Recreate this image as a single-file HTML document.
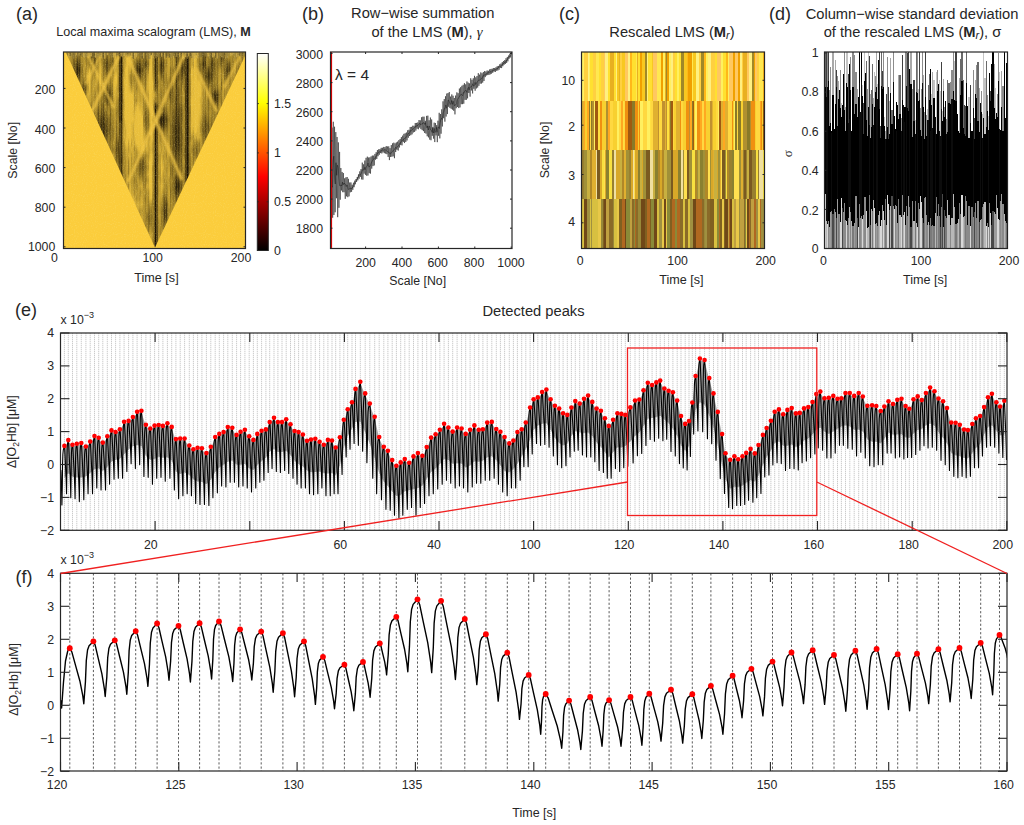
<!DOCTYPE html>
<html><head><meta charset="utf-8"><style>html,body{margin:0;padding:0;background:#fff;width:1024px;height:825px;overflow:hidden}svg{display:block}</style></head>
<body><svg width="1024" height="825" viewBox="0 0 1024 825" font-family="Liberation Sans, sans-serif">
<rect width="1024" height="825" fill="#fff"/>
<defs>
<linearGradient id="hot" x1="0" y1="1" x2="0" y2="0">
<stop offset="0" stop-color="#000"/><stop offset="0.375" stop-color="#f00"/><stop offset="0.75" stop-color="#ff0"/><stop offset="1" stop-color="#fff"/>
</linearGradient>
<filter id="bl1" filterUnits="userSpaceOnUse" x="0" y="0" width="1024" height="825"><feGaussianBlur stdDeviation="1.3"/></filter>
<filter id="bl2" filterUnits="userSpaceOnUse" x="0" y="0" width="1024" height="825"><feGaussianBlur stdDeviation="2.5"/></filter>
<filter id="bl07" filterUnits="userSpaceOnUse" x="0" y="0" width="1024" height="825"><feGaussianBlur stdDeviation="0.9"/></filter>
<filter id="bl05" filterUnits="userSpaceOnUse" x="0" y="0" width="1024" height="825"><feGaussianBlur stdDeviation="0.7"/></filter>
<filter id="noise" filterUnits="userSpaceOnUse" x="63" y="52" width="183" height="197"><feTurbulence type="fractalNoise" baseFrequency="0.9" numOctaves="1" seed="3" result="t"/><feColorMatrix type="matrix" values="0 0 0 0 1  0 0 0 0 0.85  0 0 0 0 0.3  1.6 0 0 0 -0.8"/></filter>
<clipPath id="tri"><polygon points="66,52.5 245,52.5 245,56 155,247.5"/></clipPath>
<clipPath id="boxa"><rect x="63.5" y="52" width="182" height="196.5"/></clipPath>
<clipPath id="boxe"><rect x="60.5" y="333" width="946.5" height="197.3"/></clipPath>
<clipPath id="boxf"><rect x="60.5" y="573.3" width="946.5" height="197.7"/></clipPath>
<clipPath id="boxb"><rect x="330.5" y="52" width="181.5" height="196.5"/></clipPath>
<clipPath id="boxd"><rect x="824.5" y="52" width="183" height="196.5"/></clipPath>
</defs>
<text x="27.0" y="20.3" font-size="18" text-anchor="middle" fill="#262626" >(a)</text>
<text x="153.5" y="36.2" font-size="12.6" text-anchor="middle" fill="#262626" >Local maxima scalogram (LMS), <tspan font-weight="bold">M</tspan></text>
<text x="313.0" y="20.3" font-size="18" text-anchor="middle" fill="#262626" >(b)</text>
<text x="422.7" y="18.4" font-size="14.7" text-anchor="middle" fill="#262626" >Row−wise summation</text>
<text x="427.0" y="36.8" font-size="14.7" text-anchor="middle" fill="#262626" >of the LMS (<tspan font-weight="bold">M</tspan>), <tspan font-family="Liberation Serif" font-style="italic">γ</tspan></text>
<text x="569.5" y="20.3" font-size="18" text-anchor="middle" fill="#262626" >(c)</text>
<text x="672.0" y="36.8" font-size="14.7" text-anchor="middle" fill="#262626" >Rescaled LMS (<tspan font-weight="bold">M</tspan><tspan font-style="italic" font-size="11" dy="2">r</tspan><tspan dy="-2">)</tspan></text>
<text x="780.0" y="20.3" font-size="18" text-anchor="middle" fill="#262626" >(d)</text>
<text x="912.0" y="18.8" font-size="14.7" text-anchor="middle" fill="#262626" >Column−wise standard deviation</text>
<text x="912.5" y="36.8" font-size="14.7" text-anchor="middle" fill="#262626" >of the rescaled LMS (<tspan font-weight="bold">M</tspan><tspan font-style="italic" font-size="11" dy="2">r</tspan><tspan dy="-2">), σ</tspan></text>
<text x="26.0" y="315.8" font-size="18" text-anchor="middle" fill="#262626" >(e)</text>
<text x="533.5" y="315.8" font-size="14.7" text-anchor="middle" fill="#262626" >Detected peaks</text>
<text x="24.0" y="583.4" font-size="18" text-anchor="middle" fill="#262626" >(f)</text>
<g clip-path="url(#boxa)">
<rect x="63.5" y="52" width="182" height="196.5" fill="#fbcd3c"/>
</g>
<g clip-path="url(#tri)">
<defs><linearGradient id="g0" gradientUnits="userSpaceOnUse" x1="0" y1="52" x2="0" y2="247.2"><stop offset="0.000" stop-color="#bc9930"/><stop offset="0.031" stop-color="#a7882b"/><stop offset="0.062" stop-color="#bf9c31"/><stop offset="0.094" stop-color="#ac8c2c"/><stop offset="0.125" stop-color="#b3922e"/><stop offset="0.156" stop-color="#c09c31"/><stop offset="0.188" stop-color="#ad8d2c"/><stop offset="0.219" stop-color="#c19d31"/><stop offset="0.250" stop-color="#b08f2d"/><stop offset="0.281" stop-color="#bf9c31"/><stop offset="0.312" stop-color="#be9b31"/><stop offset="0.344" stop-color="#b1902d"/><stop offset="0.375" stop-color="#a08229"/><stop offset="0.406" stop-color="#bd9a30"/><stop offset="0.438" stop-color="#b9972f"/><stop offset="0.469" stop-color="#a8892b"/><stop offset="0.500" stop-color="#9b7e27"/><stop offset="0.531" stop-color="#aa8b2b"/><stop offset="0.562" stop-color="#b2912d"/><stop offset="0.594" stop-color="#9a7d27"/><stop offset="0.625" stop-color="#c09d31"/><stop offset="0.656" stop-color="#9f8128"/><stop offset="0.688" stop-color="#b6942f"/><stop offset="0.719" stop-color="#bc9930"/><stop offset="0.750" stop-color="#bd9a30"/><stop offset="0.781" stop-color="#b6942e"/><stop offset="0.812" stop-color="#a18229"/><stop offset="0.844" stop-color="#bb9830"/><stop offset="0.875" stop-color="#aa8a2b"/><stop offset="0.906" stop-color="#a8882b"/><stop offset="0.938" stop-color="#b3922e"/><stop offset="0.969" stop-color="#ac8c2c"/><stop offset="1.000" stop-color="#c09c31"/></linearGradient><linearGradient id="g1" gradientUnits="userSpaceOnUse" x1="0" y1="52" x2="0" y2="247.2"><stop offset="0.000" stop-color="#c7a333"/><stop offset="0.031" stop-color="#b4922e"/><stop offset="0.062" stop-color="#be9b31"/><stop offset="0.094" stop-color="#c39f32"/><stop offset="0.125" stop-color="#b8962f"/><stop offset="0.156" stop-color="#bd9a30"/><stop offset="0.188" stop-color="#c39f32"/><stop offset="0.219" stop-color="#af8e2d"/><stop offset="0.250" stop-color="#b3922e"/><stop offset="0.281" stop-color="#c6a133"/><stop offset="0.312" stop-color="#b8962f"/><stop offset="0.344" stop-color="#ba9830"/><stop offset="0.375" stop-color="#ac8c2c"/><stop offset="0.406" stop-color="#b2912d"/><stop offset="0.438" stop-color="#c4a032"/><stop offset="0.469" stop-color="#a7882b"/><stop offset="0.500" stop-color="#cba634"/><stop offset="0.531" stop-color="#bf9b31"/><stop offset="0.562" stop-color="#b1902d"/><stop offset="0.594" stop-color="#caa534"/><stop offset="0.625" stop-color="#bc9930"/><stop offset="0.656" stop-color="#cea835"/><stop offset="0.688" stop-color="#b4932e"/><stop offset="0.719" stop-color="#b08f2d"/><stop offset="0.750" stop-color="#b8962f"/><stop offset="0.781" stop-color="#ac8c2c"/><stop offset="0.812" stop-color="#c39f32"/><stop offset="0.844" stop-color="#b3922e"/><stop offset="0.875" stop-color="#b7952f"/><stop offset="0.906" stop-color="#b8962f"/><stop offset="0.938" stop-color="#bd9a30"/><stop offset="0.969" stop-color="#ad8d2c"/><stop offset="1.000" stop-color="#a9892b"/></linearGradient><linearGradient id="g2" gradientUnits="userSpaceOnUse" x1="0" y1="52" x2="0" y2="247.2"><stop offset="0.000" stop-color="#9f8129"/><stop offset="0.031" stop-color="#b8962f"/><stop offset="0.062" stop-color="#9d8028"/><stop offset="0.094" stop-color="#a08229"/><stop offset="0.125" stop-color="#917625"/><stop offset="0.156" stop-color="#997c27"/><stop offset="0.188" stop-color="#af8e2d"/><stop offset="0.219" stop-color="#ab8b2c"/><stop offset="0.250" stop-color="#9f8128"/><stop offset="0.281" stop-color="#ba972f"/><stop offset="0.312" stop-color="#a7882b"/><stop offset="0.344" stop-color="#b4922e"/><stop offset="0.375" stop-color="#b6942e"/><stop offset="0.406" stop-color="#b8962f"/><stop offset="0.438" stop-color="#9b7d27"/><stop offset="0.469" stop-color="#b5932e"/><stop offset="0.500" stop-color="#b08f2d"/><stop offset="0.531" stop-color="#aa8a2b"/><stop offset="0.562" stop-color="#977a26"/><stop offset="0.594" stop-color="#b7952f"/><stop offset="0.625" stop-color="#a8882b"/><stop offset="0.656" stop-color="#a4852a"/><stop offset="0.688" stop-color="#967a26"/><stop offset="0.719" stop-color="#997c27"/><stop offset="0.750" stop-color="#977a26"/><stop offset="0.781" stop-color="#af8e2d"/><stop offset="0.812" stop-color="#a98a2b"/><stop offset="0.844" stop-color="#ac8c2c"/><stop offset="0.875" stop-color="#967926"/><stop offset="0.906" stop-color="#937725"/><stop offset="0.938" stop-color="#b4932e"/><stop offset="0.969" stop-color="#b3922e"/><stop offset="1.000" stop-color="#b1902d"/></linearGradient><linearGradient id="g3" gradientUnits="userSpaceOnUse" x1="0" y1="52" x2="0" y2="247.2"><stop offset="0.000" stop-color="#b3912e"/><stop offset="0.031" stop-color="#ae8e2c"/><stop offset="0.062" stop-color="#bb9830"/><stop offset="0.094" stop-color="#c6a133"/><stop offset="0.125" stop-color="#b5932e"/><stop offset="0.156" stop-color="#b7952f"/><stop offset="0.188" stop-color="#af8f2d"/><stop offset="0.219" stop-color="#a08129"/><stop offset="0.250" stop-color="#aa8b2b"/><stop offset="0.281" stop-color="#b2912d"/><stop offset="0.312" stop-color="#ad8d2c"/><stop offset="0.344" stop-color="#ab8b2c"/><stop offset="0.375" stop-color="#c5a032"/><stop offset="0.406" stop-color="#a28329"/><stop offset="0.438" stop-color="#a7872b"/><stop offset="0.469" stop-color="#a3842a"/><stop offset="0.500" stop-color="#a6872a"/><stop offset="0.531" stop-color="#b7952f"/><stop offset="0.562" stop-color="#b6952f"/><stop offset="0.594" stop-color="#c39f32"/><stop offset="0.625" stop-color="#ad8c2c"/><stop offset="0.656" stop-color="#c4a032"/><stop offset="0.688" stop-color="#c4a032"/><stop offset="0.719" stop-color="#be9b31"/><stop offset="0.750" stop-color="#c09d31"/><stop offset="0.781" stop-color="#b9972f"/><stop offset="0.812" stop-color="#c5a032"/><stop offset="0.844" stop-color="#c7a233"/><stop offset="0.875" stop-color="#c19d31"/><stop offset="0.906" stop-color="#c39f32"/><stop offset="0.938" stop-color="#b8962f"/><stop offset="0.969" stop-color="#c6a133"/><stop offset="1.000" stop-color="#a3842a"/></linearGradient><linearGradient id="g4" gradientUnits="userSpaceOnUse" x1="0" y1="52" x2="0" y2="247.2"><stop offset="0.000" stop-color="#ac8c2c"/><stop offset="0.031" stop-color="#a7872a"/><stop offset="0.062" stop-color="#a18229"/><stop offset="0.094" stop-color="#9f8129"/><stop offset="0.125" stop-color="#aa8a2b"/><stop offset="0.156" stop-color="#8f7324"/><stop offset="0.188" stop-color="#8a6f23"/><stop offset="0.219" stop-color="#a08229"/><stop offset="0.250" stop-color="#9f8129"/><stop offset="0.281" stop-color="#b08f2d"/><stop offset="0.312" stop-color="#af8e2d"/><stop offset="0.344" stop-color="#a5862a"/><stop offset="0.375" stop-color="#a8892b"/><stop offset="0.406" stop-color="#917525"/><stop offset="0.438" stop-color="#ad8c2c"/><stop offset="0.469" stop-color="#b2912e"/><stop offset="0.500" stop-color="#8c7124"/><stop offset="0.531" stop-color="#9e8028"/><stop offset="0.562" stop-color="#ad8d2c"/><stop offset="0.594" stop-color="#9d7f28"/><stop offset="0.625" stop-color="#b2912e"/><stop offset="0.656" stop-color="#9e8028"/><stop offset="0.688" stop-color="#8b7023"/><stop offset="0.719" stop-color="#907424"/><stop offset="0.750" stop-color="#977a26"/><stop offset="0.781" stop-color="#a9892b"/><stop offset="0.812" stop-color="#a4852a"/><stop offset="0.844" stop-color="#ac8c2c"/><stop offset="0.875" stop-color="#937725"/><stop offset="0.906" stop-color="#9d8028"/><stop offset="0.938" stop-color="#937725"/><stop offset="0.969" stop-color="#a6872a"/><stop offset="1.000" stop-color="#aa8a2b"/></linearGradient><linearGradient id="g5" gradientUnits="userSpaceOnUse" x1="0" y1="52" x2="0" y2="247.2"><stop offset="0.000" stop-color="#7e6620"/><stop offset="0.031" stop-color="#7f6620"/><stop offset="0.062" stop-color="#7b631f"/><stop offset="0.094" stop-color="#78601e"/><stop offset="0.125" stop-color="#7e6520"/><stop offset="0.156" stop-color="#987b27"/><stop offset="0.188" stop-color="#927625"/><stop offset="0.219" stop-color="#9a7d27"/><stop offset="0.250" stop-color="#a8882b"/><stop offset="0.281" stop-color="#a8882b"/><stop offset="0.312" stop-color="#9e8028"/><stop offset="0.344" stop-color="#9e8028"/><stop offset="0.375" stop-color="#8d7224"/><stop offset="0.406" stop-color="#826921"/><stop offset="0.438" stop-color="#977a26"/><stop offset="0.469" stop-color="#836921"/><stop offset="0.500" stop-color="#806720"/><stop offset="0.531" stop-color="#826921"/><stop offset="0.562" stop-color="#9a7d27"/><stop offset="0.594" stop-color="#a08229"/><stop offset="0.625" stop-color="#a08229"/><stop offset="0.656" stop-color="#a18329"/><stop offset="0.688" stop-color="#a18229"/><stop offset="0.719" stop-color="#8f7424"/><stop offset="0.750" stop-color="#846a21"/><stop offset="0.781" stop-color="#866c22"/><stop offset="0.812" stop-color="#957926"/><stop offset="0.844" stop-color="#8e7324"/><stop offset="0.875" stop-color="#886e23"/><stop offset="0.906" stop-color="#a6862a"/><stop offset="0.938" stop-color="#8e7324"/><stop offset="0.969" stop-color="#846a21"/><stop offset="1.000" stop-color="#896e23"/></linearGradient><linearGradient id="g6" gradientUnits="userSpaceOnUse" x1="0" y1="52" x2="0" y2="247.2"><stop offset="0.000" stop-color="#917625"/><stop offset="0.031" stop-color="#8e7324"/><stop offset="0.062" stop-color="#68531a"/><stop offset="0.094" stop-color="#6c561b"/><stop offset="0.125" stop-color="#69541a"/><stop offset="0.156" stop-color="#745d1d"/><stop offset="0.188" stop-color="#967926"/><stop offset="0.219" stop-color="#9a7d27"/><stop offset="0.250" stop-color="#856b22"/><stop offset="0.281" stop-color="#8e7324"/><stop offset="0.312" stop-color="#a5862a"/><stop offset="0.344" stop-color="#a7882b"/><stop offset="0.375" stop-color="#a6872a"/><stop offset="0.406" stop-color="#876d22"/><stop offset="0.438" stop-color="#8b7023"/><stop offset="0.469" stop-color="#a6872a"/><stop offset="0.500" stop-color="#8a7023"/><stop offset="0.531" stop-color="#846a21"/><stop offset="0.562" stop-color="#917525"/><stop offset="0.594" stop-color="#9e8028"/><stop offset="0.625" stop-color="#967926"/><stop offset="0.656" stop-color="#a7882b"/><stop offset="0.688" stop-color="#ac8c2c"/><stop offset="0.719" stop-color="#846b21"/><stop offset="0.750" stop-color="#927625"/><stop offset="0.781" stop-color="#977a26"/><stop offset="0.812" stop-color="#866c22"/><stop offset="0.844" stop-color="#9a7d27"/><stop offset="0.875" stop-color="#886e23"/><stop offset="0.906" stop-color="#8a7023"/><stop offset="0.938" stop-color="#a4852a"/><stop offset="0.969" stop-color="#a28329"/><stop offset="1.000" stop-color="#a08229"/></linearGradient><linearGradient id="g7" gradientUnits="userSpaceOnUse" x1="0" y1="52" x2="0" y2="247.2"><stop offset="0.000" stop-color="#9f8128"/><stop offset="0.031" stop-color="#8b7023"/><stop offset="0.062" stop-color="#5c4917"/><stop offset="0.094" stop-color="#4c3b13"/><stop offset="0.125" stop-color="#564415"/><stop offset="0.156" stop-color="#8c7123"/><stop offset="0.188" stop-color="#a6872a"/><stop offset="0.219" stop-color="#ac8c2c"/><stop offset="0.250" stop-color="#a18329"/><stop offset="0.281" stop-color="#b5932e"/><stop offset="0.312" stop-color="#a18229"/><stop offset="0.344" stop-color="#b2912d"/><stop offset="0.375" stop-color="#b1902d"/><stop offset="0.406" stop-color="#b1902d"/><stop offset="0.438" stop-color="#c6a133"/><stop offset="0.469" stop-color="#b4932e"/><stop offset="0.500" stop-color="#bf9c31"/><stop offset="0.531" stop-color="#c6a233"/><stop offset="0.562" stop-color="#a6862a"/><stop offset="0.594" stop-color="#bf9c31"/><stop offset="0.625" stop-color="#b3922e"/><stop offset="0.656" stop-color="#a9892b"/><stop offset="0.688" stop-color="#b08f2d"/><stop offset="0.719" stop-color="#b9972f"/><stop offset="0.750" stop-color="#b1902d"/><stop offset="0.781" stop-color="#b08f2d"/><stop offset="0.812" stop-color="#a6872a"/><stop offset="0.844" stop-color="#c29e32"/><stop offset="0.875" stop-color="#af8f2d"/><stop offset="0.906" stop-color="#bc9930"/><stop offset="0.938" stop-color="#bb9830"/><stop offset="0.969" stop-color="#a7872b"/><stop offset="1.000" stop-color="#b2902d"/></linearGradient><linearGradient id="g8" gradientUnits="userSpaceOnUse" x1="0" y1="52" x2="0" y2="247.2"><stop offset="0.000" stop-color="#866c22"/><stop offset="0.031" stop-color="#624e19"/><stop offset="0.062" stop-color="#3e300f"/><stop offset="0.094" stop-color="#271d09"/><stop offset="0.125" stop-color="#423310"/><stop offset="0.156" stop-color="#715a1c"/><stop offset="0.188" stop-color="#8b7023"/><stop offset="0.219" stop-color="#a08229"/><stop offset="0.250" stop-color="#a08129"/><stop offset="0.281" stop-color="#a28429"/><stop offset="0.312" stop-color="#8f7424"/><stop offset="0.344" stop-color="#997c27"/><stop offset="0.375" stop-color="#927625"/><stop offset="0.406" stop-color="#8f7424"/><stop offset="0.438" stop-color="#ab8b2c"/><stop offset="0.469" stop-color="#9f8128"/><stop offset="0.500" stop-color="#8f7424"/><stop offset="0.531" stop-color="#937725"/><stop offset="0.562" stop-color="#b08f2d"/><stop offset="0.594" stop-color="#b1902d"/><stop offset="0.625" stop-color="#a4852a"/><stop offset="0.656" stop-color="#b3922e"/><stop offset="0.688" stop-color="#ac8c2c"/><stop offset="0.719" stop-color="#b3922e"/><stop offset="0.750" stop-color="#9a7d27"/><stop offset="0.781" stop-color="#967926"/><stop offset="0.812" stop-color="#917525"/><stop offset="0.844" stop-color="#b08f2d"/><stop offset="0.875" stop-color="#987c27"/><stop offset="0.906" stop-color="#9b7d27"/><stop offset="0.938" stop-color="#b08f2d"/><stop offset="0.969" stop-color="#927625"/><stop offset="1.000" stop-color="#8e7324"/></linearGradient><linearGradient id="g9" gradientUnits="userSpaceOnUse" x1="0" y1="52" x2="0" y2="247.2"><stop offset="0.000" stop-color="#917525"/><stop offset="0.031" stop-color="#816821"/><stop offset="0.062" stop-color="#503f14"/><stop offset="0.094" stop-color="#35290d"/><stop offset="0.125" stop-color="#4e3e13"/><stop offset="0.156" stop-color="#8c7124"/><stop offset="0.188" stop-color="#a6872a"/><stop offset="0.219" stop-color="#af8e2d"/><stop offset="0.250" stop-color="#b9972f"/><stop offset="0.281" stop-color="#bf9c31"/><stop offset="0.312" stop-color="#ba9830"/><stop offset="0.344" stop-color="#aa8a2b"/><stop offset="0.375" stop-color="#c7a233"/><stop offset="0.406" stop-color="#b1902d"/><stop offset="0.438" stop-color="#b5942e"/><stop offset="0.469" stop-color="#c7a233"/><stop offset="0.500" stop-color="#ba9730"/><stop offset="0.531" stop-color="#ae8d2c"/><stop offset="0.562" stop-color="#b2912e"/><stop offset="0.594" stop-color="#c5a132"/><stop offset="0.625" stop-color="#9f8128"/><stop offset="0.656" stop-color="#a7882b"/><stop offset="0.688" stop-color="#a08129"/><stop offset="0.719" stop-color="#c39f32"/><stop offset="0.750" stop-color="#bd9a30"/><stop offset="0.781" stop-color="#c6a133"/><stop offset="0.812" stop-color="#a7882b"/><stop offset="0.844" stop-color="#bc9a30"/><stop offset="0.875" stop-color="#c29e32"/><stop offset="0.906" stop-color="#b6942f"/><stop offset="0.938" stop-color="#a28429"/><stop offset="0.969" stop-color="#a6872a"/><stop offset="1.000" stop-color="#bd9a30"/></linearGradient><linearGradient id="g10" gradientUnits="userSpaceOnUse" x1="0" y1="52" x2="0" y2="247.2"><stop offset="0.000" stop-color="#9b7e28"/><stop offset="0.031" stop-color="#937725"/><stop offset="0.062" stop-color="#735c1d"/><stop offset="0.094" stop-color="#735c1d"/><stop offset="0.125" stop-color="#866c22"/><stop offset="0.156" stop-color="#927625"/><stop offset="0.188" stop-color="#9c7f28"/><stop offset="0.219" stop-color="#b8962f"/><stop offset="0.250" stop-color="#a38429"/><stop offset="0.281" stop-color="#b1902d"/><stop offset="0.312" stop-color="#aa8a2b"/><stop offset="0.344" stop-color="#c8a333"/><stop offset="0.375" stop-color="#a8882b"/><stop offset="0.406" stop-color="#c8a433"/><stop offset="0.438" stop-color="#a8882b"/><stop offset="0.469" stop-color="#b8962f"/><stop offset="0.500" stop-color="#bd9a30"/><stop offset="0.531" stop-color="#b4932e"/><stop offset="0.562" stop-color="#a5862a"/><stop offset="0.594" stop-color="#c09d31"/><stop offset="0.625" stop-color="#c6a133"/><stop offset="0.656" stop-color="#b5942e"/><stop offset="0.688" stop-color="#c19e32"/><stop offset="0.719" stop-color="#c7a233"/><stop offset="0.750" stop-color="#c5a032"/><stop offset="0.781" stop-color="#c9a434"/><stop offset="0.812" stop-color="#c39f32"/><stop offset="0.844" stop-color="#be9b31"/><stop offset="0.875" stop-color="#bf9b31"/><stop offset="0.906" stop-color="#ac8c2c"/><stop offset="0.938" stop-color="#bf9c31"/><stop offset="0.969" stop-color="#b7952f"/><stop offset="1.000" stop-color="#c4a032"/></linearGradient><linearGradient id="g11" gradientUnits="userSpaceOnUse" x1="0" y1="52" x2="0" y2="247.2"><stop offset="0.000" stop-color="#bb9930"/><stop offset="0.031" stop-color="#a9892b"/><stop offset="0.062" stop-color="#a4852a"/><stop offset="0.094" stop-color="#876d22"/><stop offset="0.125" stop-color="#937725"/><stop offset="0.156" stop-color="#8f7424"/><stop offset="0.188" stop-color="#6f591c"/><stop offset="0.219" stop-color="#7f6720"/><stop offset="0.250" stop-color="#b7952f"/><stop offset="0.281" stop-color="#9f8129"/><stop offset="0.312" stop-color="#af8e2d"/><stop offset="0.344" stop-color="#ad8c2c"/><stop offset="0.375" stop-color="#9f8128"/><stop offset="0.406" stop-color="#b1902d"/><stop offset="0.438" stop-color="#ac8c2c"/><stop offset="0.469" stop-color="#a5862a"/><stop offset="0.500" stop-color="#997c27"/><stop offset="0.531" stop-color="#b3922e"/><stop offset="0.562" stop-color="#9f8128"/><stop offset="0.594" stop-color="#a4852a"/><stop offset="0.625" stop-color="#a7882b"/><stop offset="0.656" stop-color="#b08f2d"/><stop offset="0.688" stop-color="#b3912e"/><stop offset="0.719" stop-color="#bf9c31"/><stop offset="0.750" stop-color="#bc9930"/><stop offset="0.781" stop-color="#be9b31"/><stop offset="0.812" stop-color="#a38429"/><stop offset="0.844" stop-color="#b6952f"/><stop offset="0.875" stop-color="#ba9830"/><stop offset="0.906" stop-color="#be9a31"/><stop offset="0.938" stop-color="#9e8028"/><stop offset="0.969" stop-color="#9d7f28"/><stop offset="1.000" stop-color="#a5862a"/></linearGradient><linearGradient id="g12" gradientUnits="userSpaceOnUse" x1="0" y1="52" x2="0" y2="247.2"><stop offset="0.000" stop-color="#b9972f"/><stop offset="0.031" stop-color="#b5932e"/><stop offset="0.062" stop-color="#ac8c2c"/><stop offset="0.094" stop-color="#b6952f"/><stop offset="0.125" stop-color="#aa8a2b"/><stop offset="0.156" stop-color="#806720"/><stop offset="0.188" stop-color="#503f14"/><stop offset="0.219" stop-color="#77601e"/><stop offset="0.250" stop-color="#a8892b"/><stop offset="0.281" stop-color="#ba9830"/><stop offset="0.312" stop-color="#9d7f28"/><stop offset="0.344" stop-color="#b7952f"/><stop offset="0.375" stop-color="#b5942e"/><stop offset="0.406" stop-color="#c4a032"/><stop offset="0.438" stop-color="#b4932e"/><stop offset="0.469" stop-color="#b1902d"/><stop offset="0.500" stop-color="#b08f2d"/><stop offset="0.531" stop-color="#bc9930"/><stop offset="0.562" stop-color="#b08f2d"/><stop offset="0.594" stop-color="#c4a032"/><stop offset="0.625" stop-color="#b9972f"/><stop offset="0.656" stop-color="#c19d31"/><stop offset="0.688" stop-color="#b4922e"/><stop offset="0.719" stop-color="#c39f32"/><stop offset="0.750" stop-color="#c39f32"/><stop offset="0.781" stop-color="#b8962f"/><stop offset="0.812" stop-color="#bb9830"/><stop offset="0.844" stop-color="#ac8c2c"/><stop offset="0.875" stop-color="#af8e2d"/><stop offset="0.906" stop-color="#a5862a"/><stop offset="0.938" stop-color="#a98a2b"/><stop offset="0.969" stop-color="#a7882b"/><stop offset="1.000" stop-color="#a08229"/></linearGradient><linearGradient id="g13" gradientUnits="userSpaceOnUse" x1="0" y1="52" x2="0" y2="247.2"><stop offset="0.000" stop-color="#b2912e"/><stop offset="0.031" stop-color="#957926"/><stop offset="0.062" stop-color="#bc9930"/><stop offset="0.094" stop-color="#ab8b2c"/><stop offset="0.125" stop-color="#aa8a2b"/><stop offset="0.156" stop-color="#947826"/><stop offset="0.188" stop-color="#614d18"/><stop offset="0.219" stop-color="#816821"/><stop offset="0.250" stop-color="#a4862a"/><stop offset="0.281" stop-color="#a38429"/><stop offset="0.312" stop-color="#9e8028"/><stop offset="0.344" stop-color="#b9962f"/><stop offset="0.375" stop-color="#a9892b"/><stop offset="0.406" stop-color="#a98a2b"/><stop offset="0.438" stop-color="#9c7e28"/><stop offset="0.469" stop-color="#9d8028"/><stop offset="0.500" stop-color="#9d7f28"/><stop offset="0.531" stop-color="#a7872b"/><stop offset="0.562" stop-color="#9a7d27"/><stop offset="0.594" stop-color="#a38429"/><stop offset="0.625" stop-color="#a28429"/><stop offset="0.656" stop-color="#b5942e"/><stop offset="0.688" stop-color="#be9a31"/><stop offset="0.719" stop-color="#b9972f"/><stop offset="0.750" stop-color="#b08f2d"/><stop offset="0.781" stop-color="#bb9830"/><stop offset="0.812" stop-color="#9c7f28"/><stop offset="0.844" stop-color="#a8882b"/><stop offset="0.875" stop-color="#a5862a"/><stop offset="0.906" stop-color="#a5862a"/><stop offset="0.938" stop-color="#a38429"/><stop offset="0.969" stop-color="#ab8b2c"/><stop offset="1.000" stop-color="#bf9b31"/></linearGradient><linearGradient id="g14" gradientUnits="userSpaceOnUse" x1="0" y1="52" x2="0" y2="247.2"><stop offset="0.000" stop-color="#8d7224"/><stop offset="0.031" stop-color="#8b7023"/><stop offset="0.062" stop-color="#997c27"/><stop offset="0.094" stop-color="#ae8d2c"/><stop offset="0.125" stop-color="#c9a434"/><stop offset="0.156" stop-color="#9b7e27"/><stop offset="0.188" stop-color="#967a26"/><stop offset="0.219" stop-color="#a98a2b"/><stop offset="0.250" stop-color="#aa8a2b"/><stop offset="0.281" stop-color="#927625"/><stop offset="0.312" stop-color="#a3842a"/><stop offset="0.344" stop-color="#8b7023"/><stop offset="0.375" stop-color="#816821"/><stop offset="0.406" stop-color="#947826"/><stop offset="0.438" stop-color="#997c27"/><stop offset="0.469" stop-color="#957926"/><stop offset="0.500" stop-color="#8d7224"/><stop offset="0.531" stop-color="#8a7023"/><stop offset="0.562" stop-color="#907525"/><stop offset="0.594" stop-color="#8f7424"/><stop offset="0.625" stop-color="#a7872a"/><stop offset="0.656" stop-color="#a4852a"/><stop offset="0.688" stop-color="#9f8129"/><stop offset="0.719" stop-color="#8b7023"/><stop offset="0.750" stop-color="#9d8028"/><stop offset="0.781" stop-color="#927625"/><stop offset="0.812" stop-color="#a98a2b"/><stop offset="0.844" stop-color="#a7882b"/><stop offset="0.875" stop-color="#9f8128"/><stop offset="0.906" stop-color="#8e7324"/><stop offset="0.938" stop-color="#8d7224"/><stop offset="0.969" stop-color="#8e7324"/><stop offset="1.000" stop-color="#9e8028"/></linearGradient><linearGradient id="g15" gradientUnits="userSpaceOnUse" x1="0" y1="52" x2="0" y2="247.2"><stop offset="0.000" stop-color="#a4852a"/><stop offset="0.031" stop-color="#7c641f"/><stop offset="0.062" stop-color="#a6872a"/><stop offset="0.094" stop-color="#c5a132"/><stop offset="0.125" stop-color="#e8be3c"/><stop offset="0.156" stop-color="#c9a434"/><stop offset="0.188" stop-color="#bc9930"/><stop offset="0.219" stop-color="#d7b037"/><stop offset="0.250" stop-color="#bb9930"/><stop offset="0.281" stop-color="#a18229"/><stop offset="0.312" stop-color="#937725"/><stop offset="0.344" stop-color="#a4862a"/><stop offset="0.375" stop-color="#aa8a2b"/><stop offset="0.406" stop-color="#ac8c2c"/><stop offset="0.438" stop-color="#8f7424"/><stop offset="0.469" stop-color="#ae8d2c"/><stop offset="0.500" stop-color="#a08129"/><stop offset="0.531" stop-color="#b2912e"/><stop offset="0.562" stop-color="#a38429"/><stop offset="0.594" stop-color="#917525"/><stop offset="0.625" stop-color="#b3922e"/><stop offset="0.656" stop-color="#977a26"/><stop offset="0.688" stop-color="#a3852a"/><stop offset="0.719" stop-color="#947826"/><stop offset="0.750" stop-color="#9b7e28"/><stop offset="0.781" stop-color="#af8e2d"/><stop offset="0.812" stop-color="#937725"/><stop offset="0.844" stop-color="#a4852a"/><stop offset="0.875" stop-color="#b7952f"/><stop offset="0.906" stop-color="#b8962f"/><stop offset="0.938" stop-color="#a4852a"/><stop offset="0.969" stop-color="#a6872a"/><stop offset="1.000" stop-color="#ac8c2c"/></linearGradient><linearGradient id="g16" gradientUnits="userSpaceOnUse" x1="0" y1="52" x2="0" y2="247.2"><stop offset="0.000" stop-color="#b6942e"/><stop offset="0.031" stop-color="#6f591c"/><stop offset="0.062" stop-color="#8c7123"/><stop offset="0.094" stop-color="#e8be3c"/><stop offset="0.125" stop-color="#e8be3c"/><stop offset="0.156" stop-color="#e8be3c"/><stop offset="0.188" stop-color="#e8be3c"/><stop offset="0.219" stop-color="#cca634"/><stop offset="0.250" stop-color="#c4a032"/><stop offset="0.281" stop-color="#b08f2d"/><stop offset="0.312" stop-color="#c09d31"/><stop offset="0.344" stop-color="#b8952f"/><stop offset="0.375" stop-color="#b4932e"/><stop offset="0.406" stop-color="#9c7f28"/><stop offset="0.438" stop-color="#ae8d2c"/><stop offset="0.469" stop-color="#b9972f"/><stop offset="0.500" stop-color="#b8962f"/><stop offset="0.531" stop-color="#c09c31"/><stop offset="0.562" stop-color="#c9a434"/><stop offset="0.594" stop-color="#c7a333"/><stop offset="0.625" stop-color="#a98a2b"/><stop offset="0.656" stop-color="#c09c31"/><stop offset="0.688" stop-color="#a5862a"/><stop offset="0.719" stop-color="#c19e32"/><stop offset="0.750" stop-color="#c19d31"/><stop offset="0.781" stop-color="#b7952f"/><stop offset="0.812" stop-color="#c4a032"/><stop offset="0.844" stop-color="#bc9930"/><stop offset="0.875" stop-color="#a4852a"/><stop offset="0.906" stop-color="#a7882b"/><stop offset="0.938" stop-color="#aa8a2b"/><stop offset="0.969" stop-color="#b2912d"/><stop offset="1.000" stop-color="#a6872a"/></linearGradient><linearGradient id="g17" gradientUnits="userSpaceOnUse" x1="0" y1="52" x2="0" y2="247.2"><stop offset="0.000" stop-color="#876d22"/><stop offset="0.031" stop-color="#5b4817"/><stop offset="0.062" stop-color="#866c22"/><stop offset="0.094" stop-color="#9e8128"/><stop offset="0.125" stop-color="#b6942e"/><stop offset="0.156" stop-color="#ac8c2c"/><stop offset="0.188" stop-color="#aa8a2b"/><stop offset="0.219" stop-color="#ae8e2c"/><stop offset="0.250" stop-color="#ad8d2c"/><stop offset="0.281" stop-color="#816821"/><stop offset="0.312" stop-color="#9a7d27"/><stop offset="0.344" stop-color="#886e22"/><stop offset="0.375" stop-color="#8a7023"/><stop offset="0.406" stop-color="#8c7123"/><stop offset="0.438" stop-color="#7d6520"/><stop offset="0.469" stop-color="#765f1e"/><stop offset="0.500" stop-color="#957926"/><stop offset="0.531" stop-color="#876d22"/><stop offset="0.562" stop-color="#967926"/><stop offset="0.594" stop-color="#8b7123"/><stop offset="0.625" stop-color="#927625"/><stop offset="0.656" stop-color="#9c7e28"/><stop offset="0.688" stop-color="#9c7e28"/><stop offset="0.719" stop-color="#9a7d27"/><stop offset="0.750" stop-color="#7d6520"/><stop offset="0.781" stop-color="#8e7324"/><stop offset="0.812" stop-color="#997c27"/><stop offset="0.844" stop-color="#7d6520"/><stop offset="0.875" stop-color="#79621f"/><stop offset="0.906" stop-color="#907425"/><stop offset="0.938" stop-color="#9d7f28"/><stop offset="0.969" stop-color="#9b7d27"/><stop offset="1.000" stop-color="#9f8128"/></linearGradient><linearGradient id="g18" gradientUnits="userSpaceOnUse" x1="0" y1="52" x2="0" y2="247.2"><stop offset="0.000" stop-color="#b7952f"/><stop offset="0.031" stop-color="#967926"/><stop offset="0.062" stop-color="#8b7123"/><stop offset="0.094" stop-color="#987b27"/><stop offset="0.125" stop-color="#a5862a"/><stop offset="0.156" stop-color="#b1902d"/><stop offset="0.188" stop-color="#bd9a30"/><stop offset="0.219" stop-color="#b8962f"/><stop offset="0.250" stop-color="#af8e2d"/><stop offset="0.281" stop-color="#af8e2d"/><stop offset="0.312" stop-color="#a9892b"/><stop offset="0.344" stop-color="#ac8c2c"/><stop offset="0.375" stop-color="#a08229"/><stop offset="0.406" stop-color="#876d22"/><stop offset="0.438" stop-color="#aa8a2b"/><stop offset="0.469" stop-color="#a28429"/><stop offset="0.500" stop-color="#a28429"/><stop offset="0.531" stop-color="#9c7e28"/><stop offset="0.562" stop-color="#b8962f"/><stop offset="0.594" stop-color="#b6942f"/><stop offset="0.625" stop-color="#b7952f"/><stop offset="0.656" stop-color="#b1902d"/><stop offset="0.688" stop-color="#af8e2d"/><stop offset="0.719" stop-color="#9a7d27"/><stop offset="0.750" stop-color="#9e8028"/><stop offset="0.781" stop-color="#9d8028"/><stop offset="0.812" stop-color="#c09d31"/><stop offset="0.844" stop-color="#c09c31"/><stop offset="0.875" stop-color="#a4852a"/><stop offset="0.906" stop-color="#9c7f28"/><stop offset="0.938" stop-color="#ae8d2c"/><stop offset="0.969" stop-color="#a9892b"/><stop offset="1.000" stop-color="#c19e31"/></linearGradient><linearGradient id="g19" gradientUnits="userSpaceOnUse" x1="0" y1="52" x2="0" y2="247.2"><stop offset="0.000" stop-color="#8b7023"/><stop offset="0.031" stop-color="#67521a"/><stop offset="0.062" stop-color="#4a3a12"/><stop offset="0.094" stop-color="#6a541b"/><stop offset="0.125" stop-color="#ad8c2c"/><stop offset="0.156" stop-color="#be9b31"/><stop offset="0.188" stop-color="#bb9830"/><stop offset="0.219" stop-color="#aa8a2b"/><stop offset="0.250" stop-color="#a18229"/><stop offset="0.281" stop-color="#917525"/><stop offset="0.312" stop-color="#927625"/><stop offset="0.344" stop-color="#8c7123"/><stop offset="0.375" stop-color="#826821"/><stop offset="0.406" stop-color="#8c7123"/><stop offset="0.438" stop-color="#8f7424"/><stop offset="0.469" stop-color="#ab8b2c"/><stop offset="0.500" stop-color="#977b26"/><stop offset="0.531" stop-color="#b2912d"/><stop offset="0.562" stop-color="#987b27"/><stop offset="0.594" stop-color="#a4852a"/><stop offset="0.625" stop-color="#b2912e"/><stop offset="0.656" stop-color="#b9972f"/><stop offset="0.688" stop-color="#b4932e"/><stop offset="0.719" stop-color="#a5862a"/><stop offset="0.750" stop-color="#a28329"/><stop offset="0.781" stop-color="#ba9830"/><stop offset="0.812" stop-color="#bc9930"/><stop offset="0.844" stop-color="#a9892b"/><stop offset="0.875" stop-color="#a7872b"/><stop offset="0.906" stop-color="#af8e2d"/><stop offset="0.938" stop-color="#b6942e"/><stop offset="0.969" stop-color="#a6872a"/><stop offset="1.000" stop-color="#be9b31"/></linearGradient><linearGradient id="g20" gradientUnits="userSpaceOnUse" x1="0" y1="52" x2="0" y2="247.2"><stop offset="0.000" stop-color="#a18229"/><stop offset="0.031" stop-color="#67521a"/><stop offset="0.062" stop-color="#503f14"/><stop offset="0.094" stop-color="#755e1e"/><stop offset="0.125" stop-color="#b3922e"/><stop offset="0.156" stop-color="#c6a133"/><stop offset="0.188" stop-color="#be9b31"/><stop offset="0.219" stop-color="#9c7e28"/><stop offset="0.250" stop-color="#a28329"/><stop offset="0.281" stop-color="#aa8a2b"/><stop offset="0.312" stop-color="#a7872b"/><stop offset="0.344" stop-color="#886e23"/><stop offset="0.375" stop-color="#7a621f"/><stop offset="0.406" stop-color="#816821"/><stop offset="0.438" stop-color="#917525"/><stop offset="0.469" stop-color="#927625"/><stop offset="0.500" stop-color="#937725"/><stop offset="0.531" stop-color="#b5932e"/><stop offset="0.562" stop-color="#c09d31"/><stop offset="0.594" stop-color="#b5932e"/><stop offset="0.625" stop-color="#b2912d"/><stop offset="0.656" stop-color="#a7882b"/><stop offset="0.688" stop-color="#bb9930"/><stop offset="0.719" stop-color="#a38429"/><stop offset="0.750" stop-color="#a5862a"/><stop offset="0.781" stop-color="#af8e2d"/><stop offset="0.812" stop-color="#bb9830"/><stop offset="0.844" stop-color="#9b7e28"/><stop offset="0.875" stop-color="#b7952f"/><stop offset="0.906" stop-color="#a28329"/><stop offset="0.938" stop-color="#ba9730"/><stop offset="0.969" stop-color="#ba9830"/><stop offset="1.000" stop-color="#a4852a"/></linearGradient><linearGradient id="g21" gradientUnits="userSpaceOnUse" x1="0" y1="52" x2="0" y2="247.2"><stop offset="0.000" stop-color="#977a26"/><stop offset="0.031" stop-color="#957926"/><stop offset="0.062" stop-color="#957926"/><stop offset="0.094" stop-color="#b7952f"/><stop offset="0.125" stop-color="#d0aa35"/><stop offset="0.156" stop-color="#c29e32"/><stop offset="0.188" stop-color="#a7872b"/><stop offset="0.219" stop-color="#be9b31"/><stop offset="0.250" stop-color="#ad8d2c"/><stop offset="0.281" stop-color="#a9892b"/><stop offset="0.312" stop-color="#7f6620"/><stop offset="0.344" stop-color="#846b21"/><stop offset="0.375" stop-color="#78611e"/><stop offset="0.406" stop-color="#79611e"/><stop offset="0.438" stop-color="#7f6620"/><stop offset="0.469" stop-color="#826921"/><stop offset="0.500" stop-color="#917525"/><stop offset="0.531" stop-color="#a08229"/><stop offset="0.562" stop-color="#997c27"/><stop offset="0.594" stop-color="#9d7f28"/><stop offset="0.625" stop-color="#b6942f"/><stop offset="0.656" stop-color="#bc9930"/><stop offset="0.688" stop-color="#9d7f28"/><stop offset="0.719" stop-color="#a5862a"/><stop offset="0.750" stop-color="#c29f32"/><stop offset="0.781" stop-color="#a8892b"/><stop offset="0.812" stop-color="#b4932e"/><stop offset="0.844" stop-color="#b4932e"/><stop offset="0.875" stop-color="#b6942f"/><stop offset="0.906" stop-color="#bd9a30"/><stop offset="0.938" stop-color="#c4a032"/><stop offset="0.969" stop-color="#b8962f"/><stop offset="1.000" stop-color="#b5942e"/></linearGradient><linearGradient id="g22" gradientUnits="userSpaceOnUse" x1="0" y1="52" x2="0" y2="247.2"><stop offset="0.000" stop-color="#9c7f28"/><stop offset="0.031" stop-color="#7d641f"/><stop offset="0.062" stop-color="#a7882b"/><stop offset="0.094" stop-color="#bb9930"/><stop offset="0.125" stop-color="#b5942e"/><stop offset="0.156" stop-color="#a6862a"/><stop offset="0.188" stop-color="#9f8128"/><stop offset="0.219" stop-color="#a18329"/><stop offset="0.250" stop-color="#886e22"/><stop offset="0.281" stop-color="#816821"/><stop offset="0.312" stop-color="#604c18"/><stop offset="0.344" stop-color="#614d18"/><stop offset="0.375" stop-color="#503f14"/><stop offset="0.406" stop-color="#463711"/><stop offset="0.438" stop-color="#66521a"/><stop offset="0.469" stop-color="#715a1c"/><stop offset="0.500" stop-color="#725c1d"/><stop offset="0.531" stop-color="#7d641f"/><stop offset="0.562" stop-color="#9e8028"/><stop offset="0.594" stop-color="#a08229"/><stop offset="0.625" stop-color="#9f8128"/><stop offset="0.656" stop-color="#7c641f"/><stop offset="0.688" stop-color="#977a26"/><stop offset="0.719" stop-color="#836a21"/><stop offset="0.750" stop-color="#7d641f"/><stop offset="0.781" stop-color="#947826"/><stop offset="0.812" stop-color="#967a26"/><stop offset="0.844" stop-color="#7a621f"/><stop offset="0.875" stop-color="#886e23"/><stop offset="0.906" stop-color="#977a26"/><stop offset="0.938" stop-color="#846b21"/><stop offset="0.969" stop-color="#957826"/><stop offset="1.000" stop-color="#967a26"/></linearGradient><linearGradient id="g23" gradientUnits="userSpaceOnUse" x1="0" y1="52" x2="0" y2="247.2"><stop offset="0.000" stop-color="#b5932e"/><stop offset="0.031" stop-color="#b5932e"/><stop offset="0.062" stop-color="#d2ac36"/><stop offset="0.094" stop-color="#e0b739"/><stop offset="0.125" stop-color="#e8be3c"/><stop offset="0.156" stop-color="#e8be3c"/><stop offset="0.188" stop-color="#cea835"/><stop offset="0.219" stop-color="#ac8c2c"/><stop offset="0.250" stop-color="#a28429"/><stop offset="0.281" stop-color="#a6872a"/><stop offset="0.312" stop-color="#8e7324"/><stop offset="0.344" stop-color="#6a541a"/><stop offset="0.375" stop-color="#534215"/><stop offset="0.406" stop-color="#4e3d13"/><stop offset="0.438" stop-color="#715b1c"/><stop offset="0.469" stop-color="#816821"/><stop offset="0.500" stop-color="#9c7e28"/><stop offset="0.531" stop-color="#a7882b"/><stop offset="0.562" stop-color="#b08f2d"/><stop offset="0.594" stop-color="#b9972f"/><stop offset="0.625" stop-color="#c5a132"/><stop offset="0.656" stop-color="#c6a133"/><stop offset="0.688" stop-color="#c4a032"/><stop offset="0.719" stop-color="#b2912e"/><stop offset="0.750" stop-color="#cfa935"/><stop offset="0.781" stop-color="#cba534"/><stop offset="0.812" stop-color="#b4922e"/><stop offset="0.844" stop-color="#c9a433"/><stop offset="0.875" stop-color="#d0aa35"/><stop offset="0.906" stop-color="#d1ab36"/><stop offset="0.938" stop-color="#bc9930"/><stop offset="0.969" stop-color="#c5a133"/><stop offset="1.000" stop-color="#aa8a2b"/></linearGradient><linearGradient id="g24" gradientUnits="userSpaceOnUse" x1="0" y1="52" x2="0" y2="247.2"><stop offset="0.000" stop-color="#7d6520"/><stop offset="0.031" stop-color="#9f8128"/><stop offset="0.062" stop-color="#b4922e"/><stop offset="0.094" stop-color="#c8a333"/><stop offset="0.125" stop-color="#c19d31"/><stop offset="0.156" stop-color="#a98a2b"/><stop offset="0.188" stop-color="#9c7e28"/><stop offset="0.219" stop-color="#957926"/><stop offset="0.250" stop-color="#8c7123"/><stop offset="0.281" stop-color="#775f1e"/><stop offset="0.312" stop-color="#614d18"/><stop offset="0.344" stop-color="#483812"/><stop offset="0.375" stop-color="#372b0d"/><stop offset="0.406" stop-color="#3a2d0e"/><stop offset="0.438" stop-color="#554315"/><stop offset="0.469" stop-color="#5e4b17"/><stop offset="0.500" stop-color="#836a21"/><stop offset="0.531" stop-color="#866c22"/><stop offset="0.562" stop-color="#937725"/><stop offset="0.594" stop-color="#866c22"/><stop offset="0.625" stop-color="#9d7f28"/><stop offset="0.656" stop-color="#9b7e27"/><stop offset="0.688" stop-color="#9b7e28"/><stop offset="0.719" stop-color="#9f8129"/><stop offset="0.750" stop-color="#816821"/><stop offset="0.781" stop-color="#8e7224"/><stop offset="0.812" stop-color="#987b27"/><stop offset="0.844" stop-color="#957926"/><stop offset="0.875" stop-color="#7d641f"/><stop offset="0.906" stop-color="#907525"/><stop offset="0.938" stop-color="#9c7e28"/><stop offset="0.969" stop-color="#846b21"/><stop offset="1.000" stop-color="#8a7023"/></linearGradient><linearGradient id="g25" gradientUnits="userSpaceOnUse" x1="0" y1="52" x2="0" y2="247.2"><stop offset="0.000" stop-color="#987b27"/><stop offset="0.031" stop-color="#856c22"/><stop offset="0.062" stop-color="#7c641f"/><stop offset="0.094" stop-color="#886e23"/><stop offset="0.125" stop-color="#917525"/><stop offset="0.156" stop-color="#b08f2d"/><stop offset="0.188" stop-color="#8e7324"/><stop offset="0.219" stop-color="#816821"/><stop offset="0.250" stop-color="#836a21"/><stop offset="0.281" stop-color="#66511a"/><stop offset="0.312" stop-color="#5f4b18"/><stop offset="0.344" stop-color="#413310"/><stop offset="0.375" stop-color="#392c0e"/><stop offset="0.406" stop-color="#35280d"/><stop offset="0.438" stop-color="#4b3b13"/><stop offset="0.469" stop-color="#69541a"/><stop offset="0.500" stop-color="#6e581c"/><stop offset="0.531" stop-color="#725c1d"/><stop offset="0.562" stop-color="#997c27"/><stop offset="0.594" stop-color="#876d22"/><stop offset="0.625" stop-color="#866c22"/><stop offset="0.656" stop-color="#977a26"/><stop offset="0.688" stop-color="#917525"/><stop offset="0.719" stop-color="#9a7d27"/><stop offset="0.750" stop-color="#977b27"/><stop offset="0.781" stop-color="#957926"/><stop offset="0.812" stop-color="#876d22"/><stop offset="0.844" stop-color="#856b22"/><stop offset="0.875" stop-color="#977b27"/><stop offset="0.906" stop-color="#9f8129"/><stop offset="0.938" stop-color="#927625"/><stop offset="0.969" stop-color="#846a21"/><stop offset="1.000" stop-color="#987b27"/></linearGradient><linearGradient id="g26" gradientUnits="userSpaceOnUse" x1="0" y1="52" x2="0" y2="247.2"><stop offset="0.000" stop-color="#aa8a2b"/><stop offset="0.031" stop-color="#806720"/><stop offset="0.062" stop-color="#77601e"/><stop offset="0.094" stop-color="#8e7324"/><stop offset="0.125" stop-color="#ac8c2c"/><stop offset="0.156" stop-color="#b3922e"/><stop offset="0.188" stop-color="#8d7224"/><stop offset="0.219" stop-color="#68531a"/><stop offset="0.250" stop-color="#856b22"/><stop offset="0.281" stop-color="#9f8128"/><stop offset="0.312" stop-color="#745d1d"/><stop offset="0.344" stop-color="#5d4a17"/><stop offset="0.375" stop-color="#493912"/><stop offset="0.406" stop-color="#4a3a12"/><stop offset="0.438" stop-color="#554315"/><stop offset="0.469" stop-color="#816821"/><stop offset="0.500" stop-color="#937725"/><stop offset="0.531" stop-color="#aa8a2b"/><stop offset="0.562" stop-color="#ae8e2d"/><stop offset="0.594" stop-color="#9f8128"/><stop offset="0.625" stop-color="#9a7c27"/><stop offset="0.656" stop-color="#b4922e"/><stop offset="0.688" stop-color="#bb9830"/><stop offset="0.719" stop-color="#a5862a"/><stop offset="0.750" stop-color="#ba9830"/><stop offset="0.781" stop-color="#c39f32"/><stop offset="0.812" stop-color="#9e8028"/><stop offset="0.844" stop-color="#b1902d"/><stop offset="0.875" stop-color="#a18329"/><stop offset="0.906" stop-color="#b2912d"/><stop offset="0.938" stop-color="#9e8128"/><stop offset="0.969" stop-color="#b08f2d"/><stop offset="1.000" stop-color="#bc9930"/></linearGradient><linearGradient id="g27" gradientUnits="userSpaceOnUse" x1="0" y1="52" x2="0" y2="247.2"><stop offset="0.000" stop-color="#a08229"/><stop offset="0.031" stop-color="#755e1d"/><stop offset="0.062" stop-color="#4f3e13"/><stop offset="0.094" stop-color="#68531a"/><stop offset="0.125" stop-color="#8b7023"/><stop offset="0.156" stop-color="#b5942e"/><stop offset="0.188" stop-color="#806720"/><stop offset="0.219" stop-color="#4a3a12"/><stop offset="0.250" stop-color="#665119"/><stop offset="0.281" stop-color="#a18229"/><stop offset="0.312" stop-color="#7d6520"/><stop offset="0.344" stop-color="#745d1d"/><stop offset="0.375" stop-color="#584616"/><stop offset="0.406" stop-color="#544215"/><stop offset="0.438" stop-color="#645019"/><stop offset="0.469" stop-color="#957826"/><stop offset="0.500" stop-color="#b2912d"/><stop offset="0.531" stop-color="#a38429"/><stop offset="0.562" stop-color="#a7882b"/><stop offset="0.594" stop-color="#bd9a30"/><stop offset="0.625" stop-color="#d0aa35"/><stop offset="0.656" stop-color="#ac8c2c"/><stop offset="0.688" stop-color="#c29e32"/><stop offset="0.719" stop-color="#ad8d2c"/><stop offset="0.750" stop-color="#b9962f"/><stop offset="0.781" stop-color="#b08f2d"/><stop offset="0.812" stop-color="#cca634"/><stop offset="0.844" stop-color="#b2912d"/><stop offset="0.875" stop-color="#c9a434"/><stop offset="0.906" stop-color="#c19e32"/><stop offset="0.938" stop-color="#af8f2d"/><stop offset="0.969" stop-color="#b08f2d"/><stop offset="1.000" stop-color="#cba534"/></linearGradient><linearGradient id="g28" gradientUnits="userSpaceOnUse" x1="0" y1="52" x2="0" y2="247.2"><stop offset="0.000" stop-color="#9d7f28"/><stop offset="0.031" stop-color="#715b1d"/><stop offset="0.062" stop-color="#524114"/><stop offset="0.094" stop-color="#614d18"/><stop offset="0.125" stop-color="#8c7123"/><stop offset="0.156" stop-color="#9c7f28"/><stop offset="0.188" stop-color="#645019"/><stop offset="0.219" stop-color="#2f230b"/><stop offset="0.250" stop-color="#4b3b12"/><stop offset="0.281" stop-color="#8b7023"/><stop offset="0.312" stop-color="#997c27"/><stop offset="0.344" stop-color="#6b561b"/><stop offset="0.375" stop-color="#6c561b"/><stop offset="0.406" stop-color="#634f19"/><stop offset="0.438" stop-color="#745d1d"/><stop offset="0.469" stop-color="#896e23"/><stop offset="0.500" stop-color="#a7882b"/><stop offset="0.531" stop-color="#af8e2d"/><stop offset="0.562" stop-color="#ad8d2c"/><stop offset="0.594" stop-color="#b6942e"/><stop offset="0.625" stop-color="#ac8c2c"/><stop offset="0.656" stop-color="#b5942e"/><stop offset="0.688" stop-color="#b6942e"/><stop offset="0.719" stop-color="#c7a233"/><stop offset="0.750" stop-color="#ae8e2c"/><stop offset="0.781" stop-color="#b4922e"/><stop offset="0.812" stop-color="#be9b31"/><stop offset="0.844" stop-color="#a8892b"/><stop offset="0.875" stop-color="#a8882b"/><stop offset="0.906" stop-color="#b5932e"/><stop offset="0.938" stop-color="#c09d31"/><stop offset="0.969" stop-color="#b4932e"/><stop offset="1.000" stop-color="#c39f32"/></linearGradient><linearGradient id="g29" gradientUnits="userSpaceOnUse" x1="0" y1="52" x2="0" y2="247.2"><stop offset="0.000" stop-color="#aa8a2b"/><stop offset="0.031" stop-color="#9b7e28"/><stop offset="0.062" stop-color="#7c631f"/><stop offset="0.094" stop-color="#806720"/><stop offset="0.125" stop-color="#aa8a2b"/><stop offset="0.156" stop-color="#a5862a"/><stop offset="0.188" stop-color="#806720"/><stop offset="0.219" stop-color="#372a0d"/><stop offset="0.250" stop-color="#524114"/><stop offset="0.281" stop-color="#9a7c27"/><stop offset="0.312" stop-color="#a6872a"/><stop offset="0.344" stop-color="#856b22"/><stop offset="0.375" stop-color="#7c641f"/><stop offset="0.406" stop-color="#6e581c"/><stop offset="0.438" stop-color="#917525"/><stop offset="0.469" stop-color="#8d7224"/><stop offset="0.500" stop-color="#967926"/><stop offset="0.531" stop-color="#a8892b"/><stop offset="0.562" stop-color="#a9892b"/><stop offset="0.594" stop-color="#c4a032"/><stop offset="0.625" stop-color="#a4852a"/><stop offset="0.656" stop-color="#b8962f"/><stop offset="0.688" stop-color="#a5862a"/><stop offset="0.719" stop-color="#a7872a"/><stop offset="0.750" stop-color="#c6a133"/><stop offset="0.781" stop-color="#ac8c2c"/><stop offset="0.812" stop-color="#a6872a"/><stop offset="0.844" stop-color="#caa534"/><stop offset="0.875" stop-color="#be9b31"/><stop offset="0.906" stop-color="#ad8d2c"/><stop offset="0.938" stop-color="#c6a133"/><stop offset="0.969" stop-color="#a7882b"/><stop offset="1.000" stop-color="#c19d31"/></linearGradient><linearGradient id="g30" gradientUnits="userSpaceOnUse" x1="0" y1="52" x2="0" y2="247.2"><stop offset="0.000" stop-color="#9e8028"/><stop offset="0.031" stop-color="#876d22"/><stop offset="0.062" stop-color="#725b1d"/><stop offset="0.094" stop-color="#907424"/><stop offset="0.125" stop-color="#967926"/><stop offset="0.156" stop-color="#8e7324"/><stop offset="0.188" stop-color="#77601e"/><stop offset="0.219" stop-color="#5a4716"/><stop offset="0.250" stop-color="#68531a"/><stop offset="0.281" stop-color="#917525"/><stop offset="0.312" stop-color="#735c1d"/><stop offset="0.344" stop-color="#725c1d"/><stop offset="0.375" stop-color="#665119"/><stop offset="0.406" stop-color="#7b631f"/><stop offset="0.438" stop-color="#705a1c"/><stop offset="0.469" stop-color="#917525"/><stop offset="0.500" stop-color="#8b7023"/><stop offset="0.531" stop-color="#8b7123"/><stop offset="0.562" stop-color="#997c27"/><stop offset="0.594" stop-color="#856b22"/><stop offset="0.625" stop-color="#927625"/><stop offset="0.656" stop-color="#917525"/><stop offset="0.688" stop-color="#856b22"/><stop offset="0.719" stop-color="#a5862a"/><stop offset="0.750" stop-color="#806720"/><stop offset="0.781" stop-color="#8f7424"/><stop offset="0.812" stop-color="#997c27"/><stop offset="0.844" stop-color="#886e23"/><stop offset="0.875" stop-color="#9e8028"/><stop offset="0.906" stop-color="#806720"/><stop offset="0.938" stop-color="#917525"/><stop offset="0.969" stop-color="#9a7d27"/><stop offset="1.000" stop-color="#896f23"/></linearGradient><linearGradient id="g31" gradientUnits="userSpaceOnUse" x1="0" y1="52" x2="0" y2="247.2"><stop offset="0.000" stop-color="#a98a2b"/><stop offset="0.031" stop-color="#735d1d"/><stop offset="0.062" stop-color="#69541a"/><stop offset="0.094" stop-color="#765f1e"/><stop offset="0.125" stop-color="#ae8d2c"/><stop offset="0.156" stop-color="#a6872a"/><stop offset="0.188" stop-color="#886e22"/><stop offset="0.219" stop-color="#816821"/><stop offset="0.250" stop-color="#876d22"/><stop offset="0.281" stop-color="#a8882b"/><stop offset="0.312" stop-color="#ad8d2c"/><stop offset="0.344" stop-color="#a28429"/><stop offset="0.375" stop-color="#987b27"/><stop offset="0.406" stop-color="#896e23"/><stop offset="0.438" stop-color="#957826"/><stop offset="0.469" stop-color="#9a7d27"/><stop offset="0.500" stop-color="#917625"/><stop offset="0.531" stop-color="#b4922e"/><stop offset="0.562" stop-color="#b2912d"/><stop offset="0.594" stop-color="#a18329"/><stop offset="0.625" stop-color="#bb9830"/><stop offset="0.656" stop-color="#bc9930"/><stop offset="0.688" stop-color="#ae8d2c"/><stop offset="0.719" stop-color="#b8962f"/><stop offset="0.750" stop-color="#ae8d2c"/><stop offset="0.781" stop-color="#b3922e"/><stop offset="0.812" stop-color="#a5862a"/><stop offset="0.844" stop-color="#a4852a"/><stop offset="0.875" stop-color="#b4922e"/><stop offset="0.906" stop-color="#a38429"/><stop offset="0.938" stop-color="#a9892b"/><stop offset="0.969" stop-color="#b7952f"/><stop offset="1.000" stop-color="#967926"/></linearGradient><linearGradient id="g32" gradientUnits="userSpaceOnUse" x1="0" y1="52" x2="0" y2="247.2"><stop offset="0.000" stop-color="#bb9830"/><stop offset="0.031" stop-color="#947826"/><stop offset="0.062" stop-color="#6b561b"/><stop offset="0.094" stop-color="#8c7124"/><stop offset="0.125" stop-color="#bc9930"/><stop offset="0.156" stop-color="#d8b037"/><stop offset="0.188" stop-color="#d1ab36"/><stop offset="0.219" stop-color="#caa534"/><stop offset="0.250" stop-color="#b08f2d"/><stop offset="0.281" stop-color="#b6942e"/><stop offset="0.312" stop-color="#b4932e"/><stop offset="0.344" stop-color="#a18229"/><stop offset="0.375" stop-color="#a38429"/><stop offset="0.406" stop-color="#907525"/><stop offset="0.438" stop-color="#9b7e27"/><stop offset="0.469" stop-color="#b3912e"/><stop offset="0.500" stop-color="#987b27"/><stop offset="0.531" stop-color="#bb9830"/><stop offset="0.562" stop-color="#ab8b2c"/><stop offset="0.594" stop-color="#b4922e"/><stop offset="0.625" stop-color="#bc9930"/><stop offset="0.656" stop-color="#c4a032"/><stop offset="0.688" stop-color="#a7872b"/><stop offset="0.719" stop-color="#c7a233"/><stop offset="0.750" stop-color="#b1902d"/><stop offset="0.781" stop-color="#a18229"/><stop offset="0.812" stop-color="#c29e32"/><stop offset="0.844" stop-color="#bf9c31"/><stop offset="0.875" stop-color="#ae8d2c"/><stop offset="0.906" stop-color="#b2912d"/><stop offset="0.938" stop-color="#ac8c2c"/><stop offset="0.969" stop-color="#a5862a"/><stop offset="1.000" stop-color="#bf9c31"/></linearGradient><linearGradient id="g33" gradientUnits="userSpaceOnUse" x1="0" y1="52" x2="0" y2="247.2"><stop offset="0.000" stop-color="#c7a233"/><stop offset="0.031" stop-color="#cea835"/><stop offset="0.062" stop-color="#b2912d"/><stop offset="0.094" stop-color="#cfa935"/><stop offset="0.125" stop-color="#e8be3c"/><stop offset="0.156" stop-color="#e8be3c"/><stop offset="0.188" stop-color="#e0b739"/><stop offset="0.219" stop-color="#d3ad36"/><stop offset="0.250" stop-color="#d1aa36"/><stop offset="0.281" stop-color="#b9972f"/><stop offset="0.312" stop-color="#b8962f"/><stop offset="0.344" stop-color="#b7952f"/><stop offset="0.375" stop-color="#b6942e"/><stop offset="0.406" stop-color="#af8f2d"/><stop offset="0.438" stop-color="#b2902d"/><stop offset="0.469" stop-color="#9a7d27"/><stop offset="0.500" stop-color="#866c22"/><stop offset="0.531" stop-color="#8d7224"/><stop offset="0.562" stop-color="#927625"/><stop offset="0.594" stop-color="#a08229"/><stop offset="0.625" stop-color="#b6952f"/><stop offset="0.656" stop-color="#ac8c2c"/><stop offset="0.688" stop-color="#b2912d"/><stop offset="0.719" stop-color="#a4852a"/><stop offset="0.750" stop-color="#b08f2d"/><stop offset="0.781" stop-color="#ba9830"/><stop offset="0.812" stop-color="#ab8b2c"/><stop offset="0.844" stop-color="#9d7f28"/><stop offset="0.875" stop-color="#bb9830"/><stop offset="0.906" stop-color="#9f8129"/><stop offset="0.938" stop-color="#c39f32"/><stop offset="0.969" stop-color="#b8962f"/><stop offset="1.000" stop-color="#b9972f"/></linearGradient><linearGradient id="g34" gradientUnits="userSpaceOnUse" x1="0" y1="52" x2="0" y2="247.2"><stop offset="0.000" stop-color="#9b7d27"/><stop offset="0.031" stop-color="#af8e2d"/><stop offset="0.062" stop-color="#cea935"/><stop offset="0.094" stop-color="#c7a333"/><stop offset="0.125" stop-color="#e8be3c"/><stop offset="0.156" stop-color="#e8be3c"/><stop offset="0.188" stop-color="#c9a434"/><stop offset="0.219" stop-color="#c7a233"/><stop offset="0.250" stop-color="#b5932e"/><stop offset="0.281" stop-color="#a7882b"/><stop offset="0.312" stop-color="#8f7424"/><stop offset="0.344" stop-color="#9c7e28"/><stop offset="0.375" stop-color="#886e23"/><stop offset="0.406" stop-color="#896e23"/><stop offset="0.438" stop-color="#755e1d"/><stop offset="0.469" stop-color="#6f591c"/><stop offset="0.500" stop-color="#5e4a17"/><stop offset="0.531" stop-color="#69541a"/><stop offset="0.562" stop-color="#846b21"/><stop offset="0.594" stop-color="#997c27"/><stop offset="0.625" stop-color="#917525"/><stop offset="0.656" stop-color="#aa8a2b"/><stop offset="0.688" stop-color="#896f23"/><stop offset="0.719" stop-color="#aa8a2b"/><stop offset="0.750" stop-color="#b08f2d"/><stop offset="0.781" stop-color="#ad8d2c"/><stop offset="0.812" stop-color="#8b7023"/><stop offset="0.844" stop-color="#a28329"/><stop offset="0.875" stop-color="#a9892b"/><stop offset="0.906" stop-color="#ad8c2c"/><stop offset="0.938" stop-color="#ab8b2c"/><stop offset="0.969" stop-color="#907525"/><stop offset="1.000" stop-color="#937725"/></linearGradient><linearGradient id="g35" gradientUnits="userSpaceOnUse" x1="0" y1="52" x2="0" y2="247.2"><stop offset="0.000" stop-color="#947826"/><stop offset="0.031" stop-color="#ad8d2c"/><stop offset="0.062" stop-color="#a18229"/><stop offset="0.094" stop-color="#af8f2d"/><stop offset="0.125" stop-color="#a38429"/><stop offset="0.156" stop-color="#a38429"/><stop offset="0.188" stop-color="#9d7f28"/><stop offset="0.219" stop-color="#b5942e"/><stop offset="0.250" stop-color="#917525"/><stop offset="0.281" stop-color="#896f23"/><stop offset="0.312" stop-color="#836a21"/><stop offset="0.344" stop-color="#9f8129"/><stop offset="0.375" stop-color="#9e8028"/><stop offset="0.406" stop-color="#9f8129"/><stop offset="0.438" stop-color="#8e7224"/><stop offset="0.469" stop-color="#5f4b18"/><stop offset="0.500" stop-color="#544315"/><stop offset="0.531" stop-color="#614d18"/><stop offset="0.562" stop-color="#715b1c"/><stop offset="0.594" stop-color="#896f23"/><stop offset="0.625" stop-color="#9e8028"/><stop offset="0.656" stop-color="#a7872a"/><stop offset="0.688" stop-color="#ad8d2c"/><stop offset="0.719" stop-color="#957926"/><stop offset="0.750" stop-color="#ae8e2c"/><stop offset="0.781" stop-color="#aa8a2b"/><stop offset="0.812" stop-color="#a5862a"/><stop offset="0.844" stop-color="#b4932e"/><stop offset="0.875" stop-color="#a8892b"/><stop offset="0.906" stop-color="#a5862a"/><stop offset="0.938" stop-color="#927625"/><stop offset="0.969" stop-color="#a08229"/><stop offset="1.000" stop-color="#a28329"/></linearGradient><linearGradient id="g36" gradientUnits="userSpaceOnUse" x1="0" y1="52" x2="0" y2="247.2"><stop offset="0.000" stop-color="#665119"/><stop offset="0.031" stop-color="#423310"/><stop offset="0.062" stop-color="#463711"/><stop offset="0.094" stop-color="#503f14"/><stop offset="0.125" stop-color="#4a3a12"/><stop offset="0.156" stop-color="#4a3a12"/><stop offset="0.188" stop-color="#443511"/><stop offset="0.219" stop-color="#4a3a12"/><stop offset="0.250" stop-color="#443511"/><stop offset="0.281" stop-color="#473711"/><stop offset="0.312" stop-color="#4c3b13"/><stop offset="0.344" stop-color="#413310"/><stop offset="0.375" stop-color="#634f19"/><stop offset="0.406" stop-color="#554315"/><stop offset="0.438" stop-color="#645019"/><stop offset="0.469" stop-color="#67531a"/><stop offset="0.500" stop-color="#634e19"/><stop offset="0.531" stop-color="#554315"/><stop offset="0.562" stop-color="#503f14"/><stop offset="0.594" stop-color="#67521a"/><stop offset="0.625" stop-color="#5c4917"/><stop offset="0.656" stop-color="#5c4917"/><stop offset="0.688" stop-color="#7d6520"/><stop offset="0.719" stop-color="#a3842a"/><stop offset="0.750" stop-color="#997c27"/><stop offset="0.781" stop-color="#a18329"/><stop offset="0.812" stop-color="#8c7123"/><stop offset="0.844" stop-color="#a08229"/><stop offset="0.875" stop-color="#816821"/><stop offset="0.906" stop-color="#997c27"/><stop offset="0.938" stop-color="#9a7d27"/><stop offset="0.969" stop-color="#856b22"/><stop offset="1.000" stop-color="#8d7224"/></linearGradient><linearGradient id="g37" gradientUnits="userSpaceOnUse" x1="0" y1="52" x2="0" y2="247.2"><stop offset="0.000" stop-color="#604c18"/><stop offset="0.031" stop-color="#1d1406"/><stop offset="0.062" stop-color="#1c1406"/><stop offset="0.094" stop-color="#1d1406"/><stop offset="0.125" stop-color="#1d1406"/><stop offset="0.156" stop-color="#1d1406"/><stop offset="0.188" stop-color="#1d1406"/><stop offset="0.219" stop-color="#1d1406"/><stop offset="0.250" stop-color="#1d1406"/><stop offset="0.281" stop-color="#1c1406"/><stop offset="0.312" stop-color="#1d1506"/><stop offset="0.344" stop-color="#1c1406"/><stop offset="0.375" stop-color="#433410"/><stop offset="0.406" stop-color="#413210"/><stop offset="0.438" stop-color="#403210"/><stop offset="0.469" stop-color="#3a2d0e"/><stop offset="0.500" stop-color="#3d300f"/><stop offset="0.531" stop-color="#3e300f"/><stop offset="0.562" stop-color="#3a2c0e"/><stop offset="0.594" stop-color="#3f310f"/><stop offset="0.625" stop-color="#3d2f0f"/><stop offset="0.656" stop-color="#3d2f0f"/><stop offset="0.688" stop-color="#a08229"/><stop offset="0.719" stop-color="#bd9a30"/><stop offset="0.750" stop-color="#c6a233"/><stop offset="0.781" stop-color="#d5ae37"/><stop offset="0.812" stop-color="#d4ad36"/><stop offset="0.844" stop-color="#d6af37"/><stop offset="0.875" stop-color="#b4932e"/><stop offset="0.906" stop-color="#b7952f"/><stop offset="0.938" stop-color="#b1902d"/><stop offset="0.969" stop-color="#c7a233"/><stop offset="1.000" stop-color="#bb9930"/></linearGradient><linearGradient id="g38" gradientUnits="userSpaceOnUse" x1="0" y1="52" x2="0" y2="247.2"><stop offset="0.000" stop-color="#826821"/><stop offset="0.031" stop-color="#78611e"/><stop offset="0.062" stop-color="#725b1d"/><stop offset="0.094" stop-color="#69541a"/><stop offset="0.125" stop-color="#7b631f"/><stop offset="0.156" stop-color="#7e6520"/><stop offset="0.188" stop-color="#7c641f"/><stop offset="0.219" stop-color="#735c1d"/><stop offset="0.250" stop-color="#70591c"/><stop offset="0.281" stop-color="#816821"/><stop offset="0.312" stop-color="#806720"/><stop offset="0.344" stop-color="#7c641f"/><stop offset="0.375" stop-color="#886e23"/><stop offset="0.406" stop-color="#876d22"/><stop offset="0.438" stop-color="#907425"/><stop offset="0.469" stop-color="#886e23"/><stop offset="0.500" stop-color="#8b7023"/><stop offset="0.531" stop-color="#705a1c"/><stop offset="0.562" stop-color="#765f1e"/><stop offset="0.594" stop-color="#886e23"/><stop offset="0.625" stop-color="#6c571b"/><stop offset="0.656" stop-color="#8a6f23"/><stop offset="0.688" stop-color="#a28329"/><stop offset="0.719" stop-color="#987b27"/><stop offset="0.750" stop-color="#a7872b"/><stop offset="0.781" stop-color="#ad8c2c"/><stop offset="0.812" stop-color="#b6952f"/><stop offset="0.844" stop-color="#ba972f"/><stop offset="0.875" stop-color="#9f8129"/><stop offset="0.906" stop-color="#ae8e2c"/><stop offset="0.938" stop-color="#a6872a"/><stop offset="0.969" stop-color="#9c7f28"/><stop offset="1.000" stop-color="#aa8a2b"/></linearGradient><linearGradient id="g39" gradientUnits="userSpaceOnUse" x1="0" y1="52" x2="0" y2="247.2"><stop offset="0.000" stop-color="#b2912d"/><stop offset="0.031" stop-color="#b8962f"/><stop offset="0.062" stop-color="#c6a133"/><stop offset="0.094" stop-color="#c6a233"/><stop offset="0.125" stop-color="#d3ac36"/><stop offset="0.156" stop-color="#e4bb3b"/><stop offset="0.188" stop-color="#d5ae37"/><stop offset="0.219" stop-color="#e0b739"/><stop offset="0.250" stop-color="#d3ac36"/><stop offset="0.281" stop-color="#cba634"/><stop offset="0.312" stop-color="#dcb438"/><stop offset="0.344" stop-color="#d2ab36"/><stop offset="0.375" stop-color="#c8a333"/><stop offset="0.406" stop-color="#d2ac36"/><stop offset="0.438" stop-color="#d4ad36"/><stop offset="0.469" stop-color="#ba9730"/><stop offset="0.500" stop-color="#ae8d2c"/><stop offset="0.531" stop-color="#ad8d2c"/><stop offset="0.562" stop-color="#ac8c2c"/><stop offset="0.594" stop-color="#a38429"/><stop offset="0.625" stop-color="#a7882b"/><stop offset="0.656" stop-color="#ab8b2c"/><stop offset="0.688" stop-color="#bd9a30"/><stop offset="0.719" stop-color="#cea835"/><stop offset="0.750" stop-color="#cba634"/><stop offset="0.781" stop-color="#e5bc3b"/><stop offset="0.812" stop-color="#d5ae37"/><stop offset="0.844" stop-color="#bd9a30"/><stop offset="0.875" stop-color="#b4932e"/><stop offset="0.906" stop-color="#af8e2d"/><stop offset="0.938" stop-color="#b9962f"/><stop offset="0.969" stop-color="#af8e2d"/><stop offset="1.000" stop-color="#ac8c2c"/></linearGradient><linearGradient id="g40" gradientUnits="userSpaceOnUse" x1="0" y1="52" x2="0" y2="247.2"><stop offset="0.000" stop-color="#c8a333"/><stop offset="0.031" stop-color="#c6a133"/><stop offset="0.062" stop-color="#c4a032"/><stop offset="0.094" stop-color="#e8be3c"/><stop offset="0.125" stop-color="#dfb739"/><stop offset="0.156" stop-color="#e2b93a"/><stop offset="0.188" stop-color="#e8be3c"/><stop offset="0.219" stop-color="#e8be3c"/><stop offset="0.250" stop-color="#e8be3c"/><stop offset="0.281" stop-color="#e8be3c"/><stop offset="0.312" stop-color="#e8be3c"/><stop offset="0.344" stop-color="#e8be3c"/><stop offset="0.375" stop-color="#dcb438"/><stop offset="0.406" stop-color="#cca734"/><stop offset="0.438" stop-color="#d3ad36"/><stop offset="0.469" stop-color="#dbb338"/><stop offset="0.500" stop-color="#be9b31"/><stop offset="0.531" stop-color="#b8962f"/><stop offset="0.562" stop-color="#aa8a2b"/><stop offset="0.594" stop-color="#ad8c2c"/><stop offset="0.625" stop-color="#a3842a"/><stop offset="0.656" stop-color="#9c7f28"/><stop offset="0.688" stop-color="#b4922e"/><stop offset="0.719" stop-color="#c6a233"/><stop offset="0.750" stop-color="#bd9a30"/><stop offset="0.781" stop-color="#e1b83a"/><stop offset="0.812" stop-color="#c9a433"/><stop offset="0.844" stop-color="#c9a434"/><stop offset="0.875" stop-color="#ac8c2c"/><stop offset="0.906" stop-color="#bb9830"/><stop offset="0.938" stop-color="#907425"/><stop offset="0.969" stop-color="#a6872a"/><stop offset="1.000" stop-color="#b1902d"/></linearGradient><linearGradient id="g41" gradientUnits="userSpaceOnUse" x1="0" y1="52" x2="0" y2="247.2"><stop offset="0.000" stop-color="#e7bd3b"/><stop offset="0.031" stop-color="#e8be3c"/><stop offset="0.062" stop-color="#e8be3c"/><stop offset="0.094" stop-color="#e8be3c"/><stop offset="0.125" stop-color="#e8be3c"/><stop offset="0.156" stop-color="#e8be3c"/><stop offset="0.188" stop-color="#e8be3c"/><stop offset="0.219" stop-color="#e8be3c"/><stop offset="0.250" stop-color="#e8be3c"/><stop offset="0.281" stop-color="#e8be3c"/><stop offset="0.312" stop-color="#e8be3c"/><stop offset="0.344" stop-color="#e8be3c"/><stop offset="0.375" stop-color="#e8be3c"/><stop offset="0.406" stop-color="#e8be3c"/><stop offset="0.438" stop-color="#e8be3c"/><stop offset="0.469" stop-color="#e8be3c"/><stop offset="0.500" stop-color="#d4ae37"/><stop offset="0.531" stop-color="#c8a333"/><stop offset="0.562" stop-color="#c6a233"/><stop offset="0.594" stop-color="#c6a133"/><stop offset="0.625" stop-color="#bc9930"/><stop offset="0.656" stop-color="#c9a434"/><stop offset="0.688" stop-color="#b8952f"/><stop offset="0.719" stop-color="#e1b83a"/><stop offset="0.750" stop-color="#e4ba3b"/><stop offset="0.781" stop-color="#e3ba3a"/><stop offset="0.812" stop-color="#deb639"/><stop offset="0.844" stop-color="#dfb639"/><stop offset="0.875" stop-color="#d6af37"/><stop offset="0.906" stop-color="#be9a31"/><stop offset="0.938" stop-color="#c6a233"/><stop offset="0.969" stop-color="#a5862a"/><stop offset="1.000" stop-color="#b7952f"/></linearGradient><linearGradient id="g42" gradientUnits="userSpaceOnUse" x1="0" y1="52" x2="0" y2="247.2"><stop offset="0.000" stop-color="#d4ad36"/><stop offset="0.031" stop-color="#dab238"/><stop offset="0.062" stop-color="#e1b83a"/><stop offset="0.094" stop-color="#d3ac36"/><stop offset="0.125" stop-color="#d0aa35"/><stop offset="0.156" stop-color="#dcb439"/><stop offset="0.188" stop-color="#e1b83a"/><stop offset="0.219" stop-color="#e8be3c"/><stop offset="0.250" stop-color="#e8be3c"/><stop offset="0.281" stop-color="#e8be3c"/><stop offset="0.312" stop-color="#e8be3c"/><stop offset="0.344" stop-color="#e8be3c"/><stop offset="0.375" stop-color="#e8be3c"/><stop offset="0.406" stop-color="#e8be3c"/><stop offset="0.438" stop-color="#e8be3c"/><stop offset="0.469" stop-color="#c4a032"/><stop offset="0.500" stop-color="#ba972f"/><stop offset="0.531" stop-color="#cea835"/><stop offset="0.562" stop-color="#a4852a"/><stop offset="0.594" stop-color="#997c27"/><stop offset="0.625" stop-color="#977a26"/><stop offset="0.656" stop-color="#b08f2d"/><stop offset="0.688" stop-color="#a28329"/><stop offset="0.719" stop-color="#bc9930"/><stop offset="0.750" stop-color="#e6bc3b"/><stop offset="0.781" stop-color="#e8be3c"/><stop offset="0.812" stop-color="#c19d31"/><stop offset="0.844" stop-color="#be9b31"/><stop offset="0.875" stop-color="#bd9a30"/><stop offset="0.906" stop-color="#b4922e"/><stop offset="0.938" stop-color="#a9892b"/><stop offset="0.969" stop-color="#a08229"/><stop offset="1.000" stop-color="#886e22"/></linearGradient><linearGradient id="g43" gradientUnits="userSpaceOnUse" x1="0" y1="52" x2="0" y2="247.2"><stop offset="0.000" stop-color="#e8be3c"/><stop offset="0.031" stop-color="#d7b037"/><stop offset="0.062" stop-color="#d5ae37"/><stop offset="0.094" stop-color="#cfa935"/><stop offset="0.125" stop-color="#a08129"/><stop offset="0.156" stop-color="#a8892b"/><stop offset="0.188" stop-color="#cca734"/><stop offset="0.219" stop-color="#e8be3c"/><stop offset="0.250" stop-color="#e8be3c"/><stop offset="0.281" stop-color="#e8be3c"/><stop offset="0.312" stop-color="#e8be3c"/><stop offset="0.344" stop-color="#e8be3c"/><stop offset="0.375" stop-color="#e8be3c"/><stop offset="0.406" stop-color="#e8be3c"/><stop offset="0.438" stop-color="#e8be3c"/><stop offset="0.469" stop-color="#e8be3c"/><stop offset="0.500" stop-color="#cfa935"/><stop offset="0.531" stop-color="#d1ab36"/><stop offset="0.562" stop-color="#d4ad36"/><stop offset="0.594" stop-color="#cda735"/><stop offset="0.625" stop-color="#caa534"/><stop offset="0.656" stop-color="#bc9930"/><stop offset="0.688" stop-color="#dcb439"/><stop offset="0.719" stop-color="#deb639"/><stop offset="0.750" stop-color="#e8be3c"/><stop offset="0.781" stop-color="#e8be3c"/><stop offset="0.812" stop-color="#e8be3c"/><stop offset="0.844" stop-color="#deb639"/><stop offset="0.875" stop-color="#be9b31"/><stop offset="0.906" stop-color="#d2ac36"/><stop offset="0.938" stop-color="#a6872a"/><stop offset="0.969" stop-color="#b1902d"/><stop offset="1.000" stop-color="#ab8b2c"/></linearGradient><linearGradient id="g44" gradientUnits="userSpaceOnUse" x1="0" y1="52" x2="0" y2="247.2"><stop offset="0.000" stop-color="#b7952f"/><stop offset="0.031" stop-color="#cea835"/><stop offset="0.062" stop-color="#c5a133"/><stop offset="0.094" stop-color="#9e8028"/><stop offset="0.125" stop-color="#9c7f28"/><stop offset="0.156" stop-color="#917525"/><stop offset="0.188" stop-color="#b3912e"/><stop offset="0.219" stop-color="#e8be3c"/><stop offset="0.250" stop-color="#e8be3c"/><stop offset="0.281" stop-color="#e8be3c"/><stop offset="0.312" stop-color="#e8be3c"/><stop offset="0.344" stop-color="#e8be3c"/><stop offset="0.375" stop-color="#dbb338"/><stop offset="0.406" stop-color="#e4ba3a"/><stop offset="0.438" stop-color="#dab238"/><stop offset="0.469" stop-color="#be9b31"/><stop offset="0.500" stop-color="#d7b037"/><stop offset="0.531" stop-color="#b2912d"/><stop offset="0.562" stop-color="#ae8d2c"/><stop offset="0.594" stop-color="#b3922e"/><stop offset="0.625" stop-color="#997c27"/><stop offset="0.656" stop-color="#b08f2d"/><stop offset="0.688" stop-color="#b9972f"/><stop offset="0.719" stop-color="#c9a433"/><stop offset="0.750" stop-color="#cfa935"/><stop offset="0.781" stop-color="#e8be3c"/><stop offset="0.812" stop-color="#deb639"/><stop offset="0.844" stop-color="#d0aa35"/><stop offset="0.875" stop-color="#b9972f"/><stop offset="0.906" stop-color="#9f8129"/><stop offset="0.938" stop-color="#ac8c2c"/><stop offset="0.969" stop-color="#917525"/><stop offset="1.000" stop-color="#a18229"/></linearGradient><linearGradient id="g45" gradientUnits="userSpaceOnUse" x1="0" y1="52" x2="0" y2="247.2"><stop offset="0.000" stop-color="#c8a333"/><stop offset="0.031" stop-color="#bd9a30"/><stop offset="0.062" stop-color="#a18229"/><stop offset="0.094" stop-color="#a6872a"/><stop offset="0.125" stop-color="#a08129"/><stop offset="0.156" stop-color="#b08f2d"/><stop offset="0.188" stop-color="#c5a132"/><stop offset="0.219" stop-color="#ddb539"/><stop offset="0.250" stop-color="#e0b83a"/><stop offset="0.281" stop-color="#e2b93a"/><stop offset="0.312" stop-color="#dab238"/><stop offset="0.344" stop-color="#e8be3c"/><stop offset="0.375" stop-color="#d1ab36"/><stop offset="0.406" stop-color="#c8a333"/><stop offset="0.438" stop-color="#cfa935"/><stop offset="0.469" stop-color="#d9b238"/><stop offset="0.500" stop-color="#c7a233"/><stop offset="0.531" stop-color="#cda734"/><stop offset="0.562" stop-color="#c09c31"/><stop offset="0.594" stop-color="#9d8028"/><stop offset="0.625" stop-color="#a7882b"/><stop offset="0.656" stop-color="#ab8b2c"/><stop offset="0.688" stop-color="#b2912d"/><stop offset="0.719" stop-color="#bc9930"/><stop offset="0.750" stop-color="#d7af37"/><stop offset="0.781" stop-color="#ddb439"/><stop offset="0.812" stop-color="#d8b037"/><stop offset="0.844" stop-color="#c8a333"/><stop offset="0.875" stop-color="#bc9930"/><stop offset="0.906" stop-color="#ac8b2c"/><stop offset="0.938" stop-color="#b7952f"/><stop offset="0.969" stop-color="#a08229"/><stop offset="1.000" stop-color="#a7872b"/></linearGradient><linearGradient id="g46" gradientUnits="userSpaceOnUse" x1="0" y1="52" x2="0" y2="247.2"><stop offset="0.000" stop-color="#b4932e"/><stop offset="0.031" stop-color="#a7882b"/><stop offset="0.062" stop-color="#907424"/><stop offset="0.094" stop-color="#6c571b"/><stop offset="0.125" stop-color="#7f6620"/><stop offset="0.156" stop-color="#a3842a"/><stop offset="0.188" stop-color="#b5932e"/><stop offset="0.219" stop-color="#aa8b2c"/><stop offset="0.250" stop-color="#b08f2d"/><stop offset="0.281" stop-color="#ba9730"/><stop offset="0.312" stop-color="#d2ac36"/><stop offset="0.344" stop-color="#dfb639"/><stop offset="0.375" stop-color="#e2b93a"/><stop offset="0.406" stop-color="#e6bc3b"/><stop offset="0.438" stop-color="#d8b138"/><stop offset="0.469" stop-color="#c19d31"/><stop offset="0.500" stop-color="#a5862a"/><stop offset="0.531" stop-color="#bb9830"/><stop offset="0.562" stop-color="#9c7e28"/><stop offset="0.594" stop-color="#ad8c2c"/><stop offset="0.625" stop-color="#a98a2b"/><stop offset="0.656" stop-color="#947826"/><stop offset="0.688" stop-color="#a9892b"/><stop offset="0.719" stop-color="#a8882b"/><stop offset="0.750" stop-color="#c7a233"/><stop offset="0.781" stop-color="#deb539"/><stop offset="0.812" stop-color="#cba534"/><stop offset="0.844" stop-color="#b7952f"/><stop offset="0.875" stop-color="#9c7e28"/><stop offset="0.906" stop-color="#8f7424"/><stop offset="0.938" stop-color="#9d8028"/><stop offset="0.969" stop-color="#9d7f28"/><stop offset="1.000" stop-color="#a8882b"/></linearGradient><linearGradient id="g47" gradientUnits="userSpaceOnUse" x1="0" y1="52" x2="0" y2="247.2"><stop offset="0.000" stop-color="#ac8c2c"/><stop offset="0.031" stop-color="#9d7f28"/><stop offset="0.062" stop-color="#735c1d"/><stop offset="0.094" stop-color="#574516"/><stop offset="0.125" stop-color="#6a551b"/><stop offset="0.156" stop-color="#a7882b"/><stop offset="0.188" stop-color="#987b27"/><stop offset="0.219" stop-color="#be9b31"/><stop offset="0.250" stop-color="#a8882b"/><stop offset="0.281" stop-color="#d8b037"/><stop offset="0.312" stop-color="#e8be3c"/><stop offset="0.344" stop-color="#e6bc3b"/><stop offset="0.375" stop-color="#e8be3c"/><stop offset="0.406" stop-color="#e8be3c"/><stop offset="0.438" stop-color="#e8be3c"/><stop offset="0.469" stop-color="#e8be3c"/><stop offset="0.500" stop-color="#ba9830"/><stop offset="0.531" stop-color="#a8892b"/><stop offset="0.562" stop-color="#937725"/><stop offset="0.594" stop-color="#907525"/><stop offset="0.625" stop-color="#ab8b2c"/><stop offset="0.656" stop-color="#9e8028"/><stop offset="0.688" stop-color="#a4852a"/><stop offset="0.719" stop-color="#b9972f"/><stop offset="0.750" stop-color="#ae8e2d"/><stop offset="0.781" stop-color="#cea935"/><stop offset="0.812" stop-color="#ae8e2c"/><stop offset="0.844" stop-color="#b08f2d"/><stop offset="0.875" stop-color="#c39f32"/><stop offset="0.906" stop-color="#ba9830"/><stop offset="0.938" stop-color="#9b7e27"/><stop offset="0.969" stop-color="#927625"/><stop offset="1.000" stop-color="#af8e2d"/></linearGradient><linearGradient id="g48" gradientUnits="userSpaceOnUse" x1="0" y1="52" x2="0" y2="247.2"><stop offset="0.000" stop-color="#a3842a"/><stop offset="0.031" stop-color="#9f8129"/><stop offset="0.062" stop-color="#554315"/><stop offset="0.094" stop-color="#392c0e"/><stop offset="0.125" stop-color="#6a551b"/><stop offset="0.156" stop-color="#9f8128"/><stop offset="0.188" stop-color="#af8e2d"/><stop offset="0.219" stop-color="#c19d31"/><stop offset="0.250" stop-color="#c6a133"/><stop offset="0.281" stop-color="#e8be3c"/><stop offset="0.312" stop-color="#e8be3c"/><stop offset="0.344" stop-color="#e8be3c"/><stop offset="0.375" stop-color="#e8be3c"/><stop offset="0.406" stop-color="#e8be3c"/><stop offset="0.438" stop-color="#e8be3c"/><stop offset="0.469" stop-color="#e8be3c"/><stop offset="0.500" stop-color="#d1ab36"/><stop offset="0.531" stop-color="#ad8d2c"/><stop offset="0.562" stop-color="#997c27"/><stop offset="0.594" stop-color="#967926"/><stop offset="0.625" stop-color="#a7882b"/><stop offset="0.656" stop-color="#c09c31"/><stop offset="0.688" stop-color="#a5862a"/><stop offset="0.719" stop-color="#b9962f"/><stop offset="0.750" stop-color="#ba9830"/><stop offset="0.781" stop-color="#d1ab36"/><stop offset="0.812" stop-color="#c4a032"/><stop offset="0.844" stop-color="#af8e2d"/><stop offset="0.875" stop-color="#ad8d2c"/><stop offset="0.906" stop-color="#b1902d"/><stop offset="0.938" stop-color="#b9972f"/><stop offset="0.969" stop-color="#b2912e"/><stop offset="1.000" stop-color="#9f8128"/></linearGradient><linearGradient id="g49" gradientUnits="userSpaceOnUse" x1="0" y1="52" x2="0" y2="247.2"><stop offset="0.000" stop-color="#a08129"/><stop offset="0.031" stop-color="#8b7023"/><stop offset="0.062" stop-color="#4d3c13"/><stop offset="0.094" stop-color="#2e230b"/><stop offset="0.125" stop-color="#5e4a17"/><stop offset="0.156" stop-color="#a5862a"/><stop offset="0.188" stop-color="#b9972f"/><stop offset="0.219" stop-color="#c09c31"/><stop offset="0.250" stop-color="#c9a433"/><stop offset="0.281" stop-color="#d5ae37"/><stop offset="0.312" stop-color="#e8be3c"/><stop offset="0.344" stop-color="#e8be3c"/><stop offset="0.375" stop-color="#e8be3c"/><stop offset="0.406" stop-color="#e8be3c"/><stop offset="0.438" stop-color="#e8be3c"/><stop offset="0.469" stop-color="#e8be3c"/><stop offset="0.500" stop-color="#e4bb3b"/><stop offset="0.531" stop-color="#a5862a"/><stop offset="0.562" stop-color="#7f6620"/><stop offset="0.594" stop-color="#765f1e"/><stop offset="0.625" stop-color="#806720"/><stop offset="0.656" stop-color="#aa8a2b"/><stop offset="0.688" stop-color="#c29e32"/><stop offset="0.719" stop-color="#b5932e"/><stop offset="0.750" stop-color="#b08f2d"/><stop offset="0.781" stop-color="#caa534"/><stop offset="0.812" stop-color="#b2912e"/><stop offset="0.844" stop-color="#a7872a"/><stop offset="0.875" stop-color="#be9b31"/><stop offset="0.906" stop-color="#ab8b2c"/><stop offset="0.938" stop-color="#a6862a"/><stop offset="0.969" stop-color="#ad8d2c"/><stop offset="1.000" stop-color="#b7952f"/></linearGradient><linearGradient id="g50" gradientUnits="userSpaceOnUse" x1="0" y1="52" x2="0" y2="247.2"><stop offset="0.000" stop-color="#a3842a"/><stop offset="0.031" stop-color="#8c7123"/><stop offset="0.062" stop-color="#614d18"/><stop offset="0.094" stop-color="#443511"/><stop offset="0.125" stop-color="#604c18"/><stop offset="0.156" stop-color="#937725"/><stop offset="0.188" stop-color="#c19d31"/><stop offset="0.219" stop-color="#bf9c31"/><stop offset="0.250" stop-color="#c09c31"/><stop offset="0.281" stop-color="#d3ac36"/><stop offset="0.312" stop-color="#e8be3c"/><stop offset="0.344" stop-color="#e8be3c"/><stop offset="0.375" stop-color="#e8be3c"/><stop offset="0.406" stop-color="#e8be3c"/><stop offset="0.438" stop-color="#e8be3c"/><stop offset="0.469" stop-color="#e8be3c"/><stop offset="0.500" stop-color="#d8b138"/><stop offset="0.531" stop-color="#af8e2d"/><stop offset="0.562" stop-color="#725c1d"/><stop offset="0.594" stop-color="#67521a"/><stop offset="0.625" stop-color="#826921"/><stop offset="0.656" stop-color="#b0902d"/><stop offset="0.688" stop-color="#c6a133"/><stop offset="0.719" stop-color="#a4852a"/><stop offset="0.750" stop-color="#c19d31"/><stop offset="0.781" stop-color="#cda835"/><stop offset="0.812" stop-color="#b7952f"/><stop offset="0.844" stop-color="#ae8d2c"/><stop offset="0.875" stop-color="#c5a032"/><stop offset="0.906" stop-color="#b08f2d"/><stop offset="0.938" stop-color="#b9972f"/><stop offset="0.969" stop-color="#b1902d"/><stop offset="1.000" stop-color="#c5a132"/></linearGradient><linearGradient id="g51" gradientUnits="userSpaceOnUse" x1="0" y1="52" x2="0" y2="247.2"><stop offset="0.000" stop-color="#a5862a"/><stop offset="0.031" stop-color="#9a7c27"/><stop offset="0.062" stop-color="#7c641f"/><stop offset="0.094" stop-color="#614d18"/><stop offset="0.125" stop-color="#876d22"/><stop offset="0.156" stop-color="#a38429"/><stop offset="0.188" stop-color="#c5a133"/><stop offset="0.219" stop-color="#b8952f"/><stop offset="0.250" stop-color="#c7a233"/><stop offset="0.281" stop-color="#cda735"/><stop offset="0.312" stop-color="#d0aa35"/><stop offset="0.344" stop-color="#e8be3c"/><stop offset="0.375" stop-color="#e8be3c"/><stop offset="0.406" stop-color="#e8be3c"/><stop offset="0.438" stop-color="#e8be3c"/><stop offset="0.469" stop-color="#e8be3c"/><stop offset="0.500" stop-color="#e8be3c"/><stop offset="0.531" stop-color="#ac8c2c"/><stop offset="0.562" stop-color="#6a541b"/><stop offset="0.594" stop-color="#624e19"/><stop offset="0.625" stop-color="#79621f"/><stop offset="0.656" stop-color="#9c7f28"/><stop offset="0.688" stop-color="#cea835"/><stop offset="0.719" stop-color="#bd9a30"/><stop offset="0.750" stop-color="#c7a233"/><stop offset="0.781" stop-color="#d3ac36"/><stop offset="0.812" stop-color="#b08f2d"/><stop offset="0.844" stop-color="#cba634"/><stop offset="0.875" stop-color="#bd9a30"/><stop offset="0.906" stop-color="#b8962f"/><stop offset="0.938" stop-color="#aa8b2c"/><stop offset="0.969" stop-color="#b6942e"/><stop offset="1.000" stop-color="#c19d31"/></linearGradient><linearGradient id="g52" gradientUnits="userSpaceOnUse" x1="0" y1="52" x2="0" y2="247.2"><stop offset="0.000" stop-color="#b1902d"/><stop offset="0.031" stop-color="#816821"/><stop offset="0.062" stop-color="#735c1d"/><stop offset="0.094" stop-color="#7e6620"/><stop offset="0.125" stop-color="#967a26"/><stop offset="0.156" stop-color="#a98a2b"/><stop offset="0.188" stop-color="#b2912e"/><stop offset="0.219" stop-color="#9f8129"/><stop offset="0.250" stop-color="#a18329"/><stop offset="0.281" stop-color="#a18329"/><stop offset="0.312" stop-color="#b08f2d"/><stop offset="0.344" stop-color="#9d7f28"/><stop offset="0.375" stop-color="#af8e2d"/><stop offset="0.406" stop-color="#cba634"/><stop offset="0.438" stop-color="#d3ac36"/><stop offset="0.469" stop-color="#e8be3c"/><stop offset="0.500" stop-color="#e0b739"/><stop offset="0.531" stop-color="#9b7d27"/><stop offset="0.562" stop-color="#6a541a"/><stop offset="0.594" stop-color="#634f19"/><stop offset="0.625" stop-color="#866c22"/><stop offset="0.656" stop-color="#977a26"/><stop offset="0.688" stop-color="#9c7e28"/><stop offset="0.719" stop-color="#ba972f"/><stop offset="0.750" stop-color="#b2902d"/><stop offset="0.781" stop-color="#b4932e"/><stop offset="0.812" stop-color="#b9972f"/><stop offset="0.844" stop-color="#aa8a2b"/><stop offset="0.875" stop-color="#b6942e"/><stop offset="0.906" stop-color="#b2912e"/><stop offset="0.938" stop-color="#b6942f"/><stop offset="0.969" stop-color="#a08229"/><stop offset="1.000" stop-color="#bb9930"/></linearGradient><linearGradient id="g53" gradientUnits="userSpaceOnUse" x1="0" y1="52" x2="0" y2="247.2"><stop offset="0.000" stop-color="#9f8128"/><stop offset="0.031" stop-color="#7e6620"/><stop offset="0.062" stop-color="#4c3c13"/><stop offset="0.094" stop-color="#7d6520"/><stop offset="0.125" stop-color="#7c641f"/><stop offset="0.156" stop-color="#896e23"/><stop offset="0.188" stop-color="#8d7224"/><stop offset="0.219" stop-color="#aa8a2b"/><stop offset="0.250" stop-color="#9a7d27"/><stop offset="0.281" stop-color="#977b27"/><stop offset="0.312" stop-color="#735c1d"/><stop offset="0.344" stop-color="#6f591c"/><stop offset="0.375" stop-color="#816821"/><stop offset="0.406" stop-color="#a5862a"/><stop offset="0.438" stop-color="#c4a032"/><stop offset="0.469" stop-color="#bc9930"/><stop offset="0.500" stop-color="#c09d31"/><stop offset="0.531" stop-color="#9b7e28"/><stop offset="0.562" stop-color="#8c7124"/><stop offset="0.594" stop-color="#7f6720"/><stop offset="0.625" stop-color="#937725"/><stop offset="0.656" stop-color="#8a7023"/><stop offset="0.688" stop-color="#977a26"/><stop offset="0.719" stop-color="#a9892b"/><stop offset="0.750" stop-color="#8a7023"/><stop offset="0.781" stop-color="#a18329"/><stop offset="0.812" stop-color="#9a7d27"/><stop offset="0.844" stop-color="#a3842a"/><stop offset="0.875" stop-color="#9f8129"/><stop offset="0.906" stop-color="#8a6f23"/><stop offset="0.938" stop-color="#9f8129"/><stop offset="0.969" stop-color="#a7882b"/><stop offset="1.000" stop-color="#9a7d27"/></linearGradient><linearGradient id="g54" gradientUnits="userSpaceOnUse" x1="0" y1="52" x2="0" y2="247.2"><stop offset="0.000" stop-color="#9a7d27"/><stop offset="0.031" stop-color="#8d7224"/><stop offset="0.062" stop-color="#574516"/><stop offset="0.094" stop-color="#957926"/><stop offset="0.125" stop-color="#a18329"/><stop offset="0.156" stop-color="#b0902d"/><stop offset="0.188" stop-color="#c29e32"/><stop offset="0.219" stop-color="#af8f2d"/><stop offset="0.250" stop-color="#ac8b2c"/><stop offset="0.281" stop-color="#9a7d27"/><stop offset="0.312" stop-color="#856c22"/><stop offset="0.344" stop-color="#78601e"/><stop offset="0.375" stop-color="#7a621f"/><stop offset="0.406" stop-color="#977a26"/><stop offset="0.438" stop-color="#b4922e"/><stop offset="0.469" stop-color="#dcb439"/><stop offset="0.500" stop-color="#d3ac36"/><stop offset="0.531" stop-color="#a98a2b"/><stop offset="0.562" stop-color="#b5932e"/><stop offset="0.594" stop-color="#987b27"/><stop offset="0.625" stop-color="#b1902d"/><stop offset="0.656" stop-color="#9f8128"/><stop offset="0.688" stop-color="#c9a434"/><stop offset="0.719" stop-color="#a7882b"/><stop offset="0.750" stop-color="#b4932e"/><stop offset="0.781" stop-color="#b3912e"/><stop offset="0.812" stop-color="#af8e2d"/><stop offset="0.844" stop-color="#8f7324"/><stop offset="0.875" stop-color="#9e8028"/><stop offset="0.906" stop-color="#b2912e"/><stop offset="0.938" stop-color="#ae8d2c"/><stop offset="0.969" stop-color="#9d7f28"/><stop offset="1.000" stop-color="#ba9730"/></linearGradient><linearGradient id="g55" gradientUnits="userSpaceOnUse" x1="0" y1="52" x2="0" y2="247.2"><stop offset="0.000" stop-color="#b9972f"/><stop offset="0.031" stop-color="#a7872b"/><stop offset="0.062" stop-color="#866c22"/><stop offset="0.094" stop-color="#9f8128"/><stop offset="0.125" stop-color="#cba534"/><stop offset="0.156" stop-color="#d7b037"/><stop offset="0.188" stop-color="#d8b037"/><stop offset="0.219" stop-color="#be9b31"/><stop offset="0.250" stop-color="#b4932e"/><stop offset="0.281" stop-color="#a5862a"/><stop offset="0.312" stop-color="#8f7424"/><stop offset="0.344" stop-color="#806720"/><stop offset="0.375" stop-color="#886e22"/><stop offset="0.406" stop-color="#997c27"/><stop offset="0.438" stop-color="#b1902d"/><stop offset="0.469" stop-color="#c5a132"/><stop offset="0.500" stop-color="#c8a333"/><stop offset="0.531" stop-color="#ad8d2c"/><stop offset="0.562" stop-color="#bb9830"/><stop offset="0.594" stop-color="#b1902d"/><stop offset="0.625" stop-color="#d1ab36"/><stop offset="0.656" stop-color="#b7952f"/><stop offset="0.688" stop-color="#caa534"/><stop offset="0.719" stop-color="#af8e2d"/><stop offset="0.750" stop-color="#a08229"/><stop offset="0.781" stop-color="#977b26"/><stop offset="0.812" stop-color="#907425"/><stop offset="0.844" stop-color="#715a1c"/><stop offset="0.875" stop-color="#856c22"/><stop offset="0.906" stop-color="#866c22"/><stop offset="0.938" stop-color="#a7882b"/><stop offset="0.969" stop-color="#af8e2d"/><stop offset="1.000" stop-color="#957926"/></linearGradient><linearGradient id="g56" gradientUnits="userSpaceOnUse" x1="0" y1="52" x2="0" y2="247.2"><stop offset="0.000" stop-color="#d4ad36"/><stop offset="0.031" stop-color="#cea835"/><stop offset="0.062" stop-color="#caa534"/><stop offset="0.094" stop-color="#e8be3c"/><stop offset="0.125" stop-color="#e8be3c"/><stop offset="0.156" stop-color="#e8be3c"/><stop offset="0.188" stop-color="#e8be3c"/><stop offset="0.219" stop-color="#e8be3c"/><stop offset="0.250" stop-color="#e7bd3b"/><stop offset="0.281" stop-color="#d3ac36"/><stop offset="0.312" stop-color="#bf9c31"/><stop offset="0.344" stop-color="#c39f32"/><stop offset="0.375" stop-color="#b4932e"/><stop offset="0.406" stop-color="#c39f32"/><stop offset="0.438" stop-color="#bb9830"/><stop offset="0.469" stop-color="#d7af37"/><stop offset="0.500" stop-color="#c39f32"/><stop offset="0.531" stop-color="#cca634"/><stop offset="0.562" stop-color="#e6bd3b"/><stop offset="0.594" stop-color="#e8be3c"/><stop offset="0.625" stop-color="#e8be3c"/><stop offset="0.656" stop-color="#e8be3c"/><stop offset="0.688" stop-color="#e8be3c"/><stop offset="0.719" stop-color="#d3ac36"/><stop offset="0.750" stop-color="#d4ad36"/><stop offset="0.781" stop-color="#ac8c2c"/><stop offset="0.812" stop-color="#896e23"/><stop offset="0.844" stop-color="#7a621f"/><stop offset="0.875" stop-color="#7b631f"/><stop offset="0.906" stop-color="#a98a2b"/><stop offset="0.938" stop-color="#b9972f"/><stop offset="0.969" stop-color="#a7882b"/><stop offset="1.000" stop-color="#bc9930"/></linearGradient><linearGradient id="g57" gradientUnits="userSpaceOnUse" x1="0" y1="52" x2="0" y2="247.2"><stop offset="0.000" stop-color="#dab238"/><stop offset="0.031" stop-color="#e4bb3b"/><stop offset="0.062" stop-color="#e8be3c"/><stop offset="0.094" stop-color="#e8be3c"/><stop offset="0.125" stop-color="#e8be3c"/><stop offset="0.156" stop-color="#e8be3c"/><stop offset="0.188" stop-color="#e8be3c"/><stop offset="0.219" stop-color="#e8be3c"/><stop offset="0.250" stop-color="#e8be3c"/><stop offset="0.281" stop-color="#e8be3c"/><stop offset="0.312" stop-color="#e8be3c"/><stop offset="0.344" stop-color="#e8be3c"/><stop offset="0.375" stop-color="#e8be3c"/><stop offset="0.406" stop-color="#e8be3c"/><stop offset="0.438" stop-color="#e8be3c"/><stop offset="0.469" stop-color="#deb539"/><stop offset="0.500" stop-color="#d7b037"/><stop offset="0.531" stop-color="#e8be3c"/><stop offset="0.562" stop-color="#e8be3c"/><stop offset="0.594" stop-color="#e8be3c"/><stop offset="0.625" stop-color="#e8be3c"/><stop offset="0.656" stop-color="#e8be3c"/><stop offset="0.688" stop-color="#e8be3c"/><stop offset="0.719" stop-color="#e8be3c"/><stop offset="0.750" stop-color="#e1b83a"/><stop offset="0.781" stop-color="#af8f2d"/><stop offset="0.812" stop-color="#977b26"/><stop offset="0.844" stop-color="#8f7424"/><stop offset="0.875" stop-color="#8d7224"/><stop offset="0.906" stop-color="#a5862a"/><stop offset="0.938" stop-color="#c29f32"/><stop offset="0.969" stop-color="#cca634"/><stop offset="1.000" stop-color="#c8a333"/></linearGradient><linearGradient id="g58" gradientUnits="userSpaceOnUse" x1="0" y1="52" x2="0" y2="247.2"><stop offset="0.000" stop-color="#aa8a2b"/><stop offset="0.031" stop-color="#b7952f"/><stop offset="0.062" stop-color="#ba9830"/><stop offset="0.094" stop-color="#c6a233"/><stop offset="0.125" stop-color="#cda735"/><stop offset="0.156" stop-color="#e8be3c"/><stop offset="0.188" stop-color="#e8be3c"/><stop offset="0.219" stop-color="#dcb439"/><stop offset="0.250" stop-color="#ddb539"/><stop offset="0.281" stop-color="#e8be3c"/><stop offset="0.312" stop-color="#e2b93a"/><stop offset="0.344" stop-color="#cea835"/><stop offset="0.375" stop-color="#d5ae37"/><stop offset="0.406" stop-color="#cea835"/><stop offset="0.438" stop-color="#dbb338"/><stop offset="0.469" stop-color="#c5a032"/><stop offset="0.500" stop-color="#bb9830"/><stop offset="0.531" stop-color="#d2ac36"/><stop offset="0.562" stop-color="#d2ab36"/><stop offset="0.594" stop-color="#b3922e"/><stop offset="0.625" stop-color="#be9b31"/><stop offset="0.656" stop-color="#b8962f"/><stop offset="0.688" stop-color="#c39f32"/><stop offset="0.719" stop-color="#b9972f"/><stop offset="0.750" stop-color="#ac8c2c"/><stop offset="0.781" stop-color="#9d7f28"/><stop offset="0.812" stop-color="#ab8b2c"/><stop offset="0.844" stop-color="#917625"/><stop offset="0.875" stop-color="#a28429"/><stop offset="0.906" stop-color="#9c7e28"/><stop offset="0.938" stop-color="#b1902d"/><stop offset="0.969" stop-color="#a7882b"/><stop offset="1.000" stop-color="#977a26"/></linearGradient><linearGradient id="g59" gradientUnits="userSpaceOnUse" x1="0" y1="52" x2="0" y2="247.2"><stop offset="0.000" stop-color="#967926"/><stop offset="0.031" stop-color="#7b631f"/><stop offset="0.062" stop-color="#7f6620"/><stop offset="0.094" stop-color="#735d1d"/><stop offset="0.125" stop-color="#886e23"/><stop offset="0.156" stop-color="#8a6f23"/><stop offset="0.188" stop-color="#947826"/><stop offset="0.219" stop-color="#cda735"/><stop offset="0.250" stop-color="#a8882b"/><stop offset="0.281" stop-color="#79611e"/><stop offset="0.312" stop-color="#846a21"/><stop offset="0.344" stop-color="#886e23"/><stop offset="0.375" stop-color="#816821"/><stop offset="0.406" stop-color="#7d641f"/><stop offset="0.438" stop-color="#856b22"/><stop offset="0.469" stop-color="#836a21"/><stop offset="0.500" stop-color="#816821"/><stop offset="0.531" stop-color="#7b631f"/><stop offset="0.562" stop-color="#78601e"/><stop offset="0.594" stop-color="#7c631f"/><stop offset="0.625" stop-color="#7d6520"/><stop offset="0.656" stop-color="#816821"/><stop offset="0.688" stop-color="#755e1d"/><stop offset="0.719" stop-color="#6d571b"/><stop offset="0.750" stop-color="#725c1d"/><stop offset="0.781" stop-color="#735c1d"/><stop offset="0.812" stop-color="#705a1c"/><stop offset="0.844" stop-color="#7b631f"/><stop offset="0.875" stop-color="#6d571b"/><stop offset="0.906" stop-color="#735c1d"/><stop offset="0.938" stop-color="#705a1c"/><stop offset="0.969" stop-color="#6e581c"/><stop offset="1.000" stop-color="#725b1d"/></linearGradient><linearGradient id="g60" gradientUnits="userSpaceOnUse" x1="0" y1="52" x2="0" y2="247.2"><stop offset="0.000" stop-color="#6d571b"/><stop offset="0.031" stop-color="#32260c"/><stop offset="0.062" stop-color="#31250c"/><stop offset="0.094" stop-color="#31260c"/><stop offset="0.125" stop-color="#30250b"/><stop offset="0.156" stop-color="#34280c"/><stop offset="0.188" stop-color="#624e18"/><stop offset="0.219" stop-color="#a7882b"/><stop offset="0.250" stop-color="#8a6f23"/><stop offset="0.281" stop-color="#1a1206"/><stop offset="0.312" stop-color="#1a1206"/><stop offset="0.344" stop-color="#1a1206"/><stop offset="0.375" stop-color="#1a1206"/><stop offset="0.406" stop-color="#1a1206"/><stop offset="0.438" stop-color="#1a1206"/><stop offset="0.469" stop-color="#1a1206"/><stop offset="0.500" stop-color="#1a1206"/><stop offset="0.531" stop-color="#1a1206"/><stop offset="0.562" stop-color="#1a1206"/><stop offset="0.594" stop-color="#1a1206"/><stop offset="0.625" stop-color="#1a1206"/><stop offset="0.656" stop-color="#1a1206"/><stop offset="0.688" stop-color="#1a1206"/><stop offset="0.719" stop-color="#1a1206"/><stop offset="0.750" stop-color="#1a1206"/><stop offset="0.781" stop-color="#1a1206"/><stop offset="0.812" stop-color="#1a1206"/><stop offset="0.844" stop-color="#1a1206"/><stop offset="0.875" stop-color="#1a1206"/><stop offset="0.906" stop-color="#1a1206"/><stop offset="0.938" stop-color="#1a1206"/><stop offset="0.969" stop-color="#1a1206"/><stop offset="1.000" stop-color="#1a1206"/></linearGradient><linearGradient id="g61" gradientUnits="userSpaceOnUse" x1="0" y1="52" x2="0" y2="247.2"><stop offset="0.000" stop-color="#7a621f"/><stop offset="0.031" stop-color="#604d18"/><stop offset="0.062" stop-color="#604d18"/><stop offset="0.094" stop-color="#604c18"/><stop offset="0.125" stop-color="#67531a"/><stop offset="0.156" stop-color="#604c18"/><stop offset="0.188" stop-color="#705a1c"/><stop offset="0.219" stop-color="#846a21"/><stop offset="0.250" stop-color="#937725"/><stop offset="0.281" stop-color="#5b4917"/><stop offset="0.312" stop-color="#715b1c"/><stop offset="0.344" stop-color="#513f14"/><stop offset="0.375" stop-color="#604d18"/><stop offset="0.406" stop-color="#655119"/><stop offset="0.438" stop-color="#594716"/><stop offset="0.469" stop-color="#634f19"/><stop offset="0.500" stop-color="#67521a"/><stop offset="0.531" stop-color="#5d4a17"/><stop offset="0.562" stop-color="#5b4817"/><stop offset="0.594" stop-color="#614d18"/><stop offset="0.625" stop-color="#67521a"/><stop offset="0.656" stop-color="#655119"/><stop offset="0.688" stop-color="#655119"/><stop offset="0.719" stop-color="#5e4b18"/><stop offset="0.750" stop-color="#69541a"/><stop offset="0.781" stop-color="#67521a"/><stop offset="0.812" stop-color="#634e19"/><stop offset="0.844" stop-color="#67521a"/><stop offset="0.875" stop-color="#68531a"/><stop offset="0.906" stop-color="#5d4a17"/><stop offset="0.938" stop-color="#5b4817"/><stop offset="0.969" stop-color="#645019"/><stop offset="1.000" stop-color="#655119"/></linearGradient><linearGradient id="g62" gradientUnits="userSpaceOnUse" x1="0" y1="52" x2="0" y2="247.2"><stop offset="0.000" stop-color="#ba972f"/><stop offset="0.031" stop-color="#b6942f"/><stop offset="0.062" stop-color="#9c7e28"/><stop offset="0.094" stop-color="#9f8128"/><stop offset="0.125" stop-color="#bd9a30"/><stop offset="0.156" stop-color="#a08229"/><stop offset="0.188" stop-color="#b9972f"/><stop offset="0.219" stop-color="#a6872a"/><stop offset="0.250" stop-color="#a28429"/><stop offset="0.281" stop-color="#8a7023"/><stop offset="0.312" stop-color="#715a1c"/><stop offset="0.344" stop-color="#463711"/><stop offset="0.375" stop-color="#544315"/><stop offset="0.406" stop-color="#9e8028"/><stop offset="0.438" stop-color="#bf9b31"/><stop offset="0.469" stop-color="#b1902d"/><stop offset="0.500" stop-color="#b5932e"/><stop offset="0.531" stop-color="#a5862a"/><stop offset="0.562" stop-color="#ab8b2c"/><stop offset="0.594" stop-color="#b5932e"/><stop offset="0.625" stop-color="#a28429"/><stop offset="0.656" stop-color="#b5942e"/><stop offset="0.688" stop-color="#b5932e"/><stop offset="0.719" stop-color="#ad8d2c"/><stop offset="0.750" stop-color="#b8962f"/><stop offset="0.781" stop-color="#b9962f"/><stop offset="0.812" stop-color="#af8e2d"/><stop offset="0.844" stop-color="#b8962f"/><stop offset="0.875" stop-color="#a08229"/><stop offset="0.906" stop-color="#ab8b2c"/><stop offset="0.938" stop-color="#b1902d"/><stop offset="0.969" stop-color="#c29e32"/><stop offset="1.000" stop-color="#b7952f"/></linearGradient><linearGradient id="g63" gradientUnits="userSpaceOnUse" x1="0" y1="52" x2="0" y2="247.2"><stop offset="0.000" stop-color="#9d8028"/><stop offset="0.031" stop-color="#826821"/><stop offset="0.062" stop-color="#5d4a17"/><stop offset="0.094" stop-color="#644f19"/><stop offset="0.125" stop-color="#927625"/><stop offset="0.156" stop-color="#a7882b"/><stop offset="0.188" stop-color="#a4852a"/><stop offset="0.219" stop-color="#957826"/><stop offset="0.250" stop-color="#aa8a2b"/><stop offset="0.281" stop-color="#8a6f23"/><stop offset="0.312" stop-color="#4f3e14"/><stop offset="0.344" stop-color="#2c210a"/><stop offset="0.375" stop-color="#463711"/><stop offset="0.406" stop-color="#745d1d"/><stop offset="0.438" stop-color="#9c7f28"/><stop offset="0.469" stop-color="#b7952f"/><stop offset="0.500" stop-color="#cfa935"/><stop offset="0.531" stop-color="#b4932e"/><stop offset="0.562" stop-color="#c19d31"/><stop offset="0.594" stop-color="#be9b31"/><stop offset="0.625" stop-color="#b6942f"/><stop offset="0.656" stop-color="#b8952f"/><stop offset="0.688" stop-color="#c6a133"/><stop offset="0.719" stop-color="#cba534"/><stop offset="0.750" stop-color="#bf9c31"/><stop offset="0.781" stop-color="#b1902d"/><stop offset="0.812" stop-color="#ad8d2c"/><stop offset="0.844" stop-color="#b8962f"/><stop offset="0.875" stop-color="#b7952f"/><stop offset="0.906" stop-color="#a5862a"/><stop offset="0.938" stop-color="#a6862a"/><stop offset="0.969" stop-color="#b08f2d"/><stop offset="1.000" stop-color="#957926"/></linearGradient><linearGradient id="g64" gradientUnits="userSpaceOnUse" x1="0" y1="52" x2="0" y2="247.2"><stop offset="0.000" stop-color="#a08129"/><stop offset="0.031" stop-color="#68531a"/><stop offset="0.062" stop-color="#36290d"/><stop offset="0.094" stop-color="#493912"/><stop offset="0.125" stop-color="#745d1d"/><stop offset="0.156" stop-color="#aa8a2b"/><stop offset="0.188" stop-color="#a5862a"/><stop offset="0.219" stop-color="#8f7424"/><stop offset="0.250" stop-color="#947826"/><stop offset="0.281" stop-color="#7a621f"/><stop offset="0.312" stop-color="#4d3d13"/><stop offset="0.344" stop-color="#1f1607"/><stop offset="0.375" stop-color="#392b0e"/><stop offset="0.406" stop-color="#806720"/><stop offset="0.438" stop-color="#a28329"/><stop offset="0.469" stop-color="#bb9830"/><stop offset="0.500" stop-color="#b6942e"/><stop offset="0.531" stop-color="#d3ac36"/><stop offset="0.562" stop-color="#e3ba3a"/><stop offset="0.594" stop-color="#e8be3c"/><stop offset="0.625" stop-color="#e8be3c"/><stop offset="0.656" stop-color="#d2ab36"/><stop offset="0.688" stop-color="#e1b83a"/><stop offset="0.719" stop-color="#d3ad36"/><stop offset="0.750" stop-color="#c19d31"/><stop offset="0.781" stop-color="#a5862a"/><stop offset="0.812" stop-color="#917525"/><stop offset="0.844" stop-color="#957826"/><stop offset="0.875" stop-color="#8e7224"/><stop offset="0.906" stop-color="#ad8d2c"/><stop offset="0.938" stop-color="#b1902d"/><stop offset="0.969" stop-color="#927625"/><stop offset="1.000" stop-color="#a5862a"/></linearGradient><linearGradient id="g65" gradientUnits="userSpaceOnUse" x1="0" y1="52" x2="0" y2="247.2"><stop offset="0.000" stop-color="#947826"/><stop offset="0.031" stop-color="#78601e"/><stop offset="0.062" stop-color="#503f14"/><stop offset="0.094" stop-color="#5f4c18"/><stop offset="0.125" stop-color="#715b1d"/><stop offset="0.156" stop-color="#917525"/><stop offset="0.188" stop-color="#9f8129"/><stop offset="0.219" stop-color="#9b7e27"/><stop offset="0.250" stop-color="#997c27"/><stop offset="0.281" stop-color="#8b7123"/><stop offset="0.312" stop-color="#453511"/><stop offset="0.344" stop-color="#231a08"/><stop offset="0.375" stop-color="#372a0d"/><stop offset="0.406" stop-color="#78601e"/><stop offset="0.438" stop-color="#997c27"/><stop offset="0.469" stop-color="#b9962f"/><stop offset="0.500" stop-color="#cba634"/><stop offset="0.531" stop-color="#af8e2d"/><stop offset="0.562" stop-color="#b8962f"/><stop offset="0.594" stop-color="#d2ab36"/><stop offset="0.625" stop-color="#b9962f"/><stop offset="0.656" stop-color="#b7952f"/><stop offset="0.688" stop-color="#c19e32"/><stop offset="0.719" stop-color="#a5862a"/><stop offset="0.750" stop-color="#846b21"/><stop offset="0.781" stop-color="#7e6620"/><stop offset="0.812" stop-color="#655119"/><stop offset="0.844" stop-color="#7a621f"/><stop offset="0.875" stop-color="#826921"/><stop offset="0.906" stop-color="#836a21"/><stop offset="0.938" stop-color="#9f8129"/><stop offset="0.969" stop-color="#a08229"/><stop offset="1.000" stop-color="#8a6f23"/></linearGradient><linearGradient id="g66" gradientUnits="userSpaceOnUse" x1="0" y1="52" x2="0" y2="247.2"><stop offset="0.000" stop-color="#957926"/><stop offset="0.031" stop-color="#9d7f28"/><stop offset="0.062" stop-color="#8f7424"/><stop offset="0.094" stop-color="#8e7324"/><stop offset="0.125" stop-color="#a6872a"/><stop offset="0.156" stop-color="#907425"/><stop offset="0.188" stop-color="#aa8a2b"/><stop offset="0.219" stop-color="#a08229"/><stop offset="0.250" stop-color="#af8f2d"/><stop offset="0.281" stop-color="#8a6f23"/><stop offset="0.312" stop-color="#5e4b18"/><stop offset="0.344" stop-color="#392c0e"/><stop offset="0.375" stop-color="#544315"/><stop offset="0.406" stop-color="#8c7123"/><stop offset="0.438" stop-color="#937725"/><stop offset="0.469" stop-color="#af8f2d"/><stop offset="0.500" stop-color="#b6952f"/><stop offset="0.531" stop-color="#bb9830"/><stop offset="0.562" stop-color="#b8962f"/><stop offset="0.594" stop-color="#bb9830"/><stop offset="0.625" stop-color="#c39f32"/><stop offset="0.656" stop-color="#a6872a"/><stop offset="0.688" stop-color="#ac8c2c"/><stop offset="0.719" stop-color="#a08229"/><stop offset="0.750" stop-color="#715b1c"/><stop offset="0.781" stop-color="#5b4917"/><stop offset="0.812" stop-color="#433410"/><stop offset="0.844" stop-color="#433410"/><stop offset="0.875" stop-color="#6d571b"/><stop offset="0.906" stop-color="#866c22"/><stop offset="0.938" stop-color="#8c7123"/><stop offset="0.969" stop-color="#957926"/><stop offset="1.000" stop-color="#b3912e"/></linearGradient><linearGradient id="g67" gradientUnits="userSpaceOnUse" x1="0" y1="52" x2="0" y2="247.2"><stop offset="0.000" stop-color="#a28429"/><stop offset="0.031" stop-color="#ae8d2c"/><stop offset="0.062" stop-color="#947826"/><stop offset="0.094" stop-color="#b2912e"/><stop offset="0.125" stop-color="#977a26"/><stop offset="0.156" stop-color="#a18329"/><stop offset="0.188" stop-color="#a4852a"/><stop offset="0.219" stop-color="#9f8129"/><stop offset="0.250" stop-color="#b5932e"/><stop offset="0.281" stop-color="#907425"/><stop offset="0.312" stop-color="#79611e"/><stop offset="0.344" stop-color="#503f14"/><stop offset="0.375" stop-color="#655119"/><stop offset="0.406" stop-color="#937725"/><stop offset="0.438" stop-color="#af8f2d"/><stop offset="0.469" stop-color="#a7882b"/><stop offset="0.500" stop-color="#b7952f"/><stop offset="0.531" stop-color="#9d7f28"/><stop offset="0.562" stop-color="#bc9930"/><stop offset="0.594" stop-color="#ac8c2c"/><stop offset="0.625" stop-color="#ab8b2c"/><stop offset="0.656" stop-color="#b4932e"/><stop offset="0.688" stop-color="#9a7d27"/><stop offset="0.719" stop-color="#997c27"/><stop offset="0.750" stop-color="#745d1d"/><stop offset="0.781" stop-color="#554315"/><stop offset="0.812" stop-color="#443511"/><stop offset="0.844" stop-color="#4b3b13"/><stop offset="0.875" stop-color="#715b1d"/><stop offset="0.906" stop-color="#937725"/><stop offset="0.938" stop-color="#917625"/><stop offset="0.969" stop-color="#af8f2d"/><stop offset="1.000" stop-color="#a5862a"/></linearGradient><linearGradient id="g68" gradientUnits="userSpaceOnUse" x1="0" y1="52" x2="0" y2="247.2"><stop offset="0.000" stop-color="#b6942f"/><stop offset="0.031" stop-color="#be9b31"/><stop offset="0.062" stop-color="#b8962f"/><stop offset="0.094" stop-color="#c09c31"/><stop offset="0.125" stop-color="#c19d31"/><stop offset="0.156" stop-color="#a08229"/><stop offset="0.188" stop-color="#8b7023"/><stop offset="0.219" stop-color="#987b27"/><stop offset="0.250" stop-color="#a08229"/><stop offset="0.281" stop-color="#b2912d"/><stop offset="0.312" stop-color="#937725"/><stop offset="0.344" stop-color="#715b1c"/><stop offset="0.375" stop-color="#806720"/><stop offset="0.406" stop-color="#967926"/><stop offset="0.438" stop-color="#a5862a"/><stop offset="0.469" stop-color="#c49f32"/><stop offset="0.500" stop-color="#be9b31"/><stop offset="0.531" stop-color="#c9a433"/><stop offset="0.562" stop-color="#af8e2d"/><stop offset="0.594" stop-color="#b08f2d"/><stop offset="0.625" stop-color="#be9a31"/><stop offset="0.656" stop-color="#bb9930"/><stop offset="0.688" stop-color="#ae8e2c"/><stop offset="0.719" stop-color="#a5862a"/><stop offset="0.750" stop-color="#a6872a"/><stop offset="0.781" stop-color="#816821"/><stop offset="0.812" stop-color="#846b22"/><stop offset="0.844" stop-color="#816821"/><stop offset="0.875" stop-color="#9f8128"/><stop offset="0.906" stop-color="#b4932e"/><stop offset="0.938" stop-color="#a18329"/><stop offset="0.969" stop-color="#ad8d2c"/><stop offset="1.000" stop-color="#b08f2d"/></linearGradient><linearGradient id="g69" gradientUnits="userSpaceOnUse" x1="0" y1="52" x2="0" y2="247.2"><stop offset="0.000" stop-color="#cfa935"/><stop offset="0.031" stop-color="#caa534"/><stop offset="0.062" stop-color="#c8a433"/><stop offset="0.094" stop-color="#c29e32"/><stop offset="0.125" stop-color="#b2912e"/><stop offset="0.156" stop-color="#957826"/><stop offset="0.188" stop-color="#665119"/><stop offset="0.219" stop-color="#70591c"/><stop offset="0.250" stop-color="#ab8b2c"/><stop offset="0.281" stop-color="#a6872a"/><stop offset="0.312" stop-color="#a18329"/><stop offset="0.344" stop-color="#917525"/><stop offset="0.375" stop-color="#a7882b"/><stop offset="0.406" stop-color="#b2912d"/><stop offset="0.438" stop-color="#a98a2b"/><stop offset="0.469" stop-color="#b7952f"/><stop offset="0.500" stop-color="#c6a133"/><stop offset="0.531" stop-color="#a7882b"/><stop offset="0.562" stop-color="#ab8b2c"/><stop offset="0.594" stop-color="#c09c31"/><stop offset="0.625" stop-color="#cba634"/><stop offset="0.656" stop-color="#ac8b2c"/><stop offset="0.688" stop-color="#b6942e"/><stop offset="0.719" stop-color="#cca634"/><stop offset="0.750" stop-color="#c09c31"/><stop offset="0.781" stop-color="#c09d31"/><stop offset="0.812" stop-color="#a4852a"/><stop offset="0.844" stop-color="#bb9830"/><stop offset="0.875" stop-color="#a3852a"/><stop offset="0.906" stop-color="#ae8d2c"/><stop offset="0.938" stop-color="#cba634"/><stop offset="0.969" stop-color="#b4922e"/><stop offset="1.000" stop-color="#c09d31"/></linearGradient><linearGradient id="g70" gradientUnits="userSpaceOnUse" x1="0" y1="52" x2="0" y2="247.2"><stop offset="0.000" stop-color="#8a7023"/><stop offset="0.031" stop-color="#a18229"/><stop offset="0.062" stop-color="#a8892b"/><stop offset="0.094" stop-color="#846b21"/><stop offset="0.125" stop-color="#8f7424"/><stop offset="0.156" stop-color="#634f19"/><stop offset="0.188" stop-color="#4e3e13"/><stop offset="0.219" stop-color="#594716"/><stop offset="0.250" stop-color="#765f1e"/><stop offset="0.281" stop-color="#886e22"/><stop offset="0.312" stop-color="#8b7023"/><stop offset="0.344" stop-color="#967a26"/><stop offset="0.375" stop-color="#7d6520"/><stop offset="0.406" stop-color="#856c22"/><stop offset="0.438" stop-color="#826921"/><stop offset="0.469" stop-color="#755e1d"/><stop offset="0.500" stop-color="#937725"/><stop offset="0.531" stop-color="#7f6720"/><stop offset="0.562" stop-color="#9d7f28"/><stop offset="0.594" stop-color="#876d22"/><stop offset="0.625" stop-color="#866c22"/><stop offset="0.656" stop-color="#9c7f28"/><stop offset="0.688" stop-color="#8f7424"/><stop offset="0.719" stop-color="#806720"/><stop offset="0.750" stop-color="#907525"/><stop offset="0.781" stop-color="#957926"/><stop offset="0.812" stop-color="#a18229"/><stop offset="0.844" stop-color="#a9892b"/><stop offset="0.875" stop-color="#9d7f28"/><stop offset="0.906" stop-color="#9b7e27"/><stop offset="0.938" stop-color="#a4852a"/><stop offset="0.969" stop-color="#a08129"/><stop offset="1.000" stop-color="#a7872b"/></linearGradient><linearGradient id="g71" gradientUnits="userSpaceOnUse" x1="0" y1="52" x2="0" y2="247.2"><stop offset="0.000" stop-color="#937725"/><stop offset="0.031" stop-color="#a4852a"/><stop offset="0.062" stop-color="#a4852a"/><stop offset="0.094" stop-color="#987b27"/><stop offset="0.125" stop-color="#957926"/><stop offset="0.156" stop-color="#725c1d"/><stop offset="0.188" stop-color="#735c1d"/><stop offset="0.219" stop-color="#7d6420"/><stop offset="0.250" stop-color="#7c641f"/><stop offset="0.281" stop-color="#907525"/><stop offset="0.312" stop-color="#7c641f"/><stop offset="0.344" stop-color="#7d6520"/><stop offset="0.375" stop-color="#6a551b"/><stop offset="0.406" stop-color="#6f591c"/><stop offset="0.438" stop-color="#69541a"/><stop offset="0.469" stop-color="#7c641f"/><stop offset="0.500" stop-color="#725b1d"/><stop offset="0.531" stop-color="#79621f"/><stop offset="0.562" stop-color="#846a21"/><stop offset="0.594" stop-color="#7f6620"/><stop offset="0.625" stop-color="#816821"/><stop offset="0.656" stop-color="#987b27"/><stop offset="0.688" stop-color="#8d7224"/><stop offset="0.719" stop-color="#907525"/><stop offset="0.750" stop-color="#a08229"/><stop offset="0.781" stop-color="#ab8b2c"/><stop offset="0.812" stop-color="#a28429"/><stop offset="0.844" stop-color="#a6872a"/><stop offset="0.875" stop-color="#927625"/><stop offset="0.906" stop-color="#9c7e28"/><stop offset="0.938" stop-color="#aa8a2b"/><stop offset="0.969" stop-color="#a18329"/><stop offset="1.000" stop-color="#9b7e27"/></linearGradient><linearGradient id="g72" gradientUnits="userSpaceOnUse" x1="0" y1="52" x2="0" y2="247.2"><stop offset="0.000" stop-color="#b9972f"/><stop offset="0.031" stop-color="#bd9a30"/><stop offset="0.062" stop-color="#be9b31"/><stop offset="0.094" stop-color="#957926"/><stop offset="0.125" stop-color="#9d7f28"/><stop offset="0.156" stop-color="#b1902d"/><stop offset="0.188" stop-color="#927625"/><stop offset="0.219" stop-color="#866c22"/><stop offset="0.250" stop-color="#8c7124"/><stop offset="0.281" stop-color="#8f7424"/><stop offset="0.312" stop-color="#78611e"/><stop offset="0.344" stop-color="#6f591c"/><stop offset="0.375" stop-color="#6b561b"/><stop offset="0.406" stop-color="#5f4c18"/><stop offset="0.438" stop-color="#69541a"/><stop offset="0.469" stop-color="#5b4817"/><stop offset="0.500" stop-color="#68531a"/><stop offset="0.531" stop-color="#725c1d"/><stop offset="0.562" stop-color="#745d1d"/><stop offset="0.594" stop-color="#876d22"/><stop offset="0.625" stop-color="#9e8028"/><stop offset="0.656" stop-color="#8a7023"/><stop offset="0.688" stop-color="#7e6620"/><stop offset="0.719" stop-color="#927725"/><stop offset="0.750" stop-color="#927625"/><stop offset="0.781" stop-color="#9b7d27"/><stop offset="0.812" stop-color="#b3922e"/><stop offset="0.844" stop-color="#b8962f"/><stop offset="0.875" stop-color="#a6872a"/><stop offset="0.906" stop-color="#9d8028"/><stop offset="0.938" stop-color="#9a7d27"/><stop offset="0.969" stop-color="#b9972f"/><stop offset="1.000" stop-color="#a08229"/></linearGradient><linearGradient id="g73" gradientUnits="userSpaceOnUse" x1="0" y1="52" x2="0" y2="247.2"><stop offset="0.000" stop-color="#896f23"/><stop offset="0.031" stop-color="#8d7224"/><stop offset="0.062" stop-color="#8e7324"/><stop offset="0.094" stop-color="#77601e"/><stop offset="0.125" stop-color="#896f23"/><stop offset="0.156" stop-color="#886d22"/><stop offset="0.188" stop-color="#816821"/><stop offset="0.219" stop-color="#816821"/><stop offset="0.250" stop-color="#68531a"/><stop offset="0.281" stop-color="#6d571b"/><stop offset="0.312" stop-color="#634f19"/><stop offset="0.344" stop-color="#4c3c13"/><stop offset="0.375" stop-color="#423310"/><stop offset="0.406" stop-color="#3a2d0e"/><stop offset="0.438" stop-color="#3b2e0e"/><stop offset="0.469" stop-color="#3d2f0f"/><stop offset="0.500" stop-color="#443511"/><stop offset="0.531" stop-color="#574516"/><stop offset="0.562" stop-color="#634f19"/><stop offset="0.594" stop-color="#7a621f"/><stop offset="0.625" stop-color="#816821"/><stop offset="0.656" stop-color="#564415"/><stop offset="0.688" stop-color="#493a12"/><stop offset="0.719" stop-color="#564415"/><stop offset="0.750" stop-color="#886e23"/><stop offset="0.781" stop-color="#917525"/><stop offset="0.812" stop-color="#7f6720"/><stop offset="0.844" stop-color="#a4852a"/><stop offset="0.875" stop-color="#a6872a"/><stop offset="0.906" stop-color="#967926"/><stop offset="0.938" stop-color="#a08229"/><stop offset="0.969" stop-color="#8a7023"/><stop offset="1.000" stop-color="#a8882b"/></linearGradient><linearGradient id="g74" gradientUnits="userSpaceOnUse" x1="0" y1="52" x2="0" y2="247.2"><stop offset="0.000" stop-color="#836a21"/><stop offset="0.031" stop-color="#503f14"/><stop offset="0.062" stop-color="#483812"/><stop offset="0.094" stop-color="#4a3a12"/><stop offset="0.125" stop-color="#443511"/><stop offset="0.156" stop-color="#463711"/><stop offset="0.188" stop-color="#483812"/><stop offset="0.219" stop-color="#493912"/><stop offset="0.250" stop-color="#473812"/><stop offset="0.281" stop-color="#443511"/><stop offset="0.312" stop-color="#423310"/><stop offset="0.344" stop-color="#3e300f"/><stop offset="0.375" stop-color="#3d2f0f"/><stop offset="0.406" stop-color="#35280d"/><stop offset="0.438" stop-color="#33270c"/><stop offset="0.469" stop-color="#372a0d"/><stop offset="0.500" stop-color="#443511"/><stop offset="0.531" stop-color="#544215"/><stop offset="0.562" stop-color="#67521a"/><stop offset="0.594" stop-color="#705a1c"/><stop offset="0.625" stop-color="#745d1d"/><stop offset="0.656" stop-color="#3d2f0f"/><stop offset="0.688" stop-color="#271d09"/><stop offset="0.719" stop-color="#413310"/><stop offset="0.750" stop-color="#67521a"/><stop offset="0.781" stop-color="#7b631f"/><stop offset="0.812" stop-color="#8d7224"/><stop offset="0.844" stop-color="#866c22"/><stop offset="0.875" stop-color="#a5862a"/><stop offset="0.906" stop-color="#8c7123"/><stop offset="0.938" stop-color="#8e7324"/><stop offset="0.969" stop-color="#9b7e28"/><stop offset="1.000" stop-color="#907425"/></linearGradient><linearGradient id="g75" gradientUnits="userSpaceOnUse" x1="0" y1="52" x2="0" y2="247.2"><stop offset="0.000" stop-color="#8d7224"/><stop offset="0.031" stop-color="#6e581c"/><stop offset="0.062" stop-color="#715b1c"/><stop offset="0.094" stop-color="#705a1c"/><stop offset="0.125" stop-color="#604c18"/><stop offset="0.156" stop-color="#79611f"/><stop offset="0.188" stop-color="#745d1d"/><stop offset="0.219" stop-color="#66511a"/><stop offset="0.250" stop-color="#6d571b"/><stop offset="0.281" stop-color="#6a551b"/><stop offset="0.312" stop-color="#4f3e14"/><stop offset="0.344" stop-color="#493912"/><stop offset="0.375" stop-color="#3c2e0e"/><stop offset="0.406" stop-color="#382b0e"/><stop offset="0.438" stop-color="#362a0d"/><stop offset="0.469" stop-color="#3a2d0e"/><stop offset="0.500" stop-color="#463611"/><stop offset="0.531" stop-color="#574516"/><stop offset="0.562" stop-color="#645019"/><stop offset="0.594" stop-color="#5e4b18"/><stop offset="0.625" stop-color="#6d571b"/><stop offset="0.656" stop-color="#473812"/><stop offset="0.688" stop-color="#271d09"/><stop offset="0.719" stop-color="#493912"/><stop offset="0.750" stop-color="#7e6520"/><stop offset="0.781" stop-color="#866c22"/><stop offset="0.812" stop-color="#977a26"/><stop offset="0.844" stop-color="#8d7224"/><stop offset="0.875" stop-color="#8b7023"/><stop offset="0.906" stop-color="#987b27"/><stop offset="0.938" stop-color="#8a7023"/><stop offset="0.969" stop-color="#9d7f28"/><stop offset="1.000" stop-color="#8d7224"/></linearGradient><linearGradient id="g76" gradientUnits="userSpaceOnUse" x1="0" y1="52" x2="0" y2="247.2"><stop offset="0.000" stop-color="#ac8c2c"/><stop offset="0.031" stop-color="#957826"/><stop offset="0.062" stop-color="#947826"/><stop offset="0.094" stop-color="#866c22"/><stop offset="0.125" stop-color="#816821"/><stop offset="0.156" stop-color="#967926"/><stop offset="0.188" stop-color="#8a7023"/><stop offset="0.219" stop-color="#826921"/><stop offset="0.250" stop-color="#8e7224"/><stop offset="0.281" stop-color="#68531a"/><stop offset="0.312" stop-color="#655019"/><stop offset="0.344" stop-color="#68531a"/><stop offset="0.375" stop-color="#503f14"/><stop offset="0.406" stop-color="#534215"/><stop offset="0.438" stop-color="#564415"/><stop offset="0.469" stop-color="#4d3c13"/><stop offset="0.500" stop-color="#5c4917"/><stop offset="0.531" stop-color="#614d18"/><stop offset="0.562" stop-color="#7e6520"/><stop offset="0.594" stop-color="#775f1e"/><stop offset="0.625" stop-color="#947826"/><stop offset="0.656" stop-color="#634f19"/><stop offset="0.688" stop-color="#4a3a12"/><stop offset="0.719" stop-color="#6b561b"/><stop offset="0.750" stop-color="#846a21"/><stop offset="0.781" stop-color="#a6872a"/><stop offset="0.812" stop-color="#a7882b"/><stop offset="0.844" stop-color="#977a26"/><stop offset="0.875" stop-color="#a3842a"/><stop offset="0.906" stop-color="#907425"/><stop offset="0.938" stop-color="#9b7e27"/><stop offset="0.969" stop-color="#917525"/><stop offset="1.000" stop-color="#9d8028"/></linearGradient><linearGradient id="g77" gradientUnits="userSpaceOnUse" x1="0" y1="52" x2="0" y2="247.2"><stop offset="0.000" stop-color="#77601e"/><stop offset="0.031" stop-color="#7c631f"/><stop offset="0.062" stop-color="#554315"/><stop offset="0.094" stop-color="#5a4716"/><stop offset="0.125" stop-color="#644f19"/><stop offset="0.156" stop-color="#7b631f"/><stop offset="0.188" stop-color="#7b631f"/><stop offset="0.219" stop-color="#917525"/><stop offset="0.250" stop-color="#826921"/><stop offset="0.281" stop-color="#6f591c"/><stop offset="0.312" stop-color="#634f19"/><stop offset="0.344" stop-color="#644f19"/><stop offset="0.375" stop-color="#715a1c"/><stop offset="0.406" stop-color="#5f4c18"/><stop offset="0.438" stop-color="#6c561b"/><stop offset="0.469" stop-color="#634f19"/><stop offset="0.500" stop-color="#604d18"/><stop offset="0.531" stop-color="#7a621f"/><stop offset="0.562" stop-color="#68531a"/><stop offset="0.594" stop-color="#765f1e"/><stop offset="0.625" stop-color="#8b7023"/><stop offset="0.656" stop-color="#77601e"/><stop offset="0.688" stop-color="#655019"/><stop offset="0.719" stop-color="#655119"/><stop offset="0.750" stop-color="#806720"/><stop offset="0.781" stop-color="#9c7e28"/><stop offset="0.812" stop-color="#a28429"/><stop offset="0.844" stop-color="#9f8128"/><stop offset="0.875" stop-color="#836921"/><stop offset="0.906" stop-color="#9c7e28"/><stop offset="0.938" stop-color="#8d7224"/><stop offset="0.969" stop-color="#987b27"/><stop offset="1.000" stop-color="#876d22"/></linearGradient><linearGradient id="g78" gradientUnits="userSpaceOnUse" x1="0" y1="52" x2="0" y2="247.2"><stop offset="0.000" stop-color="#a7872a"/><stop offset="0.031" stop-color="#6e581c"/><stop offset="0.062" stop-color="#4f3e13"/><stop offset="0.094" stop-color="#473711"/><stop offset="0.125" stop-color="#665119"/><stop offset="0.156" stop-color="#846a21"/><stop offset="0.188" stop-color="#b9962f"/><stop offset="0.219" stop-color="#a9892b"/><stop offset="0.250" stop-color="#ac8c2c"/><stop offset="0.281" stop-color="#9a7d27"/><stop offset="0.312" stop-color="#896e23"/><stop offset="0.344" stop-color="#876d22"/><stop offset="0.375" stop-color="#9e8028"/><stop offset="0.406" stop-color="#967a26"/><stop offset="0.438" stop-color="#826821"/><stop offset="0.469" stop-color="#886d22"/><stop offset="0.500" stop-color="#947826"/><stop offset="0.531" stop-color="#967926"/><stop offset="0.562" stop-color="#a6872a"/><stop offset="0.594" stop-color="#917525"/><stop offset="0.625" stop-color="#a6872a"/><stop offset="0.656" stop-color="#8c7123"/><stop offset="0.688" stop-color="#907424"/><stop offset="0.719" stop-color="#a98a2b"/><stop offset="0.750" stop-color="#ab8b2c"/><stop offset="0.781" stop-color="#b5932e"/><stop offset="0.812" stop-color="#9a7d27"/><stop offset="0.844" stop-color="#a7882b"/><stop offset="0.875" stop-color="#bd9a30"/><stop offset="0.906" stop-color="#b8962f"/><stop offset="0.938" stop-color="#b08f2d"/><stop offset="0.969" stop-color="#ac8c2c"/><stop offset="1.000" stop-color="#a8882b"/></linearGradient><linearGradient id="g79" gradientUnits="userSpaceOnUse" x1="0" y1="52" x2="0" y2="247.2"><stop offset="0.000" stop-color="#a18329"/><stop offset="0.031" stop-color="#8e7224"/><stop offset="0.062" stop-color="#5c4917"/><stop offset="0.094" stop-color="#5b4817"/><stop offset="0.125" stop-color="#836a21"/><stop offset="0.156" stop-color="#987b27"/><stop offset="0.188" stop-color="#8b7023"/><stop offset="0.219" stop-color="#ae8d2c"/><stop offset="0.250" stop-color="#aa8a2b"/><stop offset="0.281" stop-color="#967a26"/><stop offset="0.312" stop-color="#a5862a"/><stop offset="0.344" stop-color="#a5862a"/><stop offset="0.375" stop-color="#9c7f28"/><stop offset="0.406" stop-color="#a5862a"/><stop offset="0.438" stop-color="#9a7d27"/><stop offset="0.469" stop-color="#9b7e28"/><stop offset="0.500" stop-color="#8b7123"/><stop offset="0.531" stop-color="#8a6f23"/><stop offset="0.562" stop-color="#ae8d2c"/><stop offset="0.594" stop-color="#9a7d27"/><stop offset="0.625" stop-color="#927625"/><stop offset="0.656" stop-color="#8e7324"/><stop offset="0.688" stop-color="#987b27"/><stop offset="0.719" stop-color="#a08129"/><stop offset="0.750" stop-color="#a38429"/><stop offset="0.781" stop-color="#b08f2d"/><stop offset="0.812" stop-color="#b3922e"/><stop offset="0.844" stop-color="#9e8028"/><stop offset="0.875" stop-color="#9b7e27"/><stop offset="0.906" stop-color="#987b27"/><stop offset="0.938" stop-color="#a3842a"/><stop offset="0.969" stop-color="#b2912e"/><stop offset="1.000" stop-color="#9f8129"/></linearGradient><linearGradient id="g80" gradientUnits="userSpaceOnUse" x1="0" y1="52" x2="0" y2="247.2"><stop offset="0.000" stop-color="#715a1c"/><stop offset="0.031" stop-color="#513f14"/><stop offset="0.062" stop-color="#564415"/><stop offset="0.094" stop-color="#524114"/><stop offset="0.125" stop-color="#554315"/><stop offset="0.156" stop-color="#5c4917"/><stop offset="0.188" stop-color="#574415"/><stop offset="0.219" stop-color="#574516"/><stop offset="0.250" stop-color="#4a3a12"/><stop offset="0.281" stop-color="#544215"/><stop offset="0.312" stop-color="#564415"/><stop offset="0.344" stop-color="#584616"/><stop offset="0.375" stop-color="#584616"/><stop offset="0.406" stop-color="#564415"/><stop offset="0.438" stop-color="#5a4716"/><stop offset="0.469" stop-color="#5c4917"/><stop offset="0.500" stop-color="#4c3c13"/><stop offset="0.531" stop-color="#544215"/><stop offset="0.562" stop-color="#544215"/><stop offset="0.594" stop-color="#524014"/><stop offset="0.625" stop-color="#564415"/><stop offset="0.656" stop-color="#594616"/><stop offset="0.688" stop-color="#a3842a"/><stop offset="0.719" stop-color="#9f8129"/><stop offset="0.750" stop-color="#a08129"/><stop offset="0.781" stop-color="#8f7324"/><stop offset="0.812" stop-color="#967a26"/><stop offset="0.844" stop-color="#866c22"/><stop offset="0.875" stop-color="#9f8128"/><stop offset="0.906" stop-color="#876d22"/><stop offset="0.938" stop-color="#957826"/><stop offset="0.969" stop-color="#aa8a2b"/><stop offset="1.000" stop-color="#a5862a"/></linearGradient><linearGradient id="g81" gradientUnits="userSpaceOnUse" x1="0" y1="52" x2="0" y2="247.2"><stop offset="0.000" stop-color="#4c3b13"/><stop offset="0.031" stop-color="#1a1206"/><stop offset="0.062" stop-color="#1a1206"/><stop offset="0.094" stop-color="#1a1206"/><stop offset="0.125" stop-color="#1a1206"/><stop offset="0.156" stop-color="#1a1206"/><stop offset="0.188" stop-color="#1a1206"/><stop offset="0.219" stop-color="#1a1206"/><stop offset="0.250" stop-color="#1a1206"/><stop offset="0.281" stop-color="#1a1206"/><stop offset="0.312" stop-color="#1a1206"/><stop offset="0.344" stop-color="#1a1206"/><stop offset="0.375" stop-color="#1a1206"/><stop offset="0.406" stop-color="#1a1206"/><stop offset="0.438" stop-color="#1a1206"/><stop offset="0.469" stop-color="#1a1206"/><stop offset="0.500" stop-color="#1a1206"/><stop offset="0.531" stop-color="#1a1206"/><stop offset="0.562" stop-color="#1a1206"/><stop offset="0.594" stop-color="#1a1206"/><stop offset="0.625" stop-color="#1a1206"/><stop offset="0.656" stop-color="#1a1206"/><stop offset="0.688" stop-color="#836a21"/><stop offset="0.719" stop-color="#9c7f28"/><stop offset="0.750" stop-color="#b2912d"/><stop offset="0.781" stop-color="#947726"/><stop offset="0.812" stop-color="#917525"/><stop offset="0.844" stop-color="#a7882b"/><stop offset="0.875" stop-color="#af8f2d"/><stop offset="0.906" stop-color="#ad8d2c"/><stop offset="0.938" stop-color="#9f8128"/><stop offset="0.969" stop-color="#917525"/><stop offset="1.000" stop-color="#9b7d27"/></linearGradient><linearGradient id="g82" gradientUnits="userSpaceOnUse" x1="0" y1="52" x2="0" y2="247.2"><stop offset="0.000" stop-color="#725c1d"/><stop offset="0.031" stop-color="#4f3e14"/><stop offset="0.062" stop-color="#493912"/><stop offset="0.094" stop-color="#4b3b12"/><stop offset="0.125" stop-color="#503f14"/><stop offset="0.156" stop-color="#4c3b13"/><stop offset="0.188" stop-color="#524114"/><stop offset="0.219" stop-color="#574516"/><stop offset="0.250" stop-color="#514014"/><stop offset="0.281" stop-color="#574516"/><stop offset="0.312" stop-color="#4d3c13"/><stop offset="0.344" stop-color="#514014"/><stop offset="0.375" stop-color="#4e3d13"/><stop offset="0.406" stop-color="#4c3b13"/><stop offset="0.438" stop-color="#514014"/><stop offset="0.469" stop-color="#4c3c13"/><stop offset="0.500" stop-color="#534215"/><stop offset="0.531" stop-color="#443511"/><stop offset="0.562" stop-color="#493912"/><stop offset="0.594" stop-color="#423310"/><stop offset="0.625" stop-color="#514014"/><stop offset="0.656" stop-color="#483812"/><stop offset="0.688" stop-color="#806720"/><stop offset="0.719" stop-color="#967926"/><stop offset="0.750" stop-color="#a08129"/><stop offset="0.781" stop-color="#9d7f28"/><stop offset="0.812" stop-color="#9e8028"/><stop offset="0.844" stop-color="#846a21"/><stop offset="0.875" stop-color="#a08229"/><stop offset="0.906" stop-color="#826921"/><stop offset="0.938" stop-color="#927625"/><stop offset="0.969" stop-color="#8d7224"/><stop offset="1.000" stop-color="#8b7023"/></linearGradient><linearGradient id="g83" gradientUnits="userSpaceOnUse" x1="0" y1="52" x2="0" y2="247.2"><stop offset="0.000" stop-color="#9d7f28"/><stop offset="0.031" stop-color="#9b7d27"/><stop offset="0.062" stop-color="#a8882b"/><stop offset="0.094" stop-color="#9c7f28"/><stop offset="0.125" stop-color="#b1902d"/><stop offset="0.156" stop-color="#a4852a"/><stop offset="0.188" stop-color="#a4852a"/><stop offset="0.219" stop-color="#a5862a"/><stop offset="0.250" stop-color="#b6952f"/><stop offset="0.281" stop-color="#a5862a"/><stop offset="0.312" stop-color="#9c7e28"/><stop offset="0.344" stop-color="#ac8c2c"/><stop offset="0.375" stop-color="#b08f2d"/><stop offset="0.406" stop-color="#a3852a"/><stop offset="0.438" stop-color="#917525"/><stop offset="0.469" stop-color="#ab8b2c"/><stop offset="0.500" stop-color="#ad8d2c"/><stop offset="0.531" stop-color="#997c27"/><stop offset="0.562" stop-color="#917525"/><stop offset="0.594" stop-color="#8b7023"/><stop offset="0.625" stop-color="#997c27"/><stop offset="0.656" stop-color="#826821"/><stop offset="0.688" stop-color="#ac8c2c"/><stop offset="0.719" stop-color="#987b27"/><stop offset="0.750" stop-color="#b3922e"/><stop offset="0.781" stop-color="#b5942e"/><stop offset="0.812" stop-color="#b1902d"/><stop offset="0.844" stop-color="#b4922e"/><stop offset="0.875" stop-color="#a28329"/><stop offset="0.906" stop-color="#9f8129"/><stop offset="0.938" stop-color="#af8e2d"/><stop offset="0.969" stop-color="#907424"/><stop offset="1.000" stop-color="#a7882b"/></linearGradient><linearGradient id="g84" gradientUnits="userSpaceOnUse" x1="0" y1="52" x2="0" y2="247.2"><stop offset="0.000" stop-color="#d6af37"/><stop offset="0.031" stop-color="#c5a132"/><stop offset="0.062" stop-color="#c4a032"/><stop offset="0.094" stop-color="#e8be3c"/><stop offset="0.125" stop-color="#e8be3c"/><stop offset="0.156" stop-color="#ddb539"/><stop offset="0.188" stop-color="#e8be3c"/><stop offset="0.219" stop-color="#ddb439"/><stop offset="0.250" stop-color="#e8be3c"/><stop offset="0.281" stop-color="#e8be3c"/><stop offset="0.312" stop-color="#e8be3c"/><stop offset="0.344" stop-color="#dbb338"/><stop offset="0.375" stop-color="#e3b93a"/><stop offset="0.406" stop-color="#e0b73a"/><stop offset="0.438" stop-color="#bb9830"/><stop offset="0.469" stop-color="#c7a233"/><stop offset="0.500" stop-color="#a4852a"/><stop offset="0.531" stop-color="#bd9a30"/><stop offset="0.562" stop-color="#b08f2d"/><stop offset="0.594" stop-color="#be9b31"/><stop offset="0.625" stop-color="#ab8b2c"/><stop offset="0.656" stop-color="#caa534"/><stop offset="0.688" stop-color="#b5942e"/><stop offset="0.719" stop-color="#bb9930"/><stop offset="0.750" stop-color="#a6872a"/><stop offset="0.781" stop-color="#a5862a"/><stop offset="0.812" stop-color="#b2902d"/><stop offset="0.844" stop-color="#c29e32"/><stop offset="0.875" stop-color="#c19d31"/><stop offset="0.906" stop-color="#c09d31"/><stop offset="0.938" stop-color="#b9972f"/><stop offset="0.969" stop-color="#c29e32"/><stop offset="1.000" stop-color="#c39f32"/></linearGradient><linearGradient id="g85" gradientUnits="userSpaceOnUse" x1="0" y1="52" x2="0" y2="247.2"><stop offset="0.000" stop-color="#af8e2d"/><stop offset="0.031" stop-color="#c6a133"/><stop offset="0.062" stop-color="#b3922e"/><stop offset="0.094" stop-color="#ddb539"/><stop offset="0.125" stop-color="#dab238"/><stop offset="0.156" stop-color="#e8be3c"/><stop offset="0.188" stop-color="#deb539"/><stop offset="0.219" stop-color="#e2b93a"/><stop offset="0.250" stop-color="#e8be3c"/><stop offset="0.281" stop-color="#e6bc3b"/><stop offset="0.312" stop-color="#deb539"/><stop offset="0.344" stop-color="#e8be3c"/><stop offset="0.375" stop-color="#e0b73a"/><stop offset="0.406" stop-color="#cba634"/><stop offset="0.438" stop-color="#a5862a"/><stop offset="0.469" stop-color="#a08229"/><stop offset="0.500" stop-color="#7e6520"/><stop offset="0.531" stop-color="#846a21"/><stop offset="0.562" stop-color="#967a26"/><stop offset="0.594" stop-color="#997c27"/><stop offset="0.625" stop-color="#8d7224"/><stop offset="0.656" stop-color="#a7882b"/><stop offset="0.688" stop-color="#8a6f23"/><stop offset="0.719" stop-color="#9e8028"/><stop offset="0.750" stop-color="#8c7124"/><stop offset="0.781" stop-color="#896e23"/><stop offset="0.812" stop-color="#a5862a"/><stop offset="0.844" stop-color="#886e23"/><stop offset="0.875" stop-color="#836921"/><stop offset="0.906" stop-color="#a08129"/><stop offset="0.938" stop-color="#ab8b2c"/><stop offset="0.969" stop-color="#a7882b"/><stop offset="1.000" stop-color="#846a21"/></linearGradient><linearGradient id="g86" gradientUnits="userSpaceOnUse" x1="0" y1="52" x2="0" y2="247.2"><stop offset="0.000" stop-color="#d1ab36"/><stop offset="0.031" stop-color="#e8be3c"/><stop offset="0.062" stop-color="#e8be3c"/><stop offset="0.094" stop-color="#e8be3c"/><stop offset="0.125" stop-color="#e8be3c"/><stop offset="0.156" stop-color="#e8be3c"/><stop offset="0.188" stop-color="#e8be3c"/><stop offset="0.219" stop-color="#e8be3c"/><stop offset="0.250" stop-color="#e8be3c"/><stop offset="0.281" stop-color="#e8be3c"/><stop offset="0.312" stop-color="#e8be3c"/><stop offset="0.344" stop-color="#e8be3c"/><stop offset="0.375" stop-color="#e8be3c"/><stop offset="0.406" stop-color="#e8be3c"/><stop offset="0.438" stop-color="#cca734"/><stop offset="0.469" stop-color="#9f8129"/><stop offset="0.500" stop-color="#917525"/><stop offset="0.531" stop-color="#927625"/><stop offset="0.562" stop-color="#b9972f"/><stop offset="0.594" stop-color="#c4a032"/><stop offset="0.625" stop-color="#d4ad36"/><stop offset="0.656" stop-color="#d6af37"/><stop offset="0.688" stop-color="#ad8c2c"/><stop offset="0.719" stop-color="#c7a233"/><stop offset="0.750" stop-color="#af8e2d"/><stop offset="0.781" stop-color="#cea835"/><stop offset="0.812" stop-color="#bf9b31"/><stop offset="0.844" stop-color="#cda735"/><stop offset="0.875" stop-color="#c19d31"/><stop offset="0.906" stop-color="#cba634"/><stop offset="0.938" stop-color="#b6942f"/><stop offset="0.969" stop-color="#cca734"/><stop offset="1.000" stop-color="#b4932e"/></linearGradient><linearGradient id="g87" gradientUnits="userSpaceOnUse" x1="0" y1="52" x2="0" y2="247.2"><stop offset="0.000" stop-color="#d9b238"/><stop offset="0.031" stop-color="#d3ad36"/><stop offset="0.062" stop-color="#d1ab36"/><stop offset="0.094" stop-color="#d1ab36"/><stop offset="0.125" stop-color="#e8be3c"/><stop offset="0.156" stop-color="#e8be3c"/><stop offset="0.188" stop-color="#e8be3c"/><stop offset="0.219" stop-color="#e8be3c"/><stop offset="0.250" stop-color="#e8be3c"/><stop offset="0.281" stop-color="#e8be3c"/><stop offset="0.312" stop-color="#e8be3c"/><stop offset="0.344" stop-color="#e8be3c"/><stop offset="0.375" stop-color="#e8be3c"/><stop offset="0.406" stop-color="#e8be3c"/><stop offset="0.438" stop-color="#c19d31"/><stop offset="0.469" stop-color="#927625"/><stop offset="0.500" stop-color="#715a1c"/><stop offset="0.531" stop-color="#816821"/><stop offset="0.562" stop-color="#aa8a2b"/><stop offset="0.594" stop-color="#a28329"/><stop offset="0.625" stop-color="#a5862a"/><stop offset="0.656" stop-color="#a8882b"/><stop offset="0.688" stop-color="#a6872a"/><stop offset="0.719" stop-color="#9f8128"/><stop offset="0.750" stop-color="#927625"/><stop offset="0.781" stop-color="#967926"/><stop offset="0.812" stop-color="#9c7e28"/><stop offset="0.844" stop-color="#a9892b"/><stop offset="0.875" stop-color="#ac8c2c"/><stop offset="0.906" stop-color="#a8882b"/><stop offset="0.938" stop-color="#917525"/><stop offset="0.969" stop-color="#a9892b"/><stop offset="1.000" stop-color="#a98a2b"/></linearGradient><linearGradient id="g88" gradientUnits="userSpaceOnUse" x1="0" y1="52" x2="0" y2="247.2"><stop offset="0.000" stop-color="#d3ad36"/><stop offset="0.031" stop-color="#a9892b"/><stop offset="0.062" stop-color="#ba9830"/><stop offset="0.094" stop-color="#ba9730"/><stop offset="0.125" stop-color="#d6af37"/><stop offset="0.156" stop-color="#e8be3c"/><stop offset="0.188" stop-color="#e8be3c"/><stop offset="0.219" stop-color="#e8be3c"/><stop offset="0.250" stop-color="#e8be3c"/><stop offset="0.281" stop-color="#e8be3c"/><stop offset="0.312" stop-color="#e8be3c"/><stop offset="0.344" stop-color="#e8be3c"/><stop offset="0.375" stop-color="#e7bd3b"/><stop offset="0.406" stop-color="#d5ae37"/><stop offset="0.438" stop-color="#d5ae37"/><stop offset="0.469" stop-color="#957926"/><stop offset="0.500" stop-color="#856b22"/><stop offset="0.531" stop-color="#866c22"/><stop offset="0.562" stop-color="#9f8128"/><stop offset="0.594" stop-color="#b5932e"/><stop offset="0.625" stop-color="#9c7f28"/><stop offset="0.656" stop-color="#c29e32"/><stop offset="0.688" stop-color="#a28329"/><stop offset="0.719" stop-color="#9c7f28"/><stop offset="0.750" stop-color="#aa8a2b"/><stop offset="0.781" stop-color="#a6872a"/><stop offset="0.812" stop-color="#957926"/><stop offset="0.844" stop-color="#b4932e"/><stop offset="0.875" stop-color="#a4852a"/><stop offset="0.906" stop-color="#9f8129"/><stop offset="0.938" stop-color="#ae8e2c"/><stop offset="0.969" stop-color="#a08229"/><stop offset="1.000" stop-color="#ae8d2c"/></linearGradient><linearGradient id="g89" gradientUnits="userSpaceOnUse" x1="0" y1="52" x2="0" y2="247.2"><stop offset="0.000" stop-color="#ae8d2c"/><stop offset="0.031" stop-color="#957826"/><stop offset="0.062" stop-color="#806720"/><stop offset="0.094" stop-color="#8a7023"/><stop offset="0.125" stop-color="#c09c31"/><stop offset="0.156" stop-color="#e8be3c"/><stop offset="0.188" stop-color="#e8be3c"/><stop offset="0.219" stop-color="#e8be3c"/><stop offset="0.250" stop-color="#e3ba3a"/><stop offset="0.281" stop-color="#e8be3c"/><stop offset="0.312" stop-color="#dfb739"/><stop offset="0.344" stop-color="#dbb338"/><stop offset="0.375" stop-color="#d0aa35"/><stop offset="0.406" stop-color="#d1ab36"/><stop offset="0.438" stop-color="#caa534"/><stop offset="0.469" stop-color="#947826"/><stop offset="0.500" stop-color="#917525"/><stop offset="0.531" stop-color="#947826"/><stop offset="0.562" stop-color="#a08229"/><stop offset="0.594" stop-color="#9b7e27"/><stop offset="0.625" stop-color="#b3912e"/><stop offset="0.656" stop-color="#b4932e"/><stop offset="0.688" stop-color="#987b27"/><stop offset="0.719" stop-color="#a6872a"/><stop offset="0.750" stop-color="#9e8028"/><stop offset="0.781" stop-color="#967a26"/><stop offset="0.812" stop-color="#937725"/><stop offset="0.844" stop-color="#947826"/><stop offset="0.875" stop-color="#b6942f"/><stop offset="0.906" stop-color="#a8892b"/><stop offset="0.938" stop-color="#967926"/><stop offset="0.969" stop-color="#967a26"/><stop offset="1.000" stop-color="#b3912e"/></linearGradient><linearGradient id="g90" gradientUnits="userSpaceOnUse" x1="0" y1="52" x2="0" y2="247.2"><stop offset="0.000" stop-color="#c5a032"/><stop offset="0.031" stop-color="#ab8b2c"/><stop offset="0.062" stop-color="#816821"/><stop offset="0.094" stop-color="#856b22"/><stop offset="0.125" stop-color="#bd9a30"/><stop offset="0.156" stop-color="#ddb539"/><stop offset="0.188" stop-color="#e8be3c"/><stop offset="0.219" stop-color="#e8be3c"/><stop offset="0.250" stop-color="#d3ad36"/><stop offset="0.281" stop-color="#dcb438"/><stop offset="0.312" stop-color="#dcb438"/><stop offset="0.344" stop-color="#cba634"/><stop offset="0.375" stop-color="#b2912d"/><stop offset="0.406" stop-color="#af8e2d"/><stop offset="0.438" stop-color="#c9a434"/><stop offset="0.469" stop-color="#b3922e"/><stop offset="0.500" stop-color="#b5932e"/><stop offset="0.531" stop-color="#b08f2d"/><stop offset="0.562" stop-color="#c19d31"/><stop offset="0.594" stop-color="#bf9b31"/><stop offset="0.625" stop-color="#c09c31"/><stop offset="0.656" stop-color="#bd9a30"/><stop offset="0.688" stop-color="#cca634"/><stop offset="0.719" stop-color="#c39f32"/><stop offset="0.750" stop-color="#b4922e"/><stop offset="0.781" stop-color="#c9a433"/><stop offset="0.812" stop-color="#c4a032"/><stop offset="0.844" stop-color="#ad8d2c"/><stop offset="0.875" stop-color="#c09c31"/><stop offset="0.906" stop-color="#be9b31"/><stop offset="0.938" stop-color="#c19d31"/><stop offset="0.969" stop-color="#a9892b"/><stop offset="1.000" stop-color="#c7a333"/></linearGradient><linearGradient id="g91" gradientUnits="userSpaceOnUse" x1="0" y1="52" x2="0" y2="247.2"><stop offset="0.000" stop-color="#8d7224"/><stop offset="0.031" stop-color="#836a21"/><stop offset="0.062" stop-color="#655119"/><stop offset="0.094" stop-color="#79611f"/><stop offset="0.125" stop-color="#9b7d27"/><stop offset="0.156" stop-color="#ae8d2c"/><stop offset="0.188" stop-color="#c6a133"/><stop offset="0.219" stop-color="#b9972f"/><stop offset="0.250" stop-color="#bc9930"/><stop offset="0.281" stop-color="#aa8a2b"/><stop offset="0.312" stop-color="#af8e2d"/><stop offset="0.344" stop-color="#997c27"/><stop offset="0.375" stop-color="#836921"/><stop offset="0.406" stop-color="#7c641f"/><stop offset="0.438" stop-color="#957926"/><stop offset="0.469" stop-color="#a08229"/><stop offset="0.500" stop-color="#9c7f28"/><stop offset="0.531" stop-color="#8d7224"/><stop offset="0.562" stop-color="#ac8c2c"/><stop offset="0.594" stop-color="#8c7124"/><stop offset="0.625" stop-color="#967a26"/><stop offset="0.656" stop-color="#a4852a"/><stop offset="0.688" stop-color="#977b26"/><stop offset="0.719" stop-color="#a5862a"/><stop offset="0.750" stop-color="#af8f2d"/><stop offset="0.781" stop-color="#937725"/><stop offset="0.812" stop-color="#a38429"/><stop offset="0.844" stop-color="#9d7f28"/><stop offset="0.875" stop-color="#9e8028"/><stop offset="0.906" stop-color="#8d7224"/><stop offset="0.938" stop-color="#937725"/><stop offset="0.969" stop-color="#b1902d"/><stop offset="1.000" stop-color="#9a7d27"/></linearGradient><linearGradient id="g92" gradientUnits="userSpaceOnUse" x1="0" y1="52" x2="0" y2="247.2"><stop offset="0.000" stop-color="#987b27"/><stop offset="0.031" stop-color="#594716"/><stop offset="0.062" stop-color="#392c0e"/><stop offset="0.094" stop-color="#66521a"/><stop offset="0.125" stop-color="#7e6520"/><stop offset="0.156" stop-color="#9c7e28"/><stop offset="0.188" stop-color="#ac8c2c"/><stop offset="0.219" stop-color="#b1902d"/><stop offset="0.250" stop-color="#a3842a"/><stop offset="0.281" stop-color="#a4852a"/><stop offset="0.312" stop-color="#957826"/><stop offset="0.344" stop-color="#8a6f23"/><stop offset="0.375" stop-color="#806720"/><stop offset="0.406" stop-color="#70591c"/><stop offset="0.438" stop-color="#846b21"/><stop offset="0.469" stop-color="#907424"/><stop offset="0.500" stop-color="#9a7c27"/><stop offset="0.531" stop-color="#b7952f"/><stop offset="0.562" stop-color="#b3922e"/><stop offset="0.594" stop-color="#b9972f"/><stop offset="0.625" stop-color="#9a7d27"/><stop offset="0.656" stop-color="#b7952f"/><stop offset="0.688" stop-color="#b8962f"/><stop offset="0.719" stop-color="#9c7f28"/><stop offset="0.750" stop-color="#a4852a"/><stop offset="0.781" stop-color="#b9972f"/><stop offset="0.812" stop-color="#9f8129"/><stop offset="0.844" stop-color="#9e8028"/><stop offset="0.875" stop-color="#a7882b"/><stop offset="0.906" stop-color="#b9972f"/><stop offset="0.938" stop-color="#9f8128"/><stop offset="0.969" stop-color="#aa8a2b"/><stop offset="1.000" stop-color="#a3842a"/></linearGradient><linearGradient id="g93" gradientUnits="userSpaceOnUse" x1="0" y1="52" x2="0" y2="247.2"><stop offset="0.000" stop-color="#745d1d"/><stop offset="0.031" stop-color="#554315"/><stop offset="0.062" stop-color="#4b3a12"/><stop offset="0.094" stop-color="#655119"/><stop offset="0.125" stop-color="#5c4917"/><stop offset="0.156" stop-color="#806720"/><stop offset="0.188" stop-color="#755e1d"/><stop offset="0.219" stop-color="#977b27"/><stop offset="0.250" stop-color="#977b26"/><stop offset="0.281" stop-color="#907525"/><stop offset="0.312" stop-color="#856b22"/><stop offset="0.344" stop-color="#5e4b18"/><stop offset="0.375" stop-color="#564415"/><stop offset="0.406" stop-color="#584516"/><stop offset="0.438" stop-color="#6b561b"/><stop offset="0.469" stop-color="#8c7123"/><stop offset="0.500" stop-color="#8f7324"/><stop offset="0.531" stop-color="#7c631f"/><stop offset="0.562" stop-color="#7f6620"/><stop offset="0.594" stop-color="#7d641f"/><stop offset="0.625" stop-color="#957926"/><stop offset="0.656" stop-color="#977b26"/><stop offset="0.688" stop-color="#9d8028"/><stop offset="0.719" stop-color="#896f23"/><stop offset="0.750" stop-color="#907525"/><stop offset="0.781" stop-color="#8c7124"/><stop offset="0.812" stop-color="#8b7123"/><stop offset="0.844" stop-color="#876d22"/><stop offset="0.875" stop-color="#907525"/><stop offset="0.906" stop-color="#7e6620"/><stop offset="0.938" stop-color="#977a26"/><stop offset="0.969" stop-color="#7a621f"/><stop offset="1.000" stop-color="#896e23"/></linearGradient><linearGradient id="g94" gradientUnits="userSpaceOnUse" x1="0" y1="52" x2="0" y2="247.2"><stop offset="0.000" stop-color="#bd9a30"/><stop offset="0.031" stop-color="#a28329"/><stop offset="0.062" stop-color="#987b27"/><stop offset="0.094" stop-color="#78601e"/><stop offset="0.125" stop-color="#5c4917"/><stop offset="0.156" stop-color="#876d22"/><stop offset="0.188" stop-color="#a4852a"/><stop offset="0.219" stop-color="#c4a032"/><stop offset="0.250" stop-color="#b2912e"/><stop offset="0.281" stop-color="#a9892b"/><stop offset="0.312" stop-color="#a08229"/><stop offset="0.344" stop-color="#896e23"/><stop offset="0.375" stop-color="#66521a"/><stop offset="0.406" stop-color="#725c1d"/><stop offset="0.438" stop-color="#7f6620"/><stop offset="0.469" stop-color="#b4932e"/><stop offset="0.500" stop-color="#b7952f"/><stop offset="0.531" stop-color="#b5932e"/><stop offset="0.562" stop-color="#cea835"/><stop offset="0.594" stop-color="#ad8d2c"/><stop offset="0.625" stop-color="#cda835"/><stop offset="0.656" stop-color="#b8962f"/><stop offset="0.688" stop-color="#c9a433"/><stop offset="0.719" stop-color="#aa8a2b"/><stop offset="0.750" stop-color="#b9972f"/><stop offset="0.781" stop-color="#af8f2d"/><stop offset="0.812" stop-color="#bc9930"/><stop offset="0.844" stop-color="#b5932e"/><stop offset="0.875" stop-color="#b4932e"/><stop offset="0.906" stop-color="#c4a032"/><stop offset="0.938" stop-color="#c8a333"/><stop offset="0.969" stop-color="#ae8d2c"/><stop offset="1.000" stop-color="#caa534"/></linearGradient><linearGradient id="g95" gradientUnits="userSpaceOnUse" x1="0" y1="52" x2="0" y2="247.2"><stop offset="0.000" stop-color="#9a7d27"/><stop offset="0.031" stop-color="#9a7d27"/><stop offset="0.062" stop-color="#8e7324"/><stop offset="0.094" stop-color="#4f3f14"/><stop offset="0.125" stop-color="#34280c"/><stop offset="0.156" stop-color="#5e4b17"/><stop offset="0.188" stop-color="#7d6520"/><stop offset="0.219" stop-color="#987b27"/><stop offset="0.250" stop-color="#7e6520"/><stop offset="0.281" stop-color="#836a21"/><stop offset="0.312" stop-color="#8c7124"/><stop offset="0.344" stop-color="#7c641f"/><stop offset="0.375" stop-color="#5c4917"/><stop offset="0.406" stop-color="#6d571b"/><stop offset="0.438" stop-color="#66521a"/><stop offset="0.469" stop-color="#896e23"/><stop offset="0.500" stop-color="#957926"/><stop offset="0.531" stop-color="#8b7023"/><stop offset="0.562" stop-color="#967a26"/><stop offset="0.594" stop-color="#8d7224"/><stop offset="0.625" stop-color="#9d8028"/><stop offset="0.656" stop-color="#7e6520"/><stop offset="0.688" stop-color="#967a26"/><stop offset="0.719" stop-color="#816821"/><stop offset="0.750" stop-color="#9d8028"/><stop offset="0.781" stop-color="#836921"/><stop offset="0.812" stop-color="#7b631f"/><stop offset="0.844" stop-color="#947725"/><stop offset="0.875" stop-color="#a28429"/><stop offset="0.906" stop-color="#947826"/><stop offset="0.938" stop-color="#896f23"/><stop offset="0.969" stop-color="#9a7d27"/><stop offset="1.000" stop-color="#8d7224"/></linearGradient><linearGradient id="g96" gradientUnits="userSpaceOnUse" x1="0" y1="52" x2="0" y2="247.2"><stop offset="0.000" stop-color="#b4922e"/><stop offset="0.031" stop-color="#977a26"/><stop offset="0.062" stop-color="#8b7123"/><stop offset="0.094" stop-color="#67521a"/><stop offset="0.125" stop-color="#493912"/><stop offset="0.156" stop-color="#6c571b"/><stop offset="0.188" stop-color="#b7952f"/><stop offset="0.219" stop-color="#a18329"/><stop offset="0.250" stop-color="#9f8129"/><stop offset="0.281" stop-color="#a3852a"/><stop offset="0.312" stop-color="#aa8a2b"/><stop offset="0.344" stop-color="#a28429"/><stop offset="0.375" stop-color="#927625"/><stop offset="0.406" stop-color="#876d22"/><stop offset="0.438" stop-color="#9d7f28"/><stop offset="0.469" stop-color="#9c7e28"/><stop offset="0.500" stop-color="#c6a133"/><stop offset="0.531" stop-color="#b9972f"/><stop offset="0.562" stop-color="#aa8a2b"/><stop offset="0.594" stop-color="#b5942e"/><stop offset="0.625" stop-color="#b8962f"/><stop offset="0.656" stop-color="#caa534"/><stop offset="0.688" stop-color="#c8a333"/><stop offset="0.719" stop-color="#c39f32"/><stop offset="0.750" stop-color="#a98a2b"/><stop offset="0.781" stop-color="#ab8b2c"/><stop offset="0.812" stop-color="#c5a032"/><stop offset="0.844" stop-color="#a8882b"/><stop offset="0.875" stop-color="#cda734"/><stop offset="0.906" stop-color="#b5942e"/><stop offset="0.938" stop-color="#a6872a"/><stop offset="0.969" stop-color="#c09c31"/><stop offset="1.000" stop-color="#a7882b"/></linearGradient><linearGradient id="g97" gradientUnits="userSpaceOnUse" x1="0" y1="52" x2="0" y2="247.2"><stop offset="0.000" stop-color="#a28329"/><stop offset="0.031" stop-color="#745d1d"/><stop offset="0.062" stop-color="#4c3c13"/><stop offset="0.094" stop-color="#5c4917"/><stop offset="0.125" stop-color="#493912"/><stop offset="0.156" stop-color="#755e1e"/><stop offset="0.188" stop-color="#866c22"/><stop offset="0.219" stop-color="#8d7224"/><stop offset="0.250" stop-color="#997c27"/><stop offset="0.281" stop-color="#977a26"/><stop offset="0.312" stop-color="#a5862a"/><stop offset="0.344" stop-color="#8c7124"/><stop offset="0.375" stop-color="#7e6520"/><stop offset="0.406" stop-color="#856b22"/><stop offset="0.438" stop-color="#907425"/><stop offset="0.469" stop-color="#a8892b"/><stop offset="0.500" stop-color="#9a7d27"/><stop offset="0.531" stop-color="#ad8c2c"/><stop offset="0.562" stop-color="#967a26"/><stop offset="0.594" stop-color="#ac8c2c"/><stop offset="0.625" stop-color="#997c27"/><stop offset="0.656" stop-color="#a38429"/><stop offset="0.688" stop-color="#a28329"/><stop offset="0.719" stop-color="#967926"/><stop offset="0.750" stop-color="#aa8a2b"/><stop offset="0.781" stop-color="#aa8a2b"/><stop offset="0.812" stop-color="#8a7023"/><stop offset="0.844" stop-color="#a3852a"/><stop offset="0.875" stop-color="#8e7324"/><stop offset="0.906" stop-color="#8d7224"/><stop offset="0.938" stop-color="#9d8028"/><stop offset="0.969" stop-color="#ab8b2c"/><stop offset="1.000" stop-color="#ad8d2c"/></linearGradient><linearGradient id="g98" gradientUnits="userSpaceOnUse" x1="0" y1="52" x2="0" y2="247.2"><stop offset="0.000" stop-color="#957826"/><stop offset="0.031" stop-color="#68531a"/><stop offset="0.062" stop-color="#463711"/><stop offset="0.094" stop-color="#594616"/><stop offset="0.125" stop-color="#5f4b18"/><stop offset="0.156" stop-color="#7d6520"/><stop offset="0.188" stop-color="#836921"/><stop offset="0.219" stop-color="#5f4c18"/><stop offset="0.250" stop-color="#6b561b"/><stop offset="0.281" stop-color="#957926"/><stop offset="0.312" stop-color="#927625"/><stop offset="0.344" stop-color="#967a26"/><stop offset="0.375" stop-color="#967926"/><stop offset="0.406" stop-color="#927625"/><stop offset="0.438" stop-color="#7c641f"/><stop offset="0.469" stop-color="#8e7324"/><stop offset="0.500" stop-color="#806720"/><stop offset="0.531" stop-color="#a5862a"/><stop offset="0.562" stop-color="#7f6620"/><stop offset="0.594" stop-color="#927625"/><stop offset="0.625" stop-color="#856b22"/><stop offset="0.656" stop-color="#8e7324"/><stop offset="0.688" stop-color="#896f23"/><stop offset="0.719" stop-color="#9c7f28"/><stop offset="0.750" stop-color="#876d22"/><stop offset="0.781" stop-color="#9f8129"/><stop offset="0.812" stop-color="#9b7d27"/><stop offset="0.844" stop-color="#a4852a"/><stop offset="0.875" stop-color="#957926"/><stop offset="0.906" stop-color="#907525"/><stop offset="0.938" stop-color="#9a7c27"/><stop offset="0.969" stop-color="#816821"/><stop offset="1.000" stop-color="#a28429"/></linearGradient><linearGradient id="g99" gradientUnits="userSpaceOnUse" x1="0" y1="52" x2="0" y2="247.2"><stop offset="0.000" stop-color="#a5862a"/><stop offset="0.031" stop-color="#876d22"/><stop offset="0.062" stop-color="#70591c"/><stop offset="0.094" stop-color="#77601e"/><stop offset="0.125" stop-color="#8d7224"/><stop offset="0.156" stop-color="#957926"/><stop offset="0.188" stop-color="#846b22"/><stop offset="0.219" stop-color="#3c2f0f"/><stop offset="0.250" stop-color="#5b4817"/><stop offset="0.281" stop-color="#8e7324"/><stop offset="0.312" stop-color="#977b26"/><stop offset="0.344" stop-color="#917525"/><stop offset="0.375" stop-color="#a38429"/><stop offset="0.406" stop-color="#907425"/><stop offset="0.438" stop-color="#9f8129"/><stop offset="0.469" stop-color="#8e7324"/><stop offset="0.500" stop-color="#b4932e"/><stop offset="0.531" stop-color="#8e7324"/><stop offset="0.562" stop-color="#a4852a"/><stop offset="0.594" stop-color="#a4852a"/><stop offset="0.625" stop-color="#b1902d"/><stop offset="0.656" stop-color="#ab8b2c"/><stop offset="0.688" stop-color="#977a26"/><stop offset="0.719" stop-color="#997c27"/><stop offset="0.750" stop-color="#af8e2d"/><stop offset="0.781" stop-color="#a7882b"/><stop offset="0.812" stop-color="#af8f2d"/><stop offset="0.844" stop-color="#ad8d2c"/><stop offset="0.875" stop-color="#ac8c2c"/><stop offset="0.906" stop-color="#a7882b"/><stop offset="0.938" stop-color="#8d7224"/><stop offset="0.969" stop-color="#8c7124"/><stop offset="1.000" stop-color="#947826"/></linearGradient><linearGradient id="g100" gradientUnits="userSpaceOnUse" x1="0" y1="52" x2="0" y2="247.2"><stop offset="0.000" stop-color="#a4852a"/><stop offset="0.031" stop-color="#957926"/><stop offset="0.062" stop-color="#8c7124"/><stop offset="0.094" stop-color="#917525"/><stop offset="0.125" stop-color="#907424"/><stop offset="0.156" stop-color="#a7882b"/><stop offset="0.188" stop-color="#846a21"/><stop offset="0.219" stop-color="#32260c"/><stop offset="0.250" stop-color="#443511"/><stop offset="0.281" stop-color="#a3852a"/><stop offset="0.312" stop-color="#9c7e28"/><stop offset="0.344" stop-color="#ab8b2c"/><stop offset="0.375" stop-color="#b2912d"/><stop offset="0.406" stop-color="#917525"/><stop offset="0.438" stop-color="#9e8028"/><stop offset="0.469" stop-color="#9b7e27"/><stop offset="0.500" stop-color="#b4932e"/><stop offset="0.531" stop-color="#987b27"/><stop offset="0.562" stop-color="#947726"/><stop offset="0.594" stop-color="#957926"/><stop offset="0.625" stop-color="#9c7e28"/><stop offset="0.656" stop-color="#987b27"/><stop offset="0.688" stop-color="#997c27"/><stop offset="0.719" stop-color="#a28329"/><stop offset="0.750" stop-color="#a8892b"/><stop offset="0.781" stop-color="#987b27"/><stop offset="0.812" stop-color="#9a7d27"/><stop offset="0.844" stop-color="#967a26"/><stop offset="0.875" stop-color="#ae8d2c"/><stop offset="0.906" stop-color="#937725"/><stop offset="0.938" stop-color="#a4852a"/><stop offset="0.969" stop-color="#937725"/><stop offset="1.000" stop-color="#b5942e"/></linearGradient><linearGradient id="g101" gradientUnits="userSpaceOnUse" x1="0" y1="52" x2="0" y2="247.2"><stop offset="0.000" stop-color="#806720"/><stop offset="0.031" stop-color="#917525"/><stop offset="0.062" stop-color="#7b631f"/><stop offset="0.094" stop-color="#937725"/><stop offset="0.125" stop-color="#937725"/><stop offset="0.156" stop-color="#8b7023"/><stop offset="0.188" stop-color="#826921"/><stop offset="0.219" stop-color="#423310"/><stop offset="0.250" stop-color="#473711"/><stop offset="0.281" stop-color="#7a621f"/><stop offset="0.312" stop-color="#836a21"/><stop offset="0.344" stop-color="#917525"/><stop offset="0.375" stop-color="#806720"/><stop offset="0.406" stop-color="#806720"/><stop offset="0.438" stop-color="#856b22"/><stop offset="0.469" stop-color="#7a621f"/><stop offset="0.500" stop-color="#7f6620"/><stop offset="0.531" stop-color="#907525"/><stop offset="0.562" stop-color="#9d8028"/><stop offset="0.594" stop-color="#866c22"/><stop offset="0.625" stop-color="#7f6620"/><stop offset="0.656" stop-color="#937725"/><stop offset="0.688" stop-color="#896e23"/><stop offset="0.719" stop-color="#7f6620"/><stop offset="0.750" stop-color="#806720"/><stop offset="0.781" stop-color="#a18329"/><stop offset="0.812" stop-color="#8d7224"/><stop offset="0.844" stop-color="#a08229"/><stop offset="0.875" stop-color="#9c7f28"/><stop offset="0.906" stop-color="#806720"/><stop offset="0.938" stop-color="#907425"/><stop offset="0.969" stop-color="#886e22"/><stop offset="1.000" stop-color="#8e7324"/></linearGradient><linearGradient id="g102" gradientUnits="userSpaceOnUse" x1="0" y1="52" x2="0" y2="247.2"><stop offset="0.000" stop-color="#b4922e"/><stop offset="0.031" stop-color="#997c27"/><stop offset="0.062" stop-color="#907424"/><stop offset="0.094" stop-color="#a7872a"/><stop offset="0.125" stop-color="#b3922e"/><stop offset="0.156" stop-color="#bc9930"/><stop offset="0.188" stop-color="#a8882b"/><stop offset="0.219" stop-color="#735c1d"/><stop offset="0.250" stop-color="#836921"/><stop offset="0.281" stop-color="#9f8128"/><stop offset="0.312" stop-color="#a08229"/><stop offset="0.344" stop-color="#bd9a30"/><stop offset="0.375" stop-color="#a5862a"/><stop offset="0.406" stop-color="#c09c31"/><stop offset="0.438" stop-color="#a08229"/><stop offset="0.469" stop-color="#ba9830"/><stop offset="0.500" stop-color="#b6952f"/><stop offset="0.531" stop-color="#9a7d27"/><stop offset="0.562" stop-color="#b3912e"/><stop offset="0.594" stop-color="#b8962f"/><stop offset="0.625" stop-color="#9d7f28"/><stop offset="0.656" stop-color="#a8892b"/><stop offset="0.688" stop-color="#9d7f28"/><stop offset="0.719" stop-color="#b1902d"/><stop offset="0.750" stop-color="#ad8d2c"/><stop offset="0.781" stop-color="#9a7d27"/><stop offset="0.812" stop-color="#ad8c2c"/><stop offset="0.844" stop-color="#997c27"/><stop offset="0.875" stop-color="#ba9730"/><stop offset="0.906" stop-color="#9f8129"/><stop offset="0.938" stop-color="#bb9830"/><stop offset="0.969" stop-color="#ac8c2c"/><stop offset="1.000" stop-color="#c29e32"/></linearGradient><linearGradient id="g103" gradientUnits="userSpaceOnUse" x1="0" y1="52" x2="0" y2="247.2"><stop offset="0.000" stop-color="#997c27"/><stop offset="0.031" stop-color="#7a621f"/><stop offset="0.062" stop-color="#836a21"/><stop offset="0.094" stop-color="#bc9930"/><stop offset="0.125" stop-color="#bb9830"/><stop offset="0.156" stop-color="#c5a133"/><stop offset="0.188" stop-color="#ad8d2c"/><stop offset="0.219" stop-color="#937725"/><stop offset="0.250" stop-color="#a3842a"/><stop offset="0.281" stop-color="#b7952f"/><stop offset="0.312" stop-color="#a3852a"/><stop offset="0.344" stop-color="#a5862a"/><stop offset="0.375" stop-color="#ae8e2d"/><stop offset="0.406" stop-color="#c7a233"/><stop offset="0.438" stop-color="#b08f2d"/><stop offset="0.469" stop-color="#b8952f"/><stop offset="0.500" stop-color="#a28429"/><stop offset="0.531" stop-color="#bb9830"/><stop offset="0.562" stop-color="#af8e2d"/><stop offset="0.594" stop-color="#b08f2d"/><stop offset="0.625" stop-color="#ba9830"/><stop offset="0.656" stop-color="#b4932e"/><stop offset="0.688" stop-color="#ae8d2c"/><stop offset="0.719" stop-color="#a4862a"/><stop offset="0.750" stop-color="#b5942e"/><stop offset="0.781" stop-color="#bb9830"/><stop offset="0.812" stop-color="#a28329"/><stop offset="0.844" stop-color="#c8a333"/><stop offset="0.875" stop-color="#a7882b"/><stop offset="0.906" stop-color="#ae8d2c"/><stop offset="0.938" stop-color="#b3922e"/><stop offset="0.969" stop-color="#b7952f"/><stop offset="1.000" stop-color="#ab8b2c"/></linearGradient><linearGradient id="g104" gradientUnits="userSpaceOnUse" x1="0" y1="52" x2="0" y2="247.2"><stop offset="0.000" stop-color="#7c641f"/><stop offset="0.031" stop-color="#4c3b13"/><stop offset="0.062" stop-color="#715b1c"/><stop offset="0.094" stop-color="#947826"/><stop offset="0.125" stop-color="#9d7f28"/><stop offset="0.156" stop-color="#7d6520"/><stop offset="0.188" stop-color="#7f6620"/><stop offset="0.219" stop-color="#9a7d27"/><stop offset="0.250" stop-color="#896f23"/><stop offset="0.281" stop-color="#8d7224"/><stop offset="0.312" stop-color="#a3842a"/><stop offset="0.344" stop-color="#957826"/><stop offset="0.375" stop-color="#866c22"/><stop offset="0.406" stop-color="#8b7023"/><stop offset="0.438" stop-color="#997c27"/><stop offset="0.469" stop-color="#866c22"/><stop offset="0.500" stop-color="#997c27"/><stop offset="0.531" stop-color="#8f7324"/><stop offset="0.562" stop-color="#947826"/><stop offset="0.594" stop-color="#7d6420"/><stop offset="0.625" stop-color="#8a7023"/><stop offset="0.656" stop-color="#846a21"/><stop offset="0.688" stop-color="#896f23"/><stop offset="0.719" stop-color="#957926"/><stop offset="0.750" stop-color="#7d6520"/><stop offset="0.781" stop-color="#886e22"/><stop offset="0.812" stop-color="#896e23"/><stop offset="0.844" stop-color="#9a7c27"/><stop offset="0.875" stop-color="#9e8028"/><stop offset="0.906" stop-color="#8d7224"/><stop offset="0.938" stop-color="#836a21"/><stop offset="0.969" stop-color="#846b21"/><stop offset="1.000" stop-color="#977a26"/></linearGradient><linearGradient id="g105" gradientUnits="userSpaceOnUse" x1="0" y1="52" x2="0" y2="247.2"><stop offset="0.000" stop-color="#a9892b"/><stop offset="0.031" stop-color="#67521a"/><stop offset="0.062" stop-color="#907425"/><stop offset="0.094" stop-color="#9c7e28"/><stop offset="0.125" stop-color="#b8962f"/><stop offset="0.156" stop-color="#bc9930"/><stop offset="0.188" stop-color="#c9a434"/><stop offset="0.219" stop-color="#be9b31"/><stop offset="0.250" stop-color="#bb9830"/><stop offset="0.281" stop-color="#a4852a"/><stop offset="0.312" stop-color="#a4852a"/><stop offset="0.344" stop-color="#c4a032"/><stop offset="0.375" stop-color="#bf9c31"/><stop offset="0.406" stop-color="#a5862a"/><stop offset="0.438" stop-color="#c49f32"/><stop offset="0.469" stop-color="#be9b31"/><stop offset="0.500" stop-color="#ba972f"/><stop offset="0.531" stop-color="#c7a333"/><stop offset="0.562" stop-color="#c19d31"/><stop offset="0.594" stop-color="#bb9930"/><stop offset="0.625" stop-color="#bc9930"/><stop offset="0.656" stop-color="#a4852a"/><stop offset="0.688" stop-color="#c19d31"/><stop offset="0.719" stop-color="#c39f32"/><stop offset="0.750" stop-color="#a6872a"/><stop offset="0.781" stop-color="#b9972f"/><stop offset="0.812" stop-color="#a9892b"/><stop offset="0.844" stop-color="#b1902d"/><stop offset="0.875" stop-color="#ac8b2c"/><stop offset="0.906" stop-color="#bf9b31"/><stop offset="0.938" stop-color="#c5a133"/><stop offset="0.969" stop-color="#ad8c2c"/><stop offset="1.000" stop-color="#b8962f"/></linearGradient><linearGradient id="g106" gradientUnits="userSpaceOnUse" x1="0" y1="52" x2="0" y2="247.2"><stop offset="0.000" stop-color="#957826"/><stop offset="0.031" stop-color="#7a621f"/><stop offset="0.062" stop-color="#8c7124"/><stop offset="0.094" stop-color="#7a621f"/><stop offset="0.125" stop-color="#7a621f"/><stop offset="0.156" stop-color="#9a7d27"/><stop offset="0.188" stop-color="#aa8a2b"/><stop offset="0.219" stop-color="#9c7f28"/><stop offset="0.250" stop-color="#ab8b2c"/><stop offset="0.281" stop-color="#967a26"/><stop offset="0.312" stop-color="#b4932e"/><stop offset="0.344" stop-color="#947826"/><stop offset="0.375" stop-color="#9f8128"/><stop offset="0.406" stop-color="#a8882b"/><stop offset="0.438" stop-color="#8f7424"/><stop offset="0.469" stop-color="#ab8b2c"/><stop offset="0.500" stop-color="#ac8c2c"/><stop offset="0.531" stop-color="#b3922e"/><stop offset="0.562" stop-color="#a08129"/><stop offset="0.594" stop-color="#977a26"/><stop offset="0.625" stop-color="#9a7d27"/><stop offset="0.656" stop-color="#a5862a"/><stop offset="0.688" stop-color="#957826"/><stop offset="0.719" stop-color="#b2902d"/><stop offset="0.750" stop-color="#a98a2b"/><stop offset="0.781" stop-color="#9c7e28"/><stop offset="0.812" stop-color="#8e7324"/><stop offset="0.844" stop-color="#9c7e28"/><stop offset="0.875" stop-color="#9a7c27"/><stop offset="0.906" stop-color="#967a26"/><stop offset="0.938" stop-color="#a6872a"/><stop offset="0.969" stop-color="#8f7424"/><stop offset="1.000" stop-color="#987b27"/></linearGradient><linearGradient id="g107" gradientUnits="userSpaceOnUse" x1="0" y1="52" x2="0" y2="247.2"><stop offset="0.000" stop-color="#af8e2d"/><stop offset="0.031" stop-color="#927625"/><stop offset="0.062" stop-color="#78601e"/><stop offset="0.094" stop-color="#5c4917"/><stop offset="0.125" stop-color="#6f591c"/><stop offset="0.156" stop-color="#9f8128"/><stop offset="0.188" stop-color="#ab8b2c"/><stop offset="0.219" stop-color="#a6872a"/><stop offset="0.250" stop-color="#9c7f28"/><stop offset="0.281" stop-color="#bc9930"/><stop offset="0.312" stop-color="#b3922e"/><stop offset="0.344" stop-color="#bf9b31"/><stop offset="0.375" stop-color="#b08f2d"/><stop offset="0.406" stop-color="#ad8c2c"/><stop offset="0.438" stop-color="#9e8028"/><stop offset="0.469" stop-color="#a6872a"/><stop offset="0.500" stop-color="#a98a2b"/><stop offset="0.531" stop-color="#b1902d"/><stop offset="0.562" stop-color="#aa8a2b"/><stop offset="0.594" stop-color="#b6942f"/><stop offset="0.625" stop-color="#9e8128"/><stop offset="0.656" stop-color="#a18229"/><stop offset="0.688" stop-color="#9f8128"/><stop offset="0.719" stop-color="#bb9830"/><stop offset="0.750" stop-color="#a6872a"/><stop offset="0.781" stop-color="#a28429"/><stop offset="0.812" stop-color="#ad8c2c"/><stop offset="0.844" stop-color="#9c7f28"/><stop offset="0.875" stop-color="#9c7f28"/><stop offset="0.906" stop-color="#a38429"/><stop offset="0.938" stop-color="#9f8129"/><stop offset="0.969" stop-color="#a7872a"/><stop offset="1.000" stop-color="#9d7f28"/></linearGradient><linearGradient id="g108" gradientUnits="userSpaceOnUse" x1="0" y1="52" x2="0" y2="247.2"><stop offset="0.000" stop-color="#ad8d2c"/><stop offset="0.031" stop-color="#9c7e28"/><stop offset="0.062" stop-color="#67521a"/><stop offset="0.094" stop-color="#443511"/><stop offset="0.125" stop-color="#7a621f"/><stop offset="0.156" stop-color="#a38429"/><stop offset="0.188" stop-color="#a9892b"/><stop offset="0.219" stop-color="#c19d31"/><stop offset="0.250" stop-color="#c39f32"/><stop offset="0.281" stop-color="#c39f32"/><stop offset="0.312" stop-color="#c8a333"/><stop offset="0.344" stop-color="#b08f2d"/><stop offset="0.375" stop-color="#a4852a"/><stop offset="0.406" stop-color="#ab8b2c"/><stop offset="0.438" stop-color="#bd9a30"/><stop offset="0.469" stop-color="#af8f2d"/><stop offset="0.500" stop-color="#c9a434"/><stop offset="0.531" stop-color="#aa8a2b"/><stop offset="0.562" stop-color="#bf9b31"/><stop offset="0.594" stop-color="#cca734"/><stop offset="0.625" stop-color="#b2912e"/><stop offset="0.656" stop-color="#c6a233"/><stop offset="0.688" stop-color="#c19d31"/><stop offset="0.719" stop-color="#caa534"/><stop offset="0.750" stop-color="#ba9730"/><stop offset="0.781" stop-color="#b5942e"/><stop offset="0.812" stop-color="#ab8b2c"/><stop offset="0.844" stop-color="#cba534"/><stop offset="0.875" stop-color="#aa8a2b"/><stop offset="0.906" stop-color="#c8a333"/><stop offset="0.938" stop-color="#c39f32"/><stop offset="0.969" stop-color="#b2912e"/><stop offset="1.000" stop-color="#be9b31"/></linearGradient><linearGradient id="g109" gradientUnits="userSpaceOnUse" x1="0" y1="52" x2="0" y2="247.2"><stop offset="0.000" stop-color="#a9892b"/><stop offset="0.031" stop-color="#a7872a"/><stop offset="0.062" stop-color="#66511a"/><stop offset="0.094" stop-color="#503f14"/><stop offset="0.125" stop-color="#6a551b"/><stop offset="0.156" stop-color="#947726"/><stop offset="0.188" stop-color="#aa8a2b"/><stop offset="0.219" stop-color="#c19d31"/><stop offset="0.250" stop-color="#a28329"/><stop offset="0.281" stop-color="#c19d31"/><stop offset="0.312" stop-color="#ad8d2c"/><stop offset="0.344" stop-color="#b08f2d"/><stop offset="0.375" stop-color="#bf9c31"/><stop offset="0.406" stop-color="#a8882b"/><stop offset="0.438" stop-color="#a4852a"/><stop offset="0.469" stop-color="#aa8a2b"/><stop offset="0.500" stop-color="#b1902d"/><stop offset="0.531" stop-color="#ad8c2c"/><stop offset="0.562" stop-color="#aa8a2b"/><stop offset="0.594" stop-color="#b9962f"/><stop offset="0.625" stop-color="#9e8028"/><stop offset="0.656" stop-color="#997c27"/><stop offset="0.688" stop-color="#a18229"/><stop offset="0.719" stop-color="#9a7d27"/><stop offset="0.750" stop-color="#b4932e"/><stop offset="0.781" stop-color="#997c27"/><stop offset="0.812" stop-color="#bf9c31"/><stop offset="0.844" stop-color="#ae8e2c"/><stop offset="0.875" stop-color="#bc9930"/><stop offset="0.906" stop-color="#af8e2d"/><stop offset="0.938" stop-color="#a6872a"/><stop offset="0.969" stop-color="#a5862a"/><stop offset="1.000" stop-color="#af8e2d"/></linearGradient><linearGradient id="g110" gradientUnits="userSpaceOnUse" x1="0" y1="52" x2="0" y2="247.2"><stop offset="0.000" stop-color="#b8962f"/><stop offset="0.031" stop-color="#a6872a"/><stop offset="0.062" stop-color="#8c7124"/><stop offset="0.094" stop-color="#79611e"/><stop offset="0.125" stop-color="#816821"/><stop offset="0.156" stop-color="#a3852a"/><stop offset="0.188" stop-color="#ae8e2d"/><stop offset="0.219" stop-color="#b9972f"/><stop offset="0.250" stop-color="#a4852a"/><stop offset="0.281" stop-color="#b9972f"/><stop offset="0.312" stop-color="#b6942f"/><stop offset="0.344" stop-color="#aa8a2b"/><stop offset="0.375" stop-color="#a4852a"/><stop offset="0.406" stop-color="#997c27"/><stop offset="0.438" stop-color="#a38429"/><stop offset="0.469" stop-color="#9a7d27"/><stop offset="0.500" stop-color="#9b7e28"/><stop offset="0.531" stop-color="#a4852a"/><stop offset="0.562" stop-color="#a4852a"/><stop offset="0.594" stop-color="#bf9b31"/><stop offset="0.625" stop-color="#b9972f"/><stop offset="0.656" stop-color="#c19d31"/><stop offset="0.688" stop-color="#9e8028"/><stop offset="0.719" stop-color="#a4852a"/><stop offset="0.750" stop-color="#a7882b"/><stop offset="0.781" stop-color="#b6952f"/><stop offset="0.812" stop-color="#b3912e"/><stop offset="0.844" stop-color="#bb9830"/><stop offset="0.875" stop-color="#a7882b"/><stop offset="0.906" stop-color="#987c27"/><stop offset="0.938" stop-color="#b5932e"/><stop offset="0.969" stop-color="#bf9c31"/><stop offset="1.000" stop-color="#ba9830"/></linearGradient><linearGradient id="g111" gradientUnits="userSpaceOnUse" x1="0" y1="52" x2="0" y2="247.2"><stop offset="0.000" stop-color="#9b7e27"/><stop offset="0.031" stop-color="#9b7e28"/><stop offset="0.062" stop-color="#9d7f28"/><stop offset="0.094" stop-color="#a08229"/><stop offset="0.125" stop-color="#ab8b2c"/><stop offset="0.156" stop-color="#b6942f"/><stop offset="0.188" stop-color="#a08229"/><stop offset="0.219" stop-color="#ad8d2c"/><stop offset="0.250" stop-color="#987b27"/><stop offset="0.281" stop-color="#9b7e27"/><stop offset="0.312" stop-color="#a08229"/><stop offset="0.344" stop-color="#ad8d2c"/><stop offset="0.375" stop-color="#9f8128"/><stop offset="0.406" stop-color="#bb9930"/><stop offset="0.438" stop-color="#bc9930"/><stop offset="0.469" stop-color="#a98a2b"/><stop offset="0.500" stop-color="#ac8c2c"/><stop offset="0.531" stop-color="#b8962f"/><stop offset="0.562" stop-color="#b6942f"/><stop offset="0.594" stop-color="#c09c31"/><stop offset="0.625" stop-color="#9b7e27"/><stop offset="0.656" stop-color="#a3852a"/><stop offset="0.688" stop-color="#9a7d27"/><stop offset="0.719" stop-color="#987b27"/><stop offset="0.750" stop-color="#af8e2d"/><stop offset="0.781" stop-color="#a28429"/><stop offset="0.812" stop-color="#b1902d"/><stop offset="0.844" stop-color="#9f8129"/><stop offset="0.875" stop-color="#9e8028"/><stop offset="0.906" stop-color="#bb9830"/><stop offset="0.938" stop-color="#c09d31"/><stop offset="0.969" stop-color="#b8962f"/><stop offset="1.000" stop-color="#a8892b"/></linearGradient><linearGradient id="g112" gradientUnits="userSpaceOnUse" x1="0" y1="52" x2="0" y2="247.2"><stop offset="0.000" stop-color="#bf9c31"/><stop offset="0.031" stop-color="#9c7e28"/><stop offset="0.062" stop-color="#9b7d27"/><stop offset="0.094" stop-color="#a5862a"/><stop offset="0.125" stop-color="#b9962f"/><stop offset="0.156" stop-color="#9a7d27"/><stop offset="0.188" stop-color="#a98a2b"/><stop offset="0.219" stop-color="#bc9a30"/><stop offset="0.250" stop-color="#b2912d"/><stop offset="0.281" stop-color="#a6872a"/><stop offset="0.312" stop-color="#9b7e27"/><stop offset="0.344" stop-color="#ab8b2c"/><stop offset="0.375" stop-color="#a5862a"/><stop offset="0.406" stop-color="#b7952f"/><stop offset="0.438" stop-color="#b5942e"/><stop offset="0.469" stop-color="#9a7d27"/><stop offset="0.500" stop-color="#b08f2d"/><stop offset="0.531" stop-color="#bb9830"/><stop offset="0.562" stop-color="#a7882b"/><stop offset="0.594" stop-color="#ba9830"/><stop offset="0.625" stop-color="#b7952f"/><stop offset="0.656" stop-color="#ad8c2c"/><stop offset="0.688" stop-color="#a7882b"/><stop offset="0.719" stop-color="#a5862a"/><stop offset="0.750" stop-color="#a28429"/><stop offset="0.781" stop-color="#ad8d2c"/><stop offset="0.812" stop-color="#bd9a30"/><stop offset="0.844" stop-color="#a28329"/><stop offset="0.875" stop-color="#bd9a30"/><stop offset="0.906" stop-color="#ac8c2c"/><stop offset="0.938" stop-color="#af8e2d"/><stop offset="0.969" stop-color="#a4852a"/><stop offset="1.000" stop-color="#a28329"/></linearGradient><linearGradient id="g113" gradientUnits="userSpaceOnUse" x1="0" y1="52" x2="0" y2="247.2"><stop offset="0.000" stop-color="#ac8c2c"/><stop offset="0.031" stop-color="#aa8a2b"/><stop offset="0.062" stop-color="#b2912d"/><stop offset="0.094" stop-color="#bf9c31"/><stop offset="0.125" stop-color="#a08229"/><stop offset="0.156" stop-color="#ae8d2c"/><stop offset="0.188" stop-color="#c4a032"/><stop offset="0.219" stop-color="#bd9a30"/><stop offset="0.250" stop-color="#9e8028"/><stop offset="0.281" stop-color="#bd9a30"/><stop offset="0.312" stop-color="#b6942f"/><stop offset="0.344" stop-color="#a6872a"/><stop offset="0.375" stop-color="#a5862a"/><stop offset="0.406" stop-color="#ac8c2c"/><stop offset="0.438" stop-color="#a8882b"/><stop offset="0.469" stop-color="#c5a132"/><stop offset="0.500" stop-color="#c39f32"/><stop offset="0.531" stop-color="#9e8028"/><stop offset="0.562" stop-color="#a5862a"/><stop offset="0.594" stop-color="#c5a132"/><stop offset="0.625" stop-color="#c5a032"/><stop offset="0.656" stop-color="#bd9a30"/><stop offset="0.688" stop-color="#a08229"/><stop offset="0.719" stop-color="#be9a30"/><stop offset="0.750" stop-color="#ab8b2c"/><stop offset="0.781" stop-color="#a08229"/><stop offset="0.812" stop-color="#ac8c2c"/><stop offset="0.844" stop-color="#a18229"/><stop offset="0.875" stop-color="#bc9930"/><stop offset="0.906" stop-color="#c09d31"/><stop offset="0.938" stop-color="#c6a133"/><stop offset="0.969" stop-color="#a7882b"/><stop offset="1.000" stop-color="#c29e32"/></linearGradient><linearGradient id="g114" gradientUnits="userSpaceOnUse" x1="0" y1="52" x2="0" y2="247.2"><stop offset="0.000" stop-color="#846a21"/><stop offset="0.031" stop-color="#997c27"/><stop offset="0.062" stop-color="#7f6720"/><stop offset="0.094" stop-color="#9a7d27"/><stop offset="0.125" stop-color="#8c7123"/><stop offset="0.156" stop-color="#9c7f28"/><stop offset="0.188" stop-color="#806720"/><stop offset="0.219" stop-color="#7c641f"/><stop offset="0.250" stop-color="#7b631f"/><stop offset="0.281" stop-color="#a18229"/><stop offset="0.312" stop-color="#7e6520"/><stop offset="0.344" stop-color="#8a6f23"/><stop offset="0.375" stop-color="#7f6620"/><stop offset="0.406" stop-color="#8c7124"/><stop offset="0.438" stop-color="#876d22"/><stop offset="0.469" stop-color="#886e23"/><stop offset="0.500" stop-color="#806720"/><stop offset="0.531" stop-color="#9e8028"/><stop offset="0.562" stop-color="#9f8128"/><stop offset="0.594" stop-color="#8a7023"/><stop offset="0.625" stop-color="#957826"/><stop offset="0.656" stop-color="#907525"/><stop offset="0.688" stop-color="#a08229"/><stop offset="0.719" stop-color="#826921"/><stop offset="0.750" stop-color="#a08229"/><stop offset="0.781" stop-color="#7f6620"/><stop offset="0.812" stop-color="#7f6720"/><stop offset="0.844" stop-color="#8e7324"/><stop offset="0.875" stop-color="#9c7e28"/><stop offset="0.906" stop-color="#866c22"/><stop offset="0.938" stop-color="#987b27"/><stop offset="0.969" stop-color="#8f7424"/><stop offset="1.000" stop-color="#9c7f28"/></linearGradient><linearGradient id="g115" gradientUnits="userSpaceOnUse" x1="0" y1="52" x2="0" y2="247.2"><stop offset="0.000" stop-color="#8a7023"/><stop offset="0.031" stop-color="#927625"/><stop offset="0.062" stop-color="#9d7f28"/><stop offset="0.094" stop-color="#836921"/><stop offset="0.125" stop-color="#7e6520"/><stop offset="0.156" stop-color="#7e6520"/><stop offset="0.188" stop-color="#9c7f28"/><stop offset="0.219" stop-color="#917625"/><stop offset="0.250" stop-color="#947826"/><stop offset="0.281" stop-color="#816821"/><stop offset="0.312" stop-color="#9b7d27"/><stop offset="0.344" stop-color="#886d22"/><stop offset="0.375" stop-color="#78611e"/><stop offset="0.406" stop-color="#816821"/><stop offset="0.438" stop-color="#a08229"/><stop offset="0.469" stop-color="#9e8028"/><stop offset="0.500" stop-color="#9c7e28"/><stop offset="0.531" stop-color="#846a21"/><stop offset="0.562" stop-color="#886e22"/><stop offset="0.594" stop-color="#8b7023"/><stop offset="0.625" stop-color="#8e7324"/><stop offset="0.656" stop-color="#907425"/><stop offset="0.688" stop-color="#876d22"/><stop offset="0.719" stop-color="#866c22"/><stop offset="0.750" stop-color="#7b631f"/><stop offset="0.781" stop-color="#826921"/><stop offset="0.812" stop-color="#806720"/><stop offset="0.844" stop-color="#7b631f"/><stop offset="0.875" stop-color="#7e6620"/><stop offset="0.906" stop-color="#836a21"/><stop offset="0.938" stop-color="#9f8129"/><stop offset="0.969" stop-color="#856b22"/><stop offset="1.000" stop-color="#7e6520"/></linearGradient><linearGradient id="g116" gradientUnits="userSpaceOnUse" x1="0" y1="52" x2="0" y2="247.2"><stop offset="0.000" stop-color="#997c27"/><stop offset="0.031" stop-color="#b5942e"/><stop offset="0.062" stop-color="#967926"/><stop offset="0.094" stop-color="#ab8b2c"/><stop offset="0.125" stop-color="#a08129"/><stop offset="0.156" stop-color="#b2912e"/><stop offset="0.188" stop-color="#b08f2d"/><stop offset="0.219" stop-color="#ae8e2d"/><stop offset="0.250" stop-color="#af8f2d"/><stop offset="0.281" stop-color="#b9972f"/><stop offset="0.312" stop-color="#aa8b2c"/><stop offset="0.344" stop-color="#947826"/><stop offset="0.375" stop-color="#a28329"/><stop offset="0.406" stop-color="#967a26"/><stop offset="0.438" stop-color="#9d8028"/><stop offset="0.469" stop-color="#9a7d27"/><stop offset="0.500" stop-color="#947826"/><stop offset="0.531" stop-color="#9e8028"/><stop offset="0.562" stop-color="#b1902d"/><stop offset="0.594" stop-color="#b2912e"/><stop offset="0.625" stop-color="#ac8c2c"/><stop offset="0.656" stop-color="#bc9930"/><stop offset="0.688" stop-color="#b3922e"/><stop offset="0.719" stop-color="#987b27"/><stop offset="0.750" stop-color="#977a26"/><stop offset="0.781" stop-color="#af8e2d"/><stop offset="0.812" stop-color="#9d7f28"/><stop offset="0.844" stop-color="#9d7f28"/><stop offset="0.875" stop-color="#987b27"/><stop offset="0.906" stop-color="#9c7e28"/><stop offset="0.938" stop-color="#a7872b"/><stop offset="0.969" stop-color="#b8962f"/><stop offset="1.000" stop-color="#9b7d27"/></linearGradient><linearGradient id="g117" gradientUnits="userSpaceOnUse" x1="0" y1="52" x2="0" y2="247.2"><stop offset="0.000" stop-color="#a9892b"/><stop offset="0.031" stop-color="#b4922e"/><stop offset="0.062" stop-color="#ad8c2c"/><stop offset="0.094" stop-color="#9b7e27"/><stop offset="0.125" stop-color="#bc9930"/><stop offset="0.156" stop-color="#ad8d2c"/><stop offset="0.188" stop-color="#a8882b"/><stop offset="0.219" stop-color="#ad8c2c"/><stop offset="0.250" stop-color="#9c7f28"/><stop offset="0.281" stop-color="#b2912d"/><stop offset="0.312" stop-color="#9d7f28"/><stop offset="0.344" stop-color="#a6872a"/><stop offset="0.375" stop-color="#9b7e27"/><stop offset="0.406" stop-color="#bf9c31"/><stop offset="0.438" stop-color="#ba9830"/><stop offset="0.469" stop-color="#b7952f"/><stop offset="0.500" stop-color="#9d8028"/><stop offset="0.531" stop-color="#c29e32"/><stop offset="0.562" stop-color="#b8962f"/><stop offset="0.594" stop-color="#a5862a"/><stop offset="0.625" stop-color="#9a7d27"/><stop offset="0.656" stop-color="#bb9930"/><stop offset="0.688" stop-color="#b1902d"/><stop offset="0.719" stop-color="#a6872a"/><stop offset="0.750" stop-color="#a6872a"/><stop offset="0.781" stop-color="#a4852a"/><stop offset="0.812" stop-color="#a4852a"/><stop offset="0.844" stop-color="#b9962f"/><stop offset="0.875" stop-color="#b8962f"/><stop offset="0.906" stop-color="#c29e32"/><stop offset="0.938" stop-color="#a6872a"/><stop offset="0.969" stop-color="#ba9830"/><stop offset="1.000" stop-color="#b8962f"/></linearGradient><linearGradient id="g118" gradientUnits="userSpaceOnUse" x1="0" y1="52" x2="0" y2="247.2"><stop offset="0.000" stop-color="#876d22"/><stop offset="0.031" stop-color="#896e23"/><stop offset="0.062" stop-color="#866c22"/><stop offset="0.094" stop-color="#896e23"/><stop offset="0.125" stop-color="#856b22"/><stop offset="0.156" stop-color="#957826"/><stop offset="0.188" stop-color="#9f8128"/><stop offset="0.219" stop-color="#9e8128"/><stop offset="0.250" stop-color="#a18229"/><stop offset="0.281" stop-color="#927625"/><stop offset="0.312" stop-color="#9b7e28"/><stop offset="0.344" stop-color="#9d7f28"/><stop offset="0.375" stop-color="#8d7224"/><stop offset="0.406" stop-color="#79611f"/><stop offset="0.438" stop-color="#856b22"/><stop offset="0.469" stop-color="#967926"/><stop offset="0.500" stop-color="#826821"/><stop offset="0.531" stop-color="#9a7d27"/><stop offset="0.562" stop-color="#9d7f28"/><stop offset="0.594" stop-color="#957826"/><stop offset="0.625" stop-color="#907525"/><stop offset="0.656" stop-color="#856b22"/><stop offset="0.688" stop-color="#8f7424"/><stop offset="0.719" stop-color="#836a21"/><stop offset="0.750" stop-color="#9d8028"/><stop offset="0.781" stop-color="#7b631f"/><stop offset="0.812" stop-color="#937725"/><stop offset="0.844" stop-color="#7f6620"/><stop offset="0.875" stop-color="#a08229"/><stop offset="0.906" stop-color="#7f6620"/><stop offset="0.938" stop-color="#987b27"/><stop offset="0.969" stop-color="#7e6520"/><stop offset="1.000" stop-color="#806720"/></linearGradient><linearGradient id="g119" gradientUnits="userSpaceOnUse" x1="0" y1="52" x2="0" y2="247.2"><stop offset="0.000" stop-color="#a5862a"/><stop offset="0.031" stop-color="#b08f2d"/><stop offset="0.062" stop-color="#a9892b"/><stop offset="0.094" stop-color="#8b7023"/><stop offset="0.125" stop-color="#aa8a2b"/><stop offset="0.156" stop-color="#957926"/><stop offset="0.188" stop-color="#987b27"/><stop offset="0.219" stop-color="#957926"/><stop offset="0.250" stop-color="#a9892b"/><stop offset="0.281" stop-color="#aa8b2b"/><stop offset="0.312" stop-color="#ac8c2c"/><stop offset="0.344" stop-color="#886e22"/><stop offset="0.375" stop-color="#a18229"/><stop offset="0.406" stop-color="#957926"/><stop offset="0.438" stop-color="#997c27"/><stop offset="0.469" stop-color="#a7882b"/><stop offset="0.500" stop-color="#ae8d2c"/><stop offset="0.531" stop-color="#b08f2d"/><stop offset="0.562" stop-color="#8d7224"/><stop offset="0.594" stop-color="#ab8b2c"/><stop offset="0.625" stop-color="#896e23"/><stop offset="0.656" stop-color="#a18329"/><stop offset="0.688" stop-color="#937725"/><stop offset="0.719" stop-color="#ab8b2c"/><stop offset="0.750" stop-color="#907425"/><stop offset="0.781" stop-color="#a6872a"/><stop offset="0.812" stop-color="#a18329"/><stop offset="0.844" stop-color="#9b7d27"/><stop offset="0.875" stop-color="#ac8c2c"/><stop offset="0.906" stop-color="#a6872a"/><stop offset="0.938" stop-color="#907424"/><stop offset="0.969" stop-color="#a5862a"/><stop offset="1.000" stop-color="#a18229"/></linearGradient><linearGradient id="g120" gradientUnits="userSpaceOnUse" x1="0" y1="52" x2="0" y2="247.2"><stop offset="0.000" stop-color="#a28429"/><stop offset="0.031" stop-color="#a4852a"/><stop offset="0.062" stop-color="#a28429"/><stop offset="0.094" stop-color="#9c7e28"/><stop offset="0.125" stop-color="#9c7f28"/><stop offset="0.156" stop-color="#917525"/><stop offset="0.188" stop-color="#987b27"/><stop offset="0.219" stop-color="#886d22"/><stop offset="0.250" stop-color="#a98a2b"/><stop offset="0.281" stop-color="#907525"/><stop offset="0.312" stop-color="#896f23"/><stop offset="0.344" stop-color="#a28329"/><stop offset="0.375" stop-color="#aa8a2b"/><stop offset="0.406" stop-color="#997c27"/><stop offset="0.438" stop-color="#a7872b"/><stop offset="0.469" stop-color="#997c27"/><stop offset="0.500" stop-color="#8e7324"/><stop offset="0.531" stop-color="#a8882b"/><stop offset="0.562" stop-color="#a7872b"/><stop offset="0.594" stop-color="#987b27"/><stop offset="0.625" stop-color="#a4852a"/><stop offset="0.656" stop-color="#a28329"/><stop offset="0.688" stop-color="#997c27"/><stop offset="0.719" stop-color="#a7872a"/><stop offset="0.750" stop-color="#a9892b"/><stop offset="0.781" stop-color="#9d7f28"/><stop offset="0.812" stop-color="#987b27"/><stop offset="0.844" stop-color="#856b22"/><stop offset="0.875" stop-color="#957826"/><stop offset="0.906" stop-color="#a9892b"/><stop offset="0.938" stop-color="#a28429"/><stop offset="0.969" stop-color="#8d7224"/><stop offset="1.000" stop-color="#947826"/></linearGradient></defs>
<rect x="65.0" y="52" width="1.7" height="197" fill="url(#g0)"/><rect x="66.5" y="52" width="1.7" height="197" fill="url(#g1)"/><rect x="68.0" y="52" width="1.7" height="197" fill="url(#g2)"/><rect x="69.5" y="52" width="1.7" height="197" fill="url(#g3)"/><rect x="71.0" y="52" width="1.7" height="197" fill="url(#g4)"/><rect x="72.5" y="52" width="1.7" height="197" fill="url(#g5)"/><rect x="74.0" y="52" width="1.7" height="197" fill="url(#g6)"/><rect x="75.5" y="52" width="1.7" height="197" fill="url(#g7)"/><rect x="77.0" y="52" width="1.7" height="197" fill="url(#g8)"/><rect x="78.5" y="52" width="1.7" height="197" fill="url(#g9)"/><rect x="80.0" y="52" width="1.7" height="197" fill="url(#g10)"/><rect x="81.5" y="52" width="1.7" height="197" fill="url(#g11)"/><rect x="83.0" y="52" width="1.7" height="197" fill="url(#g12)"/><rect x="84.5" y="52" width="1.7" height="197" fill="url(#g13)"/><rect x="86.0" y="52" width="1.7" height="197" fill="url(#g14)"/><rect x="87.5" y="52" width="1.7" height="197" fill="url(#g15)"/><rect x="89.0" y="52" width="1.7" height="197" fill="url(#g16)"/><rect x="90.5" y="52" width="1.7" height="197" fill="url(#g17)"/><rect x="92.0" y="52" width="1.7" height="197" fill="url(#g18)"/><rect x="93.5" y="52" width="1.7" height="197" fill="url(#g19)"/><rect x="95.0" y="52" width="1.7" height="197" fill="url(#g20)"/><rect x="96.5" y="52" width="1.7" height="197" fill="url(#g21)"/><rect x="98.0" y="52" width="1.7" height="197" fill="url(#g22)"/><rect x="99.5" y="52" width="1.7" height="197" fill="url(#g23)"/><rect x="101.0" y="52" width="1.7" height="197" fill="url(#g24)"/><rect x="102.5" y="52" width="1.7" height="197" fill="url(#g25)"/><rect x="104.0" y="52" width="1.7" height="197" fill="url(#g26)"/><rect x="105.5" y="52" width="1.7" height="197" fill="url(#g27)"/><rect x="107.0" y="52" width="1.7" height="197" fill="url(#g28)"/><rect x="108.5" y="52" width="1.7" height="197" fill="url(#g29)"/><rect x="110.0" y="52" width="1.7" height="197" fill="url(#g30)"/><rect x="111.5" y="52" width="1.7" height="197" fill="url(#g31)"/><rect x="113.0" y="52" width="1.7" height="197" fill="url(#g32)"/><rect x="114.5" y="52" width="1.7" height="197" fill="url(#g33)"/><rect x="116.0" y="52" width="1.7" height="197" fill="url(#g34)"/><rect x="117.5" y="52" width="1.7" height="197" fill="url(#g35)"/><rect x="119.0" y="52" width="1.7" height="197" fill="url(#g36)"/><rect x="120.5" y="52" width="1.7" height="197" fill="url(#g37)"/><rect x="122.0" y="52" width="1.7" height="197" fill="url(#g38)"/><rect x="123.5" y="52" width="1.7" height="197" fill="url(#g39)"/><rect x="125.0" y="52" width="1.7" height="197" fill="url(#g40)"/><rect x="126.5" y="52" width="1.7" height="197" fill="url(#g41)"/><rect x="128.0" y="52" width="1.7" height="197" fill="url(#g42)"/><rect x="129.5" y="52" width="1.7" height="197" fill="url(#g43)"/><rect x="131.0" y="52" width="1.7" height="197" fill="url(#g44)"/><rect x="132.5" y="52" width="1.7" height="197" fill="url(#g45)"/><rect x="134.0" y="52" width="1.7" height="197" fill="url(#g46)"/><rect x="135.5" y="52" width="1.7" height="197" fill="url(#g47)"/><rect x="137.0" y="52" width="1.7" height="197" fill="url(#g48)"/><rect x="138.5" y="52" width="1.7" height="197" fill="url(#g49)"/><rect x="140.0" y="52" width="1.7" height="197" fill="url(#g50)"/><rect x="141.5" y="52" width="1.7" height="197" fill="url(#g51)"/><rect x="143.0" y="52" width="1.7" height="197" fill="url(#g52)"/><rect x="144.5" y="52" width="1.7" height="197" fill="url(#g53)"/><rect x="146.0" y="52" width="1.7" height="197" fill="url(#g54)"/><rect x="147.5" y="52" width="1.7" height="197" fill="url(#g55)"/><rect x="149.0" y="52" width="1.7" height="197" fill="url(#g56)"/><rect x="150.5" y="52" width="1.7" height="197" fill="url(#g57)"/><rect x="152.0" y="52" width="1.7" height="197" fill="url(#g58)"/><rect x="153.5" y="52" width="1.7" height="197" fill="url(#g59)"/><rect x="155.0" y="52" width="1.7" height="197" fill="url(#g60)"/><rect x="156.5" y="52" width="1.7" height="197" fill="url(#g61)"/><rect x="158.0" y="52" width="1.7" height="197" fill="url(#g62)"/><rect x="159.5" y="52" width="1.7" height="197" fill="url(#g63)"/><rect x="161.0" y="52" width="1.7" height="197" fill="url(#g64)"/><rect x="162.5" y="52" width="1.7" height="197" fill="url(#g65)"/><rect x="164.0" y="52" width="1.7" height="197" fill="url(#g66)"/><rect x="165.5" y="52" width="1.7" height="197" fill="url(#g67)"/><rect x="167.0" y="52" width="1.7" height="197" fill="url(#g68)"/><rect x="168.5" y="52" width="1.7" height="197" fill="url(#g69)"/><rect x="170.0" y="52" width="1.7" height="197" fill="url(#g70)"/><rect x="171.5" y="52" width="1.7" height="197" fill="url(#g71)"/><rect x="173.0" y="52" width="1.7" height="197" fill="url(#g72)"/><rect x="174.5" y="52" width="1.7" height="197" fill="url(#g73)"/><rect x="176.0" y="52" width="1.7" height="197" fill="url(#g74)"/><rect x="177.5" y="52" width="1.7" height="197" fill="url(#g75)"/><rect x="179.0" y="52" width="1.7" height="197" fill="url(#g76)"/><rect x="180.5" y="52" width="1.7" height="197" fill="url(#g77)"/><rect x="182.0" y="52" width="1.7" height="197" fill="url(#g78)"/><rect x="183.5" y="52" width="1.7" height="197" fill="url(#g79)"/><rect x="185.0" y="52" width="1.7" height="197" fill="url(#g80)"/><rect x="186.5" y="52" width="1.7" height="197" fill="url(#g81)"/><rect x="188.0" y="52" width="1.7" height="197" fill="url(#g82)"/><rect x="189.5" y="52" width="1.7" height="197" fill="url(#g83)"/><rect x="191.0" y="52" width="1.7" height="197" fill="url(#g84)"/><rect x="192.5" y="52" width="1.7" height="197" fill="url(#g85)"/><rect x="194.0" y="52" width="1.7" height="197" fill="url(#g86)"/><rect x="195.5" y="52" width="1.7" height="197" fill="url(#g87)"/><rect x="197.0" y="52" width="1.7" height="197" fill="url(#g88)"/><rect x="198.5" y="52" width="1.7" height="197" fill="url(#g89)"/><rect x="200.0" y="52" width="1.7" height="197" fill="url(#g90)"/><rect x="201.5" y="52" width="1.7" height="197" fill="url(#g91)"/><rect x="203.0" y="52" width="1.7" height="197" fill="url(#g92)"/><rect x="204.5" y="52" width="1.7" height="197" fill="url(#g93)"/><rect x="206.0" y="52" width="1.7" height="197" fill="url(#g94)"/><rect x="207.5" y="52" width="1.7" height="197" fill="url(#g95)"/><rect x="209.0" y="52" width="1.7" height="197" fill="url(#g96)"/><rect x="210.5" y="52" width="1.7" height="197" fill="url(#g97)"/><rect x="212.0" y="52" width="1.7" height="197" fill="url(#g98)"/><rect x="213.5" y="52" width="1.7" height="197" fill="url(#g99)"/><rect x="215.0" y="52" width="1.7" height="197" fill="url(#g100)"/><rect x="216.5" y="52" width="1.7" height="197" fill="url(#g101)"/><rect x="218.0" y="52" width="1.7" height="197" fill="url(#g102)"/><rect x="219.5" y="52" width="1.7" height="197" fill="url(#g103)"/><rect x="221.0" y="52" width="1.7" height="197" fill="url(#g104)"/><rect x="222.5" y="52" width="1.7" height="197" fill="url(#g105)"/><rect x="224.0" y="52" width="1.7" height="197" fill="url(#g106)"/><rect x="225.5" y="52" width="1.7" height="197" fill="url(#g107)"/><rect x="227.0" y="52" width="1.7" height="197" fill="url(#g108)"/><rect x="228.5" y="52" width="1.7" height="197" fill="url(#g109)"/><rect x="230.0" y="52" width="1.7" height="197" fill="url(#g110)"/><rect x="231.5" y="52" width="1.7" height="197" fill="url(#g111)"/><rect x="233.0" y="52" width="1.7" height="197" fill="url(#g112)"/><rect x="234.5" y="52" width="1.7" height="197" fill="url(#g113)"/><rect x="236.0" y="52" width="1.7" height="197" fill="url(#g114)"/><rect x="237.5" y="52" width="1.7" height="197" fill="url(#g115)"/><rect x="239.0" y="52" width="1.7" height="197" fill="url(#g116)"/><rect x="240.5" y="52" width="1.7" height="197" fill="url(#g117)"/><rect x="242.0" y="52" width="1.7" height="197" fill="url(#g118)"/><rect x="243.5" y="52" width="1.7" height="197" fill="url(#g119)"/><rect x="245.0" y="52" width="1.7" height="197" fill="url(#g120)"/>
<rect x="65.0" y="52" width="1.5" height="3.4" fill="#8a7434" opacity="0.8"/>
<rect x="66.5" y="52" width="1.5" height="5.1" fill="#8a7434" opacity="0.8"/>
<rect x="68.0" y="52" width="1.5" height="5.1" fill="#c8a848" opacity="0.8"/>
<rect x="69.5" y="52" width="1.5" height="3.8" fill="#6a5a28" opacity="0.8"/>
<rect x="71.0" y="52" width="1.5" height="4.9" fill="#a08a40" opacity="0.8"/>
<rect x="72.5" y="52" width="1.5" height="6.7" fill="#8a7434" opacity="0.8"/>
<rect x="74.0" y="52" width="1.5" height="6.1" fill="#8a7434" opacity="0.8"/>
<rect x="75.5" y="52" width="1.5" height="3.3" fill="#c8a848" opacity="0.8"/>
<rect x="77.0" y="52" width="1.5" height="5.5" fill="#8a7434" opacity="0.8"/>
<rect x="78.5" y="52" width="1.5" height="3.8" fill="#a08a40" opacity="0.8"/>
<rect x="80.0" y="52" width="1.5" height="3.3" fill="#6a5a28" opacity="0.8"/>
<rect x="81.5" y="52" width="1.5" height="4.9" fill="#8a7434" opacity="0.8"/>
<rect x="83.0" y="52" width="1.5" height="5.0" fill="#c8a848" opacity="0.8"/>
<rect x="84.5" y="52" width="1.5" height="5.6" fill="#a08a40" opacity="0.8"/>
<rect x="86.0" y="52" width="1.5" height="5.1" fill="#a08a40" opacity="0.8"/>
<rect x="87.5" y="52" width="1.5" height="6.1" fill="#c8a848" opacity="0.8"/>
<rect x="89.0" y="52" width="1.5" height="5.6" fill="#c8a848" opacity="0.8"/>
<rect x="90.5" y="52" width="1.5" height="4.5" fill="#c8a848" opacity="0.8"/>
<rect x="92.0" y="52" width="1.5" height="6.0" fill="#6a5a28" opacity="0.8"/>
<rect x="93.5" y="52" width="1.5" height="5.6" fill="#6a5a28" opacity="0.8"/>
<rect x="95.0" y="52" width="1.5" height="5.8" fill="#c8a848" opacity="0.8"/>
<rect x="96.5" y="52" width="1.5" height="5.4" fill="#a08a40" opacity="0.8"/>
<rect x="98.0" y="52" width="1.5" height="4.8" fill="#a08a40" opacity="0.8"/>
<rect x="99.5" y="52" width="1.5" height="4.1" fill="#a08a40" opacity="0.8"/>
<rect x="101.0" y="52" width="1.5" height="6.4" fill="#c8a848" opacity="0.8"/>
<rect x="102.5" y="52" width="1.5" height="6.0" fill="#6a5a28" opacity="0.8"/>
<rect x="104.0" y="52" width="1.5" height="6.8" fill="#c8a848" opacity="0.8"/>
<rect x="105.5" y="52" width="1.5" height="3.1" fill="#8a7434" opacity="0.8"/>
<rect x="107.0" y="52" width="1.5" height="3.1" fill="#c8a848" opacity="0.8"/>
<rect x="108.5" y="52" width="1.5" height="3.9" fill="#8a7434" opacity="0.8"/>
<rect x="110.0" y="52" width="1.5" height="4.5" fill="#8a7434" opacity="0.8"/>
<rect x="111.5" y="52" width="1.5" height="5.7" fill="#8a7434" opacity="0.8"/>
<rect x="113.0" y="52" width="1.5" height="5.5" fill="#c8a848" opacity="0.8"/>
<rect x="114.5" y="52" width="1.5" height="3.8" fill="#c8a848" opacity="0.8"/>
<rect x="116.0" y="52" width="1.5" height="3.8" fill="#8a7434" opacity="0.8"/>
<rect x="117.5" y="52" width="1.5" height="4.1" fill="#8a7434" opacity="0.8"/>
<rect x="119.0" y="52" width="1.5" height="3.1" fill="#6a5a28" opacity="0.8"/>
<rect x="120.5" y="52" width="1.5" height="4.4" fill="#c8a848" opacity="0.8"/>
<rect x="122.0" y="52" width="1.5" height="5.3" fill="#a08a40" opacity="0.8"/>
<rect x="123.5" y="52" width="1.5" height="4.0" fill="#c8a848" opacity="0.8"/>
<rect x="125.0" y="52" width="1.5" height="3.6" fill="#a08a40" opacity="0.8"/>
<rect x="126.5" y="52" width="1.5" height="5.4" fill="#6a5a28" opacity="0.8"/>
<rect x="128.0" y="52" width="1.5" height="5.2" fill="#8a7434" opacity="0.8"/>
<rect x="129.5" y="52" width="1.5" height="3.6" fill="#8a7434" opacity="0.8"/>
<rect x="131.0" y="52" width="1.5" height="5.2" fill="#c8a848" opacity="0.8"/>
<rect x="132.5" y="52" width="1.5" height="6.8" fill="#6a5a28" opacity="0.8"/>
<rect x="134.0" y="52" width="1.5" height="6.6" fill="#c8a848" opacity="0.8"/>
<rect x="135.5" y="52" width="1.5" height="5.3" fill="#c8a848" opacity="0.8"/>
<rect x="137.0" y="52" width="1.5" height="3.7" fill="#a08a40" opacity="0.8"/>
<rect x="138.5" y="52" width="1.5" height="3.7" fill="#8a7434" opacity="0.8"/>
<rect x="140.0" y="52" width="1.5" height="6.2" fill="#8a7434" opacity="0.8"/>
<rect x="141.5" y="52" width="1.5" height="6.6" fill="#6a5a28" opacity="0.8"/>
<rect x="143.0" y="52" width="1.5" height="6.4" fill="#c8a848" opacity="0.8"/>
<rect x="144.5" y="52" width="1.5" height="6.9" fill="#6a5a28" opacity="0.8"/>
<rect x="146.0" y="52" width="1.5" height="3.4" fill="#8a7434" opacity="0.8"/>
<rect x="147.5" y="52" width="1.5" height="6.7" fill="#8a7434" opacity="0.8"/>
<rect x="149.0" y="52" width="1.5" height="6.9" fill="#a08a40" opacity="0.8"/>
<rect x="150.5" y="52" width="1.5" height="3.3" fill="#6a5a28" opacity="0.8"/>
<rect x="152.0" y="52" width="1.5" height="6.5" fill="#c8a848" opacity="0.8"/>
<rect x="153.5" y="52" width="1.5" height="3.3" fill="#8a7434" opacity="0.8"/>
<rect x="155.0" y="52" width="1.5" height="6.4" fill="#8a7434" opacity="0.8"/>
<rect x="156.5" y="52" width="1.5" height="4.8" fill="#a08a40" opacity="0.8"/>
<rect x="158.0" y="52" width="1.5" height="5.6" fill="#8a7434" opacity="0.8"/>
<rect x="159.5" y="52" width="1.5" height="6.6" fill="#6a5a28" opacity="0.8"/>
<rect x="161.0" y="52" width="1.5" height="4.7" fill="#c8a848" opacity="0.8"/>
<rect x="162.5" y="52" width="1.5" height="5.3" fill="#6a5a28" opacity="0.8"/>
<rect x="164.0" y="52" width="1.5" height="6.4" fill="#c8a848" opacity="0.8"/>
<rect x="165.5" y="52" width="1.5" height="5.6" fill="#6a5a28" opacity="0.8"/>
<rect x="167.0" y="52" width="1.5" height="4.5" fill="#8a7434" opacity="0.8"/>
<rect x="168.5" y="52" width="1.5" height="5.7" fill="#6a5a28" opacity="0.8"/>
<rect x="170.0" y="52" width="1.5" height="5.8" fill="#a08a40" opacity="0.8"/>
<rect x="171.5" y="52" width="1.5" height="5.5" fill="#a08a40" opacity="0.8"/>
<rect x="173.0" y="52" width="1.5" height="3.8" fill="#8a7434" opacity="0.8"/>
<rect x="174.5" y="52" width="1.5" height="6.2" fill="#6a5a28" opacity="0.8"/>
<rect x="176.0" y="52" width="1.5" height="4.8" fill="#a08a40" opacity="0.8"/>
<rect x="177.5" y="52" width="1.5" height="5.7" fill="#6a5a28" opacity="0.8"/>
<rect x="179.0" y="52" width="1.5" height="4.9" fill="#c8a848" opacity="0.8"/>
<rect x="180.5" y="52" width="1.5" height="6.1" fill="#6a5a28" opacity="0.8"/>
<rect x="182.0" y="52" width="1.5" height="6.9" fill="#c8a848" opacity="0.8"/>
<rect x="183.5" y="52" width="1.5" height="6.8" fill="#a08a40" opacity="0.8"/>
<rect x="185.0" y="52" width="1.5" height="5.2" fill="#c8a848" opacity="0.8"/>
<rect x="186.5" y="52" width="1.5" height="6.8" fill="#8a7434" opacity="0.8"/>
<rect x="188.0" y="52" width="1.5" height="4.5" fill="#c8a848" opacity="0.8"/>
<rect x="189.5" y="52" width="1.5" height="4.5" fill="#6a5a28" opacity="0.8"/>
<rect x="191.0" y="52" width="1.5" height="6.1" fill="#8a7434" opacity="0.8"/>
<rect x="192.5" y="52" width="1.5" height="7.0" fill="#c8a848" opacity="0.8"/>
<rect x="194.0" y="52" width="1.5" height="6.5" fill="#c8a848" opacity="0.8"/>
<rect x="195.5" y="52" width="1.5" height="3.1" fill="#a08a40" opacity="0.8"/>
<rect x="197.0" y="52" width="1.5" height="6.5" fill="#c8a848" opacity="0.8"/>
<rect x="198.5" y="52" width="1.5" height="5.6" fill="#8a7434" opacity="0.8"/>
<rect x="200.0" y="52" width="1.5" height="5.3" fill="#8a7434" opacity="0.8"/>
<rect x="201.5" y="52" width="1.5" height="5.3" fill="#6a5a28" opacity="0.8"/>
<rect x="203.0" y="52" width="1.5" height="4.4" fill="#6a5a28" opacity="0.8"/>
<rect x="204.5" y="52" width="1.5" height="4.3" fill="#8a7434" opacity="0.8"/>
<rect x="206.0" y="52" width="1.5" height="5.8" fill="#8a7434" opacity="0.8"/>
<rect x="207.5" y="52" width="1.5" height="4.6" fill="#c8a848" opacity="0.8"/>
<rect x="209.0" y="52" width="1.5" height="6.8" fill="#a08a40" opacity="0.8"/>
<rect x="210.5" y="52" width="1.5" height="6.3" fill="#6a5a28" opacity="0.8"/>
<rect x="212.0" y="52" width="1.5" height="5.5" fill="#c8a848" opacity="0.8"/>
<rect x="213.5" y="52" width="1.5" height="4.5" fill="#c8a848" opacity="0.8"/>
<rect x="215.0" y="52" width="1.5" height="5.6" fill="#6a5a28" opacity="0.8"/>
<rect x="216.5" y="52" width="1.5" height="6.3" fill="#c8a848" opacity="0.8"/>
<rect x="218.0" y="52" width="1.5" height="6.4" fill="#8a7434" opacity="0.8"/>
<rect x="219.5" y="52" width="1.5" height="3.8" fill="#a08a40" opacity="0.8"/>
<rect x="221.0" y="52" width="1.5" height="5.4" fill="#a08a40" opacity="0.8"/>
<rect x="222.5" y="52" width="1.5" height="5.9" fill="#8a7434" opacity="0.8"/>
<rect x="224.0" y="52" width="1.5" height="3.1" fill="#6a5a28" opacity="0.8"/>
<rect x="225.5" y="52" width="1.5" height="6.3" fill="#a08a40" opacity="0.8"/>
<rect x="227.0" y="52" width="1.5" height="5.8" fill="#a08a40" opacity="0.8"/>
<rect x="228.5" y="52" width="1.5" height="3.7" fill="#a08a40" opacity="0.8"/>
<rect x="230.0" y="52" width="1.5" height="4.1" fill="#c8a848" opacity="0.8"/>
<rect x="231.5" y="52" width="1.5" height="3.1" fill="#c8a848" opacity="0.8"/>
<rect x="233.0" y="52" width="1.5" height="3.3" fill="#a08a40" opacity="0.8"/>
<rect x="234.5" y="52" width="1.5" height="6.9" fill="#a08a40" opacity="0.8"/>
<rect x="236.0" y="52" width="1.5" height="4.9" fill="#c8a848" opacity="0.8"/>
<rect x="237.5" y="52" width="1.5" height="5.1" fill="#a08a40" opacity="0.8"/>
<rect x="239.0" y="52" width="1.5" height="4.2" fill="#6a5a28" opacity="0.8"/>
<rect x="240.5" y="52" width="1.5" height="6.5" fill="#8a7434" opacity="0.8"/>
<rect x="242.0" y="52" width="1.5" height="3.2" fill="#6a5a28" opacity="0.8"/>
<rect x="243.5" y="52" width="1.5" height="4.1" fill="#a08a40" opacity="0.8"/>
<line x1="119" y1="56" x2="91" y2="113" stroke="#f0c444" stroke-width="3" opacity="0.88" filter="url(#bl07)"/>
<line x1="88" y1="56" x2="114" y2="108" stroke="#f0c444" stroke-width="2.6" opacity="0.88" filter="url(#bl07)"/>
<line x1="127" y1="55" x2="182" y2="180" stroke="#f0c444" stroke-width="3" opacity="0.88" filter="url(#bl07)"/>
<line x1="184" y1="55" x2="128" y2="182" stroke="#f0c444" stroke-width="3" opacity="0.88" filter="url(#bl07)"/>
<line x1="196" y1="68" x2="217" y2="112" stroke="#f0c444" stroke-width="2.6" opacity="0.88" filter="url(#bl07)"/>
<line x1="240" y1="56" x2="224" y2="88" stroke="#f0c444" stroke-width="2.4" opacity="0.88" filter="url(#bl07)"/>
<line x1="162" y1="110" x2="150" y2="135" stroke="#f0c444" stroke-width="2.4" opacity="0.88" filter="url(#bl07)"/>
<line x1="100" y1="56" x2="86" y2="84" stroke="#f0c444" stroke-width="2.2" opacity="0.88" filter="url(#bl07)"/>
</g>
<rect x="63.5" y="52" width="182" height="196.5" filter="url(#noise)" opacity="0.45" clip-path="url(#boxa)"/>
<rect x="63.5" y="52" width="182" height="196.5" fill="none" stroke="#262626" stroke-width="1.2"/>
<line x1="63.5" y1="88.4" x2="65.5" y2="88.4" stroke="#262626" stroke-width="1"/>
<line x1="245.5" y1="88.4" x2="243.5" y2="88.4" stroke="#262626" stroke-width="1"/>
<text x="55.3" y="94.0" font-size="12.3" text-anchor="end" fill="#262626" >200</text>
<line x1="63.5" y1="128" x2="65.5" y2="128" stroke="#262626" stroke-width="1"/>
<line x1="245.5" y1="128" x2="243.5" y2="128" stroke="#262626" stroke-width="1"/>
<text x="55.3" y="133.5" font-size="12.3" text-anchor="end" fill="#262626" >400</text>
<line x1="63.5" y1="167.6" x2="65.5" y2="167.6" stroke="#262626" stroke-width="1"/>
<line x1="245.5" y1="167.6" x2="243.5" y2="167.6" stroke="#262626" stroke-width="1"/>
<text x="55.3" y="172.8" font-size="12.3" text-anchor="end" fill="#262626" >600</text>
<line x1="63.5" y1="207.2" x2="65.5" y2="207.2" stroke="#262626" stroke-width="1"/>
<line x1="245.5" y1="207.2" x2="243.5" y2="207.2" stroke="#262626" stroke-width="1"/>
<text x="55.3" y="211.8" font-size="12.3" text-anchor="end" fill="#262626" >800</text>
<line x1="63.5" y1="246.8" x2="65.5" y2="246.8" stroke="#262626" stroke-width="1"/>
<line x1="245.5" y1="246.8" x2="243.5" y2="246.8" stroke="#262626" stroke-width="1"/>
<text x="55.3" y="251.1" font-size="12.3" text-anchor="end" fill="#262626" >1000</text>
<text x="54.3" y="262.4" font-size="12.3" text-anchor="middle" fill="#262626" >0</text>
<text x="152.7" y="262.4" font-size="12.3" text-anchor="middle" fill="#262626" >100</text>
<text x="241.0" y="262.4" font-size="12.3" text-anchor="middle" fill="#262626" >200</text>
<text x="156.5" y="281.6" font-size="12.6" text-anchor="middle" fill="#262626" >Time [s]</text>
<text transform="translate(17,150.3) rotate(-90)" font-size="12.3" text-anchor="middle" fill="#262626">Scale [No]</text>
<rect x="257.3" y="53.5" width="11" height="197" fill="url(#hot)" stroke="#262626" stroke-width="1"/>
<text x="274.0" y="254.9" font-size="12.3" text-anchor="start" fill="#262626" >0</text>
<line x1="257.3" y1="201.8" x2="259" y2="201.8" stroke="#262626" stroke-width="0.8"/><line x1="268.3" y1="201.8" x2="266.6" y2="201.8" stroke="#262626" stroke-width="0.8"/>
<text x="274.0" y="206.2" font-size="12.3" text-anchor="start" fill="#262626" >0.5</text>
<line x1="257.3" y1="152.9" x2="259" y2="152.9" stroke="#262626" stroke-width="0.8"/><line x1="268.3" y1="152.9" x2="266.6" y2="152.9" stroke="#262626" stroke-width="0.8"/>
<text x="274.0" y="157.3" font-size="12.3" text-anchor="start" fill="#262626" >1</text>
<line x1="257.3" y1="103.6" x2="259" y2="103.6" stroke="#262626" stroke-width="0.8"/><line x1="268.3" y1="103.6" x2="266.6" y2="103.6" stroke="#262626" stroke-width="0.8"/>
<text x="274.0" y="108.0" font-size="12.3" text-anchor="start" fill="#262626" >1.5</text>
<g clip-path="url(#boxb)">
<polyline points="331.39,220.76 332.03,127.58 332.66,217.73 333.29,121.75 333.92,215.00 334.55,126.71 335.18,212.26 335.81,132.08 336.44,198.26 337.07,136.97 337.70,217.18 338.33,142.39 338.96,207.79 339.59,151.88 340.22,199.73 340.85,167.99 341.48,190.49 342.11,171.96 342.74,192.20 343.37,173.05 344.00,192.23 344.63,178.32 345.26,198.83 345.90,177.36 346.53,196.29 347.16,177.01 347.79,197.20 348.42,178.84 349.05,196.35 349.68,182.50 350.31,192.32 350.94,182.45 351.57,191.82 352.20,184.74 352.83,189.83 353.46,182.70 354.09,187.20 354.72,180.65 355.35,184.29 355.98,179.05 356.61,181.87 357.24,176.98 357.87,180.34 358.50,174.28 359.13,178.70 359.77,171.39 360.40,176.90 361.03,169.13 361.66,179.42 362.29,162.64 362.92,179.64 363.55,164.31 364.18,173.64 364.81,160.57 365.44,174.87 366.07,157.84 366.70,175.75 367.33,156.65 367.96,175.51 368.59,157.54 369.22,173.19 369.85,157.31 370.48,173.61 371.11,156.42 371.74,168.63 372.37,155.56 373.00,166.10 373.64,155.59 374.27,165.41 374.90,153.91 375.53,159.65 376.16,152.18 376.79,158.93 377.42,150.07 378.05,156.23 378.68,149.29 379.31,154.77 379.94,149.09 380.57,153.08 381.20,147.84 381.83,153.45 382.46,147.77 383.09,152.34 383.72,146.93 384.35,153.18 384.98,147.13 385.61,153.63 386.24,146.07 386.87,154.20 387.51,146.49 388.14,156.93 388.77,146.34 389.40,160.10 390.03,148.15 390.66,156.99 391.29,145.08 391.92,156.66 392.55,143.35 393.18,156.36 393.81,142.65 394.44,158.20 395.07,143.33 395.70,152.00 396.33,142.42 396.96,149.79 397.59,141.63 398.22,150.56 398.85,140.13 399.48,147.47 400.11,138.96 400.74,145.02 401.38,137.12 402.01,145.39 402.64,135.63 403.27,142.06 403.90,133.85 404.53,143.06 405.16,133.31 405.79,141.92 406.42,132.50 407.05,140.46 407.68,130.26 408.31,137.77 408.94,129.79 409.57,136.02 410.20,126.96 410.83,135.20 411.46,126.90 412.09,134.32 412.72,125.72 413.35,132.47 413.98,125.77 414.61,131.93 415.25,122.99 415.88,130.57 416.51,122.93 417.14,128.73 417.77,122.45 418.40,129.25 419.03,120.05 419.66,127.59 420.29,120.33 420.92,129.11 421.55,117.25 422.18,130.14 422.81,116.71 423.44,131.14 424.07,116.66 424.70,133.01 425.33,120.81 425.96,133.64 426.59,115.90 427.22,136.28 427.85,115.66 428.48,137.39 429.12,120.26 429.75,139.63 430.38,117.54 431.01,140.25 431.64,119.47 432.27,135.79 432.90,126.97 433.53,138.62 434.16,122.64 434.79,142.07 435.42,122.97 436.05,135.44 436.68,125.13 437.31,142.17 437.94,120.71 438.57,135.84 439.20,112.81 439.83,138.42 440.46,114.01 441.09,133.69 441.72,109.32 442.35,126.49 442.99,101.34 443.62,118.20 444.25,99.08 444.88,121.65 445.51,96.28 446.14,116.55 446.77,93.59 447.40,114.07 448.03,93.05 448.66,106.77 449.29,92.06 449.92,107.94 450.55,96.57 451.18,108.83 451.81,94.42 452.44,109.66 453.07,95.73 453.70,110.77 454.33,97.99 454.96,114.38 455.59,95.57 456.23,108.22 456.86,92.33 457.49,107.00 458.12,93.21 458.75,108.05 459.38,88.53 460.01,107.38 460.64,87.20 461.27,104.19 461.90,85.78 462.53,104.15 463.16,84.81 463.79,103.70 464.42,83.19 465.05,99.90 465.68,84.35 466.31,99.87 466.94,81.45 467.57,98.37 468.20,82.63 468.83,92.97 469.46,83.33 470.10,96.65 470.73,78.27 471.36,90.50 471.99,79.82 472.62,93.46 473.25,78.27 473.88,88.79 474.51,75.84 475.14,90.76 475.77,77.30 476.40,88.48 477.03,75.98 477.66,87.54 478.29,73.17 478.92,85.82 479.55,74.63 480.18,83.65 480.81,72.36 481.44,83.58 482.07,73.26 482.70,82.60 483.33,71.99 483.97,80.99 484.60,71.08 485.23,77.12 485.86,71.50 486.49,75.45 487.12,70.50 487.75,75.12 488.38,70.79 489.01,74.86 489.64,69.45 490.27,74.32 490.90,68.96 491.53,73.66 492.16,68.68 492.79,72.81 493.42,68.09 494.05,71.54 494.68,67.97 495.31,72.00 495.94,67.26 496.57,70.73 497.20,66.25 497.84,70.53 498.47,65.93 499.10,69.70 499.73,64.30 500.36,67.89 500.99,63.55 501.62,68.09 502.25,62.14 502.88,66.21 503.51,61.04 504.14,64.77 504.77,60.03 505.40,63.95 506.03,58.18 506.66,62.93 507.29,56.94 507.92,61.35 508.55,55.51 509.18,58.61 509.81,53.74 510.44,57.44 511.07,52.45" fill="none" stroke="#111" stroke-width="0.5"/>
<polyline points="331.64,185.38 332.36,187.25 333.09,160.56 333.82,156.20 334.55,177.23 335.27,184.01 336.00,162.70 336.73,175.37 337.46,165.18 338.18,167.72 338.91,177.99 339.64,185.69 340.37,185.98 341.09,185.12 341.82,185.74 342.55,182.16 343.28,184.76 344.00,182.97 344.73,184.04 345.46,184.28 346.19,186.64 346.91,184.86 347.64,186.06 348.37,189.38 349.10,189.42 349.82,188.30 350.55,188.11 351.28,189.02 352.01,187.60 352.73,187.60 353.46,186.17 354.19,184.81 354.92,182.51 355.64,181.72 356.37,180.17 357.10,178.62 357.83,178.09 358.55,176.16 359.28,174.85 360.01,174.91 360.74,174.45 361.46,172.99 362.19,169.82 362.92,170.18 363.65,170.00 364.37,167.43 365.10,169.75 365.83,166.98 366.55,166.69 367.28,166.01 368.01,163.05 368.74,166.98 369.46,166.49 370.19,166.15 370.92,163.67 371.65,162.13 372.37,160.89 373.10,159.50 373.83,158.90 374.56,158.86 375.28,157.17 376.01,156.62 376.74,155.75 377.47,153.08 378.19,153.23 378.92,152.06 379.65,151.68 380.38,151.04 381.10,150.95 381.83,150.49 382.56,149.99 383.29,150.46 384.01,149.71 384.74,149.83 385.47,149.89 386.20,150.42 386.92,151.21 387.65,151.68 388.38,152.15 389.11,152.27 389.83,153.85 390.56,153.19 391.29,152.85 392.02,152.33 392.74,150.74 393.47,150.73 394.20,150.03 394.93,148.11 395.65,147.49 396.38,148.51 397.11,146.60 397.84,146.50 398.56,145.82 399.29,144.40 400.02,143.04 400.74,142.83 401.47,141.52 402.20,139.71 402.93,140.58 403.65,139.18 404.38,138.53 405.11,138.28 405.84,137.41 406.56,137.13 407.29,135.44 408.02,133.50 408.75,133.68 409.47,132.96 410.20,130.52 410.93,131.19 411.66,130.45 412.38,129.92 413.11,128.78 413.84,128.03 414.57,127.85 415.29,126.63 416.02,127.11 416.75,125.44 417.48,125.63 418.20,125.30 418.93,124.06 419.66,123.22 420.39,124.67 421.11,124.75 421.84,123.54 422.57,123.99 423.30,122.74 424.02,122.70 424.75,124.41 425.48,122.69 426.21,125.90 426.93,127.82 427.66,125.97 428.39,130.00 429.12,125.96 429.84,127.35 430.57,129.94 431.30,130.16 432.03,132.38 432.75,127.88 433.48,133.01 434.21,128.42 434.94,132.59 435.66,131.27 436.39,127.36 437.12,132.34 437.84,127.25 438.57,127.08 439.30,128.58 440.03,123.35 440.75,119.72 441.48,118.27 442.21,119.55 442.94,112.98 443.66,111.75 444.39,108.71 445.12,108.51 445.85,104.92 446.57,108.25 447.30,106.04 448.03,100.13 448.76,100.34 449.48,102.39 450.21,104.45 450.94,103.45 451.67,100.46 452.39,104.39 453.12,101.15 453.85,104.01 454.58,105.81 455.30,104.89 456.03,104.58 456.76,103.61 457.49,99.65 458.21,98.05 458.94,97.55 459.67,95.79 460.40,95.43 461.12,94.12 461.85,94.77 462.58,95.78 463.31,92.56 464.03,93.23 464.76,90.84 465.49,90.55 466.22,90.57 466.94,92.49 467.67,88.41 468.40,87.36 469.13,90.00 469.85,87.12 470.58,86.95 471.31,86.56 472.03,86.18 472.76,83.68 473.49,85.90 474.22,86.08 474.94,82.37 475.67,84.49 476.40,83.35 477.13,81.98 477.85,81.34 478.58,79.95 479.31,79.97 480.04,80.27 480.76,79.31 481.49,78.08 482.22,78.39 482.95,75.67 483.67,76.12 484.40,74.70 485.13,75.21 485.86,74.58 486.58,73.74 487.31,72.93 488.04,72.49 488.77,72.87 489.49,72.26 490.22,71.89 490.95,71.71 491.68,70.89 492.40,70.97 493.13,70.49 493.86,70.48 494.59,69.93 495.31,69.77 496.04,69.33 496.77,68.55 497.50,68.48 498.22,67.55 498.95,67.17 499.68,66.88 500.41,66.03 501.13,65.62 501.86,65.17 502.59,65.04 503.32,63.48 504.04,63.50 504.77,62.05 505.50,62.14 506.23,60.62 506.95,60.35 507.68,59.46 508.41,57.81 509.13,57.27 509.86,55.99 510.59,55.17 511.32,54.04" fill="none" stroke="#000" stroke-width="0.8" opacity="0.45"/>
</g>
<line x1="331.3" y1="52" x2="331.3" y2="248.5" stroke="#e00000" stroke-width="1.6"/>
<rect x="330.5" y="52" width="181.5" height="196.5" fill="none" stroke="#262626" stroke-width="1.2"/>
<line x1="330.5" y1="53.5" x2="332.5" y2="53.5" stroke="#262626" stroke-width="1"/><line x1="512" y1="53.5" x2="510" y2="53.5" stroke="#262626" stroke-width="1"/>
<text x="323.0" y="58.9" font-size="12.3" text-anchor="end" fill="#262626" >3000</text>
<line x1="330.5" y1="82.6" x2="332.5" y2="82.6" stroke="#262626" stroke-width="1"/><line x1="512" y1="82.6" x2="510" y2="82.6" stroke="#262626" stroke-width="1"/>
<text x="323.0" y="88.0" font-size="12.3" text-anchor="end" fill="#262626" >2800</text>
<line x1="330.5" y1="111.7" x2="332.5" y2="111.7" stroke="#262626" stroke-width="1"/><line x1="512" y1="111.7" x2="510" y2="111.7" stroke="#262626" stroke-width="1"/>
<text x="323.0" y="116.8" font-size="12.3" text-anchor="end" fill="#262626" >2600</text>
<line x1="330.5" y1="140.9" x2="332.5" y2="140.9" stroke="#262626" stroke-width="1"/><line x1="512" y1="140.9" x2="510" y2="140.9" stroke="#262626" stroke-width="1"/>
<text x="323.0" y="146.0" font-size="12.3" text-anchor="end" fill="#262626" >2400</text>
<line x1="330.5" y1="170.0" x2="332.5" y2="170.0" stroke="#262626" stroke-width="1"/><line x1="512" y1="170.0" x2="510" y2="170.0" stroke="#262626" stroke-width="1"/>
<text x="323.0" y="175.2" font-size="12.3" text-anchor="end" fill="#262626" >2200</text>
<line x1="330.5" y1="199.1" x2="332.5" y2="199.1" stroke="#262626" stroke-width="1"/><line x1="512" y1="199.1" x2="510" y2="199.1" stroke="#262626" stroke-width="1"/>
<text x="323.0" y="204.0" font-size="12.3" text-anchor="end" fill="#262626" >2000</text>
<line x1="330.5" y1="228.2" x2="332.5" y2="228.2" stroke="#262626" stroke-width="1"/><line x1="512" y1="228.2" x2="510" y2="228.2" stroke="#262626" stroke-width="1"/>
<text x="323.0" y="233.1" font-size="12.3" text-anchor="end" fill="#262626" >1800</text>
<line x1="365.6" y1="248.5" x2="365.6" y2="246.5" stroke="#262626" stroke-width="1"/><line x1="365.6" y1="52" x2="365.6" y2="54" stroke="#262626" stroke-width="1"/>
<text x="365.7" y="266.7" font-size="12.3" text-anchor="middle" fill="#262626" >200</text>
<line x1="402.0" y1="248.5" x2="402.0" y2="246.5" stroke="#262626" stroke-width="1"/><line x1="402.0" y1="52" x2="402.0" y2="54" stroke="#262626" stroke-width="1"/>
<text x="401.9" y="266.7" font-size="12.3" text-anchor="middle" fill="#262626" >400</text>
<line x1="438.4" y1="248.5" x2="438.4" y2="246.5" stroke="#262626" stroke-width="1"/><line x1="438.4" y1="52" x2="438.4" y2="54" stroke="#262626" stroke-width="1"/>
<text x="437.7" y="266.7" font-size="12.3" text-anchor="middle" fill="#262626" >600</text>
<line x1="474.8" y1="248.5" x2="474.8" y2="246.5" stroke="#262626" stroke-width="1"/><line x1="474.8" y1="52" x2="474.8" y2="54" stroke="#262626" stroke-width="1"/>
<text x="474.0" y="266.7" font-size="12.3" text-anchor="middle" fill="#262626" >800</text>
<line x1="511.2" y1="248.5" x2="511.2" y2="246.5" stroke="#262626" stroke-width="1"/><line x1="511.2" y1="52" x2="511.2" y2="54" stroke="#262626" stroke-width="1"/>
<text x="511.0" y="266.7" font-size="12.3" text-anchor="middle" fill="#262626" >1000</text>
<text x="417.7" y="285.3" font-size="12.3" text-anchor="middle" fill="#262626" >Scale [No]</text>
<text x="352.0" y="80.0" font-size="15.5" text-anchor="middle" fill="#262626" >λ = 4</text>
<g shape-rendering="crispEdges">
<rect x="581.5" y="52.0" width="2.8" height="49.2" fill="#fff060"/>
<rect x="584.0" y="52.0" width="3.8" height="49.2" fill="#ffd040"/>
<rect x="587.5" y="52.0" width="1.3" height="49.2" fill="#fff080"/>
<rect x="588.5" y="52.0" width="1.3" height="49.2" fill="#fff060"/>
<rect x="589.5" y="52.0" width="3.3" height="49.2" fill="#ffe030"/>
<rect x="592.5" y="52.0" width="3.3" height="49.2" fill="#ffd040"/>
<rect x="595.5" y="52.0" width="3.3" height="49.2" fill="#ffe850"/>
<rect x="598.5" y="52.0" width="1.3" height="49.2" fill="#ffe030"/>
<rect x="599.5" y="52.0" width="1.8" height="49.2" fill="#ffe030"/>
<rect x="601.0" y="52.0" width="3.3" height="49.2" fill="#ffd040"/>
<rect x="604.0" y="52.0" width="1.3" height="49.2" fill="#ffc860"/>
<rect x="605.0" y="52.0" width="3.3" height="49.2" fill="#fff080"/>
<rect x="608.0" y="52.0" width="2.3" height="49.2" fill="#ffe030"/>
<rect x="610.0" y="52.0" width="3.8" height="49.2" fill="#e8b020"/>
<rect x="613.5" y="52.0" width="2.8" height="49.2" fill="#ffe030"/>
<rect x="616.0" y="52.0" width="1.3" height="49.2" fill="#fff080"/>
<rect x="617.0" y="52.0" width="2.3" height="49.2" fill="#f8c820"/>
<rect x="619.0" y="52.0" width="1.3" height="49.2" fill="#e8b020"/>
<rect x="620.0" y="52.0" width="2.3" height="49.2" fill="#ffd040"/>
<rect x="622.0" y="52.0" width="2.8" height="49.2" fill="#f8c820"/>
<rect x="624.5" y="52.0" width="3.3" height="49.2" fill="#ffc860"/>
<rect x="627.5" y="52.0" width="2.3" height="49.2" fill="#fff080"/>
<rect x="629.5" y="52.0" width="2.8" height="49.2" fill="#ffb818"/>
<rect x="632.0" y="52.0" width="3.8" height="49.2" fill="#ffe030"/>
<rect x="635.5" y="52.0" width="1.3" height="49.2" fill="#ffe850"/>
<rect x="636.5" y="52.0" width="1.8" height="49.2" fill="#e8b020"/>
<rect x="638.0" y="52.0" width="2.3" height="49.2" fill="#ffe030"/>
<rect x="640.0" y="52.0" width="1.8" height="49.2" fill="#f0a000"/>
<rect x="641.5" y="52.0" width="3.3" height="49.2" fill="#f8c820"/>
<rect x="644.5" y="52.0" width="2.3" height="49.2" fill="#a08828"/>
<rect x="646.5" y="52.0" width="1.3" height="49.2" fill="#fff080"/>
<rect x="647.5" y="52.0" width="3.8" height="49.2" fill="#ffe030"/>
<rect x="651.0" y="52.0" width="1.3" height="49.2" fill="#ffe030"/>
<rect x="652.0" y="52.0" width="1.3" height="49.2" fill="#f8c820"/>
<rect x="653.0" y="52.0" width="3.8" height="49.2" fill="#ffc860"/>
<rect x="656.5" y="52.0" width="3.8" height="49.2" fill="#ffe850"/>
<rect x="660.0" y="52.0" width="1.3" height="49.2" fill="#ffe850"/>
<rect x="661.0" y="52.0" width="2.3" height="49.2" fill="#f0a000"/>
<rect x="663.0" y="52.0" width="1.8" height="49.2" fill="#fff060"/>
<rect x="664.5" y="52.0" width="1.3" height="49.2" fill="#e8b020"/>
<rect x="665.5" y="52.0" width="1.8" height="49.2" fill="#a08828"/>
<rect x="667.0" y="52.0" width="2.3" height="49.2" fill="#f0a000"/>
<rect x="669.0" y="52.0" width="1.8" height="49.2" fill="#fff060"/>
<rect x="670.5" y="52.0" width="2.3" height="49.2" fill="#fff080"/>
<rect x="672.5" y="52.0" width="2.3" height="49.2" fill="#ffd040"/>
<rect x="674.5" y="52.0" width="2.3" height="49.2" fill="#ffe030"/>
<rect x="676.5" y="52.0" width="2.3" height="49.2" fill="#fff060"/>
<rect x="678.5" y="52.0" width="2.3" height="49.2" fill="#ffe030"/>
<rect x="680.5" y="52.0" width="3.3" height="49.2" fill="#a08828"/>
<rect x="683.5" y="52.0" width="3.8" height="49.2" fill="#f8c820"/>
<rect x="687.0" y="52.0" width="1.3" height="49.2" fill="#ffb818"/>
<rect x="688.0" y="52.0" width="3.8" height="49.2" fill="#f0a000"/>
<rect x="691.5" y="52.0" width="1.3" height="49.2" fill="#ffe850"/>
<rect x="692.5" y="52.0" width="3.3" height="49.2" fill="#f8c820"/>
<rect x="695.5" y="52.0" width="3.8" height="49.2" fill="#fff080"/>
<rect x="699.0" y="52.0" width="2.3" height="49.2" fill="#ffd040"/>
<rect x="701.0" y="52.0" width="1.8" height="49.2" fill="#a08828"/>
<rect x="702.5" y="52.0" width="1.3" height="49.2" fill="#a08828"/>
<rect x="703.5" y="52.0" width="2.8" height="49.2" fill="#ffb818"/>
<rect x="706.0" y="52.0" width="1.8" height="49.2" fill="#fff060"/>
<rect x="707.5" y="52.0" width="3.8" height="49.2" fill="#fff080"/>
<rect x="711.0" y="52.0" width="3.8" height="49.2" fill="#ffd040"/>
<rect x="714.5" y="52.0" width="2.8" height="49.2" fill="#ffe030"/>
<rect x="717.0" y="52.0" width="3.8" height="49.2" fill="#ffc860"/>
<rect x="720.5" y="52.0" width="2.8" height="49.2" fill="#fff060"/>
<rect x="723.0" y="52.0" width="2.8" height="49.2" fill="#ffe030"/>
<rect x="725.5" y="52.0" width="2.8" height="49.2" fill="#ffb818"/>
<rect x="728.0" y="52.0" width="1.3" height="49.2" fill="#fff060"/>
<rect x="729.0" y="52.0" width="3.8" height="49.2" fill="#ffc860"/>
<rect x="732.5" y="52.0" width="2.3" height="49.2" fill="#f0a000"/>
<rect x="734.5" y="52.0" width="3.3" height="49.2" fill="#ffc860"/>
<rect x="737.5" y="52.0" width="1.8" height="49.2" fill="#f0a000"/>
<rect x="739.0" y="52.0" width="1.3" height="49.2" fill="#f0a000"/>
<rect x="740.0" y="52.0" width="2.3" height="49.2" fill="#fff080"/>
<rect x="742.0" y="52.0" width="1.3" height="49.2" fill="#ffd040"/>
<rect x="743.0" y="52.0" width="3.8" height="49.2" fill="#e8b020"/>
<rect x="746.5" y="52.0" width="2.8" height="49.2" fill="#ffc860"/>
<rect x="749.0" y="52.0" width="2.8" height="49.2" fill="#fff080"/>
<rect x="751.5" y="52.0" width="2.3" height="49.2" fill="#a08828"/>
<rect x="753.5" y="52.0" width="1.8" height="49.2" fill="#f0a000"/>
<rect x="755.0" y="52.0" width="2.3" height="49.2" fill="#ffc860"/>
<rect x="757.0" y="52.0" width="2.3" height="49.2" fill="#ffd040"/>
<rect x="759.0" y="52.0" width="2.3" height="49.2" fill="#ffe850"/>
<rect x="761.0" y="52.0" width="2.3" height="49.2" fill="#ffe850"/>
<rect x="763.0" y="52.0" width="1.3" height="49.2" fill="#ffb818"/>
<rect x="764.0" y="52.0" width="0.8" height="49.2" fill="#f8c820"/>
<rect x="581.5" y="101.1" width="1.3" height="49.2" fill="#e0b030"/>
<rect x="582.5" y="101.1" width="1.3" height="49.2" fill="#e0b030"/>
<rect x="583.5" y="101.1" width="1.3" height="49.2" fill="#ffa820"/>
<rect x="584.5" y="101.1" width="2.3" height="49.2" fill="#f8d030"/>
<rect x="586.5" y="101.1" width="2.3" height="49.2" fill="#ffa820"/>
<rect x="588.5" y="101.1" width="1.3" height="49.2" fill="#8a7a28"/>
<rect x="589.5" y="101.1" width="1.3" height="49.2" fill="#ffd840"/>
<rect x="590.5" y="101.1" width="1.3" height="49.2" fill="#8a7a28"/>
<rect x="591.5" y="101.1" width="2.8" height="49.2" fill="#b09030"/>
<rect x="594.0" y="101.1" width="1.3" height="49.2" fill="#fff060"/>
<rect x="595.0" y="101.1" width="3.3" height="49.2" fill="#a05a10"/>
<rect x="598.0" y="101.1" width="1.8" height="49.2" fill="#ffe040"/>
<rect x="599.5" y="101.1" width="2.3" height="49.2" fill="#f09010"/>
<rect x="601.5" y="101.1" width="2.3" height="49.2" fill="#f8d030"/>
<rect x="603.5" y="101.1" width="2.3" height="49.2" fill="#f8d030"/>
<rect x="605.5" y="101.1" width="2.3" height="49.2" fill="#b09030"/>
<rect x="607.5" y="101.1" width="2.8" height="49.2" fill="#ffa820"/>
<rect x="610.0" y="101.1" width="3.3" height="49.2" fill="#ffd840"/>
<rect x="613.0" y="101.1" width="1.3" height="49.2" fill="#f8d030"/>
<rect x="614.0" y="101.1" width="3.3" height="49.2" fill="#f8d030"/>
<rect x="617.0" y="101.1" width="2.3" height="49.2" fill="#fff060"/>
<rect x="619.0" y="101.1" width="1.8" height="49.2" fill="#ffd840"/>
<rect x="620.5" y="101.1" width="2.8" height="49.2" fill="#ffa820"/>
<rect x="623.0" y="101.1" width="1.3" height="49.2" fill="#ffe040"/>
<rect x="624.0" y="101.1" width="1.3" height="49.2" fill="#ffd840"/>
<rect x="625.0" y="101.1" width="3.3" height="49.2" fill="#f09010"/>
<rect x="628.0" y="101.1" width="2.8" height="49.2" fill="#a05a10"/>
<rect x="630.5" y="101.1" width="1.8" height="49.2" fill="#a05a10"/>
<rect x="632.0" y="101.1" width="2.8" height="49.2" fill="#8a7a28"/>
<rect x="634.5" y="101.1" width="1.8" height="49.2" fill="#f09010"/>
<rect x="636.0" y="101.1" width="1.8" height="49.2" fill="#f09010"/>
<rect x="637.5" y="101.1" width="1.8" height="49.2" fill="#f8d030"/>
<rect x="639.0" y="101.1" width="1.3" height="49.2" fill="#f09010"/>
<rect x="640.0" y="101.1" width="2.3" height="49.2" fill="#fff060"/>
<rect x="642.0" y="101.1" width="1.3" height="49.2" fill="#fff060"/>
<rect x="643.0" y="101.1" width="3.8" height="49.2" fill="#ffd840"/>
<rect x="646.5" y="101.1" width="3.8" height="49.2" fill="#fff060"/>
<rect x="650.0" y="101.1" width="1.3" height="49.2" fill="#ffe040"/>
<rect x="651.0" y="101.1" width="2.3" height="49.2" fill="#ffd840"/>
<rect x="653.0" y="101.1" width="1.8" height="49.2" fill="#e0b030"/>
<rect x="654.5" y="101.1" width="1.3" height="49.2" fill="#e0b030"/>
<rect x="655.5" y="101.1" width="2.8" height="49.2" fill="#e0b030"/>
<rect x="658.0" y="101.1" width="1.3" height="49.2" fill="#c09030"/>
<rect x="659.0" y="101.1" width="3.3" height="49.2" fill="#ffd840"/>
<rect x="662.0" y="101.1" width="2.8" height="49.2" fill="#c09030"/>
<rect x="664.5" y="101.1" width="1.3" height="49.2" fill="#e0b030"/>
<rect x="665.5" y="101.1" width="1.3" height="49.2" fill="#c09030"/>
<rect x="666.5" y="101.1" width="2.3" height="49.2" fill="#ffe040"/>
<rect x="668.5" y="101.1" width="1.8" height="49.2" fill="#e0b030"/>
<rect x="670.0" y="101.1" width="1.3" height="49.2" fill="#8a7a28"/>
<rect x="671.0" y="101.1" width="1.3" height="49.2" fill="#a05a10"/>
<rect x="672.0" y="101.1" width="1.3" height="49.2" fill="#a05a10"/>
<rect x="673.0" y="101.1" width="1.3" height="49.2" fill="#ffd840"/>
<rect x="674.0" y="101.1" width="2.3" height="49.2" fill="#f8d030"/>
<rect x="676.0" y="101.1" width="3.8" height="49.2" fill="#e0b030"/>
<rect x="679.5" y="101.1" width="1.8" height="49.2" fill="#f09010"/>
<rect x="681.0" y="101.1" width="2.3" height="49.2" fill="#ffd840"/>
<rect x="683.0" y="101.1" width="2.8" height="49.2" fill="#f8d030"/>
<rect x="685.5" y="101.1" width="3.3" height="49.2" fill="#f09010"/>
<rect x="688.5" y="101.1" width="1.3" height="49.2" fill="#c09030"/>
<rect x="689.5" y="101.1" width="1.3" height="49.2" fill="#ffa820"/>
<rect x="690.5" y="101.1" width="1.8" height="49.2" fill="#ffa820"/>
<rect x="692.0" y="101.1" width="1.3" height="49.2" fill="#8a7a28"/>
<rect x="693.0" y="101.1" width="1.3" height="49.2" fill="#a05a10"/>
<rect x="694.0" y="101.1" width="1.3" height="49.2" fill="#f8d030"/>
<rect x="695.0" y="101.1" width="2.3" height="49.2" fill="#fff060"/>
<rect x="697.0" y="101.1" width="3.3" height="49.2" fill="#f09010"/>
<rect x="700.0" y="101.1" width="2.3" height="49.2" fill="#ffa820"/>
<rect x="702.0" y="101.1" width="2.3" height="49.2" fill="#ffd840"/>
<rect x="704.0" y="101.1" width="2.3" height="49.2" fill="#ffa820"/>
<rect x="706.0" y="101.1" width="3.8" height="49.2" fill="#f8d030"/>
<rect x="709.5" y="101.1" width="2.3" height="49.2" fill="#c09030"/>
<rect x="711.5" y="101.1" width="1.3" height="49.2" fill="#e0b030"/>
<rect x="712.5" y="101.1" width="3.3" height="49.2" fill="#f8d030"/>
<rect x="715.5" y="101.1" width="2.3" height="49.2" fill="#ffd840"/>
<rect x="717.5" y="101.1" width="1.3" height="49.2" fill="#fff060"/>
<rect x="718.5" y="101.1" width="2.3" height="49.2" fill="#a05a10"/>
<rect x="720.5" y="101.1" width="2.8" height="49.2" fill="#e0b030"/>
<rect x="723.0" y="101.1" width="2.3" height="49.2" fill="#ffa820"/>
<rect x="725.0" y="101.1" width="2.8" height="49.2" fill="#e0b030"/>
<rect x="727.5" y="101.1" width="1.3" height="49.2" fill="#ffd840"/>
<rect x="728.5" y="101.1" width="3.3" height="49.2" fill="#ffd840"/>
<rect x="731.5" y="101.1" width="1.3" height="49.2" fill="#f09010"/>
<rect x="732.5" y="101.1" width="1.3" height="49.2" fill="#f8d030"/>
<rect x="733.5" y="101.1" width="1.3" height="49.2" fill="#fff060"/>
<rect x="734.5" y="101.1" width="2.3" height="49.2" fill="#8a7a28"/>
<rect x="736.5" y="101.1" width="1.3" height="49.2" fill="#ffd840"/>
<rect x="737.5" y="101.1" width="3.8" height="49.2" fill="#8a7a28"/>
<rect x="741.0" y="101.1" width="2.3" height="49.2" fill="#f8d030"/>
<rect x="743.0" y="101.1" width="3.8" height="49.2" fill="#b09030"/>
<rect x="746.5" y="101.1" width="3.8" height="49.2" fill="#8a7a28"/>
<rect x="750.0" y="101.1" width="1.3" height="49.2" fill="#b09030"/>
<rect x="751.0" y="101.1" width="3.8" height="49.2" fill="#f09010"/>
<rect x="754.5" y="101.1" width="1.8" height="49.2" fill="#f8d030"/>
<rect x="756.0" y="101.1" width="3.8" height="49.2" fill="#ffd840"/>
<rect x="759.5" y="101.1" width="1.8" height="49.2" fill="#ffa820"/>
<rect x="761.0" y="101.1" width="1.3" height="49.2" fill="#f09010"/>
<rect x="762.0" y="101.1" width="1.3" height="49.2" fill="#f8d030"/>
<rect x="763.0" y="101.1" width="1.3" height="49.2" fill="#a05a10"/>
<rect x="764.0" y="101.1" width="0.8" height="49.2" fill="#ffe040"/>
<rect x="581.5" y="150.2" width="2.3" height="49.2" fill="#988030"/>
<rect x="583.5" y="150.2" width="2.3" height="49.2" fill="#a09038"/>
<rect x="585.5" y="150.2" width="1.8" height="49.2" fill="#a09038"/>
<rect x="587.0" y="150.2" width="3.3" height="49.2" fill="#c8b040"/>
<rect x="590.0" y="150.2" width="1.8" height="49.2" fill="#b08828"/>
<rect x="591.5" y="150.2" width="3.8" height="49.2" fill="#e0b030"/>
<rect x="595.0" y="150.2" width="1.3" height="49.2" fill="#e0b030"/>
<rect x="596.0" y="150.2" width="1.3" height="49.2" fill="#f0e0a0"/>
<rect x="597.0" y="150.2" width="3.3" height="49.2" fill="#7a5a20"/>
<rect x="600.0" y="150.2" width="1.8" height="49.2" fill="#d8a828"/>
<rect x="601.5" y="150.2" width="2.3" height="49.2" fill="#f8e040"/>
<rect x="603.5" y="150.2" width="1.3" height="49.2" fill="#ffe050"/>
<rect x="604.5" y="150.2" width="1.3" height="49.2" fill="#d8a828"/>
<rect x="605.5" y="150.2" width="2.3" height="49.2" fill="#8a8030"/>
<rect x="607.5" y="150.2" width="1.8" height="49.2" fill="#8a8030"/>
<rect x="609.0" y="150.2" width="2.8" height="49.2" fill="#f8e040"/>
<rect x="611.5" y="150.2" width="2.3" height="49.2" fill="#988030"/>
<rect x="613.5" y="150.2" width="2.8" height="49.2" fill="#f0e0a0"/>
<rect x="616.0" y="150.2" width="3.8" height="49.2" fill="#d8a828"/>
<rect x="619.5" y="150.2" width="2.3" height="49.2" fill="#c8b040"/>
<rect x="621.5" y="150.2" width="2.3" height="49.2" fill="#b08828"/>
<rect x="623.5" y="150.2" width="2.8" height="49.2" fill="#e0b030"/>
<rect x="626.0" y="150.2" width="2.8" height="49.2" fill="#a09038"/>
<rect x="628.5" y="150.2" width="2.3" height="49.2" fill="#988030"/>
<rect x="630.5" y="150.2" width="2.3" height="49.2" fill="#d8a828"/>
<rect x="632.5" y="150.2" width="1.8" height="49.2" fill="#f0e0a0"/>
<rect x="634.0" y="150.2" width="1.3" height="49.2" fill="#ffe050"/>
<rect x="635.0" y="150.2" width="3.3" height="49.2" fill="#d8a828"/>
<rect x="638.0" y="150.2" width="1.8" height="49.2" fill="#8a8030"/>
<rect x="639.5" y="150.2" width="2.3" height="49.2" fill="#c8b040"/>
<rect x="641.5" y="150.2" width="1.3" height="49.2" fill="#d8a828"/>
<rect x="642.5" y="150.2" width="3.8" height="49.2" fill="#a09038"/>
<rect x="646.0" y="150.2" width="3.8" height="49.2" fill="#7a5a20"/>
<rect x="649.5" y="150.2" width="3.3" height="49.2" fill="#f0e0a0"/>
<rect x="652.5" y="150.2" width="2.3" height="49.2" fill="#c8b040"/>
<rect x="654.5" y="150.2" width="3.3" height="49.2" fill="#8a8030"/>
<rect x="657.5" y="150.2" width="2.3" height="49.2" fill="#b08828"/>
<rect x="659.5" y="150.2" width="2.8" height="49.2" fill="#d8a828"/>
<rect x="662.0" y="150.2" width="2.3" height="49.2" fill="#b08828"/>
<rect x="664.0" y="150.2" width="2.8" height="49.2" fill="#c8b040"/>
<rect x="666.5" y="150.2" width="3.8" height="49.2" fill="#a09038"/>
<rect x="670.0" y="150.2" width="1.3" height="49.2" fill="#a09038"/>
<rect x="671.0" y="150.2" width="2.3" height="49.2" fill="#7a5a20"/>
<rect x="673.0" y="150.2" width="3.3" height="49.2" fill="#d8a828"/>
<rect x="676.0" y="150.2" width="2.3" height="49.2" fill="#d8a828"/>
<rect x="678.0" y="150.2" width="2.8" height="49.2" fill="#8a8030"/>
<rect x="680.5" y="150.2" width="2.3" height="49.2" fill="#f0e0a0"/>
<rect x="682.5" y="150.2" width="1.3" height="49.2" fill="#a09038"/>
<rect x="683.5" y="150.2" width="2.8" height="49.2" fill="#ffe050"/>
<rect x="686.0" y="150.2" width="1.3" height="49.2" fill="#ffe050"/>
<rect x="687.0" y="150.2" width="2.3" height="49.2" fill="#7a5a20"/>
<rect x="689.0" y="150.2" width="2.8" height="49.2" fill="#a09038"/>
<rect x="691.5" y="150.2" width="3.8" height="49.2" fill="#f8e040"/>
<rect x="695.0" y="150.2" width="1.8" height="49.2" fill="#b08828"/>
<rect x="696.5" y="150.2" width="1.3" height="49.2" fill="#a09038"/>
<rect x="697.5" y="150.2" width="2.3" height="49.2" fill="#c8b040"/>
<rect x="699.5" y="150.2" width="3.8" height="49.2" fill="#8a8030"/>
<rect x="703.0" y="150.2" width="1.8" height="49.2" fill="#a09038"/>
<rect x="704.5" y="150.2" width="3.3" height="49.2" fill="#b08828"/>
<rect x="707.5" y="150.2" width="2.3" height="49.2" fill="#ffe050"/>
<rect x="709.5" y="150.2" width="1.8" height="49.2" fill="#a09038"/>
<rect x="711.0" y="150.2" width="1.8" height="49.2" fill="#d8a828"/>
<rect x="712.5" y="150.2" width="1.8" height="49.2" fill="#e0b030"/>
<rect x="714.0" y="150.2" width="2.8" height="49.2" fill="#c8b040"/>
<rect x="716.5" y="150.2" width="1.3" height="49.2" fill="#d8a828"/>
<rect x="717.5" y="150.2" width="2.3" height="49.2" fill="#a09038"/>
<rect x="719.5" y="150.2" width="1.3" height="49.2" fill="#e0b030"/>
<rect x="720.5" y="150.2" width="1.3" height="49.2" fill="#ffe050"/>
<rect x="721.5" y="150.2" width="3.3" height="49.2" fill="#7a5a20"/>
<rect x="724.5" y="150.2" width="1.8" height="49.2" fill="#a09038"/>
<rect x="726.0" y="150.2" width="1.3" height="49.2" fill="#f8e040"/>
<rect x="727.0" y="150.2" width="2.3" height="49.2" fill="#b08828"/>
<rect x="729.0" y="150.2" width="3.3" height="49.2" fill="#988030"/>
<rect x="732.0" y="150.2" width="2.3" height="49.2" fill="#8a8030"/>
<rect x="734.0" y="150.2" width="3.3" height="49.2" fill="#ffe050"/>
<rect x="737.0" y="150.2" width="1.8" height="49.2" fill="#ffe050"/>
<rect x="738.5" y="150.2" width="1.3" height="49.2" fill="#a09038"/>
<rect x="739.5" y="150.2" width="1.3" height="49.2" fill="#a09038"/>
<rect x="740.5" y="150.2" width="2.8" height="49.2" fill="#e0b030"/>
<rect x="743.0" y="150.2" width="1.3" height="49.2" fill="#988030"/>
<rect x="744.0" y="150.2" width="2.3" height="49.2" fill="#7a5a20"/>
<rect x="746.0" y="150.2" width="1.3" height="49.2" fill="#988030"/>
<rect x="747.0" y="150.2" width="2.3" height="49.2" fill="#c8b040"/>
<rect x="749.0" y="150.2" width="1.3" height="49.2" fill="#7a5a20"/>
<rect x="750.0" y="150.2" width="2.3" height="49.2" fill="#7a5a20"/>
<rect x="752.0" y="150.2" width="3.8" height="49.2" fill="#988030"/>
<rect x="755.5" y="150.2" width="2.8" height="49.2" fill="#f8e040"/>
<rect x="758.0" y="150.2" width="1.3" height="49.2" fill="#988030"/>
<rect x="759.0" y="150.2" width="2.8" height="49.2" fill="#f0e0a0"/>
<rect x="761.5" y="150.2" width="1.3" height="49.2" fill="#f0e0a0"/>
<rect x="762.5" y="150.2" width="2.3" height="49.2" fill="#f8e040"/>
<rect x="581.5" y="199.3" width="2.3" height="49.2" fill="#d8c040"/>
<rect x="583.5" y="199.3" width="3.8" height="49.2" fill="#704818"/>
<rect x="587.0" y="199.3" width="3.3" height="49.2" fill="#a09040"/>
<rect x="590.0" y="199.3" width="1.3" height="49.2" fill="#d8c040"/>
<rect x="591.0" y="199.3" width="1.3" height="49.2" fill="#a09040"/>
<rect x="592.0" y="199.3" width="3.3" height="49.2" fill="#d8c040"/>
<rect x="595.0" y="199.3" width="3.3" height="49.2" fill="#d8c040"/>
<rect x="598.0" y="199.3" width="2.8" height="49.2" fill="#e8c848"/>
<rect x="600.5" y="199.3" width="2.3" height="49.2" fill="#988838"/>
<rect x="602.5" y="199.3" width="1.3" height="49.2" fill="#806020"/>
<rect x="603.5" y="199.3" width="2.3" height="49.2" fill="#704818"/>
<rect x="605.5" y="199.3" width="3.8" height="49.2" fill="#c0a040"/>
<rect x="609.0" y="199.3" width="3.8" height="49.2" fill="#8a6a28"/>
<rect x="612.5" y="199.3" width="1.3" height="49.2" fill="#988838"/>
<rect x="613.5" y="199.3" width="3.8" height="49.2" fill="#d8c040"/>
<rect x="617.0" y="199.3" width="1.8" height="49.2" fill="#e8c848"/>
<rect x="618.5" y="199.3" width="3.8" height="49.2" fill="#806020"/>
<rect x="622.0" y="199.3" width="3.3" height="49.2" fill="#b06820"/>
<rect x="625.0" y="199.3" width="1.3" height="49.2" fill="#704818"/>
<rect x="626.0" y="199.3" width="3.8" height="49.2" fill="#8a8a38"/>
<rect x="629.5" y="199.3" width="2.3" height="49.2" fill="#c0a040"/>
<rect x="631.5" y="199.3" width="2.3" height="49.2" fill="#8a6a28"/>
<rect x="633.5" y="199.3" width="1.3" height="49.2" fill="#8a8a38"/>
<rect x="634.5" y="199.3" width="1.3" height="49.2" fill="#b06820"/>
<rect x="635.5" y="199.3" width="2.8" height="49.2" fill="#8a6a28"/>
<rect x="638.0" y="199.3" width="3.3" height="49.2" fill="#988838"/>
<rect x="641.0" y="199.3" width="3.8" height="49.2" fill="#704818"/>
<rect x="644.5" y="199.3" width="2.8" height="49.2" fill="#806020"/>
<rect x="647.0" y="199.3" width="2.8" height="49.2" fill="#b06820"/>
<rect x="649.5" y="199.3" width="1.3" height="49.2" fill="#806020"/>
<rect x="650.5" y="199.3" width="3.8" height="49.2" fill="#8a8a38"/>
<rect x="654.0" y="199.3" width="2.8" height="49.2" fill="#704818"/>
<rect x="656.5" y="199.3" width="2.3" height="49.2" fill="#d8c040"/>
<rect x="658.5" y="199.3" width="3.3" height="49.2" fill="#a09040"/>
<rect x="661.5" y="199.3" width="2.8" height="49.2" fill="#e8c848"/>
<rect x="664.0" y="199.3" width="2.3" height="49.2" fill="#704818"/>
<rect x="666.0" y="199.3" width="1.3" height="49.2" fill="#e8c848"/>
<rect x="667.0" y="199.3" width="2.8" height="49.2" fill="#8a8a38"/>
<rect x="669.5" y="199.3" width="2.8" height="49.2" fill="#806020"/>
<rect x="672.0" y="199.3" width="2.8" height="49.2" fill="#b06820"/>
<rect x="674.5" y="199.3" width="2.8" height="49.2" fill="#8a8a38"/>
<rect x="677.0" y="199.3" width="2.8" height="49.2" fill="#b06820"/>
<rect x="679.5" y="199.3" width="3.3" height="49.2" fill="#8a6a28"/>
<rect x="682.5" y="199.3" width="2.8" height="49.2" fill="#d8c040"/>
<rect x="685.0" y="199.3" width="3.3" height="49.2" fill="#8a6a28"/>
<rect x="688.0" y="199.3" width="1.8" height="49.2" fill="#d8c040"/>
<rect x="689.5" y="199.3" width="3.8" height="49.2" fill="#a09040"/>
<rect x="693.0" y="199.3" width="3.3" height="49.2" fill="#704818"/>
<rect x="696.0" y="199.3" width="2.3" height="49.2" fill="#b06820"/>
<rect x="698.0" y="199.3" width="3.8" height="49.2" fill="#b06820"/>
<rect x="701.5" y="199.3" width="2.8" height="49.2" fill="#8a6a28"/>
<rect x="704.0" y="199.3" width="1.3" height="49.2" fill="#988838"/>
<rect x="705.0" y="199.3" width="2.3" height="49.2" fill="#a09040"/>
<rect x="707.0" y="199.3" width="3.3" height="49.2" fill="#8a6a28"/>
<rect x="710.0" y="199.3" width="3.8" height="49.2" fill="#806020"/>
<rect x="713.5" y="199.3" width="3.8" height="49.2" fill="#d8c040"/>
<rect x="717.0" y="199.3" width="1.8" height="49.2" fill="#8a8a38"/>
<rect x="718.5" y="199.3" width="1.8" height="49.2" fill="#b06820"/>
<rect x="720.0" y="199.3" width="2.3" height="49.2" fill="#806020"/>
<rect x="722.0" y="199.3" width="1.8" height="49.2" fill="#e8c848"/>
<rect x="723.5" y="199.3" width="1.8" height="49.2" fill="#806020"/>
<rect x="725.0" y="199.3" width="2.8" height="49.2" fill="#704818"/>
<rect x="727.5" y="199.3" width="1.8" height="49.2" fill="#c0a040"/>
<rect x="729.0" y="199.3" width="1.3" height="49.2" fill="#b06820"/>
<rect x="730.0" y="199.3" width="2.3" height="49.2" fill="#704818"/>
<rect x="732.0" y="199.3" width="2.3" height="49.2" fill="#d8c040"/>
<rect x="734.0" y="199.3" width="2.3" height="49.2" fill="#c0a040"/>
<rect x="736.0" y="199.3" width="2.8" height="49.2" fill="#e8c848"/>
<rect x="738.5" y="199.3" width="1.8" height="49.2" fill="#a09040"/>
<rect x="740.0" y="199.3" width="3.8" height="49.2" fill="#c0a040"/>
<rect x="743.5" y="199.3" width="1.8" height="49.2" fill="#8a6a28"/>
<rect x="745.0" y="199.3" width="1.3" height="49.2" fill="#8a8a38"/>
<rect x="746.0" y="199.3" width="1.3" height="49.2" fill="#e8c848"/>
<rect x="747.0" y="199.3" width="1.8" height="49.2" fill="#704818"/>
<rect x="748.5" y="199.3" width="1.3" height="49.2" fill="#b06820"/>
<rect x="749.5" y="199.3" width="1.3" height="49.2" fill="#8a6a28"/>
<rect x="750.5" y="199.3" width="2.3" height="49.2" fill="#c0a040"/>
<rect x="752.5" y="199.3" width="1.3" height="49.2" fill="#c0a040"/>
<rect x="753.5" y="199.3" width="2.3" height="49.2" fill="#b06820"/>
<rect x="755.5" y="199.3" width="2.3" height="49.2" fill="#a09040"/>
<rect x="757.5" y="199.3" width="2.8" height="49.2" fill="#e8c848"/>
<rect x="760.0" y="199.3" width="1.3" height="49.2" fill="#b06820"/>
<rect x="761.0" y="199.3" width="2.8" height="49.2" fill="#a09040"/>
<rect x="763.5" y="199.3" width="1.3" height="49.2" fill="#8a8a38"/>
</g>
<rect x="581.5" y="52" width="183" height="196.5" fill="none" stroke="#262626" stroke-width="1.2"/>
<line x1="581.5" y1="80.3" x2="583.5" y2="80.3" stroke="#262626" stroke-width="1"/><line x1="764.5" y1="80.3" x2="762.5" y2="80.3" stroke="#262626" stroke-width="1"/>
<text x="575.2" y="85.4" font-size="12.3" text-anchor="end" fill="#262626" >10</text>
<line x1="581.5" y1="125.2" x2="583.5" y2="125.2" stroke="#262626" stroke-width="1"/><line x1="764.5" y1="125.2" x2="762.5" y2="125.2" stroke="#262626" stroke-width="1"/>
<text x="575.2" y="130.8" font-size="12.3" text-anchor="end" fill="#262626" >2</text>
<line x1="581.5" y1="174.5" x2="583.5" y2="174.5" stroke="#262626" stroke-width="1"/><line x1="764.5" y1="174.5" x2="762.5" y2="174.5" stroke="#262626" stroke-width="1"/>
<text x="575.2" y="180.4" font-size="12.3" text-anchor="end" fill="#262626" >3</text>
<line x1="581.5" y1="222.8" x2="583.5" y2="222.8" stroke="#262626" stroke-width="1"/><line x1="764.5" y1="222.8" x2="762.5" y2="222.8" stroke="#262626" stroke-width="1"/>
<text x="575.2" y="226.4" font-size="12.3" text-anchor="end" fill="#262626" >4</text>
<text x="580.2" y="264.5" font-size="12.3" text-anchor="middle" fill="#262626" >0</text>
<text x="677.6" y="264.5" font-size="12.3" text-anchor="middle" fill="#262626" >100</text>
<text x="765.7" y="264.5" font-size="12.3" text-anchor="middle" fill="#262626" >200</text>
<text x="681.4" y="283.6" font-size="12.6" text-anchor="middle" fill="#262626" >Time [s]</text>
<text transform="translate(548.5,150) rotate(-90)" font-size="12.3" text-anchor="middle" fill="#262626">Scale [No]</text>
<g clip-path="url(#boxd)" shape-rendering="crispEdges">
<rect x="824.5" y="131.2" width="183" height="78.2" fill="#000"/>
<rect x="824.5" y="209.4" width="183" height="39.1" fill="#8a8a8a"/>
<rect x="824.5" y="79.0" width="0.7" height="26.6" fill="#6a6a6a"/>
<rect x="824.5" y="105.1" width="0.7" height="119.6" fill="#000"/>
<rect x="824.5" y="224.7" width="0.7" height="23.8" fill="#4a4a4a"/>
<rect x="825.2" y="49.1" width="0.7" height="38.2" fill="#6a6a6a"/>
<rect x="825.2" y="86.8" width="0.7" height="107.3" fill="#000"/>
<rect x="825.2" y="194.1" width="0.7" height="54.4" fill="#d8d8d8"/>
<rect x="825.9" y="49.1" width="0.7" height="48.7" fill="#404040"/>
<rect x="825.9" y="97.3" width="0.7" height="123.6" fill="#0c0c0c"/>
<rect x="825.9" y="220.9" width="0.7" height="27.6" fill="#b8b8b8"/>
<rect x="826.6" y="50.6" width="1.2" height="37.3" fill="#8c8c8c"/>
<rect x="826.6" y="87.4" width="1.2" height="136.5" fill="#0c0c0c"/>
<rect x="826.6" y="223.9" width="1.2" height="24.6" fill="#d8d8d8"/>
<rect x="827.8" y="49.1" width="0.9" height="32.8" fill="#404040"/>
<rect x="827.8" y="81.3" width="0.9" height="139.8" fill="#000"/>
<rect x="827.8" y="221.2" width="0.9" height="27.3" fill="#8a8a8a"/>
<rect x="828.7" y="90.3" width="1.5" height="35.8" fill="#8c8c8c"/>
<rect x="828.7" y="125.6" width="1.5" height="101.7" fill="#000"/>
<rect x="828.7" y="227.3" width="1.5" height="21.2" fill="#9c9c9c"/>
<rect x="830.2" y="67.4" width="1.2" height="56.2" fill="#8c8c8c"/>
<rect x="830.2" y="123.2" width="1.2" height="88.7" fill="#000"/>
<rect x="830.2" y="211.9" width="1.2" height="36.6" fill="#9c9c9c"/>
<rect x="831.4" y="133.2" width="0.9" height="78.2" fill="#0c0c0c"/>
<rect x="831.4" y="211.5" width="0.9" height="37.0" fill="#8a8a8a"/>
<rect x="832.3" y="49.1" width="1.2" height="46.3" fill="#a8a8a8"/>
<rect x="832.3" y="94.9" width="1.2" height="119.1" fill="#000"/>
<rect x="832.3" y="214.0" width="1.2" height="34.5" fill="#4a4a4a"/>
<rect x="833.5" y="128.8" width="1.5" height="80.1" fill="#000"/>
<rect x="833.5" y="208.9" width="1.5" height="39.6" fill="#7a7a7a"/>
<rect x="835.0" y="60.3" width="1.0" height="44.5" fill="#a8a8a8"/>
<rect x="835.0" y="104.3" width="1.0" height="107.7" fill="#000"/>
<rect x="835.0" y="212.0" width="1.0" height="36.5" fill="#9c9c9c"/>
<rect x="836.0" y="70.2" width="0.7" height="16.9" fill="#404040"/>
<rect x="836.0" y="86.6" width="0.7" height="131.7" fill="#000"/>
<rect x="836.0" y="218.3" width="0.7" height="30.2" fill="#4a4a4a"/>
<rect x="836.7" y="76.1" width="0.9" height="50.7" fill="#8c8c8c"/>
<rect x="836.7" y="126.4" width="0.9" height="72.2" fill="#0c0c0c"/>
<rect x="836.7" y="198.6" width="0.9" height="49.9" fill="#9c9c9c"/>
<rect x="837.6" y="81.1" width="1.5" height="18.1" fill="#a8a8a8"/>
<rect x="837.6" y="98.7" width="1.5" height="114.9" fill="#000"/>
<rect x="837.6" y="213.6" width="1.5" height="34.9" fill="#7a7a7a"/>
<rect x="839.1" y="89.6" width="0.9" height="14.6" fill="#000"/>
<rect x="839.1" y="103.7" width="0.9" height="110.0" fill="#000"/>
<rect x="839.1" y="213.7" width="0.9" height="34.8" fill="#8a8a8a"/>
<rect x="840.0" y="69.5" width="1.0" height="38.7" fill="#8c8c8c"/>
<rect x="840.0" y="107.8" width="1.0" height="114.4" fill="#000"/>
<rect x="840.0" y="222.2" width="1.0" height="26.3" fill="#d8d8d8"/>
<rect x="841.0" y="103.0" width="0.9" height="14.7" fill="#c4c4c4"/>
<rect x="841.0" y="117.2" width="0.9" height="80.4" fill="#000"/>
<rect x="841.0" y="197.6" width="0.9" height="50.9" fill="#d8d8d8"/>
<rect x="841.9" y="104.7" width="1.0" height="103.4" fill="#000"/>
<rect x="841.9" y="208.0" width="1.0" height="40.5" fill="#4a4a4a"/>
<rect x="842.9" y="73.7" width="1.0" height="48.6" fill="#000"/>
<rect x="842.9" y="121.7" width="1.0" height="90.3" fill="#000"/>
<rect x="842.9" y="212.1" width="1.0" height="36.4" fill="#8a8a8a"/>
<rect x="843.9" y="49.9" width="1.0" height="60.8" fill="#8c8c8c"/>
<rect x="843.9" y="110.2" width="1.0" height="92.9" fill="#000"/>
<rect x="843.9" y="203.2" width="1.0" height="45.3" fill="#8a8a8a"/>
<rect x="844.9" y="106.7" width="0.9" height="24.8" fill="#a8a8a8"/>
<rect x="844.9" y="131.0" width="0.9" height="88.9" fill="#000"/>
<rect x="844.9" y="220.0" width="0.9" height="28.5" fill="#8a8a8a"/>
<rect x="845.8" y="49.1" width="1.0" height="34.5" fill="#c4c4c4"/>
<rect x="845.8" y="83.1" width="1.0" height="138.0" fill="#000"/>
<rect x="845.8" y="221.1" width="1.0" height="27.4" fill="#d8d8d8"/>
<rect x="846.8" y="51.2" width="0.9" height="36.6" fill="#c4c4c4"/>
<rect x="846.8" y="87.3" width="0.9" height="137.6" fill="#000"/>
<rect x="846.8" y="224.9" width="0.9" height="23.6" fill="#8a8a8a"/>
<rect x="847.7" y="74.4" width="0.9" height="49.1" fill="#404040"/>
<rect x="847.7" y="123.0" width="0.9" height="94.9" fill="#0c0c0c"/>
<rect x="847.7" y="217.9" width="0.9" height="30.6" fill="#8a8a8a"/>
<rect x="848.6" y="64.3" width="1.0" height="55.1" fill="#000"/>
<rect x="848.6" y="118.9" width="1.0" height="88.3" fill="#0c0c0c"/>
<rect x="848.6" y="207.2" width="1.0" height="41.3" fill="#b8b8b8"/>
<rect x="849.6" y="56.6" width="1.2" height="33.7" fill="#8c8c8c"/>
<rect x="849.6" y="89.9" width="1.2" height="122.3" fill="#0c0c0c"/>
<rect x="849.6" y="212.2" width="1.2" height="36.3" fill="#8a8a8a"/>
<rect x="850.8" y="137.8" width="1.5" height="83.6" fill="#000"/>
<rect x="850.8" y="221.4" width="1.5" height="27.1" fill="#b8b8b8"/>
<rect x="852.3" y="49.1" width="1.2" height="38.6" fill="#8c8c8c"/>
<rect x="852.3" y="87.2" width="1.2" height="138.9" fill="#000"/>
<rect x="852.3" y="226.1" width="1.2" height="22.4" fill="#7a7a7a"/>
<rect x="853.5" y="55.4" width="1.5" height="59.5" fill="#8c8c8c"/>
<rect x="853.5" y="114.4" width="1.5" height="109.0" fill="#000"/>
<rect x="853.5" y="223.4" width="1.5" height="25.1" fill="#9c9c9c"/>
<rect x="855.0" y="71.9" width="1.5" height="32.9" fill="#8c8c8c"/>
<rect x="855.0" y="104.3" width="1.5" height="91.8" fill="#000"/>
<rect x="855.0" y="196.1" width="1.5" height="52.4" fill="#8a8a8a"/>
<rect x="856.5" y="88.5" width="1.0" height="29.4" fill="#a8a8a8"/>
<rect x="856.5" y="117.4" width="1.0" height="100.1" fill="#000"/>
<rect x="856.5" y="217.5" width="1.0" height="31.0" fill="#4a4a4a"/>
<rect x="857.5" y="84.7" width="0.7" height="42.5" fill="#8c8c8c"/>
<rect x="857.5" y="126.7" width="0.7" height="74.4" fill="#000"/>
<rect x="857.5" y="201.1" width="0.7" height="47.4" fill="#8a8a8a"/>
<rect x="858.2" y="97.4" width="0.7" height="129.2" fill="#000"/>
<rect x="858.2" y="226.6" width="0.7" height="21.9" fill="#d8d8d8"/>
<rect x="858.9" y="49.1" width="1.5" height="34.6" fill="#000"/>
<rect x="858.9" y="83.2" width="1.5" height="121.0" fill="#0c0c0c"/>
<rect x="858.9" y="204.1" width="1.5" height="44.4" fill="#8a8a8a"/>
<rect x="860.4" y="112.1" width="0.7" height="106.3" fill="#0c0c0c"/>
<rect x="860.4" y="218.4" width="0.7" height="30.1" fill="#8a8a8a"/>
<rect x="861.1" y="49.1" width="1.0" height="33.9" fill="#000"/>
<rect x="861.1" y="82.4" width="1.0" height="133.1" fill="#0c0c0c"/>
<rect x="861.1" y="215.6" width="1.0" height="32.9" fill="#9c9c9c"/>
<rect x="862.1" y="85.1" width="1.2" height="11.0" fill="#c4c4c4"/>
<rect x="862.1" y="95.6" width="1.2" height="123.6" fill="#000"/>
<rect x="862.1" y="219.1" width="1.2" height="29.4" fill="#d8d8d8"/>
<rect x="863.3" y="103.1" width="0.9" height="30.9" fill="#404040"/>
<rect x="863.3" y="133.6" width="0.9" height="81.7" fill="#000"/>
<rect x="863.3" y="215.2" width="0.9" height="33.3" fill="#9c9c9c"/>
<rect x="864.2" y="49.1" width="0.9" height="32.8" fill="#c4c4c4"/>
<rect x="864.2" y="81.4" width="0.9" height="116.0" fill="#000"/>
<rect x="864.2" y="197.4" width="0.9" height="51.1" fill="#8a8a8a"/>
<rect x="865.1" y="72.7" width="1.2" height="45.0" fill="#000"/>
<rect x="865.1" y="117.2" width="1.2" height="79.5" fill="#000"/>
<rect x="865.1" y="196.7" width="1.2" height="51.8" fill="#8a8a8a"/>
<rect x="866.3" y="61.2" width="0.7" height="59.0" fill="#6a6a6a"/>
<rect x="866.3" y="119.7" width="0.7" height="91.4" fill="#000"/>
<rect x="866.3" y="211.1" width="0.7" height="37.4" fill="#d8d8d8"/>
<rect x="867.0" y="88.6" width="1.0" height="48.3" fill="#8c8c8c"/>
<rect x="867.0" y="136.3" width="1.0" height="91.7" fill="#000"/>
<rect x="867.0" y="228.0" width="1.0" height="20.5" fill="#b8b8b8"/>
<rect x="868.0" y="49.1" width="0.9" height="57.9" fill="#c4c4c4"/>
<rect x="868.0" y="106.5" width="0.9" height="120.0" fill="#000"/>
<rect x="868.0" y="226.5" width="0.9" height="22.0" fill="#b8b8b8"/>
<rect x="868.9" y="56.3" width="0.9" height="69.4" fill="#404040"/>
<rect x="868.9" y="125.2" width="0.9" height="69.8" fill="#0c0c0c"/>
<rect x="868.9" y="195.0" width="0.9" height="53.5" fill="#7a7a7a"/>
<rect x="869.8" y="93.8" width="1.2" height="44.1" fill="#a8a8a8"/>
<rect x="869.8" y="137.5" width="1.2" height="87.6" fill="#000"/>
<rect x="869.8" y="225.0" width="1.2" height="23.5" fill="#4a4a4a"/>
<rect x="871.0" y="90.2" width="1.0" height="36.9" fill="#6a6a6a"/>
<rect x="871.0" y="126.5" width="1.0" height="82.2" fill="#000"/>
<rect x="871.0" y="208.7" width="1.0" height="39.8" fill="#b8b8b8"/>
<rect x="872.0" y="64.0" width="1.0" height="40.6" fill="#6a6a6a"/>
<rect x="872.0" y="104.1" width="1.0" height="106.9" fill="#000"/>
<rect x="872.0" y="211.0" width="1.0" height="37.5" fill="#7a7a7a"/>
<rect x="873.0" y="97.9" width="0.7" height="27.6" fill="#a8a8a8"/>
<rect x="873.0" y="125.0" width="0.7" height="74.7" fill="#0c0c0c"/>
<rect x="873.0" y="199.7" width="0.7" height="48.8" fill="#b8b8b8"/>
<rect x="873.7" y="72.2" width="1.0" height="35.5" fill="#c4c4c4"/>
<rect x="873.7" y="107.2" width="1.0" height="100.7" fill="#000"/>
<rect x="873.7" y="207.9" width="1.0" height="40.6" fill="#d8d8d8"/>
<rect x="874.7" y="76.3" width="1.2" height="16.3" fill="#8c8c8c"/>
<rect x="874.7" y="92.1" width="1.2" height="132.1" fill="#000"/>
<rect x="874.7" y="224.2" width="1.2" height="24.3" fill="#8a8a8a"/>
<rect x="875.9" y="49.1" width="1.0" height="38.8" fill="#a8a8a8"/>
<rect x="875.9" y="87.3" width="1.0" height="135.4" fill="#0c0c0c"/>
<rect x="875.9" y="222.8" width="1.0" height="25.7" fill="#9c9c9c"/>
<rect x="876.9" y="84.3" width="0.9" height="14.9" fill="#c4c4c4"/>
<rect x="876.9" y="98.7" width="0.9" height="126.9" fill="#0c0c0c"/>
<rect x="876.9" y="225.6" width="0.9" height="22.9" fill="#8a8a8a"/>
<rect x="877.8" y="59.8" width="0.9" height="20.6" fill="#000"/>
<rect x="877.8" y="79.8" width="0.9" height="135.3" fill="#000"/>
<rect x="877.8" y="215.2" width="0.9" height="33.3" fill="#9c9c9c"/>
<rect x="878.7" y="49.1" width="1.5" height="60.3" fill="#404040"/>
<rect x="878.7" y="108.9" width="1.5" height="101.9" fill="#000"/>
<rect x="878.7" y="210.8" width="1.5" height="37.7" fill="#b8b8b8"/>
<rect x="880.2" y="125.6" width="1.0" height="13.1" fill="#404040"/>
<rect x="880.2" y="138.2" width="1.0" height="87.9" fill="#000"/>
<rect x="880.2" y="226.1" width="1.0" height="22.4" fill="#d8d8d8"/>
<rect x="881.2" y="49.1" width="1.0" height="37.5" fill="#6a6a6a"/>
<rect x="881.2" y="86.1" width="1.0" height="133.4" fill="#000"/>
<rect x="881.2" y="219.5" width="1.0" height="29.0" fill="#d8d8d8"/>
<rect x="882.2" y="71.2" width="0.9" height="18.1" fill="#404040"/>
<rect x="882.2" y="88.8" width="0.9" height="116.6" fill="#000"/>
<rect x="882.2" y="205.4" width="0.9" height="43.1" fill="#9c9c9c"/>
<rect x="883.1" y="49.1" width="1.0" height="38.6" fill="#8c8c8c"/>
<rect x="883.1" y="87.2" width="1.0" height="123.3" fill="#000"/>
<rect x="883.1" y="210.5" width="1.0" height="38.0" fill="#d8d8d8"/>
<rect x="884.1" y="117.2" width="1.0" height="9.1" fill="#c4c4c4"/>
<rect x="884.1" y="125.8" width="1.0" height="93.7" fill="#000"/>
<rect x="884.1" y="219.5" width="1.0" height="29.0" fill="#9c9c9c"/>
<rect x="885.1" y="131.0" width="1.0" height="8.3" fill="#a8a8a8"/>
<rect x="885.1" y="138.8" width="1.0" height="59.8" fill="#0c0c0c"/>
<rect x="885.1" y="198.6" width="1.0" height="49.9" fill="#7a7a7a"/>
<rect x="886.1" y="94.3" width="0.9" height="44.7" fill="#404040"/>
<rect x="886.1" y="138.5" width="0.9" height="86.9" fill="#000"/>
<rect x="886.1" y="225.4" width="0.9" height="23.1" fill="#8a8a8a"/>
<rect x="887.0" y="57.0" width="1.0" height="70.2" fill="#8c8c8c"/>
<rect x="887.0" y="126.7" width="1.0" height="68.1" fill="#000"/>
<rect x="887.0" y="194.8" width="1.0" height="53.7" fill="#d8d8d8"/>
<rect x="888.0" y="87.3" width="1.2" height="51.8" fill="#404040"/>
<rect x="888.0" y="138.6" width="1.2" height="65.3" fill="#000"/>
<rect x="888.0" y="203.9" width="1.2" height="44.6" fill="#d8d8d8"/>
<rect x="889.2" y="100.7" width="1.0" height="33.3" fill="#a8a8a8"/>
<rect x="889.2" y="133.5" width="1.0" height="76.4" fill="#000"/>
<rect x="889.2" y="210.0" width="1.0" height="38.5" fill="#4a4a4a"/>
<rect x="890.2" y="58.3" width="1.2" height="35.5" fill="#a8a8a8"/>
<rect x="890.2" y="93.3" width="1.2" height="112.3" fill="#000"/>
<rect x="890.2" y="205.6" width="1.2" height="42.9" fill="#b8b8b8"/>
<rect x="891.4" y="110.2" width="1.5" height="14.7" fill="#6a6a6a"/>
<rect x="891.4" y="124.4" width="1.5" height="71.9" fill="#000"/>
<rect x="891.4" y="196.3" width="1.5" height="52.2" fill="#4a4a4a"/>
<rect x="892.9" y="49.1" width="1.5" height="33.4" fill="#8c8c8c"/>
<rect x="892.9" y="82.0" width="1.5" height="124.2" fill="#0c0c0c"/>
<rect x="892.9" y="206.2" width="1.5" height="42.3" fill="#9c9c9c"/>
<rect x="894.4" y="115.8" width="1.0" height="93.2" fill="#000"/>
<rect x="894.4" y="209.0" width="1.0" height="39.5" fill="#d8d8d8"/>
<rect x="895.4" y="128.8" width="0.7" height="76.1" fill="#000"/>
<rect x="895.4" y="204.9" width="0.7" height="43.6" fill="#8a8a8a"/>
<rect x="896.1" y="102.2" width="0.9" height="29.2" fill="#000"/>
<rect x="896.1" y="130.8" width="0.9" height="74.6" fill="#0c0c0c"/>
<rect x="896.1" y="205.5" width="0.9" height="43.0" fill="#9c9c9c"/>
<rect x="897.0" y="104.6" width="0.7" height="118.3" fill="#000"/>
<rect x="897.0" y="222.8" width="0.7" height="25.7" fill="#9c9c9c"/>
<rect x="897.7" y="137.1" width="0.7" height="90.7" fill="#0c0c0c"/>
<rect x="897.7" y="227.9" width="0.7" height="20.6" fill="#b8b8b8"/>
<rect x="898.4" y="74.7" width="0.7" height="45.0" fill="#a8a8a8"/>
<rect x="898.4" y="119.2" width="0.7" height="79.9" fill="#000"/>
<rect x="898.4" y="199.0" width="0.7" height="49.5" fill="#7a7a7a"/>
<rect x="899.1" y="74.7" width="1.5" height="39.9" fill="#6a6a6a"/>
<rect x="899.1" y="114.2" width="1.5" height="100.9" fill="#000"/>
<rect x="899.1" y="215.0" width="1.5" height="33.5" fill="#b8b8b8"/>
<rect x="900.6" y="117.5" width="1.0" height="14.2" fill="#8c8c8c"/>
<rect x="900.6" y="131.2" width="1.0" height="86.0" fill="#0c0c0c"/>
<rect x="900.6" y="217.1" width="1.0" height="31.4" fill="#d8d8d8"/>
<rect x="901.6" y="55.4" width="1.0" height="45.0" fill="#404040"/>
<rect x="901.6" y="99.8" width="1.0" height="95.1" fill="#000"/>
<rect x="901.6" y="195.0" width="1.0" height="53.5" fill="#8a8a8a"/>
<rect x="902.6" y="104.8" width="1.0" height="109.7" fill="#0c0c0c"/>
<rect x="902.6" y="214.5" width="1.0" height="34.0" fill="#b8b8b8"/>
<rect x="903.6" y="107.3" width="1.2" height="14.7" fill="#000"/>
<rect x="903.6" y="121.5" width="1.2" height="90.1" fill="#0c0c0c"/>
<rect x="903.6" y="211.6" width="1.2" height="36.9" fill="#d8d8d8"/>
<rect x="904.8" y="49.1" width="1.2" height="58.4" fill="#8c8c8c"/>
<rect x="904.8" y="106.9" width="1.2" height="117.9" fill="#000"/>
<rect x="904.8" y="224.9" width="1.2" height="23.6" fill="#8a8a8a"/>
<rect x="906.0" y="49.1" width="1.2" height="37.6" fill="#8c8c8c"/>
<rect x="906.0" y="86.2" width="1.2" height="119.4" fill="#0c0c0c"/>
<rect x="906.0" y="205.5" width="1.2" height="43.0" fill="#8a8a8a"/>
<rect x="907.2" y="53.0" width="1.0" height="55.9" fill="#404040"/>
<rect x="907.2" y="108.4" width="1.0" height="107.2" fill="#000"/>
<rect x="907.2" y="215.6" width="1.0" height="32.9" fill="#7a7a7a"/>
<rect x="908.2" y="49.1" width="1.0" height="62.1" fill="#404040"/>
<rect x="908.2" y="110.7" width="1.0" height="85.5" fill="#000"/>
<rect x="908.2" y="196.3" width="1.0" height="52.2" fill="#9c9c9c"/>
<rect x="909.2" y="68.9" width="1.0" height="17.5" fill="#000"/>
<rect x="909.2" y="85.8" width="1.0" height="120.8" fill="#0c0c0c"/>
<rect x="909.2" y="206.6" width="1.0" height="41.9" fill="#7a7a7a"/>
<rect x="910.2" y="49.1" width="1.5" height="35.7" fill="#a8a8a8"/>
<rect x="910.2" y="84.3" width="1.5" height="143.1" fill="#000"/>
<rect x="910.2" y="227.4" width="1.5" height="21.1" fill="#4a4a4a"/>
<rect x="911.7" y="89.0" width="1.5" height="48.9" fill="#8c8c8c"/>
<rect x="911.7" y="137.4" width="1.5" height="63.7" fill="#000"/>
<rect x="911.7" y="201.1" width="1.5" height="47.4" fill="#8a8a8a"/>
<rect x="913.2" y="80.3" width="1.5" height="41.4" fill="#404040"/>
<rect x="913.2" y="121.2" width="1.5" height="99.8" fill="#000"/>
<rect x="913.2" y="221.0" width="1.5" height="27.5" fill="#b8b8b8"/>
<rect x="914.7" y="119.9" width="1.2" height="14.6" fill="#c4c4c4"/>
<rect x="914.7" y="134.1" width="1.2" height="66.5" fill="#0c0c0c"/>
<rect x="914.7" y="200.6" width="1.2" height="47.9" fill="#7a7a7a"/>
<rect x="915.9" y="49.1" width="0.9" height="43.4" fill="#6a6a6a"/>
<rect x="915.9" y="92.0" width="0.9" height="130.8" fill="#000"/>
<rect x="915.9" y="222.8" width="0.9" height="25.7" fill="#b8b8b8"/>
<rect x="916.8" y="49.1" width="1.0" height="43.9" fill="#8c8c8c"/>
<rect x="916.8" y="92.5" width="1.0" height="134.6" fill="#0c0c0c"/>
<rect x="916.8" y="227.1" width="1.0" height="21.4" fill="#d8d8d8"/>
<rect x="917.8" y="88.7" width="1.2" height="12.8" fill="#c4c4c4"/>
<rect x="917.8" y="101.0" width="1.2" height="101.6" fill="#000"/>
<rect x="917.8" y="202.7" width="1.2" height="45.8" fill="#7a7a7a"/>
<rect x="919.0" y="49.1" width="1.2" height="51.0" fill="#404040"/>
<rect x="919.0" y="99.6" width="1.2" height="108.9" fill="#000"/>
<rect x="919.0" y="208.5" width="1.2" height="40.0" fill="#9c9c9c"/>
<rect x="920.2" y="108.3" width="0.7" height="22.7" fill="#8c8c8c"/>
<rect x="920.2" y="130.4" width="0.7" height="65.4" fill="#000"/>
<rect x="920.2" y="195.9" width="0.7" height="52.6" fill="#d8d8d8"/>
<rect x="920.9" y="88.5" width="1.0" height="48.0" fill="#8c8c8c"/>
<rect x="920.9" y="136.0" width="1.0" height="66.0" fill="#000"/>
<rect x="920.9" y="202.0" width="1.0" height="46.5" fill="#d8d8d8"/>
<rect x="921.9" y="49.1" width="0.9" height="34.2" fill="#8c8c8c"/>
<rect x="921.9" y="82.8" width="0.9" height="135.1" fill="#0c0c0c"/>
<rect x="921.9" y="217.9" width="0.9" height="30.6" fill="#7a7a7a"/>
<rect x="922.8" y="75.4" width="1.0" height="31.6" fill="#a8a8a8"/>
<rect x="922.8" y="106.5" width="1.0" height="116.0" fill="#000"/>
<rect x="922.8" y="222.5" width="1.0" height="26.0" fill="#4a4a4a"/>
<rect x="923.8" y="111.6" width="1.5" height="27.5" fill="#8c8c8c"/>
<rect x="923.8" y="138.6" width="1.5" height="59.6" fill="#000"/>
<rect x="923.8" y="198.2" width="1.5" height="50.3" fill="#7a7a7a"/>
<rect x="925.3" y="49.1" width="0.7" height="48.1" fill="#404040"/>
<rect x="925.3" y="96.7" width="0.7" height="99.9" fill="#000"/>
<rect x="925.3" y="196.6" width="0.7" height="51.9" fill="#9c9c9c"/>
<rect x="926.0" y="115.4" width="0.7" height="21.3" fill="#8c8c8c"/>
<rect x="926.0" y="136.2" width="0.7" height="78.6" fill="#000"/>
<rect x="926.0" y="214.8" width="0.7" height="33.7" fill="#8a8a8a"/>
<rect x="926.7" y="108.8" width="1.5" height="11.6" fill="#c4c4c4"/>
<rect x="926.7" y="119.9" width="1.5" height="104.6" fill="#0c0c0c"/>
<rect x="926.7" y="224.5" width="1.5" height="24.0" fill="#8a8a8a"/>
<rect x="928.2" y="85.1" width="0.7" height="35.6" fill="#6a6a6a"/>
<rect x="928.2" y="120.2" width="0.7" height="101.7" fill="#0c0c0c"/>
<rect x="928.2" y="221.9" width="0.7" height="26.6" fill="#b8b8b8"/>
<rect x="928.9" y="73.6" width="1.0" height="26.6" fill="#6a6a6a"/>
<rect x="928.9" y="99.7" width="1.0" height="124.8" fill="#000"/>
<rect x="928.9" y="224.5" width="1.0" height="24.0" fill="#4a4a4a"/>
<rect x="929.9" y="68.7" width="0.7" height="62.4" fill="#000"/>
<rect x="929.9" y="130.6" width="0.7" height="86.9" fill="#0c0c0c"/>
<rect x="929.9" y="217.5" width="0.7" height="31.0" fill="#7a7a7a"/>
<rect x="930.6" y="93.5" width="1.0" height="12.2" fill="#c4c4c4"/>
<rect x="930.6" y="105.2" width="1.0" height="120.6" fill="#0c0c0c"/>
<rect x="930.6" y="225.8" width="1.0" height="22.7" fill="#7a7a7a"/>
<rect x="931.6" y="72.3" width="1.0" height="56.4" fill="#a8a8a8"/>
<rect x="931.6" y="128.2" width="1.0" height="97.1" fill="#0c0c0c"/>
<rect x="931.6" y="225.3" width="1.0" height="23.2" fill="#8a8a8a"/>
<rect x="932.6" y="51.2" width="0.7" height="64.1" fill="#c4c4c4"/>
<rect x="932.6" y="114.8" width="0.7" height="100.6" fill="#000"/>
<rect x="932.6" y="215.5" width="0.7" height="33.0" fill="#b8b8b8"/>
<rect x="933.3" y="80.4" width="1.5" height="18.1" fill="#c4c4c4"/>
<rect x="933.3" y="98.0" width="1.5" height="128.0" fill="#000"/>
<rect x="933.3" y="226.0" width="1.5" height="22.5" fill="#7a7a7a"/>
<rect x="934.8" y="117.1" width="1.0" height="95.4" fill="#0c0c0c"/>
<rect x="934.8" y="212.5" width="1.0" height="36.0" fill="#b8b8b8"/>
<rect x="935.8" y="71.8" width="1.2" height="62.9" fill="#c4c4c4"/>
<rect x="935.8" y="134.2" width="1.2" height="62.3" fill="#000"/>
<rect x="935.8" y="196.5" width="1.2" height="52.0" fill="#7a7a7a"/>
<rect x="937.0" y="69.5" width="1.2" height="21.7" fill="#8c8c8c"/>
<rect x="937.0" y="90.7" width="1.2" height="125.1" fill="#000"/>
<rect x="937.0" y="215.8" width="1.2" height="32.7" fill="#9c9c9c"/>
<rect x="938.2" y="84.0" width="1.0" height="14.1" fill="#000"/>
<rect x="938.2" y="97.6" width="1.0" height="106.8" fill="#000"/>
<rect x="938.2" y="204.4" width="1.0" height="44.1" fill="#7a7a7a"/>
<rect x="939.2" y="80.4" width="1.0" height="51.2" fill="#c4c4c4"/>
<rect x="939.2" y="131.2" width="1.0" height="84.7" fill="#0c0c0c"/>
<rect x="939.2" y="215.9" width="1.0" height="32.6" fill="#7a7a7a"/>
<rect x="940.2" y="91.3" width="1.0" height="44.8" fill="#c4c4c4"/>
<rect x="940.2" y="135.6" width="1.0" height="90.9" fill="#0c0c0c"/>
<rect x="940.2" y="226.5" width="1.0" height="22.0" fill="#4a4a4a"/>
<rect x="941.2" y="61.8" width="1.0" height="47.5" fill="#404040"/>
<rect x="941.2" y="108.9" width="1.0" height="97.8" fill="#0c0c0c"/>
<rect x="941.2" y="206.7" width="1.0" height="41.8" fill="#7a7a7a"/>
<rect x="942.2" y="110.8" width="1.0" height="10.6" fill="#c4c4c4"/>
<rect x="942.2" y="120.9" width="1.0" height="72.9" fill="#000"/>
<rect x="942.2" y="193.8" width="1.0" height="54.7" fill="#4a4a4a"/>
<rect x="943.2" y="78.5" width="0.7" height="13.2" fill="#a8a8a8"/>
<rect x="943.2" y="91.2" width="0.7" height="135.8" fill="#000"/>
<rect x="943.2" y="227.0" width="0.7" height="21.5" fill="#9c9c9c"/>
<rect x="943.9" y="106.9" width="1.0" height="11.0" fill="#8c8c8c"/>
<rect x="943.9" y="117.4" width="1.0" height="92.6" fill="#000"/>
<rect x="943.9" y="210.0" width="1.0" height="38.5" fill="#4a4a4a"/>
<rect x="944.9" y="100.5" width="0.9" height="115.1" fill="#000"/>
<rect x="944.9" y="215.6" width="0.9" height="32.9" fill="#7a7a7a"/>
<rect x="945.8" y="118.5" width="0.7" height="16.1" fill="#8c8c8c"/>
<rect x="945.8" y="134.1" width="0.7" height="83.4" fill="#0c0c0c"/>
<rect x="945.8" y="217.5" width="0.7" height="31.0" fill="#7a7a7a"/>
<rect x="946.5" y="56.5" width="0.7" height="31.6" fill="#a8a8a8"/>
<rect x="946.5" y="87.5" width="0.7" height="127.3" fill="#000"/>
<rect x="946.5" y="214.8" width="0.7" height="33.7" fill="#8a8a8a"/>
<rect x="947.2" y="79.6" width="1.0" height="53.1" fill="#6a6a6a"/>
<rect x="947.2" y="132.2" width="1.0" height="68.0" fill="#000"/>
<rect x="947.2" y="200.2" width="1.0" height="48.3" fill="#b8b8b8"/>
<rect x="948.2" y="83.3" width="1.5" height="20.2" fill="#6a6a6a"/>
<rect x="948.2" y="103.0" width="1.5" height="112.1" fill="#000"/>
<rect x="948.2" y="215.1" width="1.5" height="33.4" fill="#b8b8b8"/>
<rect x="949.7" y="81.8" width="0.9" height="22.7" fill="#8c8c8c"/>
<rect x="949.7" y="104.1" width="0.9" height="121.3" fill="#000"/>
<rect x="949.7" y="225.4" width="0.9" height="23.1" fill="#8a8a8a"/>
<rect x="950.6" y="64.4" width="0.7" height="53.3" fill="#6a6a6a"/>
<rect x="950.6" y="117.2" width="0.7" height="81.2" fill="#0c0c0c"/>
<rect x="950.6" y="198.4" width="0.7" height="50.1" fill="#8a8a8a"/>
<rect x="951.3" y="69.6" width="1.2" height="30.2" fill="#8c8c8c"/>
<rect x="951.3" y="99.4" width="1.2" height="119.1" fill="#0c0c0c"/>
<rect x="951.3" y="218.4" width="1.2" height="30.1" fill="#b8b8b8"/>
<rect x="952.5" y="49.1" width="1.0" height="42.4" fill="#8c8c8c"/>
<rect x="952.5" y="91.0" width="1.0" height="103.2" fill="#000"/>
<rect x="952.5" y="194.3" width="1.0" height="54.2" fill="#b8b8b8"/>
<rect x="953.5" y="61.3" width="1.2" height="39.5" fill="#c4c4c4"/>
<rect x="953.5" y="100.2" width="1.2" height="106.5" fill="#000"/>
<rect x="953.5" y="206.8" width="1.2" height="41.7" fill="#9c9c9c"/>
<rect x="954.7" y="59.1" width="0.7" height="57.0" fill="#000"/>
<rect x="954.7" y="115.6" width="0.7" height="82.1" fill="#000"/>
<rect x="954.7" y="197.7" width="0.7" height="50.8" fill="#7a7a7a"/>
<rect x="955.4" y="49.1" width="1.5" height="51.9" fill="#404040"/>
<rect x="955.4" y="100.5" width="1.5" height="123.6" fill="#000"/>
<rect x="955.4" y="224.1" width="1.5" height="24.4" fill="#7a7a7a"/>
<rect x="956.9" y="114.2" width="1.2" height="108.3" fill="#000"/>
<rect x="956.9" y="222.5" width="1.2" height="26.0" fill="#9c9c9c"/>
<rect x="958.1" y="138.6" width="1.0" height="79.9" fill="#000"/>
<rect x="958.1" y="218.5" width="1.0" height="30.0" fill="#b8b8b8"/>
<rect x="959.1" y="77.8" width="0.9" height="55.3" fill="#a8a8a8"/>
<rect x="959.1" y="132.6" width="0.9" height="70.6" fill="#000"/>
<rect x="959.1" y="203.2" width="0.9" height="45.3" fill="#7a7a7a"/>
<rect x="960.0" y="58.9" width="1.0" height="36.8" fill="#6a6a6a"/>
<rect x="960.0" y="95.2" width="1.0" height="119.2" fill="#000"/>
<rect x="960.0" y="214.4" width="1.0" height="34.1" fill="#7a7a7a"/>
<rect x="961.0" y="52.1" width="1.5" height="29.0" fill="#6a6a6a"/>
<rect x="961.0" y="80.5" width="1.5" height="114.8" fill="#000"/>
<rect x="961.0" y="195.3" width="1.5" height="53.2" fill="#d8d8d8"/>
<rect x="962.5" y="79.7" width="1.0" height="48.8" fill="#6a6a6a"/>
<rect x="962.5" y="128.0" width="1.0" height="88.9" fill="#000"/>
<rect x="962.5" y="216.9" width="1.0" height="31.6" fill="#b8b8b8"/>
<rect x="963.5" y="105.1" width="1.0" height="29.7" fill="#404040"/>
<rect x="963.5" y="134.3" width="1.0" height="81.8" fill="#000"/>
<rect x="963.5" y="216.1" width="1.0" height="32.4" fill="#9c9c9c"/>
<rect x="964.5" y="105.7" width="1.0" height="31.2" fill="#404040"/>
<rect x="964.5" y="136.4" width="1.0" height="60.0" fill="#000"/>
<rect x="964.5" y="196.4" width="1.0" height="52.1" fill="#7a7a7a"/>
<rect x="965.5" y="49.1" width="1.0" height="34.5" fill="#6a6a6a"/>
<rect x="965.5" y="83.0" width="1.0" height="118.1" fill="#000"/>
<rect x="965.5" y="201.1" width="1.0" height="47.4" fill="#8a8a8a"/>
<rect x="966.5" y="106.2" width="1.0" height="119.2" fill="#000"/>
<rect x="966.5" y="225.5" width="1.0" height="23.0" fill="#8a8a8a"/>
<rect x="967.5" y="49.1" width="0.9" height="51.0" fill="#6a6a6a"/>
<rect x="967.5" y="99.6" width="0.9" height="120.9" fill="#0c0c0c"/>
<rect x="967.5" y="220.6" width="0.9" height="27.9" fill="#7a7a7a"/>
<rect x="968.4" y="97.3" width="1.5" height="40.7" fill="#c4c4c4"/>
<rect x="968.4" y="137.5" width="1.5" height="68.1" fill="#000"/>
<rect x="968.4" y="205.5" width="1.5" height="43.0" fill="#8a8a8a"/>
<rect x="969.9" y="85.2" width="1.5" height="38.7" fill="#404040"/>
<rect x="969.9" y="123.4" width="1.5" height="102.5" fill="#000"/>
<rect x="969.9" y="225.9" width="1.5" height="22.6" fill="#d8d8d8"/>
<rect x="971.4" y="136.0" width="1.5" height="71.0" fill="#000"/>
<rect x="971.4" y="207.0" width="1.5" height="41.5" fill="#7a7a7a"/>
<rect x="972.9" y="70.3" width="0.9" height="38.3" fill="#8c8c8c"/>
<rect x="972.9" y="108.0" width="0.9" height="109.2" fill="#0c0c0c"/>
<rect x="972.9" y="217.2" width="0.9" height="31.3" fill="#8a8a8a"/>
<rect x="973.8" y="118.4" width="1.0" height="20.8" fill="#404040"/>
<rect x="973.8" y="138.6" width="1.0" height="73.0" fill="#000"/>
<rect x="973.8" y="211.7" width="1.0" height="36.8" fill="#4a4a4a"/>
<rect x="974.8" y="80.1" width="1.0" height="14.6" fill="#a8a8a8"/>
<rect x="974.8" y="94.2" width="1.0" height="108.4" fill="#000"/>
<rect x="974.8" y="202.6" width="1.0" height="45.9" fill="#8a8a8a"/>
<rect x="975.8" y="64.5" width="1.2" height="34.0" fill="#8c8c8c"/>
<rect x="975.8" y="98.0" width="1.2" height="119.8" fill="#000"/>
<rect x="975.8" y="217.8" width="1.2" height="30.7" fill="#7a7a7a"/>
<rect x="977.0" y="62.3" width="1.5" height="59.1" fill="#6a6a6a"/>
<rect x="977.0" y="121.0" width="1.5" height="79.7" fill="#000"/>
<rect x="977.0" y="200.7" width="1.5" height="47.8" fill="#8a8a8a"/>
<rect x="978.5" y="88.2" width="1.0" height="44.7" fill="#a8a8a8"/>
<rect x="978.5" y="132.4" width="1.0" height="89.4" fill="#000"/>
<rect x="978.5" y="221.8" width="1.0" height="26.7" fill="#4a4a4a"/>
<rect x="979.5" y="96.0" width="0.7" height="16.2" fill="#404040"/>
<rect x="979.5" y="111.7" width="0.7" height="87.5" fill="#0c0c0c"/>
<rect x="979.5" y="199.2" width="0.7" height="49.3" fill="#9c9c9c"/>
<rect x="980.2" y="102.5" width="1.2" height="117.5" fill="#0c0c0c"/>
<rect x="980.2" y="220.0" width="1.2" height="28.5" fill="#b8b8b8"/>
<rect x="981.4" y="91.0" width="1.0" height="21.3" fill="#8c8c8c"/>
<rect x="981.4" y="111.7" width="1.0" height="107.7" fill="#000"/>
<rect x="981.4" y="219.4" width="1.0" height="29.1" fill="#8a8a8a"/>
<rect x="982.4" y="113.7" width="0.9" height="25.2" fill="#c4c4c4"/>
<rect x="982.4" y="138.4" width="0.9" height="68.1" fill="#0c0c0c"/>
<rect x="982.4" y="206.6" width="0.9" height="41.9" fill="#7a7a7a"/>
<rect x="983.3" y="49.1" width="0.7" height="69.2" fill="#c4c4c4"/>
<rect x="983.3" y="117.8" width="0.7" height="86.6" fill="#000"/>
<rect x="983.3" y="204.4" width="0.7" height="44.1" fill="#9c9c9c"/>
<rect x="984.0" y="77.9" width="1.5" height="57.0" fill="#c4c4c4"/>
<rect x="984.0" y="134.3" width="1.5" height="67.5" fill="#000"/>
<rect x="984.0" y="201.8" width="1.5" height="46.7" fill="#b8b8b8"/>
<rect x="985.5" y="61.3" width="1.0" height="66.3" fill="#6a6a6a"/>
<rect x="985.5" y="127.2" width="1.0" height="98.8" fill="#000"/>
<rect x="985.5" y="226.0" width="1.0" height="22.5" fill="#d8d8d8"/>
<rect x="986.5" y="94.9" width="1.2" height="16.9" fill="#8c8c8c"/>
<rect x="986.5" y="111.3" width="1.2" height="111.2" fill="#000"/>
<rect x="986.5" y="222.5" width="1.2" height="26.0" fill="#8a8a8a"/>
<rect x="987.7" y="116.2" width="1.0" height="14.1" fill="#c4c4c4"/>
<rect x="987.7" y="129.8" width="1.0" height="97.5" fill="#0c0c0c"/>
<rect x="987.7" y="227.3" width="1.0" height="21.2" fill="#d8d8d8"/>
<rect x="988.7" y="73.2" width="1.5" height="27.2" fill="#000"/>
<rect x="988.7" y="99.9" width="1.5" height="103.4" fill="#000"/>
<rect x="988.7" y="203.3" width="1.5" height="45.2" fill="#8a8a8a"/>
<rect x="990.2" y="90.6" width="1.2" height="11.0" fill="#404040"/>
<rect x="990.2" y="101.0" width="1.2" height="111.6" fill="#000"/>
<rect x="990.2" y="212.6" width="1.2" height="35.9" fill="#d8d8d8"/>
<rect x="991.4" y="63.8" width="1.0" height="15.0" fill="#000"/>
<rect x="991.4" y="78.2" width="1.0" height="146.5" fill="#000"/>
<rect x="991.4" y="224.8" width="1.0" height="23.7" fill="#4a4a4a"/>
<rect x="992.4" y="49.1" width="1.2" height="45.2" fill="#000"/>
<rect x="992.4" y="93.8" width="1.2" height="117.0" fill="#000"/>
<rect x="992.4" y="210.8" width="1.2" height="37.7" fill="#4a4a4a"/>
<rect x="993.6" y="64.0" width="1.0" height="44.1" fill="#a8a8a8"/>
<rect x="993.6" y="107.6" width="1.0" height="104.0" fill="#000"/>
<rect x="993.6" y="211.6" width="1.0" height="36.9" fill="#9c9c9c"/>
<rect x="994.6" y="88.2" width="1.5" height="30.9" fill="#c4c4c4"/>
<rect x="994.6" y="118.7" width="1.5" height="95.1" fill="#000"/>
<rect x="994.6" y="213.7" width="1.5" height="34.8" fill="#9c9c9c"/>
<rect x="996.1" y="112.9" width="1.0" height="9.4" fill="#000"/>
<rect x="996.1" y="121.8" width="1.0" height="73.0" fill="#000"/>
<rect x="996.1" y="194.7" width="1.0" height="53.8" fill="#9c9c9c"/>
<rect x="997.1" y="94.2" width="1.0" height="23.3" fill="#8c8c8c"/>
<rect x="997.1" y="116.9" width="1.0" height="91.2" fill="#000"/>
<rect x="997.1" y="208.1" width="1.0" height="40.4" fill="#d8d8d8"/>
<rect x="998.1" y="53.3" width="0.7" height="28.6" fill="#8c8c8c"/>
<rect x="998.1" y="81.4" width="0.7" height="137.5" fill="#000"/>
<rect x="998.1" y="218.9" width="0.7" height="29.6" fill="#d8d8d8"/>
<rect x="998.8" y="71.5" width="1.5" height="58.2" fill="#c4c4c4"/>
<rect x="998.8" y="129.2" width="1.5" height="90.8" fill="#0c0c0c"/>
<rect x="998.8" y="220.0" width="1.5" height="28.5" fill="#9c9c9c"/>
<rect x="1000.3" y="129.6" width="0.7" height="71.3" fill="#000"/>
<rect x="1000.3" y="200.9" width="0.7" height="47.6" fill="#8a8a8a"/>
<rect x="1001.0" y="70.7" width="1.0" height="37.0" fill="#a8a8a8"/>
<rect x="1001.0" y="107.3" width="1.0" height="87.0" fill="#000"/>
<rect x="1001.0" y="194.3" width="1.0" height="54.2" fill="#9c9c9c"/>
<rect x="1002.0" y="86.4" width="1.5" height="44.6" fill="#8c8c8c"/>
<rect x="1002.0" y="130.5" width="1.5" height="73.0" fill="#000"/>
<rect x="1002.0" y="203.5" width="1.5" height="45.0" fill="#8a8a8a"/>
<rect x="1003.5" y="49.1" width="1.5" height="59.0" fill="#000"/>
<rect x="1003.5" y="107.6" width="1.5" height="106.5" fill="#000"/>
<rect x="1003.5" y="214.1" width="1.5" height="34.4" fill="#b8b8b8"/>
<rect x="1005.0" y="117.5" width="0.9" height="103.8" fill="#000"/>
<rect x="1005.0" y="221.3" width="0.9" height="27.2" fill="#9c9c9c"/>
<rect x="1005.9" y="62.7" width="1.2" height="29.0" fill="#000"/>
<rect x="1005.9" y="91.2" width="1.2" height="131.4" fill="#000"/>
<rect x="1005.9" y="222.6" width="1.2" height="25.9" fill="#7a7a7a"/>
<rect x="1007.1" y="138.7" width="1.2" height="81.5" fill="#000"/>
<rect x="1007.1" y="220.1" width="1.2" height="28.4" fill="#4a4a4a"/>
</g>
<rect x="824.5" y="52" width="183" height="196.5" fill="none" stroke="#262626" stroke-width="1.2"/>
<line x1="824.5" y1="248.5" x2="826.5" y2="248.5" stroke="#262626" stroke-width="1"/>
<text x="818.7" y="253.0" font-size="12.3" text-anchor="end" fill="#262626" >0</text>
<line x1="824.5" y1="209.4" x2="826.5" y2="209.4" stroke="#262626" stroke-width="1"/>
<text x="818.7" y="214.8" font-size="12.3" text-anchor="end" fill="#262626" >0.2</text>
<line x1="824.5" y1="170.3" x2="826.5" y2="170.3" stroke="#262626" stroke-width="1"/>
<text x="818.7" y="175.4" font-size="12.3" text-anchor="end" fill="#262626" >0.4</text>
<line x1="824.5" y1="131.2" x2="826.5" y2="131.2" stroke="#262626" stroke-width="1"/>
<text x="818.7" y="135.9" font-size="12.3" text-anchor="end" fill="#262626" >0.6</text>
<line x1="824.5" y1="92.1" x2="826.5" y2="92.1" stroke="#262626" stroke-width="1"/>
<text x="818.7" y="96.4" font-size="12.3" text-anchor="end" fill="#262626" >0.8</text>
<line x1="824.5" y1="53.0" x2="826.5" y2="53.0" stroke="#262626" stroke-width="1"/>
<text x="818.7" y="57.0" font-size="12.3" text-anchor="end" fill="#262626" >1</text>
<text x="823.3" y="264.5" font-size="12.3" text-anchor="middle" fill="#262626" >0</text>
<text x="921.0" y="264.5" font-size="12.3" text-anchor="middle" fill="#262626" >100</text>
<text x="1009.0" y="264.5" font-size="12.3" text-anchor="middle" fill="#262626" >200</text>
<text x="925.1" y="284.0" font-size="12.6" text-anchor="middle" fill="#262626" >Time [s]</text>
<text transform="translate(792,153.8) rotate(-90)" font-size="13" text-anchor="middle" fill="#262626" font-family="Liberation Serif">σ</text>
<line x1="64.4" y1="333" x2="64.4" y2="530" stroke="#c2c2c2" stroke-width="0.85" stroke-dasharray="1.3 0.7"/>
<line x1="68.3" y1="333" x2="68.3" y2="530" stroke="#c2c2c2" stroke-width="0.85" stroke-dasharray="1.3 0.7"/>
<line x1="72.5" y1="333" x2="72.5" y2="530" stroke="#c2c2c2" stroke-width="0.85" stroke-dasharray="1.3 0.7"/>
<line x1="76.8" y1="333" x2="76.8" y2="530" stroke="#c2c2c2" stroke-width="0.85" stroke-dasharray="1.3 0.7"/>
<line x1="81.3" y1="333" x2="81.3" y2="530" stroke="#c2c2c2" stroke-width="0.85" stroke-dasharray="1.3 0.7"/>
<line x1="85.9" y1="333" x2="85.9" y2="530" stroke="#c2c2c2" stroke-width="0.85" stroke-dasharray="1.3 0.7"/>
<line x1="90.2" y1="333" x2="90.2" y2="530" stroke="#c2c2c2" stroke-width="0.85" stroke-dasharray="1.3 0.7"/>
<line x1="94.5" y1="333" x2="94.5" y2="530" stroke="#c2c2c2" stroke-width="0.85" stroke-dasharray="1.3 0.7"/>
<line x1="98.7" y1="333" x2="98.7" y2="530" stroke="#c2c2c2" stroke-width="0.85" stroke-dasharray="1.3 0.7"/>
<line x1="102.8" y1="333" x2="102.8" y2="530" stroke="#c2c2c2" stroke-width="0.85" stroke-dasharray="1.3 0.7"/>
<line x1="107.3" y1="333" x2="107.3" y2="530" stroke="#c2c2c2" stroke-width="0.85" stroke-dasharray="1.3 0.7"/>
<line x1="111.5" y1="333" x2="111.5" y2="530" stroke="#c2c2c2" stroke-width="0.85" stroke-dasharray="1.3 0.7"/>
<line x1="115.6" y1="333" x2="115.6" y2="530" stroke="#c2c2c2" stroke-width="0.85" stroke-dasharray="1.3 0.7"/>
<line x1="119.9" y1="333" x2="119.9" y2="530" stroke="#c2c2c2" stroke-width="0.85" stroke-dasharray="1.3 0.7"/>
<line x1="124.1" y1="333" x2="124.1" y2="530" stroke="#c2c2c2" stroke-width="0.85" stroke-dasharray="1.3 0.7"/>
<line x1="128.6" y1="333" x2="128.6" y2="530" stroke="#c2c2c2" stroke-width="0.85" stroke-dasharray="1.3 0.7"/>
<line x1="132.9" y1="333" x2="132.9" y2="530" stroke="#c2c2c2" stroke-width="0.85" stroke-dasharray="1.3 0.7"/>
<line x1="137.1" y1="333" x2="137.1" y2="530" stroke="#c2c2c2" stroke-width="0.85" stroke-dasharray="1.3 0.7"/>
<line x1="141.4" y1="333" x2="141.4" y2="530" stroke="#c2c2c2" stroke-width="0.85" stroke-dasharray="1.3 0.7"/>
<line x1="145.9" y1="333" x2="145.9" y2="530" stroke="#c2c2c2" stroke-width="0.85" stroke-dasharray="1.3 0.7"/>
<line x1="150.3" y1="333" x2="150.3" y2="530" stroke="#c2c2c2" stroke-width="0.85" stroke-dasharray="1.3 0.7"/>
<line x1="154.6" y1="333" x2="154.6" y2="530" stroke="#c2c2c2" stroke-width="0.85" stroke-dasharray="1.3 0.7"/>
<line x1="158.7" y1="333" x2="158.7" y2="530" stroke="#c2c2c2" stroke-width="0.85" stroke-dasharray="1.3 0.7"/>
<line x1="162.9" y1="333" x2="162.9" y2="530" stroke="#c2c2c2" stroke-width="0.85" stroke-dasharray="1.3 0.7"/>
<line x1="167.4" y1="333" x2="167.4" y2="530" stroke="#c2c2c2" stroke-width="0.85" stroke-dasharray="1.3 0.7"/>
<line x1="171.7" y1="333" x2="171.7" y2="530" stroke="#c2c2c2" stroke-width="0.85" stroke-dasharray="1.3 0.7"/>
<line x1="175.9" y1="333" x2="175.9" y2="530" stroke="#c2c2c2" stroke-width="0.85" stroke-dasharray="1.3 0.7"/>
<line x1="180.2" y1="333" x2="180.2" y2="530" stroke="#c2c2c2" stroke-width="0.85" stroke-dasharray="1.3 0.7"/>
<line x1="184.6" y1="333" x2="184.6" y2="530" stroke="#c2c2c2" stroke-width="0.85" stroke-dasharray="1.3 0.7"/>
<line x1="189.3" y1="333" x2="189.3" y2="530" stroke="#c2c2c2" stroke-width="0.85" stroke-dasharray="1.3 0.7"/>
<line x1="193.4" y1="333" x2="193.4" y2="530" stroke="#c2c2c2" stroke-width="0.85" stroke-dasharray="1.3 0.7"/>
<line x1="197.6" y1="333" x2="197.6" y2="530" stroke="#c2c2c2" stroke-width="0.85" stroke-dasharray="1.3 0.7"/>
<line x1="201.9" y1="333" x2="201.9" y2="530" stroke="#c2c2c2" stroke-width="0.85" stroke-dasharray="1.3 0.7"/>
<line x1="206.4" y1="333" x2="206.4" y2="530" stroke="#c2c2c2" stroke-width="0.85" stroke-dasharray="1.3 0.7"/>
<line x1="210.8" y1="333" x2="210.8" y2="530" stroke="#c2c2c2" stroke-width="0.85" stroke-dasharray="1.3 0.7"/>
<line x1="215.2" y1="333" x2="215.2" y2="530" stroke="#c2c2c2" stroke-width="0.85" stroke-dasharray="1.3 0.7"/>
<line x1="219.3" y1="333" x2="219.3" y2="530" stroke="#c2c2c2" stroke-width="0.85" stroke-dasharray="1.3 0.7"/>
<line x1="223.6" y1="333" x2="223.6" y2="530" stroke="#c2c2c2" stroke-width="0.85" stroke-dasharray="1.3 0.7"/>
<line x1="227.8" y1="333" x2="227.8" y2="530" stroke="#c2c2c2" stroke-width="0.85" stroke-dasharray="1.3 0.7"/>
<line x1="232.3" y1="333" x2="232.3" y2="530" stroke="#c2c2c2" stroke-width="0.85" stroke-dasharray="1.3 0.7"/>
<line x1="236.6" y1="333" x2="236.6" y2="530" stroke="#c2c2c2" stroke-width="0.85" stroke-dasharray="1.3 0.7"/>
<line x1="240.6" y1="333" x2="240.6" y2="530" stroke="#c2c2c2" stroke-width="0.85" stroke-dasharray="1.3 0.7"/>
<line x1="244.9" y1="333" x2="244.9" y2="530" stroke="#c2c2c2" stroke-width="0.85" stroke-dasharray="1.3 0.7"/>
<line x1="249.2" y1="333" x2="249.2" y2="530" stroke="#c2c2c2" stroke-width="0.85" stroke-dasharray="1.3 0.7"/>
<line x1="253.4" y1="333" x2="253.4" y2="530" stroke="#c2c2c2" stroke-width="0.85" stroke-dasharray="1.3 0.7"/>
<line x1="257.3" y1="333" x2="257.3" y2="530" stroke="#c2c2c2" stroke-width="0.85" stroke-dasharray="1.3 0.7"/>
<line x1="261.6" y1="333" x2="261.6" y2="530" stroke="#c2c2c2" stroke-width="0.85" stroke-dasharray="1.3 0.7"/>
<line x1="265.9" y1="333" x2="265.9" y2="530" stroke="#c2c2c2" stroke-width="0.85" stroke-dasharray="1.3 0.7"/>
<line x1="269.7" y1="333" x2="269.7" y2="530" stroke="#c2c2c2" stroke-width="0.85" stroke-dasharray="1.3 0.7"/>
<line x1="274.0" y1="333" x2="274.0" y2="530" stroke="#c2c2c2" stroke-width="0.85" stroke-dasharray="1.3 0.7"/>
<line x1="277.9" y1="333" x2="277.9" y2="530" stroke="#c2c2c2" stroke-width="0.85" stroke-dasharray="1.3 0.7"/>
<line x1="282.0" y1="333" x2="282.0" y2="530" stroke="#c2c2c2" stroke-width="0.85" stroke-dasharray="1.3 0.7"/>
<line x1="286.2" y1="333" x2="286.2" y2="530" stroke="#c2c2c2" stroke-width="0.85" stroke-dasharray="1.3 0.7"/>
<line x1="290.5" y1="333" x2="290.5" y2="530" stroke="#c2c2c2" stroke-width="0.85" stroke-dasharray="1.3 0.7"/>
<line x1="294.6" y1="333" x2="294.6" y2="530" stroke="#c2c2c2" stroke-width="0.85" stroke-dasharray="1.3 0.7"/>
<line x1="298.6" y1="333" x2="298.6" y2="530" stroke="#c2c2c2" stroke-width="0.85" stroke-dasharray="1.3 0.7"/>
<line x1="302.9" y1="333" x2="302.9" y2="530" stroke="#c2c2c2" stroke-width="0.85" stroke-dasharray="1.3 0.7"/>
<line x1="307.0" y1="333" x2="307.0" y2="530" stroke="#c2c2c2" stroke-width="0.85" stroke-dasharray="1.3 0.7"/>
<line x1="311.0" y1="333" x2="311.0" y2="530" stroke="#c2c2c2" stroke-width="0.85" stroke-dasharray="1.3 0.7"/>
<line x1="315.3" y1="333" x2="315.3" y2="530" stroke="#c2c2c2" stroke-width="0.85" stroke-dasharray="1.3 0.7"/>
<line x1="319.6" y1="333" x2="319.6" y2="530" stroke="#c2c2c2" stroke-width="0.85" stroke-dasharray="1.3 0.7"/>
<line x1="323.8" y1="333" x2="323.8" y2="530" stroke="#c2c2c2" stroke-width="0.85" stroke-dasharray="1.3 0.7"/>
<line x1="327.9" y1="333" x2="327.9" y2="530" stroke="#c2c2c2" stroke-width="0.85" stroke-dasharray="1.3 0.7"/>
<line x1="332.0" y1="333" x2="332.0" y2="530" stroke="#c2c2c2" stroke-width="0.85" stroke-dasharray="1.3 0.7"/>
<line x1="335.7" y1="333" x2="335.7" y2="530" stroke="#c2c2c2" stroke-width="0.85" stroke-dasharray="1.3 0.7"/>
<line x1="339.9" y1="333" x2="339.9" y2="530" stroke="#c2c2c2" stroke-width="0.85" stroke-dasharray="1.3 0.7"/>
<line x1="343.8" y1="333" x2="343.8" y2="530" stroke="#c2c2c2" stroke-width="0.85" stroke-dasharray="1.3 0.7"/>
<line x1="347.7" y1="333" x2="347.7" y2="530" stroke="#c2c2c2" stroke-width="0.85" stroke-dasharray="1.3 0.7"/>
<line x1="352.0" y1="333" x2="352.0" y2="530" stroke="#c2c2c2" stroke-width="0.85" stroke-dasharray="1.3 0.7"/>
<line x1="355.5" y1="333" x2="355.5" y2="530" stroke="#c2c2c2" stroke-width="0.85" stroke-dasharray="1.3 0.7"/>
<line x1="360.3" y1="333" x2="360.3" y2="530" stroke="#c2c2c2" stroke-width="0.85" stroke-dasharray="1.3 0.7"/>
<line x1="365.2" y1="333" x2="365.2" y2="530" stroke="#c2c2c2" stroke-width="0.85" stroke-dasharray="1.3 0.7"/>
<line x1="369.8" y1="333" x2="369.8" y2="530" stroke="#c2c2c2" stroke-width="0.85" stroke-dasharray="1.3 0.7"/>
<line x1="374.7" y1="333" x2="374.7" y2="530" stroke="#c2c2c2" stroke-width="0.85" stroke-dasharray="1.3 0.7"/>
<line x1="379.2" y1="333" x2="379.2" y2="530" stroke="#c2c2c2" stroke-width="0.85" stroke-dasharray="1.3 0.7"/>
<line x1="383.8" y1="333" x2="383.8" y2="530" stroke="#c2c2c2" stroke-width="0.85" stroke-dasharray="1.3 0.7"/>
<line x1="387.9" y1="333" x2="387.9" y2="530" stroke="#c2c2c2" stroke-width="0.85" stroke-dasharray="1.3 0.7"/>
<line x1="392.2" y1="333" x2="392.2" y2="530" stroke="#c2c2c2" stroke-width="0.85" stroke-dasharray="1.3 0.7"/>
<line x1="396.4" y1="333" x2="396.4" y2="530" stroke="#c2c2c2" stroke-width="0.85" stroke-dasharray="1.3 0.7"/>
<line x1="400.7" y1="333" x2="400.7" y2="530" stroke="#c2c2c2" stroke-width="0.85" stroke-dasharray="1.3 0.7"/>
<line x1="404.8" y1="333" x2="404.8" y2="530" stroke="#c2c2c2" stroke-width="0.85" stroke-dasharray="1.3 0.7"/>
<line x1="409.2" y1="333" x2="409.2" y2="530" stroke="#c2c2c2" stroke-width="0.85" stroke-dasharray="1.3 0.7"/>
<line x1="413.5" y1="333" x2="413.5" y2="530" stroke="#c2c2c2" stroke-width="0.85" stroke-dasharray="1.3 0.7"/>
<line x1="417.9" y1="333" x2="417.9" y2="530" stroke="#c2c2c2" stroke-width="0.85" stroke-dasharray="1.3 0.7"/>
<line x1="422.4" y1="333" x2="422.4" y2="530" stroke="#c2c2c2" stroke-width="0.85" stroke-dasharray="1.3 0.7"/>
<line x1="426.7" y1="333" x2="426.7" y2="530" stroke="#c2c2c2" stroke-width="0.85" stroke-dasharray="1.3 0.7"/>
<line x1="431.1" y1="333" x2="431.1" y2="530" stroke="#c2c2c2" stroke-width="0.85" stroke-dasharray="1.3 0.7"/>
<line x1="435.6" y1="333" x2="435.6" y2="530" stroke="#c2c2c2" stroke-width="0.85" stroke-dasharray="1.3 0.7"/>
<line x1="439.9" y1="333" x2="439.9" y2="530" stroke="#c2c2c2" stroke-width="0.85" stroke-dasharray="1.3 0.7"/>
<line x1="444.1" y1="333" x2="444.1" y2="530" stroke="#c2c2c2" stroke-width="0.85" stroke-dasharray="1.3 0.7"/>
<line x1="448.4" y1="333" x2="448.4" y2="530" stroke="#c2c2c2" stroke-width="0.85" stroke-dasharray="1.3 0.7"/>
<line x1="452.7" y1="333" x2="452.7" y2="530" stroke="#c2c2c2" stroke-width="0.85" stroke-dasharray="1.3 0.7"/>
<line x1="457.1" y1="333" x2="457.1" y2="530" stroke="#c2c2c2" stroke-width="0.85" stroke-dasharray="1.3 0.7"/>
<line x1="461.6" y1="333" x2="461.6" y2="530" stroke="#c2c2c2" stroke-width="0.85" stroke-dasharray="1.3 0.7"/>
<line x1="465.7" y1="333" x2="465.7" y2="530" stroke="#c2c2c2" stroke-width="0.85" stroke-dasharray="1.3 0.7"/>
<line x1="470.1" y1="333" x2="470.1" y2="530" stroke="#c2c2c2" stroke-width="0.85" stroke-dasharray="1.3 0.7"/>
<line x1="474.4" y1="333" x2="474.4" y2="530" stroke="#c2c2c2" stroke-width="0.85" stroke-dasharray="1.3 0.7"/>
<line x1="478.8" y1="333" x2="478.8" y2="530" stroke="#c2c2c2" stroke-width="0.85" stroke-dasharray="1.3 0.7"/>
<line x1="482.9" y1="333" x2="482.9" y2="530" stroke="#c2c2c2" stroke-width="0.85" stroke-dasharray="1.3 0.7"/>
<line x1="487.2" y1="333" x2="487.2" y2="530" stroke="#c2c2c2" stroke-width="0.85" stroke-dasharray="1.3 0.7"/>
<line x1="491.8" y1="333" x2="491.8" y2="530" stroke="#c2c2c2" stroke-width="0.85" stroke-dasharray="1.3 0.7"/>
<line x1="496.3" y1="333" x2="496.3" y2="530" stroke="#c2c2c2" stroke-width="0.85" stroke-dasharray="1.3 0.7"/>
<line x1="500.4" y1="333" x2="500.4" y2="530" stroke="#c2c2c2" stroke-width="0.85" stroke-dasharray="1.3 0.7"/>
<line x1="504.6" y1="333" x2="504.6" y2="530" stroke="#c2c2c2" stroke-width="0.85" stroke-dasharray="1.3 0.7"/>
<line x1="509.3" y1="333" x2="509.3" y2="530" stroke="#c2c2c2" stroke-width="0.85" stroke-dasharray="1.3 0.7"/>
<line x1="513.4" y1="333" x2="513.4" y2="530" stroke="#c2c2c2" stroke-width="0.85" stroke-dasharray="1.3 0.7"/>
<line x1="517.4" y1="333" x2="517.4" y2="530" stroke="#c2c2c2" stroke-width="0.85" stroke-dasharray="1.3 0.7"/>
<line x1="521.7" y1="333" x2="521.7" y2="530" stroke="#c2c2c2" stroke-width="0.85" stroke-dasharray="1.3 0.7"/>
<line x1="525.8" y1="333" x2="525.8" y2="530" stroke="#c2c2c2" stroke-width="0.85" stroke-dasharray="1.3 0.7"/>
<line x1="530.1" y1="333" x2="530.1" y2="530" stroke="#c2c2c2" stroke-width="0.85" stroke-dasharray="1.3 0.7"/>
<line x1="533.6" y1="333" x2="533.6" y2="530" stroke="#c2c2c2" stroke-width="0.85" stroke-dasharray="1.3 0.7"/>
<line x1="537.8" y1="333" x2="537.8" y2="530" stroke="#c2c2c2" stroke-width="0.85" stroke-dasharray="1.3 0.7"/>
<line x1="542.1" y1="333" x2="542.1" y2="530" stroke="#c2c2c2" stroke-width="0.85" stroke-dasharray="1.3 0.7"/>
<line x1="546.4" y1="333" x2="546.4" y2="530" stroke="#c2c2c2" stroke-width="0.85" stroke-dasharray="1.3 0.7"/>
<line x1="550.6" y1="333" x2="550.6" y2="530" stroke="#c2c2c2" stroke-width="0.85" stroke-dasharray="1.3 0.7"/>
<line x1="554.9" y1="333" x2="554.9" y2="530" stroke="#c2c2c2" stroke-width="0.85" stroke-dasharray="1.3 0.7"/>
<line x1="559.2" y1="333" x2="559.2" y2="530" stroke="#c2c2c2" stroke-width="0.85" stroke-dasharray="1.3 0.7"/>
<line x1="563.1" y1="333" x2="563.1" y2="530" stroke="#c2c2c2" stroke-width="0.85" stroke-dasharray="1.3 0.7"/>
<line x1="567.3" y1="333" x2="567.3" y2="530" stroke="#c2c2c2" stroke-width="0.85" stroke-dasharray="1.3 0.7"/>
<line x1="571.4" y1="333" x2="571.4" y2="530" stroke="#c2c2c2" stroke-width="0.85" stroke-dasharray="1.3 0.7"/>
<line x1="575.3" y1="333" x2="575.3" y2="530" stroke="#c2c2c2" stroke-width="0.85" stroke-dasharray="1.3 0.7"/>
<line x1="579.7" y1="333" x2="579.7" y2="530" stroke="#c2c2c2" stroke-width="0.85" stroke-dasharray="1.3 0.7"/>
<line x1="584.0" y1="333" x2="584.0" y2="530" stroke="#c2c2c2" stroke-width="0.85" stroke-dasharray="1.3 0.7"/>
<line x1="588.1" y1="333" x2="588.1" y2="530" stroke="#c2c2c2" stroke-width="0.85" stroke-dasharray="1.3 0.7"/>
<line x1="592.3" y1="333" x2="592.3" y2="530" stroke="#c2c2c2" stroke-width="0.85" stroke-dasharray="1.3 0.7"/>
<line x1="596.6" y1="333" x2="596.6" y2="530" stroke="#c2c2c2" stroke-width="0.85" stroke-dasharray="1.3 0.7"/>
<line x1="600.9" y1="333" x2="600.9" y2="530" stroke="#c2c2c2" stroke-width="0.85" stroke-dasharray="1.3 0.7"/>
<line x1="604.9" y1="333" x2="604.9" y2="530" stroke="#c2c2c2" stroke-width="0.85" stroke-dasharray="1.3 0.7"/>
<line x1="608.8" y1="333" x2="608.8" y2="530" stroke="#c2c2c2" stroke-width="0.85" stroke-dasharray="1.3 0.7"/>
<line x1="613.1" y1="333" x2="613.1" y2="530" stroke="#c2c2c2" stroke-width="0.85" stroke-dasharray="1.3 0.7"/>
<line x1="617.4" y1="333" x2="617.4" y2="530" stroke="#c2c2c2" stroke-width="0.85" stroke-dasharray="1.3 0.7"/>
<line x1="621.4" y1="333" x2="621.4" y2="530" stroke="#c2c2c2" stroke-width="0.85" stroke-dasharray="1.3 0.7"/>
<line x1="625.3" y1="333" x2="625.3" y2="530" stroke="#c2c2c2" stroke-width="0.85" stroke-dasharray="1.3 0.7"/>
<line x1="630.3" y1="333" x2="630.3" y2="530" stroke="#c2c2c2" stroke-width="0.85" stroke-dasharray="1.3 0.7"/>
<line x1="635.0" y1="333" x2="635.0" y2="530" stroke="#c2c2c2" stroke-width="0.85" stroke-dasharray="1.3 0.7"/>
<line x1="639.3" y1="333" x2="639.3" y2="530" stroke="#c2c2c2" stroke-width="0.85" stroke-dasharray="1.3 0.7"/>
<line x1="643.5" y1="333" x2="643.5" y2="530" stroke="#c2c2c2" stroke-width="0.85" stroke-dasharray="1.3 0.7"/>
<line x1="647.8" y1="333" x2="647.8" y2="530" stroke="#c2c2c2" stroke-width="0.85" stroke-dasharray="1.3 0.7"/>
<line x1="652.1" y1="333" x2="652.1" y2="530" stroke="#c2c2c2" stroke-width="0.85" stroke-dasharray="1.3 0.7"/>
<line x1="656.3" y1="333" x2="656.3" y2="530" stroke="#c2c2c2" stroke-width="0.85" stroke-dasharray="1.3 0.7"/>
<line x1="660.2" y1="333" x2="660.2" y2="530" stroke="#c2c2c2" stroke-width="0.85" stroke-dasharray="1.3 0.7"/>
<line x1="664.4" y1="333" x2="664.4" y2="530" stroke="#c2c2c2" stroke-width="0.85" stroke-dasharray="1.3 0.7"/>
<line x1="668.6" y1="333" x2="668.6" y2="530" stroke="#c2c2c2" stroke-width="0.85" stroke-dasharray="1.3 0.7"/>
<line x1="672.9" y1="333" x2="672.9" y2="530" stroke="#c2c2c2" stroke-width="0.85" stroke-dasharray="1.3 0.7"/>
<line x1="677.2" y1="333" x2="677.2" y2="530" stroke="#c2c2c2" stroke-width="0.85" stroke-dasharray="1.3 0.7"/>
<line x1="681.0" y1="333" x2="681.0" y2="530" stroke="#c2c2c2" stroke-width="0.85" stroke-dasharray="1.3 0.7"/>
<line x1="685.2" y1="333" x2="685.2" y2="530" stroke="#c2c2c2" stroke-width="0.85" stroke-dasharray="1.3 0.7"/>
<line x1="689.0" y1="333" x2="689.0" y2="530" stroke="#c2c2c2" stroke-width="0.85" stroke-dasharray="1.3 0.7"/>
<line x1="692.3" y1="333" x2="692.3" y2="530" stroke="#c2c2c2" stroke-width="0.85" stroke-dasharray="1.3 0.7"/>
<line x1="695.6" y1="333" x2="695.6" y2="530" stroke="#c2c2c2" stroke-width="0.85" stroke-dasharray="1.3 0.7"/>
<line x1="699.9" y1="333" x2="699.9" y2="530" stroke="#c2c2c2" stroke-width="0.85" stroke-dasharray="1.3 0.7"/>
<line x1="704.6" y1="333" x2="704.6" y2="530" stroke="#c2c2c2" stroke-width="0.85" stroke-dasharray="1.3 0.7"/>
<line x1="709.3" y1="333" x2="709.3" y2="530" stroke="#c2c2c2" stroke-width="0.85" stroke-dasharray="1.3 0.7"/>
<line x1="713.5" y1="333" x2="713.5" y2="530" stroke="#c2c2c2" stroke-width="0.85" stroke-dasharray="1.3 0.7"/>
<line x1="717.8" y1="333" x2="717.8" y2="530" stroke="#c2c2c2" stroke-width="0.85" stroke-dasharray="1.3 0.7"/>
<line x1="722.1" y1="333" x2="722.1" y2="530" stroke="#c2c2c2" stroke-width="0.85" stroke-dasharray="1.3 0.7"/>
<line x1="725.5" y1="333" x2="725.5" y2="530" stroke="#c2c2c2" stroke-width="0.85" stroke-dasharray="1.3 0.7"/>
<line x1="730.2" y1="333" x2="730.2" y2="530" stroke="#c2c2c2" stroke-width="0.85" stroke-dasharray="1.3 0.7"/>
<line x1="734.4" y1="333" x2="734.4" y2="530" stroke="#c2c2c2" stroke-width="0.85" stroke-dasharray="1.3 0.7"/>
<line x1="738.2" y1="333" x2="738.2" y2="530" stroke="#c2c2c2" stroke-width="0.85" stroke-dasharray="1.3 0.7"/>
<line x1="742.5" y1="333" x2="742.5" y2="530" stroke="#c2c2c2" stroke-width="0.85" stroke-dasharray="1.3 0.7"/>
<line x1="746.2" y1="333" x2="746.2" y2="530" stroke="#c2c2c2" stroke-width="0.85" stroke-dasharray="1.3 0.7"/>
<line x1="750.6" y1="333" x2="750.6" y2="530" stroke="#c2c2c2" stroke-width="0.85" stroke-dasharray="1.3 0.7"/>
<line x1="754.8" y1="333" x2="754.8" y2="530" stroke="#c2c2c2" stroke-width="0.85" stroke-dasharray="1.3 0.7"/>
<line x1="758.5" y1="333" x2="758.5" y2="530" stroke="#c2c2c2" stroke-width="0.85" stroke-dasharray="1.3 0.7"/>
<line x1="762.9" y1="333" x2="762.9" y2="530" stroke="#c2c2c2" stroke-width="0.85" stroke-dasharray="1.3 0.7"/>
<line x1="766.6" y1="333" x2="766.6" y2="530" stroke="#c2c2c2" stroke-width="0.85" stroke-dasharray="1.3 0.7"/>
<line x1="770.9" y1="333" x2="770.9" y2="530" stroke="#c2c2c2" stroke-width="0.85" stroke-dasharray="1.3 0.7"/>
<line x1="774.7" y1="333" x2="774.7" y2="530" stroke="#c2c2c2" stroke-width="0.85" stroke-dasharray="1.3 0.7"/>
<line x1="778.9" y1="333" x2="778.9" y2="530" stroke="#c2c2c2" stroke-width="0.85" stroke-dasharray="1.3 0.7"/>
<line x1="783.2" y1="333" x2="783.2" y2="530" stroke="#c2c2c2" stroke-width="0.85" stroke-dasharray="1.3 0.7"/>
<line x1="787.4" y1="333" x2="787.4" y2="530" stroke="#c2c2c2" stroke-width="0.85" stroke-dasharray="1.3 0.7"/>
<line x1="791.7" y1="333" x2="791.7" y2="530" stroke="#c2c2c2" stroke-width="0.85" stroke-dasharray="1.3 0.7"/>
<line x1="795.9" y1="333" x2="795.9" y2="530" stroke="#c2c2c2" stroke-width="0.85" stroke-dasharray="1.3 0.7"/>
<line x1="799.8" y1="333" x2="799.8" y2="530" stroke="#c2c2c2" stroke-width="0.85" stroke-dasharray="1.3 0.7"/>
<line x1="804.0" y1="333" x2="804.0" y2="530" stroke="#c2c2c2" stroke-width="0.85" stroke-dasharray="1.3 0.7"/>
<line x1="808.3" y1="333" x2="808.3" y2="530" stroke="#c2c2c2" stroke-width="0.85" stroke-dasharray="1.3 0.7"/>
<line x1="812.5" y1="333" x2="812.5" y2="530" stroke="#c2c2c2" stroke-width="0.85" stroke-dasharray="1.3 0.7"/>
<line x1="816.3" y1="333" x2="816.3" y2="530" stroke="#c2c2c2" stroke-width="0.85" stroke-dasharray="1.3 0.7"/>
<line x1="820.3" y1="333" x2="820.3" y2="530" stroke="#c2c2c2" stroke-width="0.85" stroke-dasharray="1.3 0.7"/>
<line x1="824.5" y1="333" x2="824.5" y2="530" stroke="#c2c2c2" stroke-width="0.85" stroke-dasharray="1.3 0.7"/>
<line x1="828.8" y1="333" x2="828.8" y2="530" stroke="#c2c2c2" stroke-width="0.85" stroke-dasharray="1.3 0.7"/>
<line x1="833.3" y1="333" x2="833.3" y2="530" stroke="#c2c2c2" stroke-width="0.85" stroke-dasharray="1.3 0.7"/>
<line x1="837.5" y1="333" x2="837.5" y2="530" stroke="#c2c2c2" stroke-width="0.85" stroke-dasharray="1.3 0.7"/>
<line x1="841.4" y1="333" x2="841.4" y2="530" stroke="#c2c2c2" stroke-width="0.85" stroke-dasharray="1.3 0.7"/>
<line x1="845.5" y1="333" x2="845.5" y2="530" stroke="#c2c2c2" stroke-width="0.85" stroke-dasharray="1.3 0.7"/>
<line x1="849.8" y1="333" x2="849.8" y2="530" stroke="#c2c2c2" stroke-width="0.85" stroke-dasharray="1.3 0.7"/>
<line x1="854.2" y1="333" x2="854.2" y2="530" stroke="#c2c2c2" stroke-width="0.85" stroke-dasharray="1.3 0.7"/>
<line x1="858.7" y1="333" x2="858.7" y2="530" stroke="#c2c2c2" stroke-width="0.85" stroke-dasharray="1.3 0.7"/>
<line x1="862.8" y1="333" x2="862.8" y2="530" stroke="#c2c2c2" stroke-width="0.85" stroke-dasharray="1.3 0.7"/>
<line x1="867.4" y1="333" x2="867.4" y2="530" stroke="#c2c2c2" stroke-width="0.85" stroke-dasharray="1.3 0.7"/>
<line x1="872.1" y1="333" x2="872.1" y2="530" stroke="#c2c2c2" stroke-width="0.85" stroke-dasharray="1.3 0.7"/>
<line x1="876.3" y1="333" x2="876.3" y2="530" stroke="#c2c2c2" stroke-width="0.85" stroke-dasharray="1.3 0.7"/>
<line x1="880.8" y1="333" x2="880.8" y2="530" stroke="#c2c2c2" stroke-width="0.85" stroke-dasharray="1.3 0.7"/>
<line x1="884.3" y1="333" x2="884.3" y2="530" stroke="#c2c2c2" stroke-width="0.85" stroke-dasharray="1.3 0.7"/>
<line x1="888.5" y1="333" x2="888.5" y2="530" stroke="#c2c2c2" stroke-width="0.85" stroke-dasharray="1.3 0.7"/>
<line x1="893.0" y1="333" x2="893.0" y2="530" stroke="#c2c2c2" stroke-width="0.85" stroke-dasharray="1.3 0.7"/>
<line x1="897.3" y1="333" x2="897.3" y2="530" stroke="#c2c2c2" stroke-width="0.85" stroke-dasharray="1.3 0.7"/>
<line x1="901.5" y1="333" x2="901.5" y2="530" stroke="#c2c2c2" stroke-width="0.85" stroke-dasharray="1.3 0.7"/>
<line x1="905.6" y1="333" x2="905.6" y2="530" stroke="#c2c2c2" stroke-width="0.85" stroke-dasharray="1.3 0.7"/>
<line x1="909.3" y1="333" x2="909.3" y2="530" stroke="#c2c2c2" stroke-width="0.85" stroke-dasharray="1.3 0.7"/>
<line x1="913.5" y1="333" x2="913.5" y2="530" stroke="#c2c2c2" stroke-width="0.85" stroke-dasharray="1.3 0.7"/>
<line x1="917.7" y1="333" x2="917.7" y2="530" stroke="#c2c2c2" stroke-width="0.85" stroke-dasharray="1.3 0.7"/>
<line x1="921.8" y1="333" x2="921.8" y2="530" stroke="#c2c2c2" stroke-width="0.85" stroke-dasharray="1.3 0.7"/>
<line x1="925.9" y1="333" x2="925.9" y2="530" stroke="#c2c2c2" stroke-width="0.85" stroke-dasharray="1.3 0.7"/>
<line x1="930.1" y1="333" x2="930.1" y2="530" stroke="#c2c2c2" stroke-width="0.85" stroke-dasharray="1.3 0.7"/>
<line x1="934.5" y1="333" x2="934.5" y2="530" stroke="#c2c2c2" stroke-width="0.85" stroke-dasharray="1.3 0.7"/>
<line x1="938.5" y1="333" x2="938.5" y2="530" stroke="#c2c2c2" stroke-width="0.85" stroke-dasharray="1.3 0.7"/>
<line x1="943.1" y1="333" x2="943.1" y2="530" stroke="#c2c2c2" stroke-width="0.85" stroke-dasharray="1.3 0.7"/>
<line x1="947.0" y1="333" x2="947.0" y2="530" stroke="#c2c2c2" stroke-width="0.85" stroke-dasharray="1.3 0.7"/>
<line x1="951.2" y1="333" x2="951.2" y2="530" stroke="#c2c2c2" stroke-width="0.85" stroke-dasharray="1.3 0.7"/>
<line x1="955.6" y1="333" x2="955.6" y2="530" stroke="#c2c2c2" stroke-width="0.85" stroke-dasharray="1.3 0.7"/>
<line x1="959.8" y1="333" x2="959.8" y2="530" stroke="#c2c2c2" stroke-width="0.85" stroke-dasharray="1.3 0.7"/>
<line x1="964.0" y1="333" x2="964.0" y2="530" stroke="#c2c2c2" stroke-width="0.85" stroke-dasharray="1.3 0.7"/>
<line x1="967.9" y1="333" x2="967.9" y2="530" stroke="#c2c2c2" stroke-width="0.85" stroke-dasharray="1.3 0.7"/>
<line x1="972.3" y1="333" x2="972.3" y2="530" stroke="#c2c2c2" stroke-width="0.85" stroke-dasharray="1.3 0.7"/>
<line x1="975.9" y1="333" x2="975.9" y2="530" stroke="#c2c2c2" stroke-width="0.85" stroke-dasharray="1.3 0.7"/>
<line x1="980.1" y1="333" x2="980.1" y2="530" stroke="#c2c2c2" stroke-width="0.85" stroke-dasharray="1.3 0.7"/>
<line x1="984.1" y1="333" x2="984.1" y2="530" stroke="#c2c2c2" stroke-width="0.85" stroke-dasharray="1.3 0.7"/>
<line x1="988.0" y1="333" x2="988.0" y2="530" stroke="#c2c2c2" stroke-width="0.85" stroke-dasharray="1.3 0.7"/>
<line x1="991.9" y1="333" x2="991.9" y2="530" stroke="#c2c2c2" stroke-width="0.85" stroke-dasharray="1.3 0.7"/>
<line x1="996.4" y1="333" x2="996.4" y2="530" stroke="#c2c2c2" stroke-width="0.85" stroke-dasharray="1.3 0.7"/>
<line x1="1000.1" y1="333" x2="1000.1" y2="530" stroke="#c2c2c2" stroke-width="0.85" stroke-dasharray="1.3 0.7"/>
<line x1="1004.3" y1="333" x2="1004.3" y2="530" stroke="#c2c2c2" stroke-width="0.85" stroke-dasharray="1.3 0.7"/>
<g clip-path="url(#boxe)">
<polygon points="64.4,447.4 68.3,441.6 72.5,446.3 76.8,445.3 81.3,444.5 85.9,448.0 90.2,443.0 94.5,437.5 98.7,439.3 102.8,444.1 107.3,437.7 111.5,431.9 115.6,433.5 119.9,430.7 124.1,423.2 128.6,422.4 132.9,418.5 137.1,413.3 141.4,412.3 145.9,426.3 150.3,430.0 154.6,427.1 158.7,426.5 162.9,427.4 167.4,424.7 171.7,428.4 175.9,440.6 180.2,440.0 184.6,440.0 189.3,447.0 193.4,450.7 197.6,449.2 201.9,449.7 206.4,454.6 210.8,448.2 215.2,438.5 219.3,435.4 223.6,433.6 227.8,428.6 232.3,429.2 236.6,436.4 240.6,433.3 244.9,431.3 249.2,437.7 253.4,441.4 257.3,435.4 261.6,432.3 265.9,430.9 269.7,423.6 274.0,419.3 277.9,423.6 282.0,423.6 286.2,420.8 290.5,425.7 294.6,432.5 298.6,433.6 302.9,436.0 307.0,442.2 311.0,441.0 315.3,440.2 319.6,443.2 323.8,446.3 327.9,441.4 332.0,442.0 335.7,449.0 339.9,438.7 343.8,421.2 347.7,410.8 352.0,403.8 355.5,390.4 360.3,383.2 365.2,394.9 369.8,405.1 374.7,418.3 379.2,438.5 383.8,448.2 387.9,452.3 392.2,461.6 396.4,467.2 400.7,463.9 404.8,460.6 409.2,464.3 413.5,457.9 417.9,454.6 422.4,457.3 426.7,448.6 431.1,439.1 435.6,435.8 439.9,431.3 444.1,425.3 448.4,429.0 452.7,433.1 457.1,429.0 461.6,430.0 465.7,435.4 470.1,431.3 474.4,426.9 478.8,431.3 482.9,430.7 487.2,424.1 491.8,423.4 496.3,430.5 500.4,433.3 504.6,438.5 509.3,444.9 513.4,442.0 517.4,433.5 521.7,430.7 525.8,424.0 530.1,409.0 533.6,400.7 537.8,398.9 542.1,393.5 546.4,391.0 550.6,400.7 554.9,407.3 559.2,410.0 563.1,414.8 567.3,416.4 571.4,409.0 575.3,402.6 579.7,405.1 584.0,400.3 588.1,397.0 592.3,403.4 596.6,410.0 600.9,412.3 604.9,419.7 608.8,427.4 613.1,421.2 617.4,414.8 621.4,415.4 625.3,416.4 630.3,408.9 635.0,402.0 639.3,401.0 643.5,391.8 647.8,384.2 652.1,386.5 656.3,383.9 660.2,382.1 664.4,390.0 668.6,392.3 672.9,393.8 677.2,402.0 681.0,417.5 685.2,425.4 689.0,422.6 692.3,404.0 695.6,377.5 699.9,360.0 704.6,361.5 709.3,379.6 713.5,394.9 717.8,413.4 722.1,435.6 725.5,454.7 730.2,461.3 734.4,457.7 738.2,460.8 742.5,457.7 746.2,454.4 750.6,450.4 754.8,454.9 758.5,446.5 762.9,436.4 766.6,429.5 770.9,422.3 774.7,413.2 778.9,410.9 783.2,415.7 787.4,411.4 791.7,409.6 795.9,414.9 799.8,414.4 804.0,409.9 808.3,408.6 812.5,403.5 816.3,395.6 820.3,393.1 824.5,399.7 828.8,399.3 833.3,397.4 837.5,400.3 841.4,399.7 845.5,394.5 849.8,394.5 854.2,397.4 858.7,394.5 862.8,398.0 867.4,407.3 872.1,406.7 876.3,407.5 880.8,412.5 884.3,408.0 888.5,402.8 893.0,405.5 897.3,401.3 901.5,400.3 905.6,407.5 909.3,410.2 913.5,400.8 917.7,397.9 921.8,401.6 925.9,394.5 930.1,389.1 934.5,392.8 938.5,400.0 943.1,402.8 947.0,409.5 951.2,424.0 955.6,424.3 959.8,426.2 964.0,431.0 967.9,431.6 972.3,425.5 975.9,419.7 980.1,417.5 984.1,408.6 988.0,398.7 991.9,395.2 996.4,403.7 1000.1,408.0 1004.3,402.2 1004.3,434.8 1000.1,435.2 996.4,430.7 991.9,425.3 988.0,426.9 984.1,434.4 980.1,444.1 975.9,447.9 972.3,453.0 967.9,458.4 964.0,458.0 959.8,456.2 955.6,455.3 951.2,452.7 947.0,443.5 943.1,438.0 938.5,432.2 934.5,425.7 930.1,423.6 925.9,425.3 921.8,429.0 917.7,430.0 913.5,433.4 909.3,438.0 905.6,437.3 901.5,434.2 897.3,434.4 893.0,434.8 888.5,432.4 884.3,439.0 880.8,443.2 876.3,441.8 872.1,441.8 867.4,439.3 862.8,431.4 858.7,429.6 854.2,429.7 849.8,426.4 845.5,425.2 841.4,426.5 837.5,428.8 833.3,431.5 828.8,433.9 824.5,431.5 820.3,427.4 816.3,429.6 812.5,434.4 808.3,438.6 804.0,440.6 799.8,445.4 795.9,446.9 791.7,444.4 787.4,445.7 783.2,445.7 778.9,441.6 774.7,443.1 770.9,450.4 766.6,456.9 762.9,465.0 758.5,475.5 754.8,481.4 750.6,480.3 746.2,482.8 742.5,485.4 738.2,487.0 734.4,486.8 730.2,488.7 725.5,479.3 722.1,464.7 717.8,445.6 713.5,427.8 709.3,415.8 704.6,404.7 699.9,402.2 695.6,410.0 692.3,427.0 689.0,445.9 685.2,450.9 681.0,445.6 677.2,435.9 672.9,429.0 668.6,423.1 664.4,419.5 660.2,415.7 656.3,416.9 652.1,418.1 647.8,418.8 643.5,426.2 639.3,432.6 635.0,436.0 630.3,441.6 625.3,446.1 621.4,447.5 617.4,447.3 613.1,452.2 608.8,457.4 604.9,452.2 600.9,447.1 596.6,442.6 592.3,436.1 588.1,432.4 584.0,433.0 579.7,432.6 575.3,431.0 571.4,436.1 567.3,443.6 563.1,445.5 559.2,442.9 554.9,437.9 550.6,429.9 546.4,423.0 542.1,423.8 537.8,425.4 533.6,430.1 530.1,439.4 525.8,449.0 521.7,456.4 517.4,463.8 513.4,469.0 509.3,472.5 504.6,470.9 500.4,465.3 496.3,460.3 491.8,456.3 487.2,457.2 482.9,460.8 478.8,461.8 474.4,461.2 470.1,465.5 465.7,467.5 461.6,463.6 457.1,463.3 452.7,463.8 448.4,459.9 444.1,458.9 439.9,463.9 435.6,468.5 431.1,471.9 426.7,478.7 422.4,485.6 417.9,488.2 413.5,489.0 409.2,490.2 404.8,491.2 400.7,495.0 396.4,496.1 392.2,491.5 387.9,486.2 383.8,481.5 379.2,472.9 374.7,458.4 369.8,443.8 365.2,432.2 360.3,421.5 355.5,422.0 352.0,428.8 347.7,436.0 343.8,448.1 339.9,465.6 335.7,475.3 332.0,473.1 327.9,473.4 323.8,472.9 319.6,471.5 315.3,472.1 311.0,472.3 307.0,470.4 302.9,466.6 298.6,464.2 294.6,460.7 290.5,454.9 286.2,450.7 282.0,451.9 277.9,452.0 274.0,449.1 269.7,451.4 265.9,457.8 261.6,461.1 257.3,465.0 253.4,470.0 249.2,468.4 244.9,464.1 240.6,464.7 236.6,464.7 232.3,460.4 227.8,461.7 223.6,464.8 219.3,467.4 215.2,472.0 210.8,479.7 206.4,484.2 201.9,482.0 197.6,481.4 193.4,479.3 189.3,475.1 184.6,472.4 180.2,474.0 175.9,471.5 171.7,460.5 167.4,457.2 162.9,457.8 158.7,456.7 154.6,459.0 150.3,459.8 145.9,456.0 141.4,446.0 137.1,444.9 132.9,446.3 128.6,449.4 124.1,454.2 119.9,458.7 115.6,460.1 111.5,461.4 107.3,467.0 102.8,471.0 98.7,468.4 94.5,469.1 90.2,472.9 85.9,476.6 81.3,477.6 76.8,477.4 72.5,476.8 68.3,473.3 64.4,477.9" fill="#6a6a6a" opacity="0.62"/>
<polyline points="60.80,470.00 60.96,472.45 61.25,480.85 61.59,490.65 61.82,500.10 61.90,505.00 62.33,484.32 62.55,464.23 62.88,454.19 63.28,450.05 63.93,447.69 64.40,445.92 64.72,449.27 65.28,460.77 65.94,474.18 66.38,487.12 66.53,493.82 66.83,475.02 66.99,456.76 67.21,447.62 67.49,443.86 67.95,441.71 68.28,440.10 68.66,444.13 69.31,457.96 70.09,474.09 70.62,489.64 70.80,497.70 71.10,479.17 71.25,461.17 71.48,452.17 71.76,448.46 72.21,446.34 72.55,444.76 72.92,448.53 73.58,461.47 74.36,476.57 74.89,491.12 75.07,498.67 75.36,479.46 75.52,460.80 75.75,451.47 76.03,447.63 76.48,445.43 76.81,443.79 77.19,447.83 77.85,461.70 78.63,477.89 79.16,493.49 79.33,501.58 79.66,481.08 79.84,461.17 80.09,451.21 80.40,447.11 80.91,444.77 81.27,443.01 81.65,446.97 82.31,460.57 83.09,476.42 83.62,491.71 83.80,499.64 84.16,481.04 84.35,462.98 84.63,453.94 84.97,450.22 85.52,448.10 85.93,446.50 86.25,449.81 86.80,461.17 87.46,474.42 87.91,487.20 88.06,493.82 88.42,475.50 88.62,457.69 88.89,448.79 89.24,445.12 89.79,443.03 90.20,441.46 90.54,445.12 91.15,457.69 91.87,472.35 92.36,486.49 92.52,493.82 92.85,473.60 93.03,453.94 93.28,444.12 93.59,440.07 94.09,437.76 94.46,436.03 94.81,439.67 95.42,452.14 96.14,466.70 96.63,480.73 96.79,488.01 97.12,470.42 97.29,453.35 97.55,444.81 97.86,441.29 98.36,439.28 98.73,437.77 99.08,441.43 99.68,453.95 100.40,468.56 100.89,482.64 101.06,489.95 101.35,473.38 101.51,457.29 101.74,449.25 102.02,445.93 102.47,444.04 102.80,442.62 103.21,445.93 103.92,457.29 104.76,470.54 105.33,483.32 105.52,489.95 105.81,471.14 105.97,452.88 106.20,443.74 106.48,439.98 106.93,437.83 107.26,436.22 107.61,439.58 108.22,451.07 108.94,464.49 109.43,477.42 109.59,484.13 109.92,465.32 110.09,447.06 110.35,437.92 110.66,434.16 111.16,432.02 111.53,430.40 111.91,433.82 112.56,445.55 113.35,459.24 113.87,472.44 114.05,479.28 114.31,462.72 114.45,446.63 114.66,438.58 114.90,435.27 115.31,433.37 115.60,431.96 116.01,435.20 116.72,446.32 117.56,459.30 118.13,471.82 118.32,478.31 118.58,461.13 118.72,444.45 118.92,436.11 119.17,432.67 119.57,430.71 119.87,429.24 120.28,432.67 120.98,444.45 121.82,458.19 122.39,471.44 122.58,478.31 122.85,458.49 122.99,439.23 123.19,429.60 123.44,425.64 123.84,423.37 124.14,421.68 124.54,425.16 125.25,437.13 126.09,451.08 126.66,464.54 126.85,471.52 127.15,453.80 127.31,436.59 127.53,427.99 127.81,424.44 128.27,422.42 128.60,420.90 128.98,423.90 129.63,434.19 130.41,446.19 130.94,457.76 131.12,463.76 131.42,447.40 131.57,431.51 131.80,423.56 132.08,420.29 132.53,418.42 132.86,417.02 133.24,420.63 133.90,433.01 134.68,447.46 135.21,461.39 135.39,468.61 135.68,448.72 135.84,429.40 136.07,419.74 136.35,415.76 136.80,413.49 137.13,411.78 137.51,415.49 138.16,428.20 138.95,443.02 139.48,457.32 139.65,464.73 139.95,445.86 140.11,427.53 140.33,418.36 140.61,414.59 141.07,412.43 141.40,410.81 141.78,415.40 142.43,431.14 143.21,449.49 143.74,467.19 143.92,476.37 144.25,458.31 144.42,440.77 144.68,432.00 144.99,428.39 145.49,426.33 145.86,424.78 146.21,428.46 146.81,441.07 147.53,455.79 148.02,469.98 148.19,477.34 148.55,460.23 148.74,443.62 149.02,435.31 149.36,431.89 149.91,429.93 150.32,428.46 150.64,432.36 151.19,445.72 151.86,461.31 152.30,476.33 152.45,484.13 152.82,463.63 153.01,443.71 153.29,433.75 153.63,429.65 154.18,427.31 154.59,425.55 154.91,429.25 155.46,441.91 156.12,456.68 156.57,470.92 156.72,478.31 157.05,459.64 157.22,441.51 157.48,432.44 157.79,428.71 158.29,426.57 158.66,424.97 159.01,428.64 159.61,441.21 160.34,455.87 160.82,470.01 160.99,477.34 161.32,459.35 161.49,441.88 161.74,433.14 162.05,429.54 162.56,427.48 162.93,425.94 163.28,429.81 163.88,443.08 164.60,458.56 165.09,473.48 165.25,481.22 165.62,460.92 165.81,441.20 166.09,431.35 166.43,427.29 166.98,424.97 167.39,423.23 167.77,427.08 168.42,440.30 169.20,455.73 169.73,470.60 169.91,478.31 170.21,460.32 170.36,442.85 170.59,434.11 170.87,430.51 171.32,428.45 171.65,426.91 172.06,431.32 172.77,446.45 173.61,464.10 174.18,481.12 174.37,489.95 174.63,472.16 174.77,454.88 174.97,446.25 175.22,442.69 175.63,440.66 175.92,439.13 176.33,443.30 177.03,457.59 177.88,474.26 178.45,490.34 178.64,498.67 178.90,477.63 179.04,457.19 179.24,446.97 179.49,442.76 179.89,440.35 180.19,438.55 180.60,442.55 181.30,456.29 182.14,472.31 182.71,487.75 182.90,495.76 183.20,475.74 183.36,456.29 183.58,446.56 183.86,442.55 184.32,440.27 184.65,438.55 185.03,442.42 185.68,455.68 186.46,471.16 186.99,486.09 187.17,493.82 187.53,476.92 187.72,460.50 188.00,452.29 188.34,448.91 188.90,446.98 189.30,445.53 189.62,449.05 190.18,461.10 190.84,475.17 191.29,488.73 191.44,495.76 191.77,479.47 191.94,463.65 192.19,455.73 192.50,452.47 193.01,450.61 193.38,449.22 193.73,453.02 194.33,466.05 195.05,481.26 195.54,495.92 195.70,503.52 196.03,483.97 196.21,464.98 196.46,455.48 196.77,451.57 197.27,449.34 197.64,447.66 197.99,451.64 198.60,465.28 199.32,481.19 199.81,496.54 199.97,504.49 200.30,484.81 200.47,465.68 200.73,456.12 201.04,452.18 201.54,449.93 201.91,448.25 202.29,452.18 202.94,465.68 203.73,481.43 204.25,496.62 204.43,504.49 204.76,486.50 204.94,469.03 205.19,460.29 205.50,456.69 206.00,454.64 206.37,453.10 206.75,456.76 207.40,469.33 208.19,483.99 208.72,498.13 208.89,505.46 209.22,484.89 209.40,464.91 209.65,454.92 209.96,450.81 210.46,448.46 210.83,446.70 211.14,450.27 211.68,462.51 212.33,476.79 212.76,490.56 212.91,497.70 213.30,476.46 213.51,455.82 213.82,445.50 214.19,441.25 214.79,438.82 215.24,437.00 215.56,440.91 216.11,454.31 216.77,469.95 217.22,485.03 217.37,492.85 217.70,472.22 217.87,452.17 218.13,442.15 218.44,438.02 218.94,435.66 219.31,433.89 219.66,437.55 220.26,450.07 220.99,464.68 221.47,478.76 221.64,486.07 221.97,467.20 222.14,448.86 222.39,439.70 222.70,435.92 223.21,433.77 223.58,432.15 223.93,435.99 224.53,449.16 225.25,464.53 225.74,479.35 225.90,487.04 226.23,466.06 226.41,445.68 226.66,435.50 226.97,431.30 227.47,428.90 227.84,427.11 228.19,430.96 228.80,444.18 229.52,459.60 230.01,474.48 230.17,482.19 230.53,463.11 230.73,444.58 231.00,435.32 231.34,431.50 231.90,429.32 232.30,427.69 232.62,431.50 233.18,444.58 233.84,459.84 234.29,474.56 234.44,482.19 234.80,465.62 234.99,449.53 235.27,441.49 235.61,438.18 236.17,436.28 236.57,434.86 236.89,438.52 237.45,451.04 238.11,465.65 238.56,479.73 238.70,487.04 239.03,467.69 239.21,448.90 239.46,439.50 239.77,435.63 240.28,433.42 240.64,431.76 240.99,435.56 241.60,448.60 242.32,463.80 242.81,478.46 242.97,486.07 243.30,466.38 243.48,447.26 243.73,437.70 244.04,433.76 244.54,431.51 244.91,429.82 245.26,433.89 245.87,447.86 246.59,464.15 247.08,479.86 247.24,488.01 247.57,469.88 247.74,452.28 247.99,443.47 248.30,439.85 248.81,437.78 249.18,436.22 249.53,440.12 250.13,453.48 250.85,469.06 251.34,484.09 251.51,491.89 251.83,473.69 252.01,456.02 252.26,447.18 252.57,443.55 253.08,441.47 253.44,439.91 253.79,443.27 254.40,454.82 255.12,468.29 255.61,481.27 255.77,488.01 256.04,469.07 256.18,450.67 256.38,441.47 256.63,437.68 257.03,435.52 257.32,433.89 257.70,437.28 258.36,448.87 259.14,462.39 259.67,475.43 259.84,482.19 260.14,464.20 260.30,446.72 260.53,437.99 260.80,434.39 261.26,432.33 261.59,430.79 261.94,434.25 262.54,446.12 263.27,459.97 263.75,473.32 263.92,480.25 264.25,462.46 264.42,445.19 264.67,436.55 264.98,432.99 265.49,430.96 265.86,429.43 266.21,432.45 266.81,442.78 267.53,454.84 268.02,466.46 268.18,472.49 268.45,454.84 268.59,437.70 268.79,429.12 269.04,425.59 269.44,423.58 269.74,422.06 270.09,425.32 270.69,436.49 271.41,449.53 271.90,462.09 272.06,468.61 272.39,450.83 272.57,433.55 272.82,424.91 273.13,421.35 273.63,419.32 274.00,417.80 274.35,421.56 274.96,434.45 275.68,449.49 276.17,464.00 276.33,471.52 276.59,454.21 276.73,437.40 276.94,428.99 277.18,425.53 277.59,423.55 277.88,422.06 278.26,425.59 278.92,437.70 279.70,451.82 280.23,465.43 280.40,472.49 280.67,454.84 280.81,437.70 281.01,429.12 281.26,425.59 281.66,423.58 281.96,422.06 282.36,425.46 283.07,437.09 283.91,450.67 284.48,463.76 284.67,470.55 284.93,452.63 285.07,435.22 285.28,426.52 285.52,422.93 285.93,420.88 286.22,419.35 286.60,423.14 287.26,436.12 288.04,451.27 288.57,465.88 288.74,473.46 289.04,456.22 289.20,439.47 289.42,431.09 289.70,427.65 290.16,425.67 290.49,424.20 290.87,427.98 291.52,440.97 292.30,456.12 292.83,470.73 293.01,478.31 293.27,461.75 293.41,445.66 293.62,437.61 293.86,434.30 294.27,432.40 294.56,430.99 294.94,434.71 295.60,447.46 296.38,462.34 296.91,476.69 297.08,484.13 297.35,465.93 297.49,448.26 297.69,439.43 297.94,435.79 298.34,433.71 298.63,432.15 299.01,436.06 299.67,449.46 300.45,465.10 300.98,480.19 301.16,488.01 301.45,469.27 301.61,451.07 301.84,441.97 302.12,438.22 302.57,436.08 302.90,434.48 303.28,438.22 303.94,451.07 304.72,466.06 305.25,480.51 305.42,488.01 305.69,471.44 305.83,455.35 306.03,447.31 306.28,444.00 306.68,442.10 306.97,440.68 307.35,444.40 308.01,457.16 308.79,472.04 309.32,486.38 309.50,493.82 309.76,474.82 309.90,456.35 310.10,447.12 310.35,443.32 310.75,441.15 311.05,439.52 311.43,443.39 312.08,456.65 312.86,472.13 313.39,487.06 313.57,494.79 313.87,475.18 314.02,456.12 314.25,446.59 314.53,442.67 314.98,440.42 315.31,438.74 315.69,442.60 316.35,455.82 317.13,471.24 317.66,486.11 317.84,493.82 318.13,475.56 318.29,457.83 318.52,448.96 318.80,445.30 319.25,443.22 319.58,441.65 319.93,444.90 320.54,456.02 321.26,469.00 321.75,481.52 321.91,488.01 322.24,472.87 322.41,458.16 322.66,450.81 322.98,447.78 323.48,446.05 323.85,444.76 324.17,448.33 324.72,460.57 325.38,474.85 325.83,488.62 325.98,495.76 326.31,476.21 326.49,457.22 326.74,447.73 327.05,443.82 327.55,441.58 327.92,439.91 328.27,443.82 328.88,457.22 329.60,472.86 330.09,487.94 330.25,495.76 330.54,476.42 330.70,457.62 330.93,448.23 331.21,444.36 331.66,442.15 331.99,440.49 332.31,444.22 332.87,457.02 333.53,471.96 333.98,486.36 334.13,493.82 334.39,477.60 334.53,461.84 334.73,453.96 334.98,450.72 335.38,448.86 335.68,447.47 336.03,450.72 336.63,461.84 337.35,474.82 337.84,487.34 338.01,493.82 338.34,474.00 338.51,454.75 338.76,445.12 339.07,441.16 339.58,438.89 339.95,437.19 340.27,439.80 340.82,448.74 341.48,459.16 341.93,469.22 342.08,474.43 342.38,455.29 342.53,436.69 342.76,427.39 343.04,423.56 343.49,421.38 343.82,419.74 344.17,422.34 344.78,431.28 345.50,441.71 345.99,451.76 346.15,456.97 346.42,440.28 346.56,424.05 346.76,415.94 347.01,412.60 347.41,410.69 347.70,409.26 348.05,412.06 348.66,421.65 349.38,432.84 349.87,443.62 350.03,449.22 350.36,432.79 350.54,416.83 350.79,408.85 351.10,405.57 351.60,403.69 351.97,402.28 352.29,405.16 352.85,415.03 353.51,426.54 353.95,437.64 354.10,443.40 354.33,424.32 354.46,405.79 354.63,396.53 354.85,392.71 355.20,390.53 355.46,388.90 355.90,392.85 356.65,406.39 357.56,422.20 358.17,437.44 358.37,445.34 358.70,423.07 358.88,401.44 359.13,390.63 359.44,386.18 359.94,383.63 360.31,381.72 360.66,386.58 361.26,403.25 361.99,422.69 362.47,441.44 362.64,451.16 363.07,430.93 363.29,411.28 363.62,401.45 364.02,397.40 364.68,395.09 365.16,393.36 365.42,398.22 365.87,414.88 366.42,434.33 366.78,453.07 366.90,462.79 367.41,442.09 367.67,421.98 368.05,411.92 368.52,407.78 369.29,405.41 369.85,403.64 370.29,408.87 371.04,426.79 371.94,447.69 372.55,467.85 372.76,478.31 373.09,456.79 373.26,435.89 373.51,425.43 373.82,421.13 374.33,418.67 374.70,416.83 374.99,422.22 375.49,440.70 376.09,462.26 376.50,483.04 376.64,493.82 377.07,473.94 377.29,454.61 377.62,444.95 378.02,440.98 378.68,438.70 379.16,437.00 379.51,441.38 380.11,456.42 380.83,473.96 381.32,490.87 381.49,499.64 381.88,481.11 382.09,463.11 382.39,454.11 382.77,450.40 383.37,448.28 383.81,446.70 384.13,451.08 384.69,466.12 385.35,483.66 385.80,500.57 385.95,509.34 386.28,488.84 386.45,468.93 386.70,458.97 387.01,454.87 387.52,452.53 387.89,450.77 388.24,454.94 388.84,469.23 389.56,485.90 390.05,501.97 390.21,510.31 390.54,492.73 390.72,475.65 390.97,467.11 391.28,463.59 391.78,461.58 392.15,460.08 392.50,463.93 393.11,477.15 393.83,492.58 394.32,507.45 394.48,515.16 394.81,497.85 394.98,481.03 395.24,472.63 395.55,469.16 396.05,467.19 396.42,465.70 396.80,469.37 397.45,481.94 398.24,496.60 398.76,510.74 398.94,518.07 399.24,498.59 399.39,479.66 399.62,470.20 399.90,466.30 400.35,464.07 400.69,462.40 401.01,466.10 401.56,478.76 402.22,493.53 402.67,507.77 402.82,515.16 403.15,495.54 403.32,476.48 403.58,466.96 403.89,463.03 404.39,460.79 404.76,459.11 405.14,462.62 405.79,474.68 406.57,488.75 407.10,502.31 407.28,509.34 407.61,493.05 407.79,477.22 408.04,469.31 408.35,466.05 408.85,464.19 409.22,462.79 409.57,465.92 410.17,476.62 410.90,489.11 411.38,501.16 411.55,507.40 411.88,489.55 412.05,472.21 412.30,463.53 412.61,459.96 413.12,457.92 413.49,456.39 413.87,460.51 414.52,474.61 415.30,491.06 415.83,506.93 416.01,515.16 416.34,493.44 416.51,472.34 416.76,461.78 417.08,457.44 417.58,454.96 417.95,453.10 418.30,456.90 418.90,469.93 419.62,485.14 420.11,499.80 420.28,507.40 420.64,489.34 420.83,471.80 421.11,463.03 421.45,459.42 422.00,457.36 422.41,455.81 422.73,459.15 423.28,470.60 423.94,483.96 424.39,496.84 424.54,503.52 424.90,483.77 425.10,464.58 425.37,454.98 425.72,451.03 426.27,448.78 426.68,447.08 427.02,450.49 427.63,462.17 428.35,475.80 428.84,488.95 429.00,495.76 429.37,475.40 429.56,455.62 429.84,445.73 430.18,441.65 430.73,439.33 431.14,437.58 431.46,441.52 432.01,455.02 432.67,470.76 433.12,485.95 433.27,493.82 433.67,472.98 433.88,452.74 434.18,442.62 434.55,438.45 435.16,436.07 435.60,434.28 435.92,438.11 436.47,451.24 437.13,466.55 437.58,481.32 437.73,488.98 438.09,468.27 438.29,448.16 438.56,438.10 438.90,433.96 439.46,431.60 439.86,429.82 440.21,433.62 440.82,446.66 441.54,461.86 442.03,476.52 442.19,484.13 442.52,463.02 442.70,442.51 442.95,432.25 443.26,428.03 443.76,425.62 444.13,423.81 444.48,427.76 445.09,441.31 445.81,457.11 446.30,472.35 446.46,480.25 446.79,461.78 446.96,443.85 447.21,434.88 447.53,431.19 448.03,429.08 448.40,427.49 448.75,431.39 449.35,444.75 450.07,460.34 450.56,475.36 450.73,483.16 451.06,465.10 451.23,447.56 451.48,438.79 451.79,435.18 452.30,433.11 452.66,431.57 453.04,435.52 453.70,449.06 454.48,464.87 455.01,480.10 455.19,488.01 455.52,466.83 455.69,446.25 455.94,435.97 456.25,431.73 456.76,429.31 457.13,427.49 457.47,431.59 458.08,445.65 458.80,462.05 459.29,477.87 459.45,486.07 459.82,465.91 460.01,446.32 460.29,436.53 460.63,432.50 461.18,430.19 461.59,428.46 461.88,432.63 462.38,446.92 462.98,463.59 463.39,479.67 463.53,488.01 463.89,469.07 464.08,450.67 464.36,441.47 464.70,437.68 465.25,435.52 465.66,433.89 465.98,437.95 466.53,451.87 467.20,468.11 467.64,483.77 467.79,491.89 468.19,470.16 468.40,449.06 468.70,438.51 469.07,434.17 469.68,431.68 470.12,429.82 470.44,433.83 470.99,447.56 471.66,463.58 472.10,479.03 472.25,487.04 472.62,465.45 472.81,444.48 473.09,434.00 473.43,429.68 473.98,427.21 474.39,425.36 474.71,429.41 475.26,443.28 475.92,459.46 476.37,475.07 476.52,483.16 476.92,464.49 477.13,446.36 477.43,437.29 477.80,433.56 478.41,431.42 478.85,429.82 479.14,433.56 479.64,446.36 480.24,461.29 480.65,475.69 480.79,483.16 481.15,464.29 481.34,445.95 481.62,436.79 481.96,433.01 482.52,430.86 482.92,429.24 483.27,432.81 483.88,445.05 484.60,459.33 485.09,473.11 485.25,480.25 485.58,460.09 485.75,440.50 486.00,430.71 486.31,426.68 486.82,424.37 487.19,422.65 487.57,426.68 488.22,440.50 489.00,456.63 489.53,472.18 489.71,480.25 490.07,459.82 490.26,439.97 490.54,430.04 490.88,425.96 491.44,423.62 491.84,421.87 492.19,425.82 492.80,439.37 493.52,455.17 494.01,470.41 494.17,478.31 494.53,461.07 494.72,444.32 495.00,435.94 495.34,432.49 495.90,430.52 496.30,429.05 496.62,432.90 497.18,446.12 497.84,461.54 498.29,476.42 498.44,484.13 498.77,465.80 498.94,447.99 499.19,439.09 499.50,435.43 500.01,433.33 500.38,431.76 500.73,435.97 501.33,450.40 502.05,467.23 502.54,483.47 502.70,491.89 503.03,472.67 503.21,454.01 503.46,444.68 503.77,440.84 504.27,438.64 504.64,437.00 505.02,441.11 505.68,455.22 506.46,471.67 506.99,487.54 507.16,495.76 507.53,477.44 507.72,459.63 508.00,450.73 508.34,447.06 508.89,444.97 509.30,443.40 509.62,446.52 510.17,457.23 510.83,469.72 511.28,481.76 511.43,488.01 511.76,471.38 511.94,455.22 512.19,447.14 512.50,443.81 513.00,441.91 513.37,440.49 513.72,443.81 514.33,455.22 515.05,468.52 515.54,481.35 515.70,488.01 515.99,468.39 516.15,449.33 516.38,439.80 516.66,435.88 517.11,433.64 517.44,431.96 517.85,435.34 518.56,446.93 519.40,460.45 519.97,473.49 520.16,480.25 520.42,462.40 520.56,445.05 520.76,436.38 521.01,432.81 521.42,430.77 521.71,429.24 522.04,431.86 522.60,440.84 523.27,451.32 523.73,461.43 523.88,466.67 524.21,451.19 524.38,436.16 524.64,428.64 524.95,425.55 525.45,423.78 525.82,422.45 526.17,425.55 526.77,436.16 527.49,448.54 527.98,460.48 528.15,466.67 528.48,445.97 528.65,425.86 528.90,415.80 529.21,411.66 529.72,409.29 530.09,407.52 530.41,410.78 530.96,421.95 531.62,434.98 532.07,447.55 532.22,454.07 532.45,434.85 532.57,416.19 532.75,406.86 532.97,403.02 533.32,400.82 533.58,399.18 534.01,402.27 534.77,412.89 535.67,425.27 536.28,437.21 536.49,443.40 536.72,427.31 536.84,411.68 537.02,403.87 537.23,400.65 537.59,398.81 537.84,397.43 538.25,400.79 538.96,412.28 539.80,425.70 540.37,438.63 540.56,445.34 540.82,426.67 540.96,408.54 541.16,399.47 541.41,395.74 541.82,393.60 542.11,392.00 542.52,395.67 543.22,408.24 544.07,422.90 544.64,437.04 544.83,444.37 545.09,425.16 545.23,406.50 545.43,397.16 545.68,393.32 546.08,391.13 546.38,389.48 546.78,393.53 547.49,407.40 548.33,423.58 548.90,439.19 549.09,447.28 549.36,430.44 549.50,414.09 549.70,405.91 549.95,402.54 550.35,400.62 550.64,399.18 551.05,403.16 551.76,416.79 552.60,432.71 553.17,448.05 553.36,456.00 553.62,438.42 553.76,421.34 553.96,412.80 554.21,409.29 554.62,407.28 554.91,405.77 555.29,409.90 555.94,424.05 556.73,440.56 557.26,456.48 557.43,464.73 557.73,445.05 557.89,425.92 558.11,416.36 558.39,412.42 558.85,410.17 559.18,408.49 559.56,412.63 560.21,426.83 560.99,443.39 561.52,459.36 561.70,467.64 561.93,448.63 562.05,430.17 562.23,420.94 562.45,417.14 562.80,414.97 563.06,413.34 563.49,417.00 564.25,429.57 565.15,444.23 565.76,458.37 565.97,465.70 566.20,447.92 566.32,430.64 566.50,422.00 566.71,418.44 567.07,416.41 567.32,414.89 567.73,417.83 568.44,427.93 569.28,439.72 569.85,451.08 570.04,456.97 570.27,439.66 570.39,422.85 570.57,414.44 570.79,410.98 571.14,409.00 571.40,407.52 571.83,410.57 572.59,421.05 573.49,433.26 574.10,445.05 574.31,451.16 574.47,433.64 574.56,416.63 574.68,408.12 574.84,404.62 575.09,402.62 575.28,401.12 575.71,404.55 576.47,416.33 577.37,430.07 577.98,443.32 578.18,450.19 578.45,433.89 578.59,418.07 578.79,410.16 579.04,406.90 579.44,405.03 579.74,403.64 580.14,407.24 580.85,419.57 581.69,433.96 582.26,447.84 582.45,455.03 582.72,435.35 582.85,416.23 583.06,406.66 583.30,402.73 583.71,400.48 584.00,398.79 584.38,402.86 585.04,416.83 585.82,433.12 586.35,448.83 586.52,456.97 586.79,435.46 586.93,414.55 587.13,404.10 587.38,399.80 587.78,397.34 588.08,395.49 588.48,399.80 589.19,414.55 590.03,431.77 590.60,448.37 590.79,456.97 591.06,437.70 591.19,418.97 591.40,409.60 591.64,405.75 592.05,403.55 592.34,401.89 592.72,406.09 593.38,420.47 594.16,437.25 594.69,453.43 594.86,461.82 595.16,443.16 595.32,425.02 595.54,415.95 595.82,412.22 596.28,410.09 596.61,408.49 596.99,412.83 597.64,427.73 598.43,445.10 598.95,461.86 599.13,470.55 599.43,449.64 599.58,429.33 599.81,419.18 600.09,415.00 600.54,412.61 600.88,410.81 601.25,415.13 601.91,429.93 602.69,447.20 603.22,463.86 603.40,472.49 603.66,453.48 603.80,435.02 604.00,425.79 604.25,421.99 604.65,419.81 604.95,418.18 605.30,422.39 605.90,436.82 606.63,453.66 607.11,469.89 607.28,478.31 607.54,459.98 607.68,442.18 607.88,433.27 608.13,429.61 608.53,427.51 608.83,425.94 609.18,429.61 609.78,442.18 610.50,456.84 610.99,470.98 611.16,478.31 611.49,457.81 611.66,437.89 611.91,427.94 612.22,423.84 612.73,421.49 613.10,419.74 613.44,423.16 614.05,434.89 614.77,448.57 615.26,461.77 615.42,468.61 615.75,449.26 615.93,430.47 616.18,421.07 616.49,417.21 616.99,414.99 617.36,413.34 617.71,417.41 618.32,431.37 619.04,447.66 619.53,463.37 619.69,471.52 619.99,451.36 620.14,431.77 620.37,421.98 620.65,417.95 621.10,415.65 621.44,413.92 621.78,417.68 622.39,430.57 623.11,445.61 623.60,460.12 623.76,467.64 624.03,449.18 624.17,431.24 624.37,422.27 624.62,418.58 625.02,416.47 625.31,414.89 625.69,418.48 626.34,430.78 627.12,445.13 627.64,458.97 627.82,466.14 628.24,445.58 628.47,425.61 628.79,415.62 629.19,411.51 629.84,409.16 630.32,407.40 630.74,411.29 631.47,424.61 632.34,440.15 632.92,455.13 633.12,462.90 633.45,441.06 633.62,419.84 633.87,409.24 634.18,404.87 634.68,402.37 635.04,400.50 635.39,404.36 636.01,417.61 636.74,433.07 637.23,447.97 637.40,455.70 637.73,436.03 637.90,416.92 638.15,407.37 638.46,403.43 638.96,401.19 639.32,399.50 639.68,403.27 640.30,416.21 641.05,431.30 641.55,445.85 641.72,453.40 642.02,431.32 642.18,409.86 642.41,399.13 642.70,394.72 643.16,392.19 643.50,390.30 643.87,394.16 644.50,407.41 645.26,422.87 645.77,437.77 645.94,445.50 646.25,423.52 646.42,402.17 646.66,391.49 646.95,387.10 647.43,384.58 647.78,382.70 648.14,386.67 648.76,400.28 649.49,416.15 649.99,431.46 650.16,439.40 650.48,420.36 650.65,401.86 650.90,392.62 651.21,388.81 651.70,386.63 652.06,385.00 652.42,388.93 653.04,402.42 653.77,418.16 654.27,433.33 654.44,441.20 654.75,420.62 654.92,400.63 655.16,390.63 655.45,386.52 655.93,384.16 656.28,382.40 656.64,386.31 657.26,399.70 658.01,415.32 658.51,430.39 658.68,438.20 658.93,418.04 659.06,398.46 659.26,388.66 659.49,384.63 659.88,382.33 660.16,380.60 660.57,384.81 661.28,399.23 662.13,416.06 662.71,432.29 662.90,440.70 663.15,422.43 663.28,404.68 663.48,395.81 663.71,392.15 664.10,390.07 664.38,388.50 664.73,392.05 665.34,404.22 666.06,418.41 666.56,432.10 666.72,439.20 667.04,422.26 667.21,405.80 667.45,397.58 667.75,394.19 668.24,392.25 668.60,390.80 668.96,395.04 669.58,409.59 670.33,426.55 670.83,442.92 671.00,451.40 671.33,430.72 671.50,410.62 671.76,400.57 672.07,396.44 672.57,394.07 672.94,392.30 673.29,396.76 673.90,412.05 674.62,429.88 675.12,447.08 675.28,456.00 675.60,436.57 675.77,417.70 676.01,408.27 676.31,404.38 676.80,402.16 677.16,400.50 677.50,404.92 678.09,420.06 678.80,437.73 679.28,454.77 679.44,463.60 679.70,446.94 679.84,430.76 680.03,422.66 680.28,419.33 680.67,417.43 680.96,416.00 681.31,419.63 681.90,432.09 682.62,446.62 683.10,460.63 683.26,467.90 683.60,452.50 683.77,437.54 684.03,430.06 684.35,426.98 684.86,425.22 685.24,423.90 685.52,427.13 686.01,438.19 686.59,451.10 686.99,463.55 687.12,470.00 687.43,452.88 687.60,436.26 687.84,427.95 688.13,424.52 688.61,422.57 688.96,421.10 689.17,423.58 689.54,432.07 689.98,441.99 690.28,451.54 690.38,456.50 690.71,437.60 690.88,419.24 691.14,410.06 691.45,406.28 691.95,404.12 692.32,402.50 692.52,404.71 692.88,412.30 693.30,421.14 693.58,429.68 693.68,434.10 694.01,413.76 694.18,394.01 694.44,384.13 694.75,380.07 695.25,377.74 695.62,376.00 695.97,379.85 696.56,393.05 697.28,408.45 697.76,423.30 697.92,431.00 698.25,405.62 698.42,380.97 698.68,368.65 698.99,363.57 699.49,360.67 699.86,358.50 700.29,363.63 701.02,381.22 701.90,401.75 702.50,421.54 702.70,431.80 703.02,406.67 703.19,382.26 703.43,370.05 703.73,365.03 704.22,362.15 704.58,360.00 705.01,365.51 705.75,384.40 706.64,406.43 707.24,427.68 707.44,438.70 707.76,417.49 707.93,396.89 708.17,386.58 708.47,382.34 708.96,379.92 709.32,378.10 709.68,382.70 710.30,398.47 711.05,416.86 711.55,434.60 711.72,443.80 712.03,426.16 712.19,409.02 712.43,400.46 712.72,396.93 713.19,394.91 713.54,393.40 713.91,398.08 714.55,414.14 715.31,432.87 715.83,450.93 716.00,460.30 716.31,443.36 716.47,426.90 716.71,418.68 717.00,415.29 717.47,413.35 717.82,411.90 718.19,416.57 718.82,432.58 719.58,451.25 720.09,469.26 720.26,478.60 720.57,463.02 720.74,447.89 720.98,440.33 721.27,437.21 721.75,435.43 722.10,434.10 722.46,438.25 723.08,452.48 723.83,469.09 724.33,485.10 724.50,493.40 724.67,479.33 724.76,465.66 724.89,458.83 725.05,456.01 725.31,454.41 725.50,453.20 725.98,456.99 726.81,470.00 727.80,485.18 728.48,499.81 728.70,507.40 728.95,490.74 729.08,474.56 729.28,466.46 729.51,463.13 729.90,461.23 730.18,459.80 730.53,463.22 731.14,474.96 731.86,488.65 732.36,501.85 732.52,508.70 732.84,490.32 733.01,472.48 733.25,463.55 733.55,459.88 734.04,457.77 734.40,456.20 734.75,459.64 735.37,471.45 736.10,485.23 736.59,498.51 736.76,505.40 737.00,489.27 737.13,473.59 737.31,465.75 737.54,462.53 737.91,460.68 738.18,459.30 738.54,462.53 739.16,473.59 739.89,486.50 740.39,498.95 740.56,505.40 740.88,488.18 741.05,471.45 741.30,463.09 741.61,459.64 742.10,457.68 742.46,456.20 742.80,459.57 743.39,471.14 744.10,484.64 744.58,497.65 744.74,504.40 744.99,486.38 745.12,468.87 745.32,460.11 745.55,456.51 745.94,454.45 746.22,452.90 746.57,456.22 747.18,467.59 747.90,480.87 748.40,493.66 748.56,500.30 748.90,482.31 749.08,464.83 749.34,456.10 749.66,452.50 750.18,450.44 750.56,448.90 750.91,452.64 751.52,465.45 752.24,480.41 752.74,494.82 752.90,502.30 753.23,485.19 753.40,468.56 753.65,460.25 753.96,456.82 754.46,454.87 754.82,453.40 755.11,456.50 755.60,467.13 756.19,479.54 756.59,491.50 756.72,497.70 757.03,479.25 757.19,461.34 757.43,452.38 757.72,448.69 758.19,446.58 758.54,445.00 758.90,448.39 759.52,460.00 760.27,473.56 760.77,486.62 760.94,493.40 761.27,472.93 761.44,453.04 761.70,443.09 762.01,439.00 762.51,436.66 762.88,434.90 763.16,437.84 763.65,447.92 764.23,459.68 764.63,471.02 764.76,476.90 765.08,459.79 765.25,443.16 765.49,434.85 765.79,431.42 766.28,429.47 766.64,428.00 766.99,431.30 767.58,442.60 768.30,455.79 768.78,468.51 768.94,475.10 769.27,456.09 769.44,437.63 769.69,428.40 770.00,424.60 770.50,422.43 770.86,420.80 771.16,423.89 771.68,434.47 772.30,446.82 772.72,458.73 772.86,464.90 773.17,446.28 773.33,428.19 773.56,419.15 773.85,415.42 774.32,413.30 774.66,411.70 775.02,415.28 775.64,427.54 776.39,441.85 776.89,455.65 777.06,462.80 777.37,444.11 777.54,425.95 777.78,416.88 778.07,413.14 778.55,411.00 778.90,409.40 779.26,413.19 779.88,426.20 780.61,441.38 781.11,456.01 781.28,463.60 781.60,446.31 781.77,429.51 782.01,421.12 782.31,417.66 782.80,415.68 783.16,414.20 783.51,418.14 784.13,431.65 784.86,447.42 785.35,462.62 785.52,470.50 785.85,449.29 786.02,428.69 786.27,418.38 786.58,414.14 787.08,411.72 787.44,409.90 787.79,414.00 788.40,428.04 789.12,444.42 789.62,460.21 789.78,468.40 790.10,447.30 790.27,426.79 790.52,416.54 790.83,412.32 791.32,409.91 791.68,408.10 792.04,412.34 792.66,426.89 793.39,443.85 793.89,460.22 794.06,468.70 794.37,449.35 794.54,430.54 794.78,421.14 795.07,417.27 795.55,415.06 795.90,413.40 796.26,417.36 796.88,430.92 797.61,446.74 798.11,461.99 798.28,469.90 798.53,449.95 798.66,430.57 798.86,420.88 799.09,416.89 799.48,414.61 799.76,412.90 800.11,416.39 800.72,428.37 801.44,442.34 801.94,455.81 802.10,462.80 802.43,443.76 802.60,425.26 802.86,416.02 803.17,412.21 803.67,410.03 804.04,408.40 804.39,412.08 805.00,424.71 805.72,439.43 806.22,453.64 806.38,461.00 806.70,442.13 806.87,423.81 807.11,414.65 807.41,410.87 807.90,408.72 808.26,407.10 808.61,410.64 809.22,422.79 809.94,436.95 810.44,450.62 810.60,457.70 810.92,438.20 811.09,419.27 811.34,409.80 811.64,405.90 812.14,403.67 812.50,402.00 812.86,405.63 813.48,418.09 814.21,432.62 814.71,446.63 814.88,453.90 815.11,432.97 815.24,412.64 815.42,402.47 815.64,398.29 816.00,395.89 816.26,394.10 816.56,397.86 817.08,410.76 817.71,425.82 818.13,440.33 818.27,447.86 818.61,428.17 818.79,409.05 819.05,399.49 819.37,395.55 819.90,393.30 820.28,391.61 820.63,395.71 821.23,409.77 821.96,426.17 822.44,441.99 822.61,450.19 822.94,431.99 823.11,414.32 823.36,405.48 823.67,401.85 824.18,399.77 824.55,398.21 824.90,402.39 825.50,416.73 826.22,433.45 826.71,449.58 826.87,457.94 827.20,436.90 827.38,416.46 827.63,406.24 827.94,402.03 828.44,399.62 828.81,397.82 829.13,402.03 829.69,416.46 830.35,433.29 830.80,449.53 830.95,457.94 831.34,436.22 831.55,415.12 831.85,404.57 832.23,400.22 832.83,397.74 833.27,395.88 833.56,399.89 834.07,413.62 834.67,429.64 835.08,445.09 835.21,453.10 835.61,434.09 835.82,415.62 836.12,406.39 836.49,402.59 837.10,400.42 837.54,398.79 837.83,402.05 838.34,413.22 838.94,426.25 839.34,438.82 839.48,445.34 839.81,428.84 839.98,412.82 840.24,404.81 840.55,401.51 841.05,399.62 841.42,398.21 841.71,401.51 842.21,412.82 842.82,426.01 843.22,438.74 843.36,445.34 843.72,427.01 843.91,409.20 844.19,400.30 844.53,396.64 845.09,394.54 845.49,392.97 845.84,396.84 846.45,410.11 847.17,425.58 847.66,440.51 847.82,448.25 848.15,428.90 848.32,410.11 848.58,400.71 848.89,396.84 849.39,394.63 849.76,392.97 850.14,396.91 850.79,410.41 851.57,426.16 852.10,441.34 852.28,449.22 852.61,430.55 852.79,412.41 853.04,403.35 853.35,399.61 853.85,397.48 854.22,395.88 854.57,400.09 855.17,414.52 855.90,431.35 856.38,447.59 856.55,456.00 856.91,433.94 857.10,412.51 857.38,401.80 857.72,397.38 858.28,394.86 858.68,392.97 859.00,397.11 859.56,411.31 860.22,427.87 860.67,443.84 860.81,452.13 861.14,432.64 861.32,413.72 861.57,404.26 861.88,400.36 862.39,398.13 862.75,396.46 863.13,400.77 863.79,415.52 864.57,432.74 865.10,449.34 865.28,457.94 865.64,439.68 865.83,421.95 866.11,413.08 866.45,409.42 867.00,407.34 867.41,405.77 867.76,409.97 868.36,424.35 869.08,441.13 869.57,457.31 869.74,465.70 870.13,444.52 870.34,423.95 870.64,413.66 871.02,409.43 871.62,407.01 872.06,405.19 872.35,409.49 872.86,424.25 873.46,441.46 873.87,458.06 874.00,466.67 874.40,445.42 874.61,424.78 874.91,414.46 875.28,410.22 875.89,407.79 876.33,405.97 876.62,410.08 877.13,424.18 877.73,440.64 878.13,456.51 878.27,464.73 878.70,445.93 878.93,427.66 879.25,418.53 879.66,414.77 880.31,412.62 880.79,411.01 881.08,414.77 881.59,427.66 882.19,442.71 882.60,457.21 882.73,464.73 882.99,444.37 883.13,424.58 883.34,414.69 883.58,410.62 883.99,408.29 884.28,406.55 884.72,409.81 885.48,420.98 886.38,434.01 886.99,446.58 887.19,453.10 887.42,434.97 887.54,417.36 887.72,408.56 887.94,404.94 888.29,402.86 888.55,401.31 888.93,404.94 889.58,417.36 890.36,431.86 890.89,445.85 891.07,453.10 891.40,435.92 891.57,419.24 891.83,410.90 892.14,407.46 892.64,405.50 893.01,404.03 893.36,407.80 893.96,420.74 894.69,435.84 895.17,450.40 895.34,457.94 895.67,437.58 895.84,417.80 896.09,407.91 896.40,403.83 896.91,401.51 897.28,399.76 897.63,403.76 898.23,417.50 898.95,433.52 899.44,448.96 899.60,456.97 899.93,436.61 900.11,416.83 900.36,406.94 900.67,402.86 901.18,400.54 901.54,398.79 901.89,403.00 902.50,417.43 903.22,434.26 903.71,450.50 903.87,458.91 904.17,440.38 904.33,422.38 904.55,413.38 904.83,409.67 905.29,407.55 905.62,405.97 905.91,409.57 906.41,421.93 907.02,436.34 907.43,450.25 907.56,457.45 907.86,440.40 908.02,423.83 908.24,415.55 908.52,412.14 908.98,410.19 909.31,408.73 909.66,412.14 910.26,423.83 910.98,437.48 911.47,450.63 911.64,457.45 911.96,437.09 912.13,417.31 912.37,407.42 912.68,403.35 913.17,401.02 913.53,399.27 913.85,403.14 914.42,416.41 915.10,431.88 915.56,446.81 915.71,454.55 916.06,434.18 916.24,414.40 916.50,404.51 916.83,400.44 917.36,398.11 917.75,396.36 918.07,400.13 918.64,413.05 919.32,428.12 919.77,442.65 919.93,450.18 920.25,432.67 920.42,415.66 920.66,407.15 920.97,403.65 921.46,401.65 921.82,400.15 922.15,403.34 922.71,414.30 923.39,427.09 923.85,439.42 924.00,445.82 924.32,427.34 924.49,409.39 924.74,400.41 925.04,396.71 925.53,394.60 925.89,393.02 926.22,396.87 926.79,410.06 927.46,425.46 927.92,440.30 928.07,448.00 928.42,426.87 928.60,406.35 928.87,396.09 929.19,391.86 929.72,389.45 930.11,387.64 930.44,391.81 931.00,406.12 931.68,422.82 932.14,438.92 932.29,447.27 932.66,427.67 932.86,408.63 933.14,399.11 933.49,395.19 934.06,392.95 934.47,391.27 934.80,395.40 935.37,409.53 936.04,426.03 936.50,441.93 936.65,450.18 936.98,432.11 937.15,414.55 937.39,405.77 937.69,402.16 938.19,400.09 938.55,398.55 938.92,402.87 939.56,417.71 940.33,435.02 940.85,451.71 941.02,460.36 941.36,439.69 941.55,419.62 941.81,409.58 942.14,405.44 942.67,403.08 943.05,401.31 943.38,405.75 943.95,420.97 944.63,438.73 945.08,455.85 945.24,464.73 945.53,444.87 945.69,425.59 945.92,415.94 946.20,411.97 946.65,409.70 946.98,408.00 947.35,412.38 948.00,427.39 948.76,444.90 949.28,461.79 949.45,470.55 949.75,453.75 949.91,437.43 950.14,429.27 950.41,425.91 950.87,423.99 951.20,422.55 951.59,426.31 952.27,439.23 953.09,454.30 953.63,468.83 953.82,476.36 954.11,457.63 954.27,439.43 954.50,430.33 954.78,426.58 955.23,424.44 955.56,422.84 955.91,426.69 956.52,439.88 957.24,455.28 957.73,470.12 957.89,477.82 958.21,459.24 958.38,441.19 958.63,432.16 958.93,428.44 959.42,426.32 959.78,424.73 960.13,428.34 960.74,440.73 961.46,455.19 961.95,469.13 962.11,476.36 962.43,459.97 962.60,444.05 962.85,436.08 963.15,432.81 963.64,430.93 964.00,429.53 964.33,432.91 964.89,444.50 965.57,458.02 966.03,471.06 966.18,477.82 966.48,461.12 966.64,444.90 966.86,436.79 967.14,433.45 967.60,431.54 967.93,430.11 968.30,433.35 968.94,444.45 969.71,457.40 970.23,469.89 970.40,476.36 970.72,458.04 970.89,440.23 971.14,431.33 971.44,427.67 971.93,425.57 972.29,424.00 972.62,427.05 973.19,437.53 973.86,449.75 974.32,461.53 974.47,467.64 974.72,450.33 974.85,433.51 975.04,425.11 975.27,421.64 975.65,419.67 975.93,418.18 976.32,421.64 977.00,433.51 977.81,447.36 978.36,460.71 978.55,467.64 978.82,449.56 978.96,432.01 979.17,423.23 979.43,419.61 979.84,417.55 980.15,416.00 980.49,418.80 981.10,428.40 981.82,439.60 982.31,450.40 982.47,456.00 982.74,438.89 982.89,422.28 983.10,413.97 983.35,410.55 983.77,408.59 984.07,407.13 984.44,409.94 985.09,419.57 985.85,430.81 986.37,441.65 986.55,447.27 986.79,429.76 986.92,412.75 987.11,404.24 987.35,400.74 987.72,398.74 988.00,397.24 988.37,400.64 989.01,412.30 989.78,425.90 990.30,439.02 990.47,445.82 990.72,427.59 990.85,409.89 991.04,401.04 991.27,397.39 991.65,395.31 991.93,393.75 992.34,397.49 993.06,410.34 993.92,425.33 994.50,439.78 994.69,447.27 994.99,431.49 995.14,416.16 995.37,408.49 995.65,405.34 996.10,403.53 996.44,402.18 996.81,405.75 997.45,417.96 998.22,432.22 998.74,445.96 998.91,453.09 999.11,436.80 999.21,420.97 999.36,413.06 999.55,409.80 999.85,407.94 1000.07,406.55 1000.49,410.11 1001.21,422.33 1002.06,436.58 1002.64,450.33 1002.84,457.45 1003.08,437.60 1003.21,418.31 1003.40,408.67 1003.64,404.70 1004.01,402.43 1004.29,400.73 1004.62,404.88 1005.20,419.10 1005.88,435.70 1006.35,451.70 1006.50,460.00" fill="none" stroke="#000" stroke-width="1.1" stroke-linejoin="round"/>
</g>
<circle cx="64.4" cy="445.9" r="2.3" fill="#f00"/>
<circle cx="68.3" cy="440.1" r="2.3" fill="#f00"/>
<circle cx="72.5" cy="444.8" r="2.3" fill="#f00"/>
<circle cx="76.8" cy="443.8" r="2.3" fill="#f00"/>
<circle cx="81.3" cy="443.0" r="2.3" fill="#f00"/>
<circle cx="85.9" cy="446.5" r="2.3" fill="#f00"/>
<circle cx="90.2" cy="441.5" r="2.3" fill="#f00"/>
<circle cx="94.5" cy="436.0" r="2.3" fill="#f00"/>
<circle cx="98.7" cy="437.8" r="2.3" fill="#f00"/>
<circle cx="102.8" cy="442.6" r="2.3" fill="#f00"/>
<circle cx="107.3" cy="436.2" r="2.3" fill="#f00"/>
<circle cx="111.5" cy="430.4" r="2.3" fill="#f00"/>
<circle cx="115.6" cy="432.0" r="2.3" fill="#f00"/>
<circle cx="119.9" cy="429.2" r="2.3" fill="#f00"/>
<circle cx="124.1" cy="421.7" r="2.3" fill="#f00"/>
<circle cx="128.6" cy="420.9" r="2.3" fill="#f00"/>
<circle cx="132.9" cy="417.0" r="2.3" fill="#f00"/>
<circle cx="137.1" cy="411.8" r="2.3" fill="#f00"/>
<circle cx="141.4" cy="410.8" r="2.3" fill="#f00"/>
<circle cx="145.9" cy="424.8" r="2.3" fill="#f00"/>
<circle cx="150.3" cy="428.5" r="2.3" fill="#f00"/>
<circle cx="154.6" cy="425.6" r="2.3" fill="#f00"/>
<circle cx="158.7" cy="425.0" r="2.3" fill="#f00"/>
<circle cx="162.9" cy="425.9" r="2.3" fill="#f00"/>
<circle cx="167.4" cy="423.2" r="2.3" fill="#f00"/>
<circle cx="171.7" cy="426.9" r="2.3" fill="#f00"/>
<circle cx="175.9" cy="439.1" r="2.3" fill="#f00"/>
<circle cx="180.2" cy="438.5" r="2.3" fill="#f00"/>
<circle cx="184.6" cy="438.5" r="2.3" fill="#f00"/>
<circle cx="189.3" cy="445.5" r="2.3" fill="#f00"/>
<circle cx="193.4" cy="449.2" r="2.3" fill="#f00"/>
<circle cx="197.6" cy="447.7" r="2.3" fill="#f00"/>
<circle cx="201.9" cy="448.2" r="2.3" fill="#f00"/>
<circle cx="206.4" cy="453.1" r="2.3" fill="#f00"/>
<circle cx="210.8" cy="446.7" r="2.3" fill="#f00"/>
<circle cx="215.2" cy="437.0" r="2.3" fill="#f00"/>
<circle cx="219.3" cy="433.9" r="2.3" fill="#f00"/>
<circle cx="223.6" cy="432.1" r="2.3" fill="#f00"/>
<circle cx="227.8" cy="427.1" r="2.3" fill="#f00"/>
<circle cx="232.3" cy="427.7" r="2.3" fill="#f00"/>
<circle cx="236.6" cy="434.9" r="2.3" fill="#f00"/>
<circle cx="240.6" cy="431.8" r="2.3" fill="#f00"/>
<circle cx="244.9" cy="429.8" r="2.3" fill="#f00"/>
<circle cx="249.2" cy="436.2" r="2.3" fill="#f00"/>
<circle cx="253.4" cy="439.9" r="2.3" fill="#f00"/>
<circle cx="257.3" cy="433.9" r="2.3" fill="#f00"/>
<circle cx="261.6" cy="430.8" r="2.3" fill="#f00"/>
<circle cx="265.9" cy="429.4" r="2.3" fill="#f00"/>
<circle cx="269.7" cy="422.1" r="2.3" fill="#f00"/>
<circle cx="274.0" cy="417.8" r="2.3" fill="#f00"/>
<circle cx="277.9" cy="422.1" r="2.3" fill="#f00"/>
<circle cx="282.0" cy="422.1" r="2.3" fill="#f00"/>
<circle cx="286.2" cy="419.3" r="2.3" fill="#f00"/>
<circle cx="290.5" cy="424.2" r="2.3" fill="#f00"/>
<circle cx="294.6" cy="431.0" r="2.3" fill="#f00"/>
<circle cx="298.6" cy="432.1" r="2.3" fill="#f00"/>
<circle cx="302.9" cy="434.5" r="2.3" fill="#f00"/>
<circle cx="307.0" cy="440.7" r="2.3" fill="#f00"/>
<circle cx="311.0" cy="439.5" r="2.3" fill="#f00"/>
<circle cx="315.3" cy="438.7" r="2.3" fill="#f00"/>
<circle cx="319.6" cy="441.7" r="2.3" fill="#f00"/>
<circle cx="323.8" cy="444.8" r="2.3" fill="#f00"/>
<circle cx="327.9" cy="439.9" r="2.3" fill="#f00"/>
<circle cx="332.0" cy="440.5" r="2.3" fill="#f00"/>
<circle cx="335.7" cy="447.5" r="2.3" fill="#f00"/>
<circle cx="339.9" cy="437.2" r="2.3" fill="#f00"/>
<circle cx="343.8" cy="419.7" r="2.3" fill="#f00"/>
<circle cx="347.7" cy="409.3" r="2.3" fill="#f00"/>
<circle cx="352.0" cy="402.3" r="2.3" fill="#f00"/>
<circle cx="355.5" cy="388.9" r="2.3" fill="#f00"/>
<circle cx="360.3" cy="381.7" r="2.3" fill="#f00"/>
<circle cx="365.2" cy="393.4" r="2.3" fill="#f00"/>
<circle cx="369.8" cy="403.6" r="2.3" fill="#f00"/>
<circle cx="374.7" cy="416.8" r="2.3" fill="#f00"/>
<circle cx="379.2" cy="437.0" r="2.3" fill="#f00"/>
<circle cx="383.8" cy="446.7" r="2.3" fill="#f00"/>
<circle cx="387.9" cy="450.8" r="2.3" fill="#f00"/>
<circle cx="392.2" cy="460.1" r="2.3" fill="#f00"/>
<circle cx="396.4" cy="465.7" r="2.3" fill="#f00"/>
<circle cx="400.7" cy="462.4" r="2.3" fill="#f00"/>
<circle cx="404.8" cy="459.1" r="2.3" fill="#f00"/>
<circle cx="409.2" cy="462.8" r="2.3" fill="#f00"/>
<circle cx="413.5" cy="456.4" r="2.3" fill="#f00"/>
<circle cx="417.9" cy="453.1" r="2.3" fill="#f00"/>
<circle cx="422.4" cy="455.8" r="2.3" fill="#f00"/>
<circle cx="426.7" cy="447.1" r="2.3" fill="#f00"/>
<circle cx="431.1" cy="437.6" r="2.3" fill="#f00"/>
<circle cx="435.6" cy="434.3" r="2.3" fill="#f00"/>
<circle cx="439.9" cy="429.8" r="2.3" fill="#f00"/>
<circle cx="444.1" cy="423.8" r="2.3" fill="#f00"/>
<circle cx="448.4" cy="427.5" r="2.3" fill="#f00"/>
<circle cx="452.7" cy="431.6" r="2.3" fill="#f00"/>
<circle cx="457.1" cy="427.5" r="2.3" fill="#f00"/>
<circle cx="461.6" cy="428.5" r="2.3" fill="#f00"/>
<circle cx="465.7" cy="433.9" r="2.3" fill="#f00"/>
<circle cx="470.1" cy="429.8" r="2.3" fill="#f00"/>
<circle cx="474.4" cy="425.4" r="2.3" fill="#f00"/>
<circle cx="478.8" cy="429.8" r="2.3" fill="#f00"/>
<circle cx="482.9" cy="429.2" r="2.3" fill="#f00"/>
<circle cx="487.2" cy="422.6" r="2.3" fill="#f00"/>
<circle cx="491.8" cy="421.9" r="2.3" fill="#f00"/>
<circle cx="496.3" cy="429.0" r="2.3" fill="#f00"/>
<circle cx="500.4" cy="431.8" r="2.3" fill="#f00"/>
<circle cx="504.6" cy="437.0" r="2.3" fill="#f00"/>
<circle cx="509.3" cy="443.4" r="2.3" fill="#f00"/>
<circle cx="513.4" cy="440.5" r="2.3" fill="#f00"/>
<circle cx="517.4" cy="432.0" r="2.3" fill="#f00"/>
<circle cx="521.7" cy="429.2" r="2.3" fill="#f00"/>
<circle cx="525.8" cy="422.5" r="2.3" fill="#f00"/>
<circle cx="530.1" cy="407.5" r="2.3" fill="#f00"/>
<circle cx="533.6" cy="399.2" r="2.3" fill="#f00"/>
<circle cx="537.8" cy="397.4" r="2.3" fill="#f00"/>
<circle cx="542.1" cy="392.0" r="2.3" fill="#f00"/>
<circle cx="546.4" cy="389.5" r="2.3" fill="#f00"/>
<circle cx="550.6" cy="399.2" r="2.3" fill="#f00"/>
<circle cx="554.9" cy="405.8" r="2.3" fill="#f00"/>
<circle cx="559.2" cy="408.5" r="2.3" fill="#f00"/>
<circle cx="563.1" cy="413.3" r="2.3" fill="#f00"/>
<circle cx="567.3" cy="414.9" r="2.3" fill="#f00"/>
<circle cx="571.4" cy="407.5" r="2.3" fill="#f00"/>
<circle cx="575.3" cy="401.1" r="2.3" fill="#f00"/>
<circle cx="579.7" cy="403.6" r="2.3" fill="#f00"/>
<circle cx="584.0" cy="398.8" r="2.3" fill="#f00"/>
<circle cx="588.1" cy="395.5" r="2.3" fill="#f00"/>
<circle cx="592.3" cy="401.9" r="2.3" fill="#f00"/>
<circle cx="596.6" cy="408.5" r="2.3" fill="#f00"/>
<circle cx="600.9" cy="410.8" r="2.3" fill="#f00"/>
<circle cx="604.9" cy="418.2" r="2.3" fill="#f00"/>
<circle cx="608.8" cy="425.9" r="2.3" fill="#f00"/>
<circle cx="613.1" cy="419.7" r="2.3" fill="#f00"/>
<circle cx="617.4" cy="413.3" r="2.3" fill="#f00"/>
<circle cx="621.4" cy="413.9" r="2.3" fill="#f00"/>
<circle cx="625.3" cy="414.9" r="2.3" fill="#f00"/>
<circle cx="630.3" cy="407.4" r="2.3" fill="#f00"/>
<circle cx="635.0" cy="400.5" r="2.3" fill="#f00"/>
<circle cx="639.3" cy="399.5" r="2.3" fill="#f00"/>
<circle cx="643.5" cy="390.3" r="2.3" fill="#f00"/>
<circle cx="647.8" cy="382.7" r="2.3" fill="#f00"/>
<circle cx="652.1" cy="385.0" r="2.3" fill="#f00"/>
<circle cx="656.3" cy="382.4" r="2.3" fill="#f00"/>
<circle cx="660.2" cy="380.6" r="2.3" fill="#f00"/>
<circle cx="664.4" cy="388.5" r="2.3" fill="#f00"/>
<circle cx="668.6" cy="390.8" r="2.3" fill="#f00"/>
<circle cx="672.9" cy="392.3" r="2.3" fill="#f00"/>
<circle cx="677.2" cy="400.5" r="2.3" fill="#f00"/>
<circle cx="681.0" cy="416.0" r="2.3" fill="#f00"/>
<circle cx="685.2" cy="423.9" r="2.3" fill="#f00"/>
<circle cx="689.0" cy="421.1" r="2.3" fill="#f00"/>
<circle cx="692.3" cy="402.5" r="2.3" fill="#f00"/>
<circle cx="695.6" cy="376.0" r="2.3" fill="#f00"/>
<circle cx="699.9" cy="358.5" r="2.3" fill="#f00"/>
<circle cx="704.6" cy="360.0" r="2.3" fill="#f00"/>
<circle cx="709.3" cy="378.1" r="2.3" fill="#f00"/>
<circle cx="713.5" cy="393.4" r="2.3" fill="#f00"/>
<circle cx="717.8" cy="411.9" r="2.3" fill="#f00"/>
<circle cx="722.1" cy="434.1" r="2.3" fill="#f00"/>
<circle cx="725.5" cy="453.2" r="2.3" fill="#f00"/>
<circle cx="730.2" cy="459.8" r="2.3" fill="#f00"/>
<circle cx="734.4" cy="456.2" r="2.3" fill="#f00"/>
<circle cx="738.2" cy="459.3" r="2.3" fill="#f00"/>
<circle cx="742.5" cy="456.2" r="2.3" fill="#f00"/>
<circle cx="746.2" cy="452.9" r="2.3" fill="#f00"/>
<circle cx="750.6" cy="448.9" r="2.3" fill="#f00"/>
<circle cx="754.8" cy="453.4" r="2.3" fill="#f00"/>
<circle cx="758.5" cy="445.0" r="2.3" fill="#f00"/>
<circle cx="762.9" cy="434.9" r="2.3" fill="#f00"/>
<circle cx="766.6" cy="428.0" r="2.3" fill="#f00"/>
<circle cx="770.9" cy="420.8" r="2.3" fill="#f00"/>
<circle cx="774.7" cy="411.7" r="2.3" fill="#f00"/>
<circle cx="778.9" cy="409.4" r="2.3" fill="#f00"/>
<circle cx="783.2" cy="414.2" r="2.3" fill="#f00"/>
<circle cx="787.4" cy="409.9" r="2.3" fill="#f00"/>
<circle cx="791.7" cy="408.1" r="2.3" fill="#f00"/>
<circle cx="795.9" cy="413.4" r="2.3" fill="#f00"/>
<circle cx="799.8" cy="412.9" r="2.3" fill="#f00"/>
<circle cx="804.0" cy="408.4" r="2.3" fill="#f00"/>
<circle cx="808.3" cy="407.1" r="2.3" fill="#f00"/>
<circle cx="812.5" cy="402.0" r="2.3" fill="#f00"/>
<circle cx="816.3" cy="394.1" r="2.3" fill="#f00"/>
<circle cx="820.3" cy="391.6" r="2.3" fill="#f00"/>
<circle cx="824.5" cy="398.2" r="2.3" fill="#f00"/>
<circle cx="828.8" cy="397.8" r="2.3" fill="#f00"/>
<circle cx="833.3" cy="395.9" r="2.3" fill="#f00"/>
<circle cx="837.5" cy="398.8" r="2.3" fill="#f00"/>
<circle cx="841.4" cy="398.2" r="2.3" fill="#f00"/>
<circle cx="845.5" cy="393.0" r="2.3" fill="#f00"/>
<circle cx="849.8" cy="393.0" r="2.3" fill="#f00"/>
<circle cx="854.2" cy="395.9" r="2.3" fill="#f00"/>
<circle cx="858.7" cy="393.0" r="2.3" fill="#f00"/>
<circle cx="862.8" cy="396.5" r="2.3" fill="#f00"/>
<circle cx="867.4" cy="405.8" r="2.3" fill="#f00"/>
<circle cx="872.1" cy="405.2" r="2.3" fill="#f00"/>
<circle cx="876.3" cy="406.0" r="2.3" fill="#f00"/>
<circle cx="880.8" cy="411.0" r="2.3" fill="#f00"/>
<circle cx="884.3" cy="406.5" r="2.3" fill="#f00"/>
<circle cx="888.5" cy="401.3" r="2.3" fill="#f00"/>
<circle cx="893.0" cy="404.0" r="2.3" fill="#f00"/>
<circle cx="897.3" cy="399.8" r="2.3" fill="#f00"/>
<circle cx="901.5" cy="398.8" r="2.3" fill="#f00"/>
<circle cx="905.6" cy="406.0" r="2.3" fill="#f00"/>
<circle cx="909.3" cy="408.7" r="2.3" fill="#f00"/>
<circle cx="913.5" cy="399.3" r="2.3" fill="#f00"/>
<circle cx="917.7" cy="396.4" r="2.3" fill="#f00"/>
<circle cx="921.8" cy="400.1" r="2.3" fill="#f00"/>
<circle cx="925.9" cy="393.0" r="2.3" fill="#f00"/>
<circle cx="930.1" cy="387.6" r="2.3" fill="#f00"/>
<circle cx="934.5" cy="391.3" r="2.3" fill="#f00"/>
<circle cx="938.5" cy="398.5" r="2.3" fill="#f00"/>
<circle cx="943.1" cy="401.3" r="2.3" fill="#f00"/>
<circle cx="947.0" cy="408.0" r="2.3" fill="#f00"/>
<circle cx="951.2" cy="422.5" r="2.3" fill="#f00"/>
<circle cx="955.6" cy="422.8" r="2.3" fill="#f00"/>
<circle cx="959.8" cy="424.7" r="2.3" fill="#f00"/>
<circle cx="964.0" cy="429.5" r="2.3" fill="#f00"/>
<circle cx="967.9" cy="430.1" r="2.3" fill="#f00"/>
<circle cx="972.3" cy="424.0" r="2.3" fill="#f00"/>
<circle cx="975.9" cy="418.2" r="2.3" fill="#f00"/>
<circle cx="980.1" cy="416.0" r="2.3" fill="#f00"/>
<circle cx="984.1" cy="407.1" r="2.3" fill="#f00"/>
<circle cx="988.0" cy="397.2" r="2.3" fill="#f00"/>
<circle cx="991.9" cy="393.7" r="2.3" fill="#f00"/>
<circle cx="996.4" cy="402.2" r="2.3" fill="#f00"/>
<circle cx="1000.1" cy="406.5" r="2.3" fill="#f00"/>
<circle cx="1004.3" cy="400.7" r="2.3" fill="#f00"/>
<rect x="60.5" y="333" width="946.5" height="197.3" fill="none" stroke="#262626" stroke-width="1.2"/>
<line x1="60.5" y1="333.0" x2="69.5" y2="333.0" stroke="#262626" stroke-width="1.1"/><line x1="1007" y1="333.0" x2="998" y2="333.0" stroke="#262626" stroke-width="1.1"/>
<text x="54.0" y="337.4" font-size="12.3" text-anchor="end" fill="#262626" >4</text>
<line x1="60.5" y1="365.9" x2="69.5" y2="365.9" stroke="#262626" stroke-width="1.1"/><line x1="1007" y1="365.9" x2="998" y2="365.9" stroke="#262626" stroke-width="1.1"/>
<text x="54.0" y="370.3" font-size="12.3" text-anchor="end" fill="#262626" >3</text>
<line x1="60.5" y1="398.7" x2="69.5" y2="398.7" stroke="#262626" stroke-width="1.1"/><line x1="1007" y1="398.7" x2="998" y2="398.7" stroke="#262626" stroke-width="1.1"/>
<text x="54.0" y="403.1" font-size="12.3" text-anchor="end" fill="#262626" >2</text>
<line x1="60.5" y1="431.6" x2="69.5" y2="431.6" stroke="#262626" stroke-width="1.1"/><line x1="1007" y1="431.6" x2="998" y2="431.6" stroke="#262626" stroke-width="1.1"/>
<text x="54.0" y="436.0" font-size="12.3" text-anchor="end" fill="#262626" >1</text>
<line x1="60.5" y1="464.5" x2="69.5" y2="464.5" stroke="#262626" stroke-width="1.1"/><line x1="1007" y1="464.5" x2="998" y2="464.5" stroke="#262626" stroke-width="1.1"/>
<text x="54.0" y="468.9" font-size="12.3" text-anchor="end" fill="#262626" >0</text>
<line x1="60.5" y1="497.4" x2="69.5" y2="497.4" stroke="#262626" stroke-width="1.1"/><line x1="1007" y1="497.4" x2="998" y2="497.4" stroke="#262626" stroke-width="1.1"/>
<text x="54.0" y="501.8" font-size="12.3" text-anchor="end" fill="#262626" >−1</text>
<line x1="60.5" y1="530.3" x2="69.5" y2="530.3" stroke="#262626" stroke-width="1.1"/><line x1="1007" y1="530.3" x2="998" y2="530.3" stroke="#262626" stroke-width="1.1"/>
<text x="54.0" y="534.7" font-size="12.3" text-anchor="end" fill="#262626" >−2</text>
<line x1="155.1" y1="530.3" x2="155.1" y2="521" stroke="#262626" stroke-width="1.1"/><line x1="155.1" y1="333" x2="155.1" y2="342" stroke="#262626" stroke-width="1.1"/>
<line x1="249.8" y1="530.3" x2="249.8" y2="521" stroke="#262626" stroke-width="1.1"/><line x1="249.8" y1="333" x2="249.8" y2="342" stroke="#262626" stroke-width="1.1"/>
<line x1="344.4" y1="530.3" x2="344.4" y2="521" stroke="#262626" stroke-width="1.1"/><line x1="344.4" y1="333" x2="344.4" y2="342" stroke="#262626" stroke-width="1.1"/>
<line x1="439.0" y1="530.3" x2="439.0" y2="521" stroke="#262626" stroke-width="1.1"/><line x1="439.0" y1="333" x2="439.0" y2="342" stroke="#262626" stroke-width="1.1"/>
<line x1="533.6" y1="530.3" x2="533.6" y2="521" stroke="#262626" stroke-width="1.1"/><line x1="533.6" y1="333" x2="533.6" y2="342" stroke="#262626" stroke-width="1.1"/>
<line x1="628.3" y1="530.3" x2="628.3" y2="521" stroke="#262626" stroke-width="1.1"/><line x1="628.3" y1="333" x2="628.3" y2="342" stroke="#262626" stroke-width="1.1"/>
<line x1="722.9" y1="530.3" x2="722.9" y2="521" stroke="#262626" stroke-width="1.1"/><line x1="722.9" y1="333" x2="722.9" y2="342" stroke="#262626" stroke-width="1.1"/>
<line x1="817.5" y1="530.3" x2="817.5" y2="521" stroke="#262626" stroke-width="1.1"/><line x1="817.5" y1="333" x2="817.5" y2="342" stroke="#262626" stroke-width="1.1"/>
<line x1="912.2" y1="530.3" x2="912.2" y2="521" stroke="#262626" stroke-width="1.1"/><line x1="912.2" y1="333" x2="912.2" y2="342" stroke="#262626" stroke-width="1.1"/>
<line x1="1006.8" y1="530.3" x2="1006.8" y2="521" stroke="#262626" stroke-width="1.1"/><line x1="1006.8" y1="333" x2="1006.8" y2="342" stroke="#262626" stroke-width="1.1"/>
<text x="150.8" y="548.6" font-size="12.3" text-anchor="middle" fill="#262626" >20</text>
<text x="340.3" y="548.6" font-size="12.3" text-anchor="middle" fill="#262626" >60</text>
<text x="434.1" y="548.6" font-size="12.3" text-anchor="middle" fill="#262626" >40</text>
<text x="530.4" y="548.6" font-size="12.3" text-anchor="middle" fill="#262626" >100</text>
<text x="624.2" y="548.6" font-size="12.3" text-anchor="middle" fill="#262626" >120</text>
<text x="718.9" y="548.6" font-size="12.3" text-anchor="middle" fill="#262626" >140</text>
<text x="813.8" y="548.6" font-size="12.3" text-anchor="middle" fill="#262626" >160</text>
<text x="908.7" y="548.6" font-size="12.3" text-anchor="middle" fill="#262626" >180</text>
<text x="1002.8" y="548.6" font-size="12.3" text-anchor="middle" fill="#262626" >200</text>
<text x="60.5" y="323.6" font-size="12.3" text-anchor="start" fill="#262626" >x 10<tspan font-size="9" dy="-6">−3</tspan></text>
<text transform="translate(15.5,431.7) rotate(-90)" font-size="12.3" text-anchor="middle" fill="#262626">Δ[O<tspan font-size="8.5" dy="3">2</tspan><tspan dy="-3">Hb] [μM]</tspan></text>
<rect x="627.5" y="348" width="189.3" height="167.5" fill="none" stroke="#f02020" stroke-width="1.3"/>
<line x1="69.8" y1="573.3" x2="69.8" y2="771" stroke="#5a5a5a" stroke-width="1" stroke-dasharray="2.2 2"/>
<line x1="93.4" y1="573.3" x2="93.4" y2="771" stroke="#5a5a5a" stroke-width="1" stroke-dasharray="2.2 2"/>
<line x1="114.8" y1="573.3" x2="114.8" y2="771" stroke="#5a5a5a" stroke-width="1" stroke-dasharray="2.2 2"/>
<line x1="135.7" y1="573.3" x2="135.7" y2="771" stroke="#5a5a5a" stroke-width="1" stroke-dasharray="2.2 2"/>
<line x1="157.1" y1="573.3" x2="157.1" y2="771" stroke="#5a5a5a" stroke-width="1" stroke-dasharray="2.2 2"/>
<line x1="178.5" y1="573.3" x2="178.5" y2="771" stroke="#5a5a5a" stroke-width="1" stroke-dasharray="2.2 2"/>
<line x1="199.6" y1="573.3" x2="199.6" y2="771" stroke="#5a5a5a" stroke-width="1" stroke-dasharray="2.2 2"/>
<line x1="219.0" y1="573.3" x2="219.0" y2="771" stroke="#5a5a5a" stroke-width="1" stroke-dasharray="2.2 2"/>
<line x1="240.1" y1="573.3" x2="240.1" y2="771" stroke="#5a5a5a" stroke-width="1" stroke-dasharray="2.2 2"/>
<line x1="261.2" y1="573.3" x2="261.2" y2="771" stroke="#5a5a5a" stroke-width="1" stroke-dasharray="2.2 2"/>
<line x1="282.9" y1="573.3" x2="282.9" y2="771" stroke="#5a5a5a" stroke-width="1" stroke-dasharray="2.2 2"/>
<line x1="304.0" y1="573.3" x2="304.0" y2="771" stroke="#5a5a5a" stroke-width="1" stroke-dasharray="2.2 2"/>
<line x1="323.0" y1="573.3" x2="323.0" y2="771" stroke="#5a5a5a" stroke-width="1" stroke-dasharray="2.2 2"/>
<line x1="344.4" y1="573.3" x2="344.4" y2="771" stroke="#5a5a5a" stroke-width="1" stroke-dasharray="2.2 2"/>
<line x1="363.0" y1="573.3" x2="363.0" y2="771" stroke="#5a5a5a" stroke-width="1" stroke-dasharray="2.2 2"/>
<line x1="379.8" y1="573.3" x2="379.8" y2="771" stroke="#5a5a5a" stroke-width="1" stroke-dasharray="2.2 2"/>
<line x1="396.3" y1="573.3" x2="396.3" y2="771" stroke="#5a5a5a" stroke-width="1" stroke-dasharray="2.2 2"/>
<line x1="417.5" y1="573.3" x2="417.5" y2="771" stroke="#5a5a5a" stroke-width="1" stroke-dasharray="2.2 2"/>
<line x1="441.1" y1="573.3" x2="441.1" y2="771" stroke="#5a5a5a" stroke-width="1" stroke-dasharray="2.2 2"/>
<line x1="464.8" y1="573.3" x2="464.8" y2="771" stroke="#5a5a5a" stroke-width="1" stroke-dasharray="2.2 2"/>
<line x1="485.9" y1="573.3" x2="485.9" y2="771" stroke="#5a5a5a" stroke-width="1" stroke-dasharray="2.2 2"/>
<line x1="507.3" y1="573.3" x2="507.3" y2="771" stroke="#5a5a5a" stroke-width="1" stroke-dasharray="2.2 2"/>
<line x1="528.7" y1="573.3" x2="528.7" y2="771" stroke="#5a5a5a" stroke-width="1" stroke-dasharray="2.2 2"/>
<line x1="545.7" y1="573.3" x2="545.7" y2="771" stroke="#5a5a5a" stroke-width="1" stroke-dasharray="2.2 2"/>
<line x1="569.1" y1="573.3" x2="569.1" y2="771" stroke="#5a5a5a" stroke-width="1" stroke-dasharray="2.2 2"/>
<line x1="590.2" y1="573.3" x2="590.2" y2="771" stroke="#5a5a5a" stroke-width="1" stroke-dasharray="2.2 2"/>
<line x1="609.1" y1="573.3" x2="609.1" y2="771" stroke="#5a5a5a" stroke-width="1" stroke-dasharray="2.2 2"/>
<line x1="630.5" y1="573.3" x2="630.5" y2="771" stroke="#5a5a5a" stroke-width="1" stroke-dasharray="2.2 2"/>
<line x1="649.3" y1="573.3" x2="649.3" y2="771" stroke="#5a5a5a" stroke-width="1" stroke-dasharray="2.2 2"/>
<line x1="671.0" y1="573.3" x2="671.0" y2="771" stroke="#5a5a5a" stroke-width="1" stroke-dasharray="2.2 2"/>
<line x1="692.3" y1="573.3" x2="692.3" y2="771" stroke="#5a5a5a" stroke-width="1" stroke-dasharray="2.2 2"/>
<line x1="710.9" y1="573.3" x2="710.9" y2="771" stroke="#5a5a5a" stroke-width="1" stroke-dasharray="2.2 2"/>
<line x1="732.6" y1="573.3" x2="732.6" y2="771" stroke="#5a5a5a" stroke-width="1" stroke-dasharray="2.2 2"/>
<line x1="751.4" y1="573.3" x2="751.4" y2="771" stroke="#5a5a5a" stroke-width="1" stroke-dasharray="2.2 2"/>
<line x1="772.5" y1="573.3" x2="772.5" y2="771" stroke="#5a5a5a" stroke-width="1" stroke-dasharray="2.2 2"/>
<line x1="791.5" y1="573.3" x2="791.5" y2="771" stroke="#5a5a5a" stroke-width="1" stroke-dasharray="2.2 2"/>
<line x1="812.7" y1="573.3" x2="812.7" y2="771" stroke="#5a5a5a" stroke-width="1" stroke-dasharray="2.2 2"/>
<line x1="834.0" y1="573.3" x2="834.0" y2="771" stroke="#5a5a5a" stroke-width="1" stroke-dasharray="2.2 2"/>
<line x1="855.4" y1="573.3" x2="855.4" y2="771" stroke="#5a5a5a" stroke-width="1" stroke-dasharray="2.2 2"/>
<line x1="876.6" y1="573.3" x2="876.6" y2="771" stroke="#5a5a5a" stroke-width="1" stroke-dasharray="2.2 2"/>
<line x1="897.7" y1="573.3" x2="897.7" y2="771" stroke="#5a5a5a" stroke-width="1" stroke-dasharray="2.2 2"/>
<line x1="917.0" y1="573.3" x2="917.0" y2="771" stroke="#5a5a5a" stroke-width="1" stroke-dasharray="2.2 2"/>
<line x1="938.4" y1="573.3" x2="938.4" y2="771" stroke="#5a5a5a" stroke-width="1" stroke-dasharray="2.2 2"/>
<line x1="959.5" y1="573.3" x2="959.5" y2="771" stroke="#5a5a5a" stroke-width="1" stroke-dasharray="2.2 2"/>
<line x1="980.7" y1="573.3" x2="980.7" y2="771" stroke="#5a5a5a" stroke-width="1" stroke-dasharray="2.2 2"/>
<line x1="999.5" y1="573.3" x2="999.5" y2="771" stroke="#5a5a5a" stroke-width="1" stroke-dasharray="2.2 2"/>
<g clip-path="url(#boxf)">
<polyline points="60.6,700 61.6,708 63.5,682 65.5,661 67.50,652.00 67.89,650.67 68.10,649.38 68.40,648.73 68.77,648.47 69.36,648.31 69.80,648.20 71.90,652.09 75.54,665.41 79.88,680.95 82.82,695.93 83.80,703.70 85.43,681.86 86.30,660.64 87.54,650.04 89.08,645.67 91.58,643.17 93.40,641.30 95.17,645.16 98.24,658.41 101.90,673.87 104.37,688.77 105.20,696.50 106.83,676.83 107.70,657.72 108.94,648.17 110.48,644.23 112.98,641.99 114.80,640.30 116.60,644.07 119.72,657.01 123.44,672.10 125.96,686.65 126.80,694.20 128.31,672.12 129.11,650.66 130.27,639.93 131.69,635.52 134.01,632.99 135.70,631.10 137.53,634.96 140.70,648.21 144.48,663.67 147.05,678.57 147.90,686.30 149.46,664.32 150.29,642.97 151.49,632.29 152.96,627.90 155.35,625.38 157.10,623.50 158.88,627.47 161.98,641.08 165.67,656.95 168.17,672.26 169.00,680.20 170.62,661.16 171.47,642.66 172.71,633.42 174.22,629.61 176.69,627.43 178.50,625.80 180.28,629.73 183.38,643.22 187.07,658.96 189.57,674.13 190.40,682.00 191.96,661.42 192.79,641.43 193.99,631.43 195.46,627.32 197.85,624.96 199.60,623.20 201.40,627.11 204.52,640.50 208.24,656.12 210.76,671.19 211.60,679.00 212.86,658.84 213.52,639.26 214.49,629.46 215.67,625.43 217.59,623.13 219.00,621.40 221.06,625.61 224.62,640.03 228.86,656.86 231.74,673.09 232.70,681.50 233.96,663.23 234.62,645.48 235.59,636.61 236.77,632.95 238.69,630.87 240.10,629.30 241.85,632.85 244.90,645.02 248.52,659.21 250.98,672.90 251.80,680.00 253.40,663.06 254.24,646.60 255.47,638.38 256.97,634.99 259.41,633.05 261.20,631.60 263.00,635.84 266.12,650.39 269.84,667.35 272.36,683.72 273.20,692.20 274.85,671.51 275.72,651.42 276.98,641.37 278.53,637.24 281.06,634.87 282.90,633.10 284.65,637.56 287.70,652.85 291.32,670.68 293.78,687.88 294.60,696.80 296.20,677.38 297.04,658.50 298.27,649.07 299.77,645.18 302.21,642.96 304.00,641.30 305.71,645.72 308.67,660.86 312.21,678.53 314.60,695.57 315.40,704.40 316.69,687.74 317.38,671.56 318.36,663.46 319.58,660.13 321.56,658.23 323.00,656.80 324.73,660.43 327.71,672.89 331.28,687.42 333.69,701.43 334.50,708.70 336.18,693.30 337.07,678.34 338.36,670.86 339.94,667.78 342.52,666.02 344.40,664.70 345.81,667.93 348.25,678.99 351.17,691.90 353.14,704.35 353.80,710.80 355.36,693.68 356.19,677.06 357.39,668.75 358.86,665.32 361.25,663.37 363.00,661.90 364.06,664.38 365.91,672.87 368.11,682.79 369.60,692.34 370.10,697.30 371.75,678.40 372.62,660.04 373.88,650.86 375.44,647.08 377.96,644.92 379.80,643.30 380.82,645.51 382.59,653.10 384.70,661.94 386.12,670.48 386.60,674.90 388.25,654.56 389.12,634.81 390.38,624.93 391.94,620.87 394.46,618.54 396.30,616.80 398.03,620.65 401.01,633.85 404.58,649.25 407.00,664.10 407.80,671.80 409.45,646.42 410.32,621.77 411.58,609.45 413.13,604.38 415.66,601.47 417.50,599.30 419.63,604.43 423.32,622.02 427.72,642.55 430.71,662.34 431.70,672.60 433.30,647.47 434.14,623.06 435.37,610.85 436.87,605.83 439.31,602.95 441.10,600.80 443.25,606.31 446.96,625.20 451.40,647.23 454.40,668.48 455.40,679.50 457.00,658.29 457.84,637.69 459.07,627.38 460.57,623.14 463.01,620.72 464.80,618.90 466.60,623.50 469.72,639.27 473.44,657.66 475.96,675.40 476.80,684.60 478.35,666.96 479.17,649.82 480.35,641.26 481.81,637.73 484.17,635.71 485.90,634.20 487.75,638.88 490.94,654.94 494.76,673.67 497.34,691.73 498.20,701.10 499.75,684.16 500.57,667.70 501.75,659.48 503.20,656.09 505.57,654.15 507.30,652.70 509.13,657.37 512.30,673.38 516.08,692.05 518.65,710.06 519.50,719.40 521.06,703.82 521.89,688.69 523.09,681.13 524.56,678.01 526.95,676.24 528.70,674.90 530.50,679.05 533.62,693.28 537.34,709.89 539.86,725.90 540.70,734.20 541.55,720.13 542.00,706.46 542.65,699.63 543.45,696.81 544.75,695.21 545.70,694.00 548.10,697.79 552.26,710.80 557.22,725.98 560.58,740.61 561.70,748.20 562.96,731.54 563.62,715.36 564.59,707.26 565.77,703.93 567.69,702.03 569.10,700.60 570.86,704.02 573.90,715.76 577.52,729.45 579.98,742.65 580.80,749.50 582.40,731.12 583.24,713.27 584.47,704.35 585.97,700.67 588.41,698.58 590.20,697.00 591.97,700.44 595.04,712.25 598.70,726.03 601.17,739.31 602.00,746.20 603.21,730.07 603.85,714.39 604.77,706.55 605.90,703.33 607.75,701.48 609.10,700.10 610.88,703.33 613.98,714.39 617.67,727.30 620.17,739.75 621.00,746.20 622.62,728.98 623.47,712.25 624.71,703.89 626.23,700.44 628.70,698.48 630.50,697.00 632.21,700.37 635.17,711.94 638.71,725.44 641.10,738.45 641.90,745.20 643.16,727.18 643.82,709.67 644.79,700.91 645.97,697.31 647.89,695.25 649.30,693.70 651.05,697.02 654.10,708.39 657.72,721.67 660.18,734.46 661.00,741.10 662.70,723.11 663.60,705.63 664.90,696.90 666.50,693.30 669.10,691.24 671.00,689.70 672.75,693.44 675.80,706.25 679.42,721.21 681.88,735.62 682.70,743.10 684.33,725.99 685.20,709.36 686.44,701.05 687.98,697.62 690.48,695.67 692.30,694.20 693.72,697.30 696.19,707.93 699.14,720.34 701.13,732.30 701.80,738.50 703.35,720.05 704.17,702.14 705.35,693.18 706.80,689.49 709.17,687.38 710.90,685.80 712.70,689.19 715.82,700.80 719.54,714.36 722.06,727.42 722.90,734.20 724.55,713.73 725.42,693.84 726.68,683.89 728.24,679.80 730.76,677.46 732.60,675.70 734.01,678.64 736.45,688.72 739.37,700.48 741.34,711.82 742.00,717.70 743.60,700.59 744.44,683.96 745.67,675.65 747.17,672.22 749.61,670.27 751.40,668.80 753.12,672.10 756.12,683.40 759.68,696.59 762.10,709.31 762.90,715.90 764.53,696.89 765.40,678.43 766.64,669.20 768.18,665.40 770.68,663.23 772.50,661.60 774.00,664.69 776.60,675.27 779.70,687.62 781.80,699.53 782.50,705.70 784.03,687.08 784.84,668.99 786.01,659.95 787.45,656.22 789.79,654.10 791.50,652.50 793.30,656.08 796.42,668.34 800.14,682.65 802.66,696.45 803.50,703.60 805.06,684.91 805.89,666.75 807.09,657.68 808.56,653.94 810.95,651.80 812.70,650.20 814.49,653.99 817.58,667.00 821.27,682.18 823.77,696.81 824.60,704.40 826.20,687.11 827.04,670.31 828.27,661.92 829.77,658.46 832.21,656.48 834.00,655.00 835.77,658.94 838.84,672.45 842.50,688.22 844.97,703.42 845.80,711.30 847.43,690.09 848.30,669.49 849.54,659.18 851.08,654.94 853.58,652.52 855.40,650.70 857.15,654.80 860.20,668.84 863.82,685.22 866.28,701.01 867.10,709.20 868.72,688.10 869.57,667.59 870.81,657.34 872.33,653.12 874.80,650.71 876.60,648.90 878.38,653.14 881.48,667.69 885.17,684.65 887.67,701.02 888.50,709.50 890.06,690.14 890.89,671.34 892.09,661.94 893.56,658.07 895.95,655.86 897.70,654.20 899.49,658.16 902.58,671.72 906.27,687.54 908.77,702.79 909.60,710.70 910.86,690.75 911.52,671.37 912.49,661.68 913.67,657.69 915.59,655.41 917.00,653.70 918.75,657.19 921.80,669.17 925.42,683.14 927.88,696.61 928.70,703.60 930.35,684.56 931.22,666.06 932.48,656.82 934.03,653.01 936.56,650.83 938.40,649.20 940.15,652.88 943.20,665.51 946.82,680.23 949.28,694.44 950.10,701.80 951.70,682.93 952.54,664.61 953.77,655.45 955.27,651.67 957.71,649.52 959.50,647.90 961.25,651.44 964.30,663.59 967.92,677.75 970.38,691.42 971.20,698.50 972.82,679.00 973.67,660.07 974.91,650.60 976.43,646.70 978.90,644.47 980.70,642.80 982.49,646.43 985.58,658.89 989.27,673.42 991.77,687.43 992.60,694.70 993.77,673.77 994.39,653.44 995.29,643.27 996.39,639.09 998.19,636.69 999.50,634.90 1000.70,636.52 1002.78,642.06 1005.26,648.53 1006.94,654.77 1007.50,658.00" fill="none" stroke="#000" stroke-width="1.4" stroke-linejoin="round"/>
</g>
<circle cx="69.8" cy="648.2" r="2.9" fill="#f00"/>
<circle cx="93.4" cy="641.3" r="2.9" fill="#f00"/>
<circle cx="114.8" cy="640.3" r="2.9" fill="#f00"/>
<circle cx="135.7" cy="631.1" r="2.9" fill="#f00"/>
<circle cx="157.1" cy="623.5" r="2.9" fill="#f00"/>
<circle cx="178.5" cy="625.8" r="2.9" fill="#f00"/>
<circle cx="199.6" cy="623.2" r="2.9" fill="#f00"/>
<circle cx="219.0" cy="621.4" r="2.9" fill="#f00"/>
<circle cx="240.1" cy="629.3" r="2.9" fill="#f00"/>
<circle cx="261.2" cy="631.6" r="2.9" fill="#f00"/>
<circle cx="282.9" cy="633.1" r="2.9" fill="#f00"/>
<circle cx="304.0" cy="641.3" r="2.9" fill="#f00"/>
<circle cx="323.0" cy="656.8" r="2.9" fill="#f00"/>
<circle cx="344.4" cy="664.7" r="2.9" fill="#f00"/>
<circle cx="363.0" cy="661.9" r="2.9" fill="#f00"/>
<circle cx="379.8" cy="643.3" r="2.9" fill="#f00"/>
<circle cx="396.3" cy="616.8" r="2.9" fill="#f00"/>
<circle cx="417.5" cy="599.3" r="2.9" fill="#f00"/>
<circle cx="441.1" cy="600.8" r="2.9" fill="#f00"/>
<circle cx="464.8" cy="618.9" r="2.9" fill="#f00"/>
<circle cx="485.9" cy="634.2" r="2.9" fill="#f00"/>
<circle cx="507.3" cy="652.7" r="2.9" fill="#f00"/>
<circle cx="528.7" cy="674.9" r="2.9" fill="#f00"/>
<circle cx="545.7" cy="694.0" r="2.9" fill="#f00"/>
<circle cx="569.1" cy="700.6" r="2.9" fill="#f00"/>
<circle cx="590.2" cy="697.0" r="2.9" fill="#f00"/>
<circle cx="609.1" cy="700.1" r="2.9" fill="#f00"/>
<circle cx="630.5" cy="697.0" r="2.9" fill="#f00"/>
<circle cx="649.3" cy="693.7" r="2.9" fill="#f00"/>
<circle cx="671.0" cy="689.7" r="2.9" fill="#f00"/>
<circle cx="692.3" cy="694.2" r="2.9" fill="#f00"/>
<circle cx="710.9" cy="685.8" r="2.9" fill="#f00"/>
<circle cx="732.6" cy="675.7" r="2.9" fill="#f00"/>
<circle cx="751.4" cy="668.8" r="2.9" fill="#f00"/>
<circle cx="772.5" cy="661.6" r="2.9" fill="#f00"/>
<circle cx="791.5" cy="652.5" r="2.9" fill="#f00"/>
<circle cx="812.7" cy="650.2" r="2.9" fill="#f00"/>
<circle cx="834.0" cy="655.0" r="2.9" fill="#f00"/>
<circle cx="855.4" cy="650.7" r="2.9" fill="#f00"/>
<circle cx="876.6" cy="648.9" r="2.9" fill="#f00"/>
<circle cx="897.7" cy="654.2" r="2.9" fill="#f00"/>
<circle cx="917.0" cy="653.7" r="2.9" fill="#f00"/>
<circle cx="938.4" cy="649.2" r="2.9" fill="#f00"/>
<circle cx="959.5" cy="647.9" r="2.9" fill="#f00"/>
<circle cx="980.7" cy="642.8" r="2.9" fill="#f00"/>
<circle cx="999.5" cy="634.9" r="2.9" fill="#f00"/>
<rect x="60.5" y="573.3" width="946.5" height="197.7" fill="none" stroke="#262626" stroke-width="1.2"/>
<line x1="60.5" y1="573.3" x2="69.5" y2="573.3" stroke="#262626" stroke-width="1.1"/><line x1="1007" y1="573.3" x2="998" y2="573.3" stroke="#262626" stroke-width="1.1"/>
<text x="54.0" y="577.7" font-size="12.3" text-anchor="end" fill="#262626" >4</text>
<line x1="60.5" y1="606.3" x2="69.5" y2="606.3" stroke="#262626" stroke-width="1.1"/><line x1="1007" y1="606.3" x2="998" y2="606.3" stroke="#262626" stroke-width="1.1"/>
<text x="54.0" y="610.7" font-size="12.3" text-anchor="end" fill="#262626" >3</text>
<line x1="60.5" y1="639.3" x2="69.5" y2="639.3" stroke="#262626" stroke-width="1.1"/><line x1="1007" y1="639.3" x2="998" y2="639.3" stroke="#262626" stroke-width="1.1"/>
<text x="54.0" y="643.7" font-size="12.3" text-anchor="end" fill="#262626" >2</text>
<line x1="60.5" y1="672.3" x2="69.5" y2="672.3" stroke="#262626" stroke-width="1.1"/><line x1="1007" y1="672.3" x2="998" y2="672.3" stroke="#262626" stroke-width="1.1"/>
<text x="54.0" y="676.7" font-size="12.3" text-anchor="end" fill="#262626" >1</text>
<line x1="60.5" y1="705.3" x2="69.5" y2="705.3" stroke="#262626" stroke-width="1.1"/><line x1="1007" y1="705.3" x2="998" y2="705.3" stroke="#262626" stroke-width="1.1"/>
<text x="54.0" y="709.7" font-size="12.3" text-anchor="end" fill="#262626" >0</text>
<line x1="60.5" y1="738.3" x2="69.5" y2="738.3" stroke="#262626" stroke-width="1.1"/><line x1="1007" y1="738.3" x2="998" y2="738.3" stroke="#262626" stroke-width="1.1"/>
<text x="54.0" y="742.7" font-size="12.3" text-anchor="end" fill="#262626" >−1</text>
<line x1="60.5" y1="771.3" x2="69.5" y2="771.3" stroke="#262626" stroke-width="1.1"/><line x1="1007" y1="771.3" x2="998" y2="771.3" stroke="#262626" stroke-width="1.1"/>
<text x="54.0" y="775.7" font-size="12.3" text-anchor="end" fill="#262626" >−2</text>
<line x1="60.5" y1="771" x2="60.5" y2="762" stroke="#262626" stroke-width="1.1"/><line x1="60.5" y1="573.3" x2="60.5" y2="582" stroke="#262626" stroke-width="1.1"/>
<text x="57.1" y="789.4" font-size="12.3" text-anchor="middle" fill="#262626" >120</text>
<line x1="178.8" y1="771" x2="178.8" y2="762" stroke="#262626" stroke-width="1.1"/><line x1="178.8" y1="573.3" x2="178.8" y2="582" stroke="#262626" stroke-width="1.1"/>
<text x="175.4" y="789.4" font-size="12.3" text-anchor="middle" fill="#262626" >125</text>
<line x1="297.1" y1="771" x2="297.1" y2="762" stroke="#262626" stroke-width="1.1"/><line x1="297.1" y1="573.3" x2="297.1" y2="582" stroke="#262626" stroke-width="1.1"/>
<text x="293.7" y="789.4" font-size="12.3" text-anchor="middle" fill="#262626" >130</text>
<line x1="415.4" y1="771" x2="415.4" y2="762" stroke="#262626" stroke-width="1.1"/><line x1="415.4" y1="573.3" x2="415.4" y2="582" stroke="#262626" stroke-width="1.1"/>
<text x="412.0" y="789.4" font-size="12.3" text-anchor="middle" fill="#262626" >135</text>
<line x1="533.8" y1="771" x2="533.8" y2="762" stroke="#262626" stroke-width="1.1"/><line x1="533.8" y1="573.3" x2="533.8" y2="582" stroke="#262626" stroke-width="1.1"/>
<text x="530.4" y="789.4" font-size="12.3" text-anchor="middle" fill="#262626" >140</text>
<line x1="652.1" y1="771" x2="652.1" y2="762" stroke="#262626" stroke-width="1.1"/><line x1="652.1" y1="573.3" x2="652.1" y2="582" stroke="#262626" stroke-width="1.1"/>
<text x="648.7" y="789.4" font-size="12.3" text-anchor="middle" fill="#262626" >145</text>
<line x1="770.4" y1="771" x2="770.4" y2="762" stroke="#262626" stroke-width="1.1"/><line x1="770.4" y1="573.3" x2="770.4" y2="582" stroke="#262626" stroke-width="1.1"/>
<text x="767.0" y="789.4" font-size="12.3" text-anchor="middle" fill="#262626" >150</text>
<line x1="888.7" y1="771" x2="888.7" y2="762" stroke="#262626" stroke-width="1.1"/><line x1="888.7" y1="573.3" x2="888.7" y2="582" stroke="#262626" stroke-width="1.1"/>
<text x="885.3" y="789.4" font-size="12.3" text-anchor="middle" fill="#262626" >155</text>
<line x1="1007.0" y1="771" x2="1007.0" y2="762" stroke="#262626" stroke-width="1.1"/><line x1="1007.0" y1="573.3" x2="1007.0" y2="582" stroke="#262626" stroke-width="1.1"/>
<text x="1003.6" y="789.4" font-size="12.3" text-anchor="middle" fill="#262626" >160</text>
<text x="60.5" y="564.0" font-size="12.3" text-anchor="start" fill="#262626" >x 10<tspan font-size="9" dy="-6">−3</tspan></text>
<text transform="translate(17.5,679.5) rotate(-90)" font-size="12.3" text-anchor="middle" fill="#262626">Δ[O<tspan font-size="8.5" dy="3">2</tspan><tspan dy="-3">Hb] [μM]</tspan></text>
<text x="534.3" y="817.0" font-size="12.5" text-anchor="middle" fill="#262626" >Time [s]</text>
<line x1="60.5" y1="573.5" x2="627.5" y2="482" stroke="#f02020" stroke-width="1.3"/>
<line x1="816.8" y1="482" x2="1007" y2="573.5" stroke="#f02020" stroke-width="1.3"/>
</svg></body></html>
